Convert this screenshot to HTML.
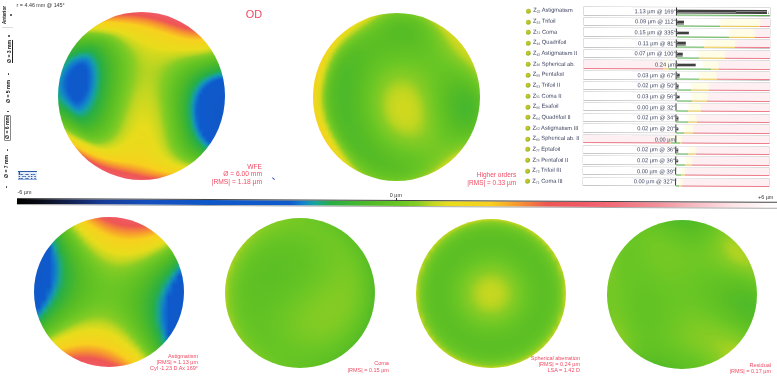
<!DOCTYPE html>
<html><head><meta charset="utf-8"><title>OD wavefront</title>
<style>
html,body{margin:0;padding:0;background:#fff}
body{width:777px;height:376px;position:relative;overflow:hidden;font-family:"Liberation Sans",sans-serif}
.map{position:absolute;border-radius:50%;overflow:hidden}
.map i{display:block;height:1px}
.t{position:absolute;white-space:nowrap;line-height:1}
.lab{position:absolute;text-align:right;color:#f04c64;white-space:nowrap}
.v{position:absolute;white-space:nowrap;font-weight:bold;font-size:5.1px;color:#222;transform-origin:0 0;transform:rotate(-90deg);line-height:1}
.dot{position:absolute;width:1.9px;height:1.9px;border-radius:50%;background:#333}
#tbl{position:absolute;left:0;top:0;width:777px;height:376px;transform-origin:583px 10px;transform:rotate(0.3deg)}
.row{position:absolute;left:0;height:9px}
.ic{position:absolute;left:526px;width:5px;height:5px;border-radius:50%;background:radial-gradient(circle at 40% 40%,#e8c030 0,#a8c028 45%,#78b030 100%)}
.nm{position:absolute;left:533.2px;font-size:5.7px;color:#39405c;white-space:nowrap;line-height:1}
.nm sub{font-size:3.4px;vertical-align:baseline;position:relative;top:.6px}
.bx{position:absolute;left:583.3px;width:187.6px;height:9.6px;border:1px solid #dcdcdc;border-bottom-color:#c6c6c6;border-radius:1.5px;box-sizing:border-box}
.val{position:absolute;font-size:5.7px;color:#3c4460;white-space:nowrap;line-height:1;text-align:right;right:0}
.bar{position:absolute;left:677.3px;height:3.7px;background:repeating-linear-gradient(180deg,#404040 0,#404040 1px,#858585 1px,#858585 1.7px)}
.zl{position:absolute;left:676.3px;width:1px;background:#333}
</style></head><body>
<div class="map" style="left:58.05px;top:11.50px;width:167.20px;height:168.30px"><i style="background:linear-gradient(90deg,#6cc724,#76c924,#81cb24,#98cf23,#b8d521,#cfd81f,#e3db1c,#ebda1c,#eed71d,#f2d51d,#f5d21e,#f8cc1f,#f7b925,#f7a62b,#f69331,#f3813c,#f17145,#ef614e,#ee5655,#ee5757,#ef575a,#ef585c,#ef585d,#ef585f,#ef5960,#f05963,#f05a65,#f05b67,#f05c68,#f05d69,#f05e6a,#f05e6a,#f05e6a,#f05d69,#f05b67,#f05a66,#f05964,#ef5961,#ef585f,#ef585c,#ef5759,#ee5655,#ef604f,#f16f46,#f37f3d,#f58f34,#f69e2d,#f7ad29)"></i><i style="background:linear-gradient(90deg,#69c624,#73c824,#7eca24,#90ce23,#b0d321,#cbd81f,#dfdb1d,#eadb1c,#edd81d,#f1d51d,#f5d31e,#f8cf1e,#f7bb24,#f7a82a,#f69630,#f4833b,#f27244,#f0634d,#ee5654,#ee5757,#ee5758,#ee5758,#ef575a,#ef585b,#ef585d,#ef585f,#f05962,#f05a65,#f05d69,#f05e6a,#f05e6a,#f05e6a,#f05e6a,#f05d69,#f05b67,#f05a65,#f05963,#ef5961,#ef585e,#ef585b,#ee5758,#ee5655,#f0634d,#f27344,#f4833b,#f69332,#f6a22c,#f7b128)"></i><i style="background:linear-gradient(90deg,#68c524,#70c824,#7bca24,#89cc24,#a9d222,#c6d71f,#dbda1d,#e9db1c,#edd81d,#f0d61d,#f4d31d,#f8d01e,#f7be24,#f7aa2a,#f6982f,#f48539,#f27443,#f0644c,#ee5853,#ee5753,#ee5654,#ee5655,#ee5656,#ee5757,#ef5759,#ef585b,#ef585e,#ef5961,#f05a64,#f05d69,#f05e6a,#f05e6a,#f05e6a,#f05d69,#f05b67,#f05a65,#f05963,#ef5960,#ef585e,#ef575b,#ee5757,#ee5753,#f0674b,#f27742,#f48738,#f69730,#f7a62b,#f7b526)"></i><i style="background:linear-gradient(90deg,#66c424,#6dc724,#78c924,#84cc24,#a1d122,#c1d620,#d6d91e,#e9dc1c,#ecd91d,#f0d61d,#f3d31d,#f7d11e,#f7c123,#f7ad29,#f69a2f,#f48738,#f27542,#f0684a,#f0684a,#f0674b,#f0644c,#ef614e,#ef5c50,#ee5654,#ee5656,#ee5758,#ef575a,#ef585d,#ef5961,#f05a64,#f05d69,#f05e6a,#f05e6a,#f05c68,#f05b67,#f05a65,#f05963,#ef5960,#ef585d,#ef575a,#ee5757,#ef5a52,#f16a49,#f37b3f,#f58b36,#f69b2e,#f7ab2a,#f7ba25)"></i><i style="background:linear-gradient(90deg,#65c424,#6ac624,#75c924,#81cb24,#99cf23,#bad520,#d1d91e,#e7dc1c,#ebd91c,#efd71d,#f3d41d,#f6d11e,#f8c422,#f7b028,#f69c2e,#f48937,#f27841,#f27841,#f27741,#f27642,#f27344,#f17046,#f16b48,#f0644c,#ef5d50,#ee5655,#ee5757,#ef575a,#ef585d,#ef5961,#f05a65,#f05e6a,#f05d69,#f05c68,#f05a66,#f05a64,#f05962,#ef595f,#ef585d,#ef5759,#ee5656,#ef5e50,#f16e46,#f37f3d,#f58f34,#f69f2d,#f7af28,#f7be24)"></i><i style="background:linear-gradient(90deg,#63c324,#68c624,#72c824,#7eca24,#91ce23,#b2d421,#cdd81f,#e2db1d,#ebda1c,#eed71d,#f2d41d,#f6d21e,#f8c721,#f7b227,#f69e2d,#f58b36,#f48838,#f48838,#f48639,#f4843a,#f3813c,#f37d3e,#f27841,#f17244,#f16a49,#ef624e,#ee5753,#ee5756,#ef575a,#ef585d,#ef5961,#f05a65,#f05d69,#f05c68,#f05a66,#f05a64,#f05962,#ef585f,#ef585c,#ef5759,#ee5655,#ef614e,#f17244,#f4833b,#f69431,#f6a42c,#f7b327,#f8c322)"></i><i style="background:linear-gradient(90deg,#62c224,#67c524,#6fc724,#7bca24,#89cc24,#aad222,#c8d71f,#deda1d,#eadb1c,#eed81d,#f1d51d,#f5d21e,#f8ca20,#f7b526,#f6a12d,#f6982f,#f6982f,#f69730,#f69531,#f69232,#f58f34,#f58b36,#f48639,#f37f3d,#f27841,#f16f46,#f0654c,#ee5952,#ee5756,#ef575a,#ef585d,#ef5961,#f05a66,#f05c68,#f05a66,#f05a64,#ef5961,#ef585e,#ef585b,#ee5758,#ee5654,#f0654c,#f27642,#f48738,#f6982f,#f7a82a,#f7b826,#f8c721)"></i><i style="background:linear-gradient(90deg,#61c124,#65c424,#6cc724,#77c924,#84cc24,#a2d122,#c3d620,#d9da1e,#e9db1c,#edd81d,#f1d51d,#f5d21e,#f8cd1f,#f7b826,#f7a72b,#f7a72b,#f7a62b,#f6a42c,#f6a22c,#f69f2d,#f69c2e,#f69830,#f69232,#f58c36,#f4843a,#f37c3f,#f17244,#f0664b,#ee5a52,#ee5756,#ef575a,#ef585e,#f05962,#f05a66,#f05a66,#f05963,#ef5961,#ef585e,#ef575b,#ee5757,#ee5853,#f06949,#f37a40,#f58b36,#f69c2e,#f7ac29,#f7bc24,#f8cc1f)"></i><i style="background:linear-gradient(90deg,#5fc124,#64c324,#69c624,#74c824,#81cb24,#99cf23,#bdd520,#d4d91e,#e8dc1c,#ecd91d,#f0d61d,#f4d31e,#f8d01e,#f7bb25,#f7b726,#f7b626,#f7b427,#f7b127,#f7af28,#f7ab29,#f7a72b,#f6a32c,#f69e2e,#f6982f,#f59033,#f48838,#f37e3d,#f27344,#f0674b,#ee5952,#ee5757,#ef575b,#ef585e,#f05963,#f05a65,#f05963,#ef5960,#ef585d,#ef575a,#ee5756,#ef5c51,#f16d47,#f37e3d,#f59033,#f6a12d,#f7b128,#f7c123,#f8d01e)"></i><i style="background:linear-gradient(90deg,#5ec024,#62c224,#67c524,#71c824,#7dca24,#91ce23,#b4d421,#cfd81e,#e6dc1c,#ecd91c,#efd61d,#f3d31d,#f7d01e,#f8c621,#f8c521,#f8c422,#f7c123,#f7be24,#f7bb25,#f7b726,#f7b327,#f7ae28,#f7a92a,#f6a32c,#f69c2e,#f69331,#f58a37,#f37f3d,#f27343,#f0664b,#ee5753,#ee5757,#ef585b,#ef585f,#f05963,#f05963,#ef5960,#ef585d,#ef5759,#ee5656,#ef5f4f,#f17145,#f4833b,#f69431,#f7a52b,#f7b626,#f8c621,#f7d11e)"></i><i style="background:linear-gradient(90deg,#5cbf24,#61c224,#66c424,#6ec724,#7aca24,#88cc24,#acd321,#cad81f,#e1db1d,#ebda1c,#efd71d,#f3d41d,#f7d11e,#f7d11e,#f7d01e,#f8d01e,#f8ce1f,#f8ca20,#f8c621,#f8c222,#f7be24,#f7b925,#f7b327,#f7ad29,#f7a62b,#f69e2d,#f69530,#f58b36,#f37f3d,#f27244,#f0644c,#ee5654,#ee5758,#ef585c,#ef595f,#f05962,#ef595f,#ef585c,#ef5759,#ee5655,#f0634c,#f27543,#f48738,#f6992f,#f7aa2a,#f7ba25,#f8cb20,#f6d11e)"></i><i style="background:linear-gradient(90deg,#5bbe24,#5fc124,#64c424,#6bc624,#77c924,#84cb24,#a3d122,#c5d71f,#dcda1d,#eadb1c,#eed81d,#f2d51d,#f5d31e,#f5d31e,#f5d21e,#f5d21e,#f6d11e,#f7d11e,#f8d01e,#f8cd1f,#f8c820,#f8c322,#f7bd24,#f7b726,#f7b028,#f7a82a,#f6a02d,#f69630,#f58b36,#f37e3d,#f17145,#ef624d,#ee5655,#ee5758,#ef585c,#ef5960,#ef585f,#ef585c,#ee5758,#ee5654,#f0674a,#f27940,#f58c36,#f69d2e,#f7ae28,#f7bf23,#f8d01e,#f5d21e)"></i><i style="background:linear-gradient(90deg,#59be24,#5ec024,#63c324,#68c624,#73c824,#80cb24,#9acf23,#c0d620,#d7d91e,#e9db1c,#edd81d,#f1d51d,#f2d51d,#f2d41d,#f3d41d,#f3d41d,#f4d31d,#f5d21e,#f6d21e,#f7d11e,#f8d01e,#f8cd1f,#f8c721,#f7c023,#f7b925,#f7b227,#f7a92a,#f6a02d,#f69630,#f48a37,#f37d3e,#f16e46,#ef5f4f,#ee5655,#ef5759,#ef585c,#ef585e,#ef585b,#ee5757,#ee5952,#f16b48,#f37e3e,#f59033,#f6a22c,#f7b327,#f8c422,#f7d11e,#f4d31e)"></i><i style="background:linear-gradient(90deg,#58bd25,#5dbf24,#61c224,#67c524,#70c724,#7dca24,#91ce23,#b7d421,#d2d91e,#e8dc1c,#ecd91d,#efd71d,#efd71d,#f0d61d,#f0d61d,#f1d51d,#f2d51d,#f3d41d,#f4d31d,#f5d21e,#f6d21e,#f7d11e,#f8d01e,#f8ca20,#f8c322,#f7bb25,#f7b327,#f7aa2a,#f6a02d,#f69531,#f48838,#f37a40,#f16c48,#ef5d50,#ee5656,#ef5759,#ef585c,#ef575a,#ee5756,#ef5d50,#f17046,#f4823b,#f69530,#f7a72b,#f7b825,#f8c920,#f6d11e,#f3d41d)"></i><i style="background:linear-gradient(90deg,#56bd26,#5bbf24,#60c124,#65c424,#6cc724,#79c924,#88cc24,#aed321,#cdd81f,#e5dc1c,#ecd91c,#edd91d,#edd81d,#edd81d,#eed81d,#efd71d,#f0d61d,#f1d51d,#f2d51d,#f3d41d,#f4d31e,#f5d21e,#f6d11e,#f8d01e,#f8cb1f,#f8c422,#f7bc24,#f7b327,#f7a92a,#f69f2d,#f69332,#f48639,#f27841,#f06a49,#ef5b51,#ee5656,#ef5759,#ef5759,#ee5656,#ef614e,#f27443,#f48738,#f69a2f,#f7ac29,#f7bd24,#f8ce1e,#f5d21e,#f2d41d)"></i><i style="background:linear-gradient(90deg,#54bc27,#5abe24,#5ec024,#63c324,#69c624,#76c924,#83cb24,#a5d122,#c7d71f,#e0db1d,#eada1c,#eada1c,#eada1c,#ebda1c,#ecd91c,#edd81d,#eed81d,#efd71d,#f0d61d,#f1d51d,#f2d41d,#f4d31d,#f5d21e,#f6d11e,#f7d01e,#f8cc1f,#f8c422,#f7bc24,#f7b227,#f7a82a,#f69d2e,#f59133,#f4843a,#f27642,#f0684a,#ef5a52,#ee5656,#ee5758,#ee5655,#f0664b,#f27940,#f58c36,#f69f2d,#f7b128,#f8c222,#f7d11e,#f4d31e,#f1d51d)"></i><i style="background:linear-gradient(90deg,#53bc27,#58bd25,#5dbf24,#62c224,#67c524,#72c824,#80cb24,#9bd023,#c2d620,#dbda1d,#e6dc1c,#e5dc1c,#e8dc1c,#e9db1c,#eadb1c,#ebda1c,#ecd91c,#edd81d,#eed71d,#f0d61d,#f1d51d,#f2d41d,#f3d31d,#f5d21e,#f6d21e,#f7d11e,#f8cc1f,#f8c422,#f7bb25,#f7b128,#f7a72b,#f69b2e,#f58f34,#f3813c,#f27443,#f0674a,#ef5b51,#ee5655,#ee5753,#f06a49,#f37d3e,#f59133,#f6a42c,#f7b626,#f8c821,#f6d11e,#f3d31d,#f0d61d)"></i><i style="background:linear-gradient(90deg,#51bb28,#56bd26,#5bbf24,#60c124,#66c424,#6fc724,#7cca24,#92ce23,#bad520,#d5d91e,#d6d91e,#d6d91e,#dada1d,#dfdb1d,#e6dc1c,#e9db1c,#eada1c,#ebd91c,#edd81d,#eed71d,#efd61d,#f1d51d,#f2d41d,#f3d31d,#f5d31e,#f6d21e,#f7d11e,#f8cc1f,#f8c322,#f7ba25,#f7b028,#f7a52b,#f6992f,#f58d35,#f3803c,#f27443,#f0684a,#ef5e4f,#ef5b51,#f16e46,#f4823b,#f69630,#f7a92a,#f7bb24,#f8cd1f,#f5d21e,#f2d41d,#efd61d)"></i><i style="background:linear-gradient(90deg,#4fba29,#54bc27,#5abe24,#5fc024,#64c324,#6bc624,#78c924,#88cc24,#b0d321,#c9d71f,#c6d71f,#c7d71f,#ccd81f,#d2d91e,#d9da1d,#e1db1d,#e8dc1c,#eadb1c,#ebda1c,#edd91d,#eed71d,#efd61d,#f1d51d,#f2d41d,#f3d41d,#f5d31e,#f6d21e,#f7d01e,#f8cb1f,#f8c222,#f7b825,#f7ae29,#f6a32c,#f69830,#f58b36,#f3803d,#f27543,#f16b48,#f0644c,#f27344,#f48738,#f69b2e,#f7ae29,#f7c123,#f8d01e,#f4d31e,#f1d51d,#eed71d)"></i><i style="background:linear-gradient(90deg,#4eba29,#52bb27,#58bd25,#5dc024,#62c224,#68c624,#75c824,#83cb24,#a6d222,#b3d421,#b0d321,#b4d421,#bdd620,#c5d720,#ccd81f,#d5d91e,#dedb1d,#e8dc1c,#eadb1c,#ebda1c,#edd81d,#eed71d,#f0d61d,#f1d51d,#f2d41d,#f3d31d,#f5d21e,#f6d11e,#f8d01e,#f8ca20,#f7c123,#f7b726,#f7ac29,#f6a12c,#f69630,#f58b36,#f3813c,#f27841,#f17145,#f27841,#f58c35,#f6a02d,#f7b327,#f8c621,#f7d11e,#f3d31d,#f0d61d,#edd81d)"></i><i style="background:linear-gradient(90deg,#4cb92a,#51bb28,#56bd26,#5bbf24,#61c224,#66c524,#71c824,#7fcb24,#9cd022,#98cf23,#97cf23,#9dd022,#a7d222,#b2d421,#c0d620,#c9d71f,#d4d91e,#dedb1d,#e8dc1c,#eadb1c,#ebd91c,#edd81d,#eed71d,#f0d61d,#f1d51d,#f2d41d,#f3d31d,#f5d21e,#f6d11e,#f8d01e,#f8c920,#f7bf23,#f7b526,#f7ab29,#f6a12d,#f69630,#f58c35,#f4843a,#f37d3e,#f37d3e,#f59232,#f7a62b,#f7b925,#f8cc1f,#f5d21e,#f2d41d,#efd71d,#ecd91d)"></i><i style="background:linear-gradient(90deg,#4ab92b,#4fba29,#54bc27,#5abe24,#5fc124,#65c424,#6dc724,#7bca24,#87cc24,#83cb24,#83cb24,#86cc24,#90ce23,#9dd022,#acd321,#bdd520,#c9d71f,#d5d91e,#e0db1d,#e9dc1c,#eada1c,#ecd91c,#edd81d,#efd71d,#f0d61d,#f1d51d,#f2d41d,#f4d31d,#f5d21e,#f6d11e,#f8d01e,#f8c821,#f7be24,#f7b427,#f7aa2a,#f6a12d,#f6982f,#f59034,#f48a37,#f48639,#f69730,#f7ab29,#f7be23,#f8d01e,#f4d31e,#f1d51d,#eed71d,#ebda1c)"></i><i style="background:linear-gradient(90deg,#49b82c,#4dba2a,#52bb27,#58bd25,#5dc024,#63c324,#69c624,#77c924,#7cca24,#79c924,#7aca24,#7dca24,#81cb24,#88cc24,#98cf23,#abd221,#bfd620,#ccd81f,#d8da1e,#e4db1c,#e9db1c,#ebda1c,#ecd91d,#edd81d,#efd71d,#f0d61d,#f1d51d,#f3d41d,#f4d31d,#f5d21e,#f7d11e,#f8cf1e,#f8c621,#f7bd24,#f7b427,#f7ab2a,#f6a22c,#f69b2e,#f69530,#f69232,#f69c2e,#f7b128,#f8c422,#f7d11e,#f3d31d,#f0d61d,#edd81d,#eada1c)"></i><i style="background:linear-gradient(90deg,#47b82d,#4cb92a,#50bb28,#56bd26,#5cbf24,#61c224,#67c524,#73c824,#72c824,#70c724,#71c824,#75c824,#79c924,#7fcb24,#86cc24,#99cf23,#afd321,#c3d620,#d0d81e,#dcda1d,#e8dc1c,#eadb1c,#ebda1c,#ecd91d,#eed81d,#efd71d,#f0d61d,#f1d51d,#f3d41d,#f4d31d,#f5d21e,#f7d11e,#f8cf1e,#f8c621,#f7bd24,#f7b527,#f7ad29,#f7a62b,#f6a02d,#f69e2e,#f6a22c,#f7b626,#f8ca20,#f6d21e,#f2d41d,#efd71d,#ecd91c,#e9db1c)"></i><i style="background:linear-gradient(90deg,#45b72e,#4ab92b,#4fba29,#54bc27,#5abe24,#5fc124,#65c424,#6ec724,#68c624,#68c524,#69c624,#6cc724,#71c824,#77c924,#7eca24,#88cc24,#a0d022,#b8d521,#c9d71f,#d6d91e,#e1db1d,#e9dc1c,#eada1c,#ecd91c,#edd81d,#eed71d,#efd71d,#f0d61d,#f2d51d,#f3d41d,#f4d31e,#f5d21e,#f7d11e,#f8ce1f,#f8c621,#f7be24,#f7b726,#f7b028,#f7ab29,#f7a92a,#f7a92a,#f7bc24,#f8d01e,#f4d31e,#f1d51d,#eed81d,#ebda1c,#e8dc1c)"></i><i style="background:linear-gradient(90deg,#43b72f,#48b82c,#4dba2a,#52bb28,#58bd25,#5ec024,#64c324,#66c524,#64c324,#64c324,#65c424,#67c524,#69c624,#6fc724,#78c924,#81cb24,#92ce23,#abd221,#c2d620,#cfd81f,#dbda1d,#e6dc1c,#e9db1c,#ebda1c,#ecd91c,#edd81d,#eed71d,#efd61d,#f1d61d,#f2d51d,#f3d41d,#f4d31e,#f5d21e,#f7d11e,#f8cf1e,#f8c721,#f7c023,#f7ba25,#f7b626,#f7b327,#f7b427,#f8c222,#f7d11e,#f3d31d,#f0d61d,#edd81d,#eadb1c,#e0db1d)"></i><i style="background:linear-gradient(90deg,#42b631,#46b72d,#4bb92b,#50bb28,#56bd26,#5cbf24,#62c224,#62c224,#60c124,#60c124,#61c224,#63c324,#65c424,#69c624,#71c824,#7bca24,#85cc24,#9fd022,#b8d521,#c9d71f,#d5d91e,#e0db1d,#e8dc1c,#eadb1c,#ebda1c,#ecd91d,#edd81d,#eed71d,#f0d61d,#f1d61d,#f2d51d,#f3d41d,#f4d31e,#f5d21e,#f7d11e,#f8d01e,#f8ca20,#f8c422,#f7c023,#f7be24,#f7be23,#f8c820,#f6d21e,#f2d41d,#efd71d,#ecd91c,#e9dc1c,#d9da1d)"></i><i style="background:linear-gradient(90deg,#40b532,#44b72f,#49b82b,#4eba29,#54bc27,#5abe24,#60c124,#5dc024,#5bbf24,#5cbf24,#5dc024,#5fc124,#62c224,#65c424,#6bc624,#75c924,#81cb24,#93ce23,#add321,#c3d620,#cfd81e,#dbda1d,#e5dc1c,#e9db1c,#eada1c,#ebd91c,#edd91d,#eed81d,#efd71d,#f0d61d,#f1d51d,#f2d51d,#f3d41d,#f4d31e,#f5d21e,#f6d11e,#f7d01e,#f8ce1f,#f8ca20,#f8c820,#f8c920,#f8cf1e,#f5d31e,#f1d51d,#eed81d,#eada1c,#e4db1c,#d2d91e)"></i><i style="background:linear-gradient(90deg,#3eb533,#43b630,#47b82c,#4cb92a,#52bb28,#58bd25,#5cbf24,#58bd25,#57bd25,#57bd25,#59be25,#5bbf24,#5ec024,#62c224,#67c524,#70c824,#7cca24,#88cc24,#a3d122,#bbd520,#cad71f,#d6d91e,#e0db1d,#e8dc1c,#eadb1c,#ebda1c,#ecd91c,#edd81d,#eed81d,#efd71d,#f0d61d,#f1d61d,#f2d51d,#f3d41d,#f4d31d,#f5d21e,#f6d21e,#f7d11e,#f7d11e,#f8d01e,#f7d01e,#f7d11e,#f3d31d,#f0d61d,#ecd91d,#e9db1c,#ddda1d,#cad81f)"></i><i style="background:linear-gradient(90deg,#3db435,#41b631,#45b72e,#4ab92b,#50bb29,#56bd26,#57bd25,#53bc27,#52bb28,#53bc27,#54bc27,#57bd25,#5bbe24,#5fc124,#64c424,#6cc724,#77c924,#83cb24,#99cf23,#b2d421,#c5d720,#d1d91e,#dbda1d,#e5dc1c,#e9db1c,#eadb1c,#ebda1c,#ecd91c,#edd81d,#eed81d,#efd71d,#f0d61d,#f1d61d,#f1d51d,#f2d41d,#f3d31d,#f4d31e,#f5d21e,#f5d21e,#f6d21e,#f6d21e,#f5d21e,#f2d41d,#efd71d,#ebda1c,#e8dc1c,#d5d91e,#c3d620)"></i><i style="background:linear-gradient(90deg,#3bb436,#3fb533,#43b72f,#49b82c,#4eba29,#54bc27,#52bb27,#4eba29,#4eba29,#4eba29,#50bb29,#53bc27,#57bd25,#5cbf24,#62c224,#68c524,#73c824,#7fcb24,#8fce23,#a9d222,#c0d620,#ccd81f,#d7d91e,#e0db1d,#e8dc1c,#e9db1c,#eada1c,#ebda1c,#ecd91d,#edd81d,#eed81d,#efd71d,#efd61d,#f0d61d,#f1d51d,#f2d51d,#f3d41d,#f3d41d,#f4d31d,#f4d31d,#f4d31d,#f3d41d,#f1d51d,#edd81d,#eadb1c,#e0db1d,#cdd81f,#b7d521)"></i><i style="background:linear-gradient(90deg,#39b337,#3db534,#42b631,#47b82d,#4cb92a,#51bb28,#4dba2a,#4ab92b,#49b82b,#4ab92b,#4cb92a,#4fba29,#53bc27,#5abe24,#60c124,#66c424,#6fc724,#7bca24,#87cc24,#a1d122,#b8d521,#c8d71f,#d3d91e,#dcda1d,#e5db1c,#e9dc1c,#eadb1c,#eada1c,#ebda1c,#ecd91d,#edd81d,#eed81d,#eed71d,#efd71d,#f0d61d,#f0d61d,#f1d51d,#f2d51d,#f2d41d,#f2d41d,#f2d51d,#f1d51d,#f0d61d,#ecd91d,#e9db1c,#d8da1e,#c5d71f,#aad222)"></i><i style="background:linear-gradient(90deg,#38b338,#3bb435,#40b532,#44b72f,#4ab92b,#4fba29,#48b82c,#45b72e,#45b72f,#45b72e,#47b82d,#4bb92b,#50bb28,#57bd25,#5ec024,#64c324,#6bc624,#78c924,#83cb24,#99cf23,#b1d321,#c4d720,#cfd81f,#d8da1e,#e1db1d,#e8dc1c,#e9db1c,#eadb1c,#ebda1c,#ebda1c,#ecd91c,#edd91d,#edd81d,#eed81d,#eed71d,#efd71d,#f0d61d,#f0d61d,#f0d61d,#f0d61d,#f0d61d,#efd61d,#eed71d,#ebda1c,#e4db1c,#d0d81e,#bbd520,#9cd022)"></i><i style="background:linear-gradient(90deg,#36b23a,#3ab437,#3eb534,#42b630,#48b82c,#49b82b,#43b630,#40b632,#40b532,#41b632,#43b630,#47b82d,#4dba2a,#54bc27,#5cbf24,#62c224,#68c624,#74c824,#80cb24,#92ce23,#aad221,#c0d620,#cbd81f,#d5d91e,#ddda1d,#e4db1c,#e8dc1c,#e9db1c,#eadb1c,#eada1c,#ebda1c,#ecd91c,#ecd91d,#edd91d,#edd81d,#eed81d,#eed71d,#eed71d,#efd71d,#efd71d,#eed71d,#eed81d,#ecd91d,#e9db1c,#dcda1d,#c8d71f,#add321,#8fcd23)"></i><i style="background:linear-gradient(90deg,#34b23b,#38b338,#3cb435,#40b632,#46b72e,#44b72f,#3eb533,#3cb435,#3bb435,#3cb435,#3fb533,#43b730,#4ab92b,#52bb28,#5abe24,#60c124,#67c524,#71c824,#7dca24,#8bcd24,#a4d122,#bad520,#c8d71f,#d1d91e,#dada1d,#e0db1d,#e6dc1c,#e8dc1c,#e9db1c,#eadb1c,#eada1c,#ebda1c,#ebda1c,#ecd91c,#ecd91c,#ecd91d,#edd81d,#edd81d,#edd81d,#edd81d,#edd91d,#ecd91c,#ebda1c,#e8dc1c,#d4d91e,#c0d620,#9fd022,#84cc24)"></i><i style="background:linear-gradient(90deg,#33b13c,#36b239,#3ab436,#3eb533,#43b72f,#3fb533,#3ab437,#38b338,#37b339,#38b338,#3ab436,#40b532,#47b82d,#4fba29,#57bd25,#5fc024,#65c424,#6ec724,#7aca24,#85cc24,#9ed022,#b4d421,#c4d720,#ced81f,#d6d91e,#ddda1d,#e3db1d,#e7dc1c,#e8dc1c,#e9db1c,#e9db1c,#eadb1c,#eada1c,#eada1c,#ebda1c,#ebda1c,#ebda1c,#ebd91c,#ebd91c,#ebda1c,#ebda1c,#eada1c,#e9db1c,#e0db1d,#cbd81f,#b1d321,#91ce23,#7eca24)"></i><i style="background:linear-gradient(90deg,#31b13d,#35b23b,#38b338,#3db435,#41b631,#3ab436,#35b23a,#33b23c,#32b13c,#33b23b,#37b339,#3cb435,#44b72f,#4dba2a,#55bc26,#5dc024,#64c324,#6bc624,#78c924,#83cb24,#98cf23,#afd321,#c1d620,#cbd81f,#d3d91e,#dada1d,#dfdb1d,#e4db1c,#e7dc1c,#e8dc1c,#e9dc1c,#e9db1c,#e9db1c,#e9db1c,#eadb1c,#eadb1c,#eadb1c,#eadb1c,#eadb1c,#eadb1c,#e9db1c,#e8dc1c,#e3db1c,#d7da1e,#c2d620,#a2d122,#85cc24,#79c924)"></i><i style="background:linear-gradient(90deg,#30b03e,#33b13c,#37b339,#3bb436,#3eb533,#36b23a,#31b13d,#2fb03f,#2eb03f,#2fb03f,#33b13c,#39b337,#42b631,#4bb92b,#53bc27,#5bbf24,#62c224,#69c624,#75c924,#81cb24,#93ce23,#aad222,#bed620,#c8d71f,#d1d81e,#d7d91e,#dcda1d,#e0db1d,#e3db1c,#e6dc1c,#e7dc1c,#e8dc1c,#e8dc1c,#e8dc1c,#e8dc1c,#e8dc1c,#e9dc1c,#e8dc1c,#e8dc1c,#e8dc1c,#e5db1c,#e0db1d,#d8da1e,#ced81f,#b5d421,#93ce23,#7fcb24,#73c824)"></i><i style="background:linear-gradient(90deg,#2eb03f,#31b13d,#35b23a,#39b337,#39b337,#31b13d,#2db040,#2baf42,#2aaf42,#2baf41,#2fb03e,#37b339,#3fb532,#49b82c,#51bb28,#5abe24,#61c224,#68c524,#73c824,#7fca24,#8ecd23,#a5d122,#b9d520,#c6d71f,#ced81f,#d4d91e,#d9da1d,#ddda1d,#e0db1d,#e2db1d,#e3db1d,#e4db1c,#e4db1c,#e4db1c,#e4db1c,#e3db1c,#e3db1d,#e2db1d,#e0db1d,#ddda1d,#dada1d,#d4d91e,#cdd81f,#c3d620,#a6d122,#85cc24,#79c924,#6dc724)"></i><i style="background:linear-gradient(90deg,#2db040,#30b03e,#33b13c,#37b339,#35b23b,#2db040,#29ae43,#27ad4a,#26ad4e,#28ae46,#2caf41,#34b23b,#3db534,#47b82d,#50bb29,#58bd25,#60c124,#67c524,#71c824,#7dca24,#89cd24,#a1d122,#b5d421,#c3d720,#cbd81f,#d2d91e,#d7d91e,#dada1d,#dcda1d,#deda1d,#dfdb1d,#dfdb1d,#dedb1d,#deda1d,#ddda1d,#dcda1d,#dada1d,#d8da1e,#d6d91e,#d3d91e,#cfd81f,#c9d71f,#c2d620,#b3d421,#96cf23,#7fcb24,#73c824,#68c624)"></i><i style="background:linear-gradient(90deg,#2baf41,#2eb03f,#31b13d,#35b23a,#30b13e,#29ae43,#25ac53,#23ab5f,#22ab63,#24ac58,#29ae43,#32b13d,#3bb436,#45b72e,#4eba29,#57bd25,#5fc124,#66c424,#6fc724,#7bca24,#86cc24,#9dd022,#b1d321,#c1d620,#c9d71f,#cfd81e,#d4d91e,#d7d91e,#d9da1d,#dada1d,#dada1d,#dada1d,#d9da1e,#d8da1e,#d6d91e,#d4d91e,#d2d91e,#d0d81e,#cdd81f,#c9d71f,#c4d720,#bdd620,#b0d321,#a0d022,#86cc24,#79c924,#6dc724,#66c424)"></i><i style="background:linear-gradient(90deg,#2aaf42,#2daf40,#30b03e,#33b23c,#2caf41,#25ac54,#21aa67,#1fa973,#1ea976,#21aa6a,#27ad4b,#2fb03f,#39b337,#43b630,#4dba2a,#56bd26,#5ec024,#65c424,#6dc724,#79c924,#84cc24,#99cf23,#add321,#bed620,#c7d71f,#cdd81f,#d1d91e,#d4d91e,#d6d91e,#d7d91e,#d6d91e,#d5d91e,#d4d91e,#d2d91e,#cfd81e,#cdd81f,#cad71f,#c7d71f,#c3d620,#bed620,#b5d421,#abd221,#9ed022,#8dcd23,#80cb24,#73c824,#68c624,#63c324)"></i><i style="background:linear-gradient(90deg,#29ae43,#2baf42,#2eb03f,#31b13d,#28ae45,#21aa67,#1da87a,#1ba787,#1ba789,#1da87a,#24ac58,#2db040,#37b339,#41b631,#4bb92b,#54bc27,#5dbf24,#64c324,#6bc724,#78c924,#83cb24,#96cf23,#aad222,#bbd520,#c5d71f,#cbd81f,#cfd81e,#d2d91e,#d3d91e,#d3d91e,#d2d91e,#d1d91e,#cfd81f,#ccd81f,#c9d71f,#c6d71f,#c2d620,#bcd520,#b5d421,#add321,#a3d122,#98cf23,#8bcd24,#81cb24,#79c924,#6dc724,#65c424,#60c124)"></i><i style="background:linear-gradient(90deg,#27ae47,#2aaf43,#2daf41,#2eb03f,#24ac59,#1ea879,#1aa68d,#17a59a,#17a59b,#1aa689,#22ab63,#2baf42,#35b23a,#3fb532,#4ab92b,#53bc27,#5cbf24,#63c324,#6ac624,#76c924,#81cb24,#93ce23,#a7d222,#b8d521,#c3d620,#c9d71f,#cdd81f,#cfd81e,#d0d81e,#d0d81e,#cfd81f,#cdd81f,#cad71f,#c6d71f,#c3d620,#bdd620,#b6d421,#aed321,#a5d122,#9cd023,#91ce23,#86cc24,#80cb24,#7aca24,#73c824,#68c524,#62c224,#5dc024)"></i><i style="background:linear-gradient(90deg,#26ad4e,#28ae44,#2baf42,#2aaf42,#20aa6c,#1aa68b,#16a49f,#159da8,#159ea8,#18a597,#20a96e,#29ae43,#33b23c,#3eb534,#48b82c,#52bb28,#5bbe24,#62c224,#69c624,#75c824,#80cb24,#90ce23,#a4d122,#b5d421,#c2d620,#c7d71f,#cbd81f,#cdd81f,#ced81f,#cdd81f,#cbd81f,#c8d71f,#c5d720,#c1d620,#bad520,#b1d321,#a9d222,#9fd022,#95cf23,#8bcd24,#83cb24,#7eca24,#79c924,#73c824,#6bc624,#65c424,#5fc124,#5abe24)"></i><i style="background:linear-gradient(90deg,#25ac55,#27ad49,#2aae43,#26ad4c,#1da87f,#17a59b,#159bac,#1494b4,#1496b3,#16a2a2,#1ea878,#28ae47,#32b13d,#3cb435,#47b82d,#51bb28,#5abe24,#61c224,#68c624,#74c824,#7fcb24,#8dcd24,#a2d122,#b3d421,#c0d620,#c6d71f,#c9d71f,#cbd81f,#cbd81f,#cad71f,#c8d71f,#c4d720,#c0d620,#b8d521,#afd321,#a6d122,#9bd023,#91ce23,#86cc24,#81cb24,#7cca24,#77c924,#72c824,#6bc624,#67c524,#62c224,#5cbf24,#56bd26)"></i><i style="background:linear-gradient(90deg,#24ac5b,#26ad50,#28ae44,#23ab60,#19a690,#159ea8,#1492b7,#138bc0,#138ebd,#159caa,#1ca782,#26ad4f,#30b13e,#3bb436,#46b72d,#50bb28,#59be24,#61c224,#68c524,#73c824,#7eca24,#8bcd24,#a0d022,#b1d321,#bed620,#c4d720,#c7d71f,#c9d71f,#c9d71f,#c7d71f,#c4d720,#c0d620,#b9d521,#afd321,#a5d122,#9acf23,#8fcd23,#85cc24,#80cb24,#7bca24,#76c924,#70c724,#6ac624,#66c524,#63c324,#5ec024,#59be25,#53bc27)"></i><i style="background:linear-gradient(90deg,#22ab61,#24ac57,#27ad4b,#1fa972,#16a4a0,#1495b3,#1389c3,#1283cb,#1387c6,#1497b1,#1aa68b,#24ac57,#2fb03f,#3ab437,#45b72e,#4fba29,#58bd25,#60c124,#67c524,#72c824,#7dca24,#89cc24,#9ed022,#afd321,#bbd520,#c3d620,#c6d71f,#c7d71f,#c6d71f,#c4d720,#c1d620,#bad520,#b1d321,#a7d222,#9bd023,#8fce23,#84cc24,#7fcb24,#7aca24,#74c824,#6fc724,#69c624,#66c424,#63c324,#5fc124,#5bbf24,#55bc26,#4fba29)"></i><i style="background:linear-gradient(90deg,#21aa67,#23ab5e,#25ac52,#1ca783,#159cab,#138dbe,#1281cc,#117bcc,#1280cc,#1492b7,#18a593,#23ab5f,#2eb040,#39b337,#44b72f,#4eba29,#58bd25,#60c124,#67c524,#71c824,#7cca24,#87cc24,#9cd022,#add321,#b9d520,#c1d620,#c4d720,#c5d71f,#c4d720,#c2d620,#bdd520,#b4d421,#aad222,#9ed022,#91ce23,#85cc24,#80cb24,#7ac924,#74c824,#6ec724,#69c624,#66c424,#62c224,#5fc124,#5cbf24,#58bd25,#51bb28,#4cb92a)"></i><i style="background:linear-gradient(90deg,#20aa6d,#22ab64,#24ac5a,#18a594,#1494b5,#1285c8,#1178cc,#1073cc,#1179cc,#138dbd,#17a59b,#21aa66,#2caf41,#38b338,#43b630,#4dba2a,#57bd25,#5fc124,#66c424,#70c724,#7cca24,#86cc24,#9ad023,#abd221,#b8d521,#c0d620,#c3d620,#c4d720,#c2d620,#bfd620,#b8d521,#aed321,#a3d122,#96cf23,#88cc24,#81cb24,#7bca24,#75c824,#6ec724,#68c624,#65c424,#62c224,#5fc124,#5cbf24,#58bd25,#54bc27,#4eba2a,#48b82c)"></i><i style="background:linear-gradient(90deg,#1fa973,#21aa6a,#22ab64,#16a2a2,#138dbe,#127dcc,#1070cc,#106bcc,#1174cc,#1389c3,#16a3a1,#20aa6c,#2baf41,#37b339,#42b630,#4dba2a,#57bd26,#5fc124,#66c424,#70c724,#7bca24,#85cc24,#99cf23,#aad222,#b6d421,#bed620,#c2d620,#c2d620,#c0d620,#bbd520,#b3d421,#a8d222,#9cd023,#8ecd23,#83cb24,#7dca24,#76c924,#6fc724,#69c624,#65c424,#62c224,#5fc124,#5bbf24,#58bd25,#54bc27,#50bb29,#4ab92b,#44b72f)"></i><i style="background:linear-gradient(90deg,#1ea878,#1fa970,#1ea975,#159bac,#1286c7,#1175cc,#0f68cc,#0f64cc,#106fcc,#1285c8,#159fa6,#1fa972,#2aaf42,#36b23a,#41b631,#4cb92a,#56bd26,#5ec024,#65c424,#6fc724,#7bca24,#85cc24,#98cf23,#a8d222,#b5d421,#bdd520,#c0d620,#c1d620,#bed620,#b7d421,#aed321,#a3d122,#95cf23,#86cc24,#7fcb24,#79c924,#72c824,#6ac624,#66c424,#62c324,#5fc124,#5bbf24,#57bd25,#53bc27,#4fba29,#4bb92b,#46b72e,#40b532)"></i><i style="background:linear-gradient(90deg,#1da87d,#1ea976,#1ba784,#1493b6,#1280cc,#106ecc,#0f61cc,#0e5ecc,#106acc,#1282cc,#159caa,#1ea877,#2aae43,#35b23a,#41b631,#4cb92a,#56bd26,#5ec024,#65c424,#6fc724,#7aca24,#84cc24,#97cf23,#a7d222,#b4d421,#bbd520,#bfd620,#bfd620,#bbd520,#b4d421,#aad222,#9dd022,#8ecd23,#83cb24,#7cca24,#75c824,#6dc724,#67c524,#63c324,#60c124,#5cbf24,#58bd25,#53bc27,#4fba29,#4bb92b,#47b82d,#41b631,#3bb435)"></i><i style="background:linear-gradient(90deg,#1ca782,#1da87c,#19a593,#138dbe,#1179cc,#0f67cc,#0e5acc,#0e5acc,#0f66cc,#127ecc,#1599ae,#1da87c,#29ae43,#34b23b,#40b632,#4bb92b,#55bc26,#5ec024,#65c424,#6ec724,#7aca24,#84cc24,#96cf23,#a7d222,#b3d421,#bad520,#bdd620,#bcd520,#b8d521,#b0d321,#a5d122,#98cf23,#88cc24,#80cb24,#79c924,#71c824,#69c624,#65c424,#61c224,#5dbf24,#58bd25,#54bc27,#4fba29,#4bb92b,#46b82d,#42b630,#3db534,#37b339)"></i><i style="background:linear-gradient(90deg,#1ba787,#1ca781,#16a3a1,#1386c6,#1073cc,#0f60cc,#0e5acc,#0e5acc,#0f63cc,#117bcc,#1497b1,#1ca780,#28ae44,#34b23b,#40b532,#4bb92b,#55bc26,#5ec024,#65c424,#6ec724,#7ac924,#84cc24,#96cf23,#a6d222,#b2d421,#b9d520,#bcd520,#bad520,#b5d421,#add321,#a1d122,#93ce23,#84cc24,#7dca24,#75c924,#6dc724,#67c524,#62c224,#5ec024,#5abe24,#55bc26,#50bb29,#4bb92b,#46b72d,#42b631,#3db534,#39b338,#33b13c)"></i><i style="background:linear-gradient(90deg,#1aa68c,#1ba786,#159daa,#1280cc,#106dcc,#0e5acc,#0e5acc,#0e5acc,#0f60cc,#1178cc,#1494b4,#1ba784,#27ae47,#33b23c,#3fb533,#4ab92b,#55bc26,#5dc024,#65c424,#6ec724,#7ac924,#84cc24,#95cf23,#a5d122,#b1d321,#b8d521,#bad520,#b9d521,#b3d421,#aad222,#9dd022,#8ecd23,#82cb24,#7aca24,#72c824,#69c624,#65c424,#60c124,#5cbf24,#56bd26,#51bb28,#4cb92a,#47b82d,#42b631,#3db534,#39b338,#34b23b,#2fb03f)"></i><i style="background:linear-gradient(90deg,#19a690,#1aa68b,#1496b2,#117bcc,#0f67cc,#0e5acc,#0e5acc,#0e5acc,#0e5dcc,#1176cc,#1492b7,#1ba787,#27ad4a,#33b13c,#3fb533,#4ab92b,#54bc27,#5dc024,#65c424,#6dc724,#79c924,#84cb24,#95cf23,#a5d122,#b1d321,#b7d421,#b9d520,#b7d421,#b1d321,#a7d222,#9acf23,#89cd24,#80cb24,#78c924,#6fc724,#67c524,#63c324,#5ec024,#59be25,#53bc27,#4dba2a,#48b82c,#42b630,#3db534,#38b338,#34b23b,#30b03e,#2aaf42)"></i><i style="background:linear-gradient(90deg,#18a594,#19a68f,#1490ba,#1176cc,#0f61cc,#0e5acc,#0e5acc,#0e5acc,#0e5acc,#1174cc,#1491b9,#1aa68a,#26ad4d,#32b13c,#3eb533,#4ab92b,#54bc27,#5dc024,#64c424,#6dc724,#79c924,#84cb24,#95cf23,#a5d122,#b0d321,#b7d421,#b8d521,#b6d421,#afd321,#a4d122,#96cf23,#86cc24,#7eca24,#75c924,#6cc724,#66c424,#61c224,#5cbf24,#56bd26,#50bb29,#4ab92b,#44b72f,#3eb534,#38b338,#33b23b,#2fb03f,#2baf42,#26ad4e)"></i><i style="background:linear-gradient(90deg,#18a598,#18a593,#138bc1,#1071cc,#0e5ccc,#0e5acc,#0e5acc,#0e5acc,#0e5acc,#1072cc,#148fbb,#1aa68d,#26ad4f,#32b13c,#3eb533,#4ab92b,#54bc27,#5dc024,#64c424,#6dc724,#79c924,#84cb24,#95cf23,#a5d122,#b0d321,#b6d421,#b7d521,#b4d421,#add321,#a1d122,#93ce23,#84cc24,#7cca24,#73c824,#69c624,#64c324,#5fc124,#59be24,#53bc27,#4dba2a,#46b72d,#40b532,#39b337,#34b23b,#2fb03f,#2aaf42,#27ad4b,#22aa65)"></i><i style="background:linear-gradient(90deg,#17a59b,#18a597,#1286c7,#106dcc,#0e5acc,#0e5acc,#0e5acc,#0e5acc,#0e5acc,#1070cc,#138ebd,#19a68f,#26ad50,#32b13d,#3eb534,#4ab92b,#54bc27,#5dc024,#64c424,#6dc724,#79c924,#84cc24,#95cf23,#a5d122,#b0d321,#b6d421,#b7d421,#b3d421,#abd221,#9fd022,#8fce23,#82cb24,#7ac924,#70c724,#67c524,#62c224,#5dbf24,#57bd25,#50bb28,#49b82b,#42b630,#3bb435,#35b23a,#2fb03f,#2aaf43,#25ad51,#22ab63,#1da87c)"></i><i style="background:linear-gradient(90deg,#16a49f,#16a49f,#1281cc,#0f69cc,#0e5acc,#0e5acc,#0e5acb,#0e5acc,#0e5acc,#106fcc,#138dbe,#19a691,#25ac52,#32b13d,#3eb534,#4ab92b,#54bc27,#5dc024,#64c424,#6dc724,#7ac924,#84cc24,#95cf23,#a5d122,#b0d321,#b6d421,#b6d421,#b2d421,#a9d222,#9dd022,#8ccd24,#81cb24,#78c924,#6ec724,#66c424,#61c224,#5bbf24,#54bc27,#4dba2a,#46b72d,#3fb533,#37b338,#31b13d,#2baf42,#25ac53,#21aa6a,#1da87c,#19a593)"></i><i style="background:linear-gradient(90deg,#16a3a1,#159fa6,#117dcc,#0f65cc,#0e5acc,#0e5acc,#0e5acb,#0e5acc,#0e5acc,#106ecc,#138cc0,#19a692,#25ac53,#31b13d,#3eb534,#4ab92b,#54bc27,#5dc024,#65c424,#6ec724,#7ac924,#84cc24,#96cf23,#a6d122,#b0d321,#b5d421,#b6d421,#b1d321,#a8d222,#9bd023,#89cd24,#7fcb24,#76c924,#6bc724,#65c424,#5fc124,#59be24,#52bb28,#4ab92b,#43b630,#3bb436,#33b23b,#2caf41,#26ad4e,#20aa6b,#1ca783,#18a594,#159fa7)"></i><i style="background:linear-gradient(90deg,#16a2a3,#159aac,#1179cc,#0f62cc,#0e5acc,#0e5acb,#0e5acb,#0e5acc,#0e5acc,#106dcc,#138bc0,#19a593,#25ac53,#31b13d,#3eb534,#4ab92b,#54bc27,#5dc024,#65c424,#6ec724,#7aca24,#84cc24,#97cf23,#a6d222,#b0d321,#b6d421,#b5d421,#b0d321,#a7d222,#99cf23,#87cc24,#7eca24,#74c824,#69c624,#64c324,#5ec024,#57bd25,#4fba29,#48b82c,#3fb532,#37b339,#2fb03e,#28ae44,#21aa65,#1ca783,#17a49c,#159da9,#1492b7)"></i><i style="background:linear-gradient(90deg,#16a0a5,#1496b2,#1175cc,#0e5ecc,#0e5acc,#0e5acb,#0e5acb,#0e5acc,#0e5acc,#106ccc,#138bc1,#18a594,#25ac54,#31b13d,#3eb534,#4ab92b,#54bc27,#5dc024,#65c424,#6ec724,#7aca24,#85cc24,#97cf23,#a7d222,#b1d321,#b6d421,#b5d421,#b0d321,#a6d122,#97cf23,#85cc24,#7cca24,#72c824,#68c624,#62c224,#5cbf24,#55bc26,#4dba2a,#45b72e,#3cb435,#34b23b,#2caf41,#24ac59,#1da87c,#17a49b,#1599ae,#1490ba,#1286c7)"></i><i style="background:linear-gradient(90deg,#159fa6,#1492b7,#1072cc,#0e5ccc,#0e5acc,#0e5acb,#0e5acb,#0e5acc,#0e5acc,#106ccc,#138ac1,#18a594,#25ac54,#31b13d,#3eb534,#4ab92b,#54bc27,#5dc024,#65c424,#6fc724,#7bca24,#85cc24,#98cf23,#a7d222,#b1d321,#b6d421,#b5d421,#afd321,#a4d122,#95cf23,#84cc24,#7bca24,#71c824,#67c524,#61c224,#5bbe24,#53bc27,#4bb92b,#42b631,#39b337,#30b13e,#28ae45,#20a96e,#18a593,#159aad,#138cbf,#1283cb,#1179cc)"></i><i style="background:linear-gradient(90deg,#159ea7,#148fbb,#1070cc,#0e5acc,#0e5acc,#0e5acb,#0e5acb,#0e5acb,#0e5acc,#106bcc,#138ac1,#18a594,#25ac54,#31b13d,#3eb534,#4ab92b,#54bc27,#5ec024,#65c424,#6fc724,#7bca24,#85cc24,#99cf23,#a8d222,#b2d421,#b6d421,#b5d421,#afd321,#a4d122,#94ce23,#83cb24,#7ac924,#6fc724,#66c424,#60c124,#59be24,#51bb28,#48b82c,#3fb533,#36b23a,#2daf40,#24ac59,#1ca783,#159fa7,#138dbd,#127fcc,#1175cc,#106ccc)"></i><i style="background:linear-gradient(90deg,#159ea8,#138cbf,#106ecc,#0e5acc,#0e5acc,#0e5acb,#0e5acb,#0e5acb,#0e5acc,#106bcc,#138ac1,#18a593,#25ac53,#32b13d,#3eb533,#4ab92b,#55bc26,#5ec024,#65c424,#6fc724,#7cca24,#86cc24,#9acf23,#a9d222,#b3d421,#b7d421,#b5d421,#afd321,#a3d122,#92ce23,#83cb24,#79c924,#6ec724,#65c424,#5fc124,#58bd25,#4fba29,#46b72d,#3cb435,#33b13c,#29ae43,#20aa6c,#18a598,#1493b6,#1281cc,#1072cc,#0f67cc,#0e5fcc)"></i><i style="background:linear-gradient(90deg,#159da9,#1389c2,#106ccc,#0e5acc,#0e5acc,#0e5acb,#0e5acb,#0e5acb,#0e5acc,#106ccc,#138bc1,#19a593,#25ac52,#32b13d,#3eb533,#4ab92b,#55bc26,#5ec024,#65c424,#70c724,#7cca24,#87cc24,#9bd023,#aad221,#b4d421,#b7d521,#b6d421,#aed321,#a2d122,#91ce23,#82cb24,#78c924,#6cc724,#64c424,#5ec024,#56bd26,#4dba2a,#44b72f,#3ab437,#30b03e,#26ad4e,#1ca87f,#159da9,#1387c5,#1174cc,#0f64cc,#0e5acc,#0e5acc)"></i><i style="background:linear-gradient(90deg,#159da9,#1387c5,#106acc,#0e5acc,#0e5acc,#0e5acb,#0e5acb,#0e5acb,#0e5acc,#106ccc,#138bc0,#19a692,#25ad51,#32b13c,#3fb533,#4ab92b,#55bc26,#5ec024,#66c424,#70c824,#7dca24,#88cc24,#9cd022,#abd221,#b5d421,#b8d521,#b6d421,#aed321,#a2d122,#90ce23,#81cb24,#77c924,#6bc624,#64c324,#5dbf24,#55bc26,#4bb92a,#42b631,#37b339,#2db040,#23ab5f,#19a692,#1493b7,#117ccc,#0f67cc,#0e5acc,#0e5acc,#0e5acc)"></i><i style="background:linear-gradient(90deg,#159daa,#1286c7,#1069cc,#0e5acc,#0e5acc,#0e5acb,#0e5acb,#0e5acb,#0e5acc,#106dcc,#138cbf,#19a690,#26ad50,#32b13c,#3fb533,#4bb92b,#55bc26,#5ec024,#66c424,#71c824,#7dca24,#89cd24,#9ed022,#add321,#b6d421,#b9d520,#b6d421,#aed321,#a1d122,#8fce23,#80cb24,#76c924,#6ac624,#63c324,#5cbf24,#53bc27,#4ab92b,#3fb532,#35b23a,#2aaf42,#1fa970,#16a2a3,#1388c4,#1070cc,#0e5bcc,#0e5acc,#0e5acc,#0e5acb)"></i><i style="background:linear-gradient(90deg,#159daa,#1284c9,#0f69cc,#0e5acc,#0e5acb,#0e5acb,#0e5acb,#0e5acc,#0e5acc,#106dcc,#138dbe,#19a68f,#26ad4e,#33b13c,#3fb533,#4bb92b,#56bd26,#5fc024,#66c524,#71c824,#7eca24,#8bcd24,#9fd022,#aed321,#b7d421,#bad520,#b7d421,#afd321,#a1d122,#8ecd23,#80cb24,#75c824,#69c624,#62c224,#5bbe24,#52bb28,#48b82c,#3db534,#32b13c,#27ae47,#1ca880,#1599af,#127ecc,#0f64cc,#0e5acc,#0e5acc,#0e5acb,#0e5acb)"></i><i style="background:linear-gradient(90deg,#159da9,#1283ca,#0f68cc,#0e5acc,#0e5acb,#0e5acb,#0e5acb,#0e5acc,#0e5acc,#106ecc,#138dbd,#1aa68d,#26ad4c,#33b13c,#40b532,#4bb92a,#56bd26,#5fc124,#67c524,#72c824,#7eca24,#8ccd24,#a1d122,#afd321,#b8d521,#bbd520,#b8d521,#afd321,#a1d122,#8dcd24,#7fcb24,#74c824,#68c624,#61c224,#5abe24,#50bb28,#46b72d,#3bb436,#30b03e,#25ac55,#19a68f,#148fbb,#1173cc,#0e5acc,#0e5acc,#0e5acb,#0e5acb,#0e5acb)"></i><i style="background:linear-gradient(90deg,#159da9,#1283cb,#0f68cc,#0e5acc,#0e5acb,#0e5acb,#0e5acb,#0e5acc,#0e5acc,#1070cc,#138fbc,#1aa68b,#27ad4a,#33b23b,#40b532,#4cb92a,#56bd26,#5fc124,#67c524,#73c824,#7fcb24,#8ecd23,#a2d122,#b1d321,#b9d520,#bcd520,#b8d521,#afd321,#a0d122,#8dcd24,#7fcb24,#73c824,#68c524,#61c124,#59be25,#4fba29,#45b72e,#39b337,#2eb040,#22ab63,#16a49e,#1387c6,#0f69cc,#0e5acc,#0e5acb,#0e5acb,#0f59cb,#0f59cb)"></i><i style="background:linear-gradient(90deg,#159ea8,#1283cb,#0f69cc,#0e5acc,#0e5acb,#0e5acb,#0e5acb,#0e5acc,#0e5acc,#1071cc,#1490ba,#1ba788,#27ae48,#34b23b,#40b632,#4cb92a,#57bd25,#60c124,#67c524,#73c824,#80cb24,#90ce23,#a4d122,#b2d421,#bbd520,#bdd520,#b9d520,#b0d321,#a1d122,#8ccd24,#7eca24,#73c824,#67c524,#60c124,#58bd25,#4eba29,#43b630,#37b339,#2baf41,#1fa970,#159da9,#127ecc,#0f5fcc,#0e5acc,#0e5acb,#0f59cb,#0f59cb,#0f59cb)"></i><i style="background:linear-gradient(90deg,#159fa7,#1283cb,#1069cc,#0e5acc,#0e5acb,#0e5acb,#0e5acb,#0e5acc,#0e5acc,#1072cc,#1491b8,#1ba786,#28ae45,#34b23b,#41b631,#4dba2a,#57bd25,#60c124,#68c524,#74c824,#80cb24,#92ce23,#a6d122,#b4d421,#bcd520,#bed620,#bad520,#b0d321,#a1d122,#8ccd24,#7eca24,#72c824,#67c524,#5fc124,#57bd25,#4dba2a,#42b631,#35b23a,#29ae43,#1da87d,#1495b3,#1175cc,#0e5acc,#0e5acb,#0e5acb,#0f59cb,#0f59cb,#0f59cb)"></i><i style="background:linear-gradient(90deg,#16a0a5,#1284ca,#106bcc,#0e5acc,#0e5acc,#0e5acb,#0e5acb,#0e5acc,#0e5acc,#1174cc,#1493b6,#1ca783,#28ae44,#35b23a,#41b631,#4dba2a,#58bd25,#60c124,#68c524,#75c824,#81cb24,#93ce23,#a7d222,#b5d421,#bdd620,#bfd620,#bbd520,#b1d321,#a1d122,#8bcd24,#7eca24,#71c824,#66c524,#5fc124,#56bd26,#4cb92a,#40b632,#34b23b,#27ae48,#1aa689,#138ebc,#106ccc,#0e5acc,#0e5acb,#0f59cb,#0f59cb,#0f59ca,#0f59ca)"></i><i style="background:linear-gradient(90deg,#16a2a3,#1285c9,#106ccc,#0e5acc,#0e5acc,#0e5acb,#0e5acb,#0e5acc,#0e5acc,#1176cc,#1495b4,#1ca880,#29ae43,#35b23a,#42b631,#4eba2a,#58bd25,#61c224,#68c624,#76c924,#82cb24,#95cf23,#a9d222,#b7d421,#bfd620,#c0d620,#bcd520,#b2d421,#a1d122,#8bcd24,#7dca24,#71c824,#66c424,#5ec024,#55bc26,#4bb92b,#3fb533,#32b13c,#25ac52,#18a595,#1387c5,#0f64cc,#0e5acc,#0e5acb,#0f59cb,#0f59ca,#0f59ca,#0f59ca)"></i><i style="background:linear-gradient(90deg,#16a3a1,#1286c7,#106ecc,#0e5acc,#0e5acc,#0e5acb,#0e5acb,#0e5acc,#0e5ccc,#1178cc,#1496b2,#1da87c,#29ae43,#36b23a,#42b630,#4eba29,#59be25,#61c224,#69c624,#77c924,#83cb24,#97cf23,#abd221,#b9d520,#c0d620,#c1d620,#bdd620,#b2d421,#a2d122,#8bcd24,#7dca24,#70c824,#65c424,#5ec024,#54bc27,#4ab92b,#3db534,#30b13e,#23ab5c,#16a4a0,#1280cc,#0e5ccc,#0e5acc,#0e5acb,#0f59cb,#0f59ca,#0f59ca,#0f59ca)"></i><i style="background:linear-gradient(90deg,#17a49d,#1388c5,#1070cc,#0e5acc,#0e5acc,#0e5acb,#0e5acb,#0e5acc,#0e5ecc,#117acc,#1598af,#1ea879,#2aaf42,#37b339,#43b630,#4fba29,#59be24,#62c224,#69c624,#77c924,#84cb24,#99cf23,#add321,#bbd520,#c1d620,#c2d620,#bed620,#b3d421,#a2d122,#8bcd24,#7dca24,#70c724,#65c424,#5dc024,#54bc27,#49b82c,#3cb435,#2fb03f,#22aa65,#159ea7,#1179cc,#0e5acc,#0e5acb,#0f59cb,#0f59ca,#0f59ca,#0f59ca,#0f59ca)"></i><i style="background:linear-gradient(90deg,#17a599,#138ac2,#1073cc,#0e5acc,#0e5acc,#0e5acb,#0e5acb,#0e5acc,#0f61cc,#117dcc,#159aac,#1ea975,#2baf42,#37b339,#44b72f,#4fba29,#5abe24,#62c224,#6ac624,#78c924,#84cc24,#9bd023,#afd321,#bdd520,#c2d620,#c3d620,#c0d620,#b4d421,#a3d122,#8bcd24,#7dca24,#6fc724,#65c424,#5dbf24,#53bc27,#48b82c,#3bb436,#2eb040,#20a96e,#1599af,#1073cc,#0e5acc,#0e5acb,#0f59cb,#0f59ca,#0f59ca,#0f59ca,#0f59ca)"></i><i style="background:linear-gradient(90deg,#18a594,#138cbf,#1175cc,#0e5dcc,#0e5acc,#0e5acb,#0e5acc,#0e5acc,#0f64cc,#127fcc,#159da9,#1fa971,#2caf41,#38b338,#44b72f,#50bb29,#5abe24,#62c324,#6bc624,#79c924,#85cc24,#9dd022,#b1d321,#bed620,#c3d620,#c4d720,#c1d620,#b5d421,#a3d122,#8ccd24,#7dca24,#6fc724,#65c424,#5cbf24,#52bb27,#47b82d,#3ab437,#2caf41,#1ea976,#1494b5,#106dcc,#0e5acc,#0e5acb,#0f59cb,#0f59ca,#0f59ca,#0f59ca,#0f59c9)"></i><i style="background:linear-gradient(90deg,#19a68f,#148fbb,#1179cc,#0f60cc,#0e5acc,#0e5acb,#0e5acc,#0e5acc,#0f66cc,#1282cc,#159fa6,#20aa6d,#2caf41,#39b338,#45b72e,#50bb28,#5bbe24,#63c324,#6cc724,#7aca24,#86cc24,#a0d022,#b3d421,#c0d620,#c4d720,#c5d720,#c1d620,#b6d421,#a4d122,#8ccd24,#7dca24,#6fc724,#64c424,#5cbf24,#52bb28,#46b72e,#39b338,#2baf42,#1da87e,#138fbc,#0f67cc,#0e5acc,#0e5acb,#0f59ca,#0f59ca,#0f59ca,#0f59c9,#0f59c9)"></i><i style="background:linear-gradient(90deg,#1ba789,#1492b7,#117ccc,#0f64cc,#0e5acc,#0e5acc,#0e5acc,#0e5acc,#1069cc,#1284c9,#16a2a3,#21aa69,#2db040,#39b337,#46b72e,#51bb28,#5bbf24,#63c324,#6dc724,#7bca24,#88cc24,#a2d122,#b5d421,#c1d620,#c5d71f,#c6d71f,#c2d620,#b7d521,#a5d122,#8ccd24,#7dca24,#6fc724,#64c324,#5cbf24,#51bb28,#45b72e,#38b338,#2aaf43,#1ba786,#138ac2,#0f61cc,#0e5acb,#0f59cb,#0f59ca,#0f59ca,#0f59ca,#0f59c9,#0f59c9)"></i><i style="background:linear-gradient(90deg,#1ca782,#1496b2,#1280cc,#0f67cc,#0e5acc,#0e5acc,#0e5acc,#0e5acc,#106ccc,#1387c5,#16a4a0,#22ab64,#2eb040,#3ab436,#46b82d,#51bb28,#5cbf24,#64c324,#6ec724,#7cca24,#8bcd24,#a4d122,#b7d421,#c2d620,#c6d71f,#c7d71f,#c3d620,#b8d521,#a6d122,#8dcd24,#7dca24,#6fc724,#64c324,#5bbf24,#51bb28,#44b72f,#37b339,#29ae44,#1aa68d,#1286c7,#0e5ccc,#0e5acb,#0f59cb,#0f59ca,#0f59ca,#0f59c9,#0f59c9,#1058c9)"></i><i style="background:linear-gradient(90deg,#1da87b,#159aad,#1284c9,#106ccc,#0e5acc,#0e5acc,#0e5acc,#0e5acc,#1070cc,#138ac2,#17a59a,#23ab5f,#2fb03f,#3bb436,#47b82d,#52bb27,#5cbf24,#64c424,#6fc724,#7dca24,#8dcd24,#a6d222,#b9d520,#c4d720,#c7d71f,#c8d71f,#c4d720,#bad520,#a7d222,#8dcd23,#7dca24,#6ec724,#64c324,#5bbf24,#50bb28,#44b72f,#36b23a,#28ae46,#18a594,#1281cc,#0e5acc,#0e5acb,#0f59cb,#0f59ca,#0f59ca,#0f59c9,#1058c9,#1058c9)"></i><i style="background:linear-gradient(90deg,#1fa973,#159ea8,#1389c3,#1070cc,#0e5acc,#0e5acc,#0e5acc,#0e5ecc,#1173cc,#138dbe,#18a595,#24ac5a,#30b03e,#3cb435,#48b82c,#53bc27,#5dbf24,#65c424,#70c724,#7eca24,#8fce23,#a8d222,#bbd520,#c5d720,#c9d71f,#c9d71f,#c5d720,#bbd520,#a8d222,#8ecd23,#7dca24,#6ec724,#64c324,#5bbf24,#50bb29,#43b730,#35b23a,#27ad4b,#17a59a,#127dcc,#0e5acc,#0e5acb,#0f59cb,#0f59ca,#0f59ca,#0f59c9,#1058c9,#1058c9)"></i><i style="background:linear-gradient(90deg,#20aa6b,#16a3a1,#138dbd,#1175cc,#0e5ccc,#0e5acc,#0e5acc,#0f61cc,#1177cc,#1490b9,#19a690,#25ac55,#31b13e,#3db435,#49b82c,#53bc27,#5dc024,#65c424,#71c824,#7fca24,#92ce23,#abd221,#bed620,#c6d71f,#cad71f,#cad71f,#c6d71f,#bcd520,#a9d222,#8fce23,#7dca24,#6ec724,#64c324,#5bbe24,#4fba29,#43b630,#34b23b,#26ad50,#16a49f,#117acc,#0e5acc,#0e5acb,#0f59cb,#0f59ca,#0f59c9,#0f59c9,#1058c9,#1058c9)"></i><i style="background:linear-gradient(90deg,#22ab62,#17a599,#1492b7,#117acc,#0f61cc,#0e5acc,#0e5acc,#0f66cc,#117bcc,#1494b5,#1aa68a,#26ad50,#31b13d,#3db534,#49b82b,#54bc27,#5ec024,#66c424,#72c824,#80cb24,#94ce23,#add321,#c0d620,#c7d71f,#cbd81f,#cbd81f,#c7d71f,#bed620,#aad222,#90ce23,#7dca24,#6ec724,#64c324,#5bbe24,#4fba29,#42b630,#34b23b,#25ac54,#16a2a3,#1176cc,#0e5acc,#0e5acb,#0f59ca,#0f59ca,#0f59c9,#1058c9,#1058c9,#1058c8)"></i><i style="background:linear-gradient(90deg,#24ac59,#19a68e,#1598b0,#1280cc,#0f66cc,#0e5acc,#0e5bcc,#106acc,#127fcc,#1497b1,#1ca784,#27ad4a,#32b13c,#3eb533,#4ab92b,#55bc26,#5ec024,#66c524,#73c824,#81cb24,#96cf23,#afd321,#c1d620,#c8d71f,#ccd81f,#ccd81f,#c7d71f,#bfd620,#abd221,#91ce23,#7dca24,#6fc724,#64c324,#5bbe24,#4fba29,#42b631,#33b23c,#24ac58,#159fa6,#1073cc,#0e5acc,#0e5acb,#0f59ca,#0f59ca,#0f59c9,#1058c9,#1058c9,#1058c8)"></i><i style="background:linear-gradient(90deg,#26ad4f,#1ca783,#159da8,#1286c7,#106ccc,#0e5ccc,#0f5fcc,#106ecc,#1283cb,#159bac,#1da87d,#28ae44,#33b23b,#3fb533,#4bb92b,#56bd26,#5fc124,#67c524,#74c824,#82cb24,#99cf23,#b1d321,#c2d620,#cad71f,#cdd81f,#cdd81f,#c8d71f,#c0d620,#acd321,#92ce23,#7eca24,#6fc724,#64c324,#5abe24,#4fba29,#41b631,#33b13c,#23ab5c,#159da9,#1070cc,#0e5acc,#0f59cb,#0f59ca,#0f59ca,#0f59c9,#1058c9,#1058c8,#1058c8)"></i><i style="background:linear-gradient(90deg,#28ae44,#1ea877,#16a4a1,#138cbf,#1072cc,#0f62cc,#0f65cc,#1173cc,#1387c6,#159fa7,#1ea877,#29ae43,#34b23b,#40b632,#4cb92a,#56bd26,#5fc124,#67c524,#75c824,#83cb24,#9bd023,#b4d421,#c4d720,#cbd81f,#ced81f,#ced81f,#c9d71f,#c1d620,#add321,#93ce23,#7eca24,#6fc724,#64c324,#5abe24,#4fba29,#41b631,#32b13c,#23ab5f,#159bac,#106dcc,#0e5acc,#0f59cb,#0f59ca,#0f59ca,#0f59c9,#1058c9,#1058c8,#1058c8)"></i><i style="background:linear-gradient(90deg,#2aaf42,#20aa6b,#18a595,#1493b6,#1179cc,#0f68cc,#106acc,#1178cc,#138bc0,#16a2a2,#1fa970,#2aaf42,#36b23a,#41b631,#4dba2a,#57bd25,#60c124,#68c524,#76c924,#84cc24,#9ed022,#b6d421,#c5d720,#ccd81f,#cfd81e,#cfd81f,#cad81f,#c2d620,#afd321,#94ce23,#7eca24,#6fc724,#64c324,#5abe24,#4eba29,#41b631,#32b13d,#22ab61,#1599ae,#106bcc,#0e5acc,#0f59cb,#0f59ca,#0f59ca,#0f59c9,#1058c9,#1058c8,#1058c8)"></i><i style="background:linear-gradient(90deg,#2caf41,#23ab5e,#1ba788,#159aae,#1280cc,#106ecc,#106fcc,#127dcc,#1490ba,#17a59b,#21aa69,#2baf41,#37b339,#42b630,#4dba2a,#58bd25,#61c224,#69c624,#77c924,#85cc24,#a0d122,#b8d521,#c6d71f,#cdd81f,#d1d81e,#d0d81e,#cbd81f,#c3d620,#b0d321,#95cf23,#7fca24,#6fc724,#64c324,#5abe24,#4eba29,#41b631,#32b13d,#22ab63,#1597b0,#1069cc,#0e5acc,#0f59cb,#0f59ca,#0f59c9,#1058c9,#1058c8,#1058c8,#1058c8)"></i><i style="background:linear-gradient(90deg,#2fb03f,#26ad50,#1da87b,#16a1a4,#1387c5,#1175cc,#1175cc,#1282cc,#1494b4,#18a593,#22ab62,#2daf40,#38b338,#43b730,#4eba29,#59be25,#61c224,#69c624,#78c924,#86cc24,#a3d122,#bbd520,#c7d71f,#ced81f,#d2d91e,#d1d91e,#ccd81f,#c4d720,#b2d421,#96cf23,#7fcb24,#70c724,#64c324,#5abe24,#4eba29,#41b632,#31b13d,#22aa65,#1496b2,#0f67cc,#0e5acb,#0f59cb,#0f59ca,#0f59c9,#1058c9,#1058c8,#1058c8,#1058c8)"></i><i style="background:linear-gradient(90deg,#31b13d,#29ae44,#20aa6d,#18a598,#138ebc,#117ccc,#117bcc,#1388c5,#1599ae,#1aa68b,#24ac5b,#2eb040,#39b337,#44b72f,#4fba29,#59be24,#62c224,#6ac624,#79c924,#88cc24,#a5d122,#bdd520,#c9d71f,#d0d81e,#d3d91e,#d2d91e,#cdd81f,#c5d720,#b3d421,#97cf23,#80cb24,#70c724,#64c324,#5abe24,#4eba29,#41b632,#31b13d,#21aa67,#1495b3,#0f66cc,#0e5acb,#0f59cb,#0f59ca,#0f59c9,#1058c9,#1058c8,#1058c8,#1057c7)"></i><i style="background:linear-gradient(90deg,#34b23b,#2caf41,#23ab5e,#1aa689,#1496b2,#1283ca,#1281cc,#138dbe,#159ea8,#1ca783,#25ac53,#2fb03f,#3ab436,#45b72e,#50bb28,#5abe24,#62c324,#6cc724,#7bca24,#8bcd24,#a8d222,#bfd620,#cad81f,#d1d91e,#d4d91e,#d3d91e,#ced81f,#c6d71f,#b4d421,#99cf23,#80cb24,#70c824,#64c324,#5bbe24,#4eba29,#40b632,#31b13d,#21aa67,#1494b4,#0f65cc,#0e5acb,#0f59cb,#0f59ca,#0f59c9,#1058c9,#1058c8,#1058c8,#1057c7)"></i><i style="background:linear-gradient(90deg,#36b339,#2fb03f,#26ad4f,#1ea879,#159ea7,#138bc1,#1387c5,#1493b7,#16a3a1,#1da87a,#27ad4b,#31b13e,#3bb435,#47b82d,#51bb28,#5bbe24,#63c324,#6dc724,#7cca24,#8dcd24,#aad222,#c1d620,#cbd81f,#d2d91e,#d5d91e,#d4d91e,#cfd81e,#c7d71f,#b6d421,#9acf23,#80cb24,#71c824,#64c324,#5bbe24,#4eba29,#41b632,#31b13d,#21aa68,#1494b5,#0f64cc,#0e5acb,#0f59cb,#0f59ca,#0f59c9,#1058c9,#1058c8,#1058c8,#1057c7)"></i><i style="background:linear-gradient(90deg,#39b337,#32b13d,#29ae43,#21aa69,#17a59b,#1492b7,#138ebd,#1598af,#18a598,#1fa971,#28ae44,#32b13c,#3db435,#48b82c,#52bb28,#5cbf24,#64c324,#6ec724,#7dca24,#90ce23,#add321,#c2d620,#cdd81f,#d3d91e,#d6d91e,#d5d91e,#d0d81e,#c8d71f,#b7d521,#9bd023,#81cb24,#71c824,#64c424,#5bbe24,#4fba29,#41b632,#31b13d,#21aa68,#1494b5,#0f63cc,#0e5acb,#0f59cb,#0f59ca,#0f59c9,#1058c9,#1058c8,#1058c7,#1057c7)"></i><i style="background:linear-gradient(90deg,#3cb435,#35b23a,#2caf41,#24ac58,#1aa68a,#159aad,#1495b4,#159ea7,#1aa68e,#21aa68,#2aaf43,#33b23b,#3eb534,#49b82c,#53bc27,#5cbf24,#64c424,#6fc724,#7eca24,#93ce23,#afd321,#c4d720,#ced81f,#d4d91e,#d7d91e,#d6d91e,#d1d91e,#c9d71f,#b9d520,#9dd022,#81cb24,#72c824,#65c424,#5bbf24,#4fba29,#41b631,#31b13d,#21aa68,#1493b5,#0f63cc,#0e5acb,#0f59cb,#0f59ca,#0f59c9,#1058c9,#1058c8,#1057c7,#1057c7)"></i><i style="background:linear-gradient(90deg,#3fb533,#39b337,#30b03e,#27ae47,#1ea879,#16a3a2,#159cab,#16a49f,#1ca783,#23ab5e,#2baf41,#35b23a,#3fb533,#4ab92b,#54bc27,#5dc024,#65c424,#71c824,#7fcb24,#95cf23,#b1d321,#c5d720,#cfd81e,#d6d91e,#d8da1e,#d7da1e,#d2d91e,#c9d71f,#bad520,#9ed022,#82cb24,#72c824,#65c424,#5bbf24,#4fba29,#41b631,#31b13d,#21aa67,#1494b5,#0f63cc,#0e5acb,#0f59cb,#0f59ca,#0f59c9,#1058c9,#1058c8,#1057c7,#1057c7)"></i><i style="background:linear-gradient(90deg,#42b630,#3db434,#33b13c,#2baf42,#21aa67,#19a692,#16a3a1,#19a593,#1ea878,#25ac54,#2db040,#37b339,#41b631,#4bb92b,#55bc26,#5ec024,#66c424,#72c824,#80cb24,#98cf23,#b4d421,#c6d71f,#d0d81e,#d7d91e,#d9da1d,#d8da1e,#d3d91e,#cad81f,#bcd520,#a0d022,#83cb24,#73c824,#65c424,#5bbf24,#4fba29,#41b631,#32b13d,#21aa67,#1494b5,#0f63cc,#0e5acb,#0f59cb,#0f59ca,#0f59c9,#1058c9,#1058c8,#1057c7,#1057c7)"></i><i style="background:linear-gradient(90deg,#45b72e,#41b632,#37b339,#2fb03f,#25ac55,#1ca780,#18a593,#1ba786,#20aa6c,#27ad4a,#2fb03f,#38b338,#42b630,#4cb92a,#56bd26,#5fc024,#66c524,#73c824,#81cb24,#9bd023,#b6d421,#c8d71f,#d2d91e,#d8da1e,#dbda1d,#d9da1d,#d4d91e,#cbd81f,#bed620,#a1d122,#83cb24,#73c824,#65c424,#5cbf24,#50bb29,#42b631,#32b13d,#22aa65,#1495b4,#0f64cc,#0e5acb,#0f59cb,#0f59ca,#0f59c9,#1058c9,#1058c8,#1057c7,#1057c7)"></i><i style="background:linear-gradient(90deg,#48b82c,#45b72e,#3ab436,#32b13c,#29ae44,#20a96e,#1ba784,#1ea879,#22ab61,#29ae43,#31b13d,#3ab437,#44b72f,#4dba2a,#57bd25,#5fc124,#67c524,#74c824,#83cb24,#9dd022,#b9d520,#c9d71f,#d3d91e,#d9da1d,#dcda1d,#dada1d,#d5d91e,#ccd81f,#bfd620,#a3d122,#84cc24,#74c824,#66c424,#5cbf24,#50bb29,#42b631,#32b13c,#22ab63,#1496b3,#0f65cc,#0e5acb,#0f59cb,#0f59ca,#0f59c9,#1058c9,#1058c8,#1057c7,#1057c7)"></i><i style="background:linear-gradient(90deg,#4bb92a,#49b82c,#3eb533,#36b239,#2caf41,#23ab5c,#1fa974,#20aa6c,#25ac54,#2baf42,#33b13c,#3bb435,#45b72e,#4fba29,#58bd25,#60c124,#68c524,#76c924,#84cc24,#a0d022,#bbd520,#cad81f,#d4d91e,#dada1d,#ddda1d,#dbda1d,#d6d91e,#cdd81f,#c0d620,#a4d122,#84cc24,#74c824,#66c424,#5cbf24,#50bb28,#42b630,#33b13c,#22ab61,#1497b1,#0f66cc,#0e5acb,#0f59cb,#0f59ca,#0f59c9,#1058c9,#1058c8,#1057c7,#1057c7)"></i><i style="background:linear-gradient(90deg,#4eba29,#4dba2a,#43b630,#3ab437,#30b13e,#27ae48,#22ab64,#23ab5e,#27ae48,#2db040,#35b23b,#3db534,#47b82d,#50bb29,#59be24,#61c224,#69c624,#77c924,#85cc24,#a3d122,#bed620,#ccd81f,#d5d91e,#dbda1d,#deda1d,#dcda1d,#d7d91e,#ced81f,#c1d620,#a6d122,#85cc24,#75c924,#66c424,#5dbf24,#51bb28,#43b630,#33b13c,#23ab5f,#1598b0,#0f67cc,#0e5acb,#0f59cb,#0f59ca,#0f59c9,#1058c9,#1058c8,#1057c7,#1057c7)"></i><i style="background:linear-gradient(90deg,#51bb28,#51bb28,#47b82d,#3eb533,#34b23b,#2baf42,#25ac52,#26ad4f,#2aaf43,#2fb03e,#37b339,#3fb533,#48b82c,#51bb28,#5abe24,#62c224,#6ac624,#79c924,#87cc24,#a6d122,#c0d620,#cdd81f,#d6d91e,#dcda1d,#dfdb1d,#ddda1d,#d8da1e,#cfd81e,#c2d620,#a7d222,#86cc24,#76c924,#66c524,#5dc024,#51bb28,#43b630,#34b23b,#23ab5c,#1599ae,#0f69cc,#0e5acb,#0f59cb,#0f59ca,#0f59c9,#1058c9,#1058c8,#1057c7,#1057c7)"></i><i style="background:linear-gradient(90deg,#55bc26,#55bc26,#4bb92b,#42b630,#39b338,#2fb03f,#29ae43,#29ae43,#2caf41,#32b13d,#39b338,#41b631,#4ab92b,#52bb27,#5bbf24,#63c324,#6bc624,#7aca24,#8acd24,#a8d222,#c2d620,#ced81f,#d8da1e,#deda1d,#e0db1d,#dedb1d,#d9da1d,#d0d81e,#c3d620,#a9d222,#87cc24,#76c924,#67c524,#5dc024,#51bb28,#44b72f,#34b23b,#24ac59,#159bab,#106bcc,#0e5acb,#0f59cb,#0f59ca,#0f59c9,#1058c9,#1058c8,#1057c7,#1057c7)"></i><i style="background:linear-gradient(90deg,#58bd25,#5abe24,#4fba29,#47b82d,#3db534,#33b13c,#2caf41,#2caf41,#2fb03f,#34b23b,#3bb436,#43b630,#4bb92b,#54bc27,#5cbf24,#64c324,#6dc724,#7bca24,#8dcd24,#abd221,#c3d620,#d0d81e,#d9da1e,#dfdb1d,#e1db1d,#dfdb1d,#dada1d,#d1d91e,#c4d720,#abd221,#88cc24,#77c924,#67c524,#5ec024,#52bb28,#44b72f,#35b23a,#25ac56,#159da9,#106dcc,#0e5acc,#0f59cb,#0f59ca,#0f59c9,#1058c9,#1058c8,#1058c7,#1057c7)"></i><i style="background:linear-gradient(90deg,#5bbe24,#5ec024,#53bc27,#4bb92b,#41b631,#37b338,#30b13e,#2fb03f,#32b13d,#36b339,#3db534,#45b72f,#4dba2a,#55bc26,#5dc024,#64c424,#6fc724,#7dca24,#90ce23,#aed321,#c5d720,#d1d91e,#dada1d,#e0db1d,#e2db1d,#e0db1d,#dbda1d,#d2d91e,#c5d71f,#acd321,#8acd24,#78c924,#68c524,#5ec024,#52bb27,#45b72e,#35b23a,#25ac52,#159fa6,#106fcc,#0e5acc,#0f59cb,#0f59ca,#0f59c9,#1058c9,#1058c8,#1058c8,#1057c7)"></i><i style="background:linear-gradient(90deg,#5ec024,#61c224,#58bd25,#4fba29,#46b72e,#3cb435,#34b23b,#32b13d,#34b23b,#39b337,#3fb533,#47b82d,#4eba29,#56bd26,#5ec024,#65c424,#70c824,#7eca24,#93ce23,#b1d321,#c6d71f,#d2d91e,#dbda1d,#e1db1d,#e3db1d,#e1db1d,#dcda1d,#d3d91e,#c6d71f,#aed321,#8ccd24,#79c924,#68c524,#5ec024,#53bc27,#46b72e,#36b239,#26ad4e,#16a2a3,#1072cc,#0e5acc,#0f59cb,#0f59ca,#0f59c9,#1058c9,#1058c8,#1058c8,#1058c8)"></i><i style="background:linear-gradient(90deg,#60c124,#64c324,#5cbf24,#53bc27,#4ab92b,#40b632,#38b338,#35b23a,#37b339,#3cb435,#41b631,#49b82c,#50bb28,#58bd25,#5fc124,#66c524,#72c824,#80cb24,#97cf23,#b4d421,#c8d71f,#d4d91e,#dcda1d,#e2db1d,#e4db1c,#e2db1d,#ddda1d,#d4d91e,#c7d71f,#b0d321,#8dcd23,#79c924,#68c624,#5fc124,#54bc27,#46b72d,#37b339,#27ad49,#16a4a0,#1175cc,#0e5acc,#0f59cb,#0f59ca,#0f59ca,#1058c9,#1058c8,#1058c8,#1058c8)"></i><i style="background:linear-gradient(90deg,#63c324,#66c524,#60c124,#57bd25,#4fba29,#45b72e,#3cb435,#39b338,#3ab436,#3eb533,#44b72f,#4ab92b,#52bb28,#59be24,#60c124,#67c524,#74c824,#81cb24,#9acf23,#b7d421,#c9d71f,#d5d91e,#deda1d,#e3db1d,#e5dc1c,#e3db1c,#deda1d,#d5d91e,#c8d71f,#b1d321,#8fce23,#7aca24,#69c624,#5fc124,#54bc27,#47b82d,#38b338,#28ae45,#17a59a,#1178cc,#0e5acc,#0f59cb,#0f59ca,#0f59ca,#0f59c9,#1058c8,#1058c8,#1058c8)"></i><i style="background:linear-gradient(90deg,#66c424,#6ac624,#64c324,#5cbf24,#53bc27,#4ab92b,#41b631,#3cb435,#3db534,#41b631,#46b72d,#4cb92a,#53bc27,#5bbe24,#62c224,#68c624,#76c924,#83cb24,#9ed022,#bad520,#cbd81f,#d6d91e,#dfdb1d,#e4db1c,#e6dc1c,#e4db1c,#dfdb1d,#d5d91e,#c9d71f,#b3d421,#91ce23,#7bca24,#69c624,#60c124,#55bc26,#48b82c,#39b338,#29ae43,#18a595,#117ccc,#0e5acc,#0e5acb,#0f59ca,#0f59ca,#0f59c9,#1058c9,#1058c8,#1058c8)"></i><i style="background:linear-gradient(90deg,#69c624,#70c724,#69c624,#5fc124,#58bd25,#4eba29,#46b72e,#40b632,#40b632,#44b72f,#49b82c,#4eba29,#55bc26,#5cbf24,#63c324,#6ac624,#77c924,#84cc24,#a1d122,#bdd520,#ccd81f,#d8da1e,#e0db1d,#e5dc1c,#e7dc1c,#e5dc1c,#dfdb1d,#d6d91e,#cad71f,#b4d421,#93ce23,#7cca24,#6ac624,#60c124,#55bc26,#48b82c,#39b337,#2aaf43,#19a68f,#127fcc,#0e5acc,#0e5acb,#0f59ca,#0f59ca,#0f59c9,#1058c9,#1058c8,#1058c8)"></i><i style="background:linear-gradient(90deg,#6ec724,#76c924,#71c824,#63c324,#5cbf24,#53bc27,#4ab92b,#44b72f,#44b72f,#47b82d,#4bb92b,#51bb28,#57bd25,#5ec024,#64c324,#6cc724,#79c924,#86cc24,#a5d122,#c0d620,#ced81f,#d9da1e,#e1db1d,#e6dc1c,#e8dc1c,#e6dc1c,#e0db1d,#d7d91e,#cad81f,#b6d421,#95cf23,#7cca24,#6bc624,#61c224,#56bd26,#49b82b,#3ab436,#2baf42,#1ba789,#1283ca,#0e5acc,#0e5acb,#0f59ca,#0f59ca,#0f59c9,#1058c9,#1058c8,#1058c8)"></i><i style="background:linear-gradient(90deg,#74c824,#7cca24,#7bca24,#68c524,#60c124,#57bd25,#4eba29,#48b82c,#47b82d,#4ab92b,#4dba2a,#53bc27,#59be24,#5fc124,#65c424,#6ec724,#7bca24,#8bcd24,#a9d222,#c2d620,#cfd81e,#dada1d,#e2db1d,#e7dc1c,#e8dc1c,#e7dc1c,#e1db1d,#d8da1e,#cbd81f,#b8d521,#96cf23,#7dca24,#6cc724,#61c224,#57bd25,#4ab92b,#3bb435,#2caf41,#1ca782,#1387c5,#0e5acc,#0e5acb,#0f59cb,#0f59ca,#0f59c9,#1058c9,#1058c9,#1058c8)"></i><i style="background:linear-gradient(90deg,#7ac924,#82cb24,#85cc24,#6fc724,#64c324,#5cbf24,#53bc27,#4cb92a,#4ab92b,#4cb92a,#50bb28,#55bc26,#5bbe24,#60c124,#66c524,#70c824,#7dca24,#8fce23,#acd321,#c4d720,#d1d91e,#dcda1d,#e4db1c,#e8dc1c,#e8dc1c,#e8dc1c,#e2db1d,#d9da1e,#ccd81f,#bad520,#98cf23,#7eca24,#6dc724,#62c224,#58bd25,#4bb92b,#3db435,#2db040,#1da87b,#138bc0,#0e5dcc,#0e5acb,#0f59cb,#0f59ca,#0f59c9,#1058c9,#1058c9,#1058c9)"></i><i style="background:linear-gradient(90deg,#80cb24,#8bcd24,#9cd022,#78c924,#68c524,#60c124,#58bd25,#51bb28,#4eba29,#4fba29,#53bc27,#57bd25,#5cbf24,#62c224,#68c524,#73c824,#7fcb24,#94ce23,#b0d321,#c6d71f,#d3d91e,#ddda1d,#e5dc1c,#e8dc1c,#e8dc1c,#e8dc1c,#e3db1d,#dada1d,#cdd81f,#bbd520,#9acf23,#7fcb24,#6ec724,#62c224,#58bd25,#4cb92a,#3eb534,#2fb03f,#1fa973,#1490ba,#0f62cc,#0e5acb,#0f59cb,#0f59ca,#0f59ca,#0f59c9,#1058c9,#1058c9)"></i><i style="background:linear-gradient(90deg,#85cc24,#9bd023,#b3d421,#82cb24,#6fc724,#64c324,#5cbf24,#55bc26,#51bb28,#52bb27,#55bc26,#5abe24,#5ec024,#63c324,#69c624,#75c924,#81cb24,#98cf23,#b4d421,#c8d71f,#d5d91e,#dfdb1d,#e6dc1c,#e8dc1c,#e9dc1c,#e8dc1c,#e4db1c,#dbda1d,#ced81f,#bdd520,#9cd022,#80cb24,#6fc724,#63c324,#59be24,#4dba2a,#3fb533,#30b03e,#20aa6c,#1494b4,#0f68cc,#0e5acc,#0f59cb,#0f59ca,#0f59ca,#0f59c9,#1058c9,#1058c9)"></i><i style="background:linear-gradient(90deg,#93ce23,#aad222,#c2d620,#95cf23,#78c924,#68c624,#60c124,#59be24,#55bc26,#55bc26,#58bd25,#5cbf24,#60c124,#65c424,#6cc724,#78c924,#84cb24,#9dd022,#b8d521,#cad71f,#d6d91e,#e0db1d,#e7dc1c,#e9dc1c,#e9db1c,#e8dc1c,#e5db1c,#dcda1d,#cfd81e,#bfd620,#9ed022,#81cb24,#70c724,#64c324,#5abe24,#4eba29,#40b532,#31b13d,#22ab64,#1599ae,#106dcc,#0e5acc,#0f59cb,#0f59ca,#0f59ca,#0f59c9,#0f59c9,#1058c9)"></i><i style="background:linear-gradient(90deg,#a2d122,#b9d520,#cbd81f,#afd321,#81cb24,#71c824,#64c424,#5dc024,#59be24,#59be25,#5bbe24,#5ec024,#62c224,#67c524,#6fc724,#7aca24,#86cc24,#a2d122,#bdd520,#ccd81f,#d8da1e,#e2db1d,#e8dc1c,#e9db1c,#e9db1c,#e9dc1c,#e6dc1c,#dcda1d,#d0d81e,#c0d620,#a0d122,#82cb24,#71c824,#64c324,#5bbe24,#4fba29,#41b631,#33b13c,#23ab5b,#159ea7,#1173cc,#0e5acc,#0e5acb,#0f59ca,#0f59ca,#0f59c9,#0f59c9,#0f59c9)"></i><i style="background:linear-gradient(90deg,#b0d321,#c5d720,#d4d91e,#c5d71f,#93ce23,#7ac924,#69c624,#61c224,#5dbf24,#5cbf24,#5dc024,#60c124,#64c324,#68c624,#72c824,#7dca24,#8ccd24,#a7d222,#c1d620,#ced81f,#dada1d,#e3db1c,#e8dc1c,#e9db1c,#e9db1c,#e9dc1c,#e6dc1c,#ddda1d,#d1d91e,#c1d620,#a2d122,#83cb24,#72c824,#65c424,#5bbf24,#50bb29,#42b630,#34b23b,#25ac52,#16a4a1,#1179cc,#0e5acc,#0e5acb,#0f59cb,#0f59ca,#0f59ca,#0f59c9,#0f59c9)"></i><i style="background:linear-gradient(90deg,#bfd620,#cdd81f,#dcda1d,#d6d91e,#acd221,#83cb24,#72c824,#66c424,#60c124,#5ec024,#60c124,#62c224,#66c424,#6bc624,#75c924,#80cb24,#92ce23,#acd321,#c3d620,#d0d81e,#dcda1d,#e5dc1c,#e9dc1c,#e9db1c,#e9db1c,#e9db1c,#e7dc1c,#dedb1d,#d2d91e,#c2d620,#a4d122,#84cb24,#73c824,#65c424,#5cbf24,#51bb28,#44b72f,#36b23a,#27ad49,#18a597,#1280cc,#0e5acc,#0e5acb,#0f59cb,#0f59ca,#0f59ca,#0f59ca,#0f59c9)"></i><i style="background:linear-gradient(90deg,#c7d71f,#d6d91e,#e5dc1c,#e6dc1c,#c3d620,#96cf23,#7bca24,#6bc624,#64c324,#61c224,#62c224,#65c424,#68c524,#6fc724,#78c924,#83cb24,#98cf23,#b2d421,#c6d71f,#d3d91e,#deda1d,#e7dc1c,#e9db1c,#e9db1c,#e9db1c,#e9db1c,#e8dc1c,#dfdb1d,#d3d91e,#c4d720,#a6d222,#84cc24,#74c824,#66c424,#5dc024,#52bb28,#45b72e,#37b339,#29ae43,#1aa68c,#1386c6,#0e5dcc,#0e5acb,#0f59cb,#0f59ca,#0f59ca,#0f59ca,#0f59c9)"></i><i style="background:linear-gradient(90deg,#d0d81e,#dedb1d,#e9db1c,#eada1c,#d3d91e,#aed321,#84cc24,#74c824,#68c624,#65c424,#65c424,#67c524,#6bc624,#73c824,#7cca24,#86cc24,#9fd022,#b8d521,#c9d71f,#d5d91e,#e0db1d,#e8dc1c,#e9db1c,#eadb1c,#eadb1c,#e9db1c,#e8dc1c,#e0db1d,#d4d91e,#c5d720,#a9d222,#86cc24,#76c924,#67c524,#5ec024,#53bc27,#47b82d,#39b337,#2baf42,#1ca781,#138dbe,#0f65cc,#0e5acc,#0f59cb,#0f59ca,#0f59ca,#0f59ca,#0f59ca)"></i><i style="background:linear-gradient(90deg,#d8da1e,#e7dc1c,#eada1c,#edd81d,#e3db1d,#c4d720,#9ad023,#7dca24,#70c724,#68c624,#68c524,#6ac624,#6fc724,#77c924,#7fcb24,#8dcd24,#a5d122,#bdd620,#ccd81f,#d8da1e,#e2db1d,#e8dc1c,#e9db1c,#eadb1c,#eadb1c,#e9db1c,#e8dc1c,#e1db1d,#d5d91e,#c6d71f,#abd221,#87cc24,#77c924,#67c524,#5ec024,#54bc27,#48b82c,#3bb436,#2daf40,#1ea975,#1494b5,#106dcc,#0e5acc,#0e5acb,#0f59cb,#0f59ca,#0f59ca,#0f59ca)"></i><i style="background:linear-gradient(90deg,#e0db1d,#e9db1c,#ecd91c,#eed71d,#eadb1c,#d3d91e,#b3d421,#88cc24,#78c924,#6fc724,#6cc724,#6fc724,#74c824,#7bca24,#83cb24,#95cf23,#acd321,#c2d620,#cfd81f,#dada1d,#e4db1c,#e9dc1c,#e9db1c,#eadb1c,#eadb1c,#e9db1c,#e9dc1c,#e2db1d,#d6d91e,#c7d71f,#add321,#8acd24,#78c924,#68c624,#5fc124,#55bc26,#4ab92b,#3cb435,#2fb03f,#21aa69,#159bac,#1175cc,#0e5acc,#0e5acb,#0f59cb,#0f59ca,#0f59ca,#0f59ca)"></i><i style="background:linear-gradient(90deg,#e8dc1c,#eada1c,#edd81d,#f0d61d,#ecd91d,#e2db1d,#c7d71f,#a0d122,#81cb24,#77c924,#73c824,#75c824,#79c924,#7fcb24,#88cc24,#9dd022,#b4d421,#c6d71f,#d2d91e,#ddda1d,#e7dc1c,#e9db1c,#eadb1c,#eada1c,#eada1c,#eadb1c,#e9db1c,#e3db1c,#d7d91e,#c8d71f,#b0d321,#8dcd24,#7ac924,#69c624,#60c124,#56bd26,#4bb92b,#3eb533,#31b13d,#23ab5c,#16a2a2,#127ecc,#0e5acc,#0e5acb,#0f59cb,#0f59cb,#0f59ca,#0f59ca)"></i><i style="background:linear-gradient(90deg,#e9db1c,#ecd91c,#eed71d,#f1d51d,#efd71d,#eadb1c,#d6d91e,#b9d520,#92ce23,#7fcb24,#7ac924,#7aca24,#7eca24,#84cc24,#92ce23,#a6d222,#bbd520,#cad71f,#d5d91e,#e0db1d,#e8dc1c,#e9db1c,#eada1c,#eada1c,#eada1c,#eadb1c,#e9db1c,#e4db1c,#d8da1e,#cad71f,#b2d421,#90ce23,#7bca24,#6ac624,#61c224,#58bd25,#4cb92a,#40b632,#33b13c,#26ad50,#18a594,#1386c6,#0f63cc,#0e5acc,#0e5acb,#0f59cb,#0f59ca,#0f59ca)"></i><i style="background:linear-gradient(90deg,#eada1c,#edd81d,#efd61d,#f2d41d,#f2d51d,#ecd91d,#e5db1c,#cbd81f,#aad222,#8bcd24,#81cb24,#80cb24,#83cb24,#8ccd24,#9cd022,#afd321,#c2d620,#ced81f,#d9da1e,#e3db1d,#e9dc1c,#eadb1c,#eada1c,#ebda1c,#ebda1c,#eada1c,#e9db1c,#e6dc1c,#dada1d,#cbd81f,#b5d421,#93ce23,#7cca24,#6cc724,#62c224,#59be24,#4eba29,#42b630,#35b23a,#28ae44,#1ba785,#148fbb,#106dcc,#0e5acc,#0e5acb,#0f59cb,#0f59cb,#0f59ca)"></i><i style="background:linear-gradient(90deg,#ecd91c,#eed71d,#f1d61d,#f3d41d,#f5d21e,#efd71d,#eadb1c,#dada1d,#c1d620,#a1d122,#8ccd24,#86cc24,#8ccd24,#98cf23,#a7d222,#b8d521,#c7d71f,#d2d91e,#dcda1d,#e6dc1c,#e9db1c,#eadb1c,#ebda1c,#ebda1c,#ebda1c,#eada1c,#e9db1c,#e7dc1c,#dbda1d,#ccd81f,#b8d521,#96cf23,#7eca24,#6ec724,#63c324,#5abe24,#50bb29,#44b72f,#38b338,#2baf42,#1ea976,#1598af,#1177cc,#0e5acc,#0e5acc,#0e5acb,#0f59cb,#0f59ca)"></i><i style="background:linear-gradient(90deg,#edd81d,#efd71d,#f2d51d,#f4d31e,#f7d11e,#f1d51d,#ecd91d,#e8dc1c,#d0d81e,#b8d521,#a1d122,#97cf23,#9ad023,#a4d122,#b2d421,#c1d620,#ccd81f,#d6d91e,#e0db1d,#e8dc1c,#e9db1c,#eada1c,#ebda1c,#ebda1c,#ebda1c,#eada1c,#e9db1c,#e8dc1c,#dcda1d,#ced81f,#bbd520,#9acf23,#7fcb24,#70c724,#64c324,#5cbf24,#51bb28,#46b72d,#3ab437,#2eb040,#21aa66,#16a2a3,#1282cc,#0f63cc,#0e5acc,#0e5acb,#0f59cb,#0f59cb)"></i><i style="background:linear-gradient(90deg,#eed81d,#f0d61d,#f3d41d,#f6d21e,#f8ce1f,#f4d31e,#efd71d,#eada1c,#dfdb1d,#cad71f,#b6d421,#a9d222,#a9d222,#b1d321,#bdd620,#c7d71f,#d1d91e,#dbda1d,#e4db1c,#e9db1c,#eadb1c,#ebda1c,#ebda1c,#ecd91c,#ebda1c,#ebda1c,#eadb1c,#e8dc1c,#deda1d,#d0d81e,#bed620,#9dd022,#81cb24,#72c824,#65c424,#5dc024,#53bc27,#48b82c,#3cb435,#30b13e,#25ac55,#19a692,#138dbe,#106fcc,#0e5acc,#0e5acb,#0e5acb,#0f59cb)"></i><i style="background:linear-gradient(90deg,#efd71d,#f2d51d,#f4d31e,#f7d11e,#f8c820,#f7d11e,#f1d51d,#edd81d,#e9db1c,#d8da1e,#c7d71f,#bcd520,#b8d521,#bfd620,#c5d71f,#cdd81f,#d6d91e,#dfdb1d,#e8dc1c,#e9db1c,#eada1c,#ebda1c,#ecd91c,#ecd91c,#ecd91c,#ebda1c,#eadb1c,#e8dc1c,#dfdb1d,#d1d91e,#c1d620,#a1d122,#83cb24,#74c824,#66c524,#5ec024,#55bc26,#4ab92b,#3fb533,#33b23b,#28ae44,#1ca87f,#1598b0,#117bcc,#0e5ecc,#0e5acc,#0e5acb,#0f59cb)"></i><i style="background:linear-gradient(90deg,#f0d61d,#f3d41d,#f5d21e,#f8d01e,#f8c222,#f8c522,#f4d31e,#efd71d,#ebda1c,#e6dc1c,#d4d91e,#c9d71f,#c5d720,#c7d71f,#cdd81f,#d4d91e,#dcda1d,#e4db1c,#e9db1c,#eadb1c,#ebda1c,#ecd91c,#ecd91d,#ecd91d,#ecd91c,#ebda1c,#eada1c,#e9db1c,#e1db1d,#d3d91e,#c3d620,#a5d122,#84cc24,#76c924,#67c524,#5fc124,#57bd25,#4dba2a,#42b631,#36b239,#2baf42,#20aa6b,#16a3a1,#1386c6,#106acc,#0e5acc,#0e5acb,#0e5acb)"></i><i style="background:linear-gradient(90deg,#f1d51d,#f4d31d,#f6d11e,#f8cb20,#f7bc24,#f7b427,#f7d11e,#f2d51d,#eed81d,#eada1c,#e2db1d,#d5d91e,#cfd81e,#d0d81e,#d4d91e,#dada1d,#e2db1d,#e8dc1c,#e9db1c,#eada1c,#ebd91c,#ecd91d,#ecd91d,#edd91d,#ecd91d,#ecd91c,#eada1c,#e9db1c,#e3db1d,#d5d91e,#c5d720,#a9d222,#87cc24,#78c924,#69c624,#61c224,#59be25,#4fba29,#44b72f,#39b337,#2fb03f,#24ac57,#1aa68b,#1492b8,#1175cc,#0e5acc,#0e5acc,#0e5acb)"></i><i style="background:linear-gradient(90deg,#f2d41d,#f5d21e,#f7d01e,#f8c521,#f7b726,#f7a82a,#f8c721,#f4d31e,#f0d61d,#ecd91d,#e9db1c,#e2db1d,#dada1d,#d8da1e,#dcda1d,#e1db1d,#e8dc1c,#e9db1c,#eada1c,#ebda1c,#ecd91c,#edd91d,#edd81d,#edd81d,#edd91d,#ecd91c,#ebda1c,#e9db1c,#e5dc1c,#d7d91e,#c7d71f,#aed321,#8ccd24,#7aca24,#6bc624,#62c224,#5abe24,#51bb28,#47b82d,#3db434,#32b13c,#28ae44,#1ea975,#159caa,#1280cc,#0f65cc,#0e5acc,#0e5acb)"></i><i style="background:linear-gradient(90deg,#f3d31d,#f6d21e,#f8ce1f,#f7c023,#f7b128,#f6a32c,#f7b726,#f7d11e,#f3d41d,#efd71d,#ecd91c,#e9db1c,#e6dc1c,#e2db1d,#e4db1c,#e8dc1c,#e9db1c,#eadb1c,#ebda1c,#ecd91c,#edd91d,#edd81d,#edd81d,#edd81d,#edd81d,#ecd91d,#ebda1c,#eadb1c,#e7dc1c,#d9da1d,#cad71f,#b2d421,#91ce23,#7cca24,#6ec724,#64c324,#5cbf24,#53bc27,#4ab92b,#40b632,#36b239,#2caf41,#22ab61,#17a59a,#138bc0,#106fcc,#0e5acc,#0e5acc)"></i><i style="background:linear-gradient(90deg,#f5d31e,#f7d11e,#f8c820,#f7ba25,#f7ac29,#f69e2e,#f7a62b,#f8c721,#f5d21e,#f1d51d,#eed81d,#ebda1c,#eadb1c,#e9dc1c,#e9dc1c,#e9db1c,#eadb1c,#ebda1c,#ecd91c,#edd91d,#edd81d,#eed81d,#eed81d,#eed81d,#edd81d,#edd91d,#ebd91c,#eada1c,#e8dc1c,#dcda1d,#ccd81f,#b7d421,#97cf23,#7fcb24,#71c824,#65c424,#5ec024,#56bd26,#4dba2a,#43b72f,#3ab437,#31b13e,#26ad4c,#1ba786,#1495b3,#117acc,#0f60cc,#0e5acc)"></i><i style="background:linear-gradient(90deg,#f6d21e,#f8d01e,#f8c322,#f7b526,#f7a72b,#f6992f,#f69530,#f7b726,#f8d01e,#f4d31d,#f0d61d,#edd81d,#ebd91c,#eada1c,#eada1c,#eada1c,#ebda1c,#ecd91c,#edd91d,#edd81d,#eed81d,#eed71d,#eed71d,#eed71d,#eed81d,#edd81d,#ecd91c,#eada1c,#e9dc1c,#dedb1d,#cfd81f,#bdd520,#9dd022,#82cb24,#74c824,#67c524,#60c124,#58bd25,#50bb29,#47b82d,#3eb534,#35b23a,#2aaf42,#1fa972,#15a0a6,#1285c8,#106acc,#0e5acc)"></i><i style="background:linear-gradient(90deg,#f6d11e,#f8cb1f,#f7be24,#f7b028,#f6a22c,#f69431,#f48539,#f7a72b,#f8c422,#f6d11e,#f3d41d,#f0d61d,#eed81d,#ecd91d,#ecd91c,#ecd91c,#ecd91d,#edd81d,#edd81d,#eed71d,#efd71d,#efd71d,#efd71d,#efd71d,#eed71d,#edd81d,#ecd91d,#ebda1c,#e9db1c,#e1db1d,#d2d91e,#c1d620,#a3d122,#84cc24,#77c924,#69c624,#62c224,#5bbe24,#53bc27,#4bb92b,#42b631,#39b337,#2eb040,#23ab5e,#18a595,#148fbb,#1175cc,#0e5ccc)"></i><i style="background:linear-gradient(90deg,#f7d01e,#f8c621,#f7b925,#f7ab29,#f69d2e,#f58f34,#f3813c,#f69730,#f7b526,#f8cd1f,#f5d21e,#f2d51d,#f0d61d,#eed71d,#edd81d,#edd81d,#edd81d,#eed81d,#eed71d,#efd71d,#efd71d,#f0d61d,#f0d61d,#efd71d,#efd71d,#eed81d,#edd81d,#ebda1c,#e9db1c,#e4db1c,#d5d91e,#c5d720,#aad222,#8acd24,#7aca24,#6cc724,#64c324,#5dc024,#56bd26,#4eba29,#46b72d,#3db534,#32b13d,#27ad4b,#1ca782,#1599ae,#127fcc,#0f66cc)"></i><i style="background:linear-gradient(90deg,#f8ce1f,#f7c123,#f7b427,#f7a62b,#f6992f,#f58b36,#f37d3e,#f48639,#f7a62b,#f7bf23,#f7d01e,#f4d31e,#f2d51d,#f0d61d,#efd71d,#efd71d,#efd71d,#efd71d,#efd61d,#f0d61d,#f0d61d,#f0d61d,#f0d61d,#f0d61d,#efd71d,#eed71d,#edd81d,#ecd91c,#eadb1c,#e7dc1c,#d9da1e,#c8d71f,#b1d321,#92ce23,#7eca24,#70c824,#66c424,#60c124,#59be24,#52bb28,#4ab92b,#41b632,#35b23a,#2aaf42,#20a96f,#16a3a2,#1389c3,#1070cc)"></i><i style="background:linear-gradient(90deg,#f8c920,#f7bc24,#f7af28,#f6a22c,#f69431,#f48639,#f27841,#f27343,#f69630,#f7b128,#f8c621,#f7d11e,#f4d31e,#f2d41d,#f1d51d,#f0d61d,#f0d61d,#f0d61d,#f0d61d,#f1d51d,#f1d51d,#f1d51d,#f1d51d,#f0d61d,#f0d61d,#efd71d,#eed81d,#ecd91d,#eada1c,#e8dc1c,#dcda1d,#ccd81f,#b8d521,#9acf23,#81cb24,#75c824,#68c624,#62c224,#5cbf24,#55bc26,#4fba29,#44b72f,#39b338,#2eb040,#23ab5c,#19a690,#1492b7,#117acc)"></i><i style="background:linear-gradient(90deg,#f8c422,#f7b726,#f7aa2a,#f69d2e,#f59034,#f3823b,#f27443,#f0674a,#f48539,#f6a22c,#f7b825,#f8ca20,#f6d11e,#f4d31e,#f3d41d,#f2d51d,#f1d51d,#f1d51d,#f2d51d,#f2d51d,#f2d51d,#f2d51d,#f2d51d,#f1d51d,#f0d61d,#efd61d,#eed71d,#edd81d,#ebda1c,#e9db1c,#e0db1d,#d1d91e,#c0d620,#a3d122,#85cc24,#79c924,#6dc724,#65c424,#5fc124,#59be24,#52bb27,#47b82c,#3cb435,#31b13d,#27ad4a,#1da87e,#159caa,#1283ca)"></i><i style="background:linear-gradient(90deg,#f7bf23,#f7b227,#f7a62b,#f6992f,#f58b36,#f37e3e,#f17145,#f0644c,#f27443,#f69332,#f7aa2a,#f7bd24,#f8cd1f,#f6d11e,#f5d31e,#f4d31d,#f3d41d,#f3d41d,#f3d41d,#f3d41d,#f3d41d,#f3d41d,#f2d41d,#f2d51d,#f1d51d,#f0d61d,#efd71d,#edd81d,#ecd91c,#eadb1c,#e4db1c,#d5d91e,#c5d71f,#acd321,#8fce23,#7eca24,#72c824,#68c524,#62c224,#5dbf24,#55bc26,#4bb92b,#3fb532,#35b23b,#2aaf42,#20aa6c,#17a49d,#138dbe)"></i><i style="background:linear-gradient(90deg,#f7ba25,#f7ae29,#f6a12d,#f69431,#f48738,#f27a40,#f16d47,#ef604e,#f0624d,#f4833b,#f69c2e,#f7b028,#f7c023,#f8cd1f,#f7d11e,#f5d21e,#f5d31e,#f4d31e,#f4d31d,#f4d31d,#f4d31d,#f4d31d,#f3d41d,#f3d41d,#f2d51d,#f1d51d,#f0d61d,#eed71d,#ecd91d,#eada1c,#e8dc1c,#dada1d,#cbd81f,#b6d421,#9acf23,#82cb24,#77c924,#6cc724,#65c424,#60c124,#58bd25,#4dba2a,#43b630,#38b338,#2eb040,#24ac5b,#1aa68c,#1496b2)"></i><i style="background:linear-gradient(90deg,#f7b626,#f7a92a,#f69d2e,#f59033,#f4833b,#f27642,#f06949,#ef5d50,#ee5655,#f17244,#f58d35,#f6a22c,#f7b327,#f7c123,#f8cc1f,#f7d11e,#f6d11e,#f6d21e,#f5d21e,#f5d21e,#f5d21e,#f4d31e,#f4d31e,#f3d31d,#f3d41d,#f2d51d,#f0d61d,#efd71d,#edd81d,#ebda1c,#e9db1c,#e0db1d,#d0d81e,#c1d620,#a6d122,#8acd24,#7dca24,#72c824,#69c624,#64c324,#5bbe24,#50bb28,#46b72d,#3bb436,#31b13d,#27ad49,#1da87b,#159fa7)"></i><i style="background:linear-gradient(90deg,#f7b128,#f7a52b,#f6992f,#f58c36,#f37f3d,#f27244,#f0664b,#ef5a52,#ee5656,#ef614e,#f37e3e,#f69431,#f7a62b,#f7b427,#f7c023,#f8c920,#f8d01e,#f7d11e,#f7d11e,#f6d11e,#f6d21e,#f6d21e,#f5d21e,#f4d31e,#f3d31d,#f2d41d,#f1d51d,#efd61d,#eed81d,#ecd91c,#eadb1c,#e5dc1c,#d6d91e,#c7d71f,#b2d421,#98cf23,#83cb24,#79c924,#6fc724,#66c424,#5dc024,#53bc27,#49b82c,#3eb533,#34b23b,#2aaf42,#21aa6a,#17a599)"></i><i style="background:linear-gradient(90deg,#f7ad29,#f6a12d,#f69531,#f48838,#f37b3f,#f16f46,#f0634d,#ee5753,#ee5756,#ee5656,#f16d47,#f48639,#f6982f,#f7a72b,#f7b427,#f7be24,#f8c521,#f8cb20,#f8cf1e,#f8d01e,#f7d11e,#f7d11e,#f6d11e,#f5d21e,#f4d31e,#f3d41d,#f2d51d,#f0d61d,#efd71d,#edd81d,#ebda1c,#e9dc1c,#ddda1d,#ced81f,#bfd620,#a6d222,#8ecd23,#80cb24,#77c924,#68c624,#5fc124,#56bd26,#4cb92a,#42b631,#37b339,#2db040,#24ac59,#1ba788)"></i><i style="background:linear-gradient(90deg,#f7a82a,#f69d2e,#f59033,#f4843a,#f27841,#f16c48,#ef604f,#ee5654,#ee5757,#ef5759,#ef5d50,#f27642,#f58a36,#f69a2f,#f7a72b,#f7b227,#f7ba25,#f7c123,#f8c621,#f8ca20,#f8cd1f,#f8d01e,#f7d11e,#f6d11e,#f5d21e,#f4d31e,#f3d41d,#f1d51d,#efd61d,#eed81d,#ecd91c,#eadb1c,#e4db1c,#d6d91e,#c8d71f,#b5d421,#9ed022,#88cc24,#7eca24,#6cc724,#61c224,#59be25,#4fba29,#45b72e,#3ab436,#31b13e,#27ae48,#1ea878)"></i><i style="background:linear-gradient(90deg,#f6a42c,#f6992f,#f58c35,#f3803c,#f27443,#f0684a,#ef5d50,#ee5655,#ee5757,#ef575a,#ee5756,#f0664b,#f37c3f,#f58d35,#f69b2e,#f7a62b,#f7af28,#f7b726,#f7bc24,#f7c123,#f8c521,#f8ca20,#f8ce1f,#f7d01e,#f6d11e,#f5d21e,#f4d31d,#f2d41d,#f0d61d,#efd71d,#edd91d,#ebda1c,#e9dc1c,#deda1d,#d0d81e,#c3d620,#b0d321,#9cd023,#82cb24,#70c724,#64c324,#5bbf24,#51bb28,#48b82c,#3eb534,#34b23b,#2aaf42,#21aa68)"></i><i style="background:linear-gradient(90deg,#f6a02d,#f69531,#f48938,#f37d3e,#f17145,#f0654c,#ee5a52,#ee5656,#ee5758,#ef575a,#ef575a,#ee5654,#f16d47,#f37f3d,#f58e35,#f69a2f,#f6a42c,#f7ac29,#f7b227,#f7b825,#f7bd24,#f8c222,#f8c721,#f8cd1f,#f7d01e,#f6d11e,#f5d21e,#f3d41d,#f2d51d,#f0d61d,#eed81d,#ecd91c,#eadb1c,#e6dc1c,#dada1d,#cdd81f,#c2d620,#b0d321,#87cc24,#74c824,#66c424,#5dc024,#54bc27,#4bb92b,#41b632,#37b339,#2db040,#24ac57)"></i><i style="background:linear-gradient(90deg,#f69c2e,#f59133,#f4853a,#f27940,#f16d47,#f0624d,#ee5753,#ee5656,#ef5759,#ef575b,#ef585d,#ee5758,#ef5d50,#f17145,#f3803c,#f58d35,#f6982f,#f6a12d,#f7a82a,#f7af28,#f7b427,#f7ba25,#f7c023,#f8c621,#f8cc1f,#f7d11e,#f6d21e,#f4d31e,#f3d41d,#f1d51d,#efd71d,#edd81d,#ebda1c,#e9db1c,#e3db1c,#d8da1e,#cdd81f,#bfd620,#91ce23,#78c924,#68c524,#5fc124,#57bd25,#4dba2a,#44b72f,#3ab437,#30b13e,#27ae48)"></i><i style="background:linear-gradient(90deg,#f6992f,#f58d35,#f3813c,#f27642,#f16a49,#ef5f4f,#ee5654,#ee5757,#ef5759,#ef585b,#ef585d,#ef585c,#ee5656,#ef624d,#f27244,#f3803c,#f58c36,#f69530,#f69e2e,#f7a52b,#f7ab29,#f7b128,#f7b826,#f7be24,#f8c521,#f8cd1f,#f7d11e,#f6d21e,#f4d31d,#f2d41d,#f0d61d,#eed71d,#edd91d,#ebda1c,#e9db1c,#e3db1d,#d9da1e,#c5d720,#9acf23,#7cca24,#6ac624,#61c224,#59be24,#50bb29,#46b82d,#3db434,#33b23c,#2aaf42)"></i><i style="background:linear-gradient(90deg,#f69531,#f48937,#f37e3e,#f27244,#f0674a,#ef5c50,#ee5655,#ee5757,#ef5759,#ef585c,#ef585e,#ef595f,#ef575a,#ee5655,#f0644c,#f27344,#f37f3d,#f48937,#f69232,#f69a2f,#f6a12c,#f7a82a,#f7af28,#f7b626,#f7be24,#f8c621,#f8ce1f,#f7d11e,#f5d21e,#f3d31d,#f2d51d,#f0d61d,#eed71d,#ecd91d,#ebda1c,#e9db1c,#e5dc1c,#cad71f,#a3d122,#80cb24,#6ec724,#63c324,#5bbf24,#52bb27,#49b82b,#40b532,#36b239,#2db040)"></i><i style="background:linear-gradient(90deg,#f59133,#f48639,#f37a40,#f16f46,#f0644c,#ee5952,#ee5656,#ee5758,#ef575a,#ef585c,#ef585e,#ef5960,#ef585e,#ee5758,#ee5654,#f0654c,#f17145,#f37c3e,#f48639,#f58f34,#f69730,#f69f2d,#f7a62b,#f7ae29,#f7b526,#f7be24,#f8c621,#f8cf1e,#f7d11e,#f5d21e,#f3d41d,#f1d51d,#f0d61d,#eed71d,#ecd91d,#ebda1c,#e8dc1c,#cfd81f,#add321,#84cc24,#72c824,#65c424,#5dc024,#55bc26,#4cb92a,#42b630,#39b337,#30b13e)"></i><i style="background:linear-gradient(90deg,#f58d35,#f4823b,#f27741,#f16c48,#ef614e,#ee5754,#ee5656,#ee5758,#ef575a,#ef585c,#ef585e,#ef5960,#f05962,#ef585c,#ee5758,#ee5654,#f0644c,#f17046,#f27a40,#f4833a,#f58c36,#f69531,#f69c2e,#f6a42c,#f7ad29,#f7b526,#f7be24,#f8c721,#f8d01e,#f6d11e,#f5d21e,#f3d41d,#f1d51d,#f0d61d,#eed71d,#edd81d,#e9db1c,#d4d91e,#b5d421,#89cd24,#76c924,#67c524,#5fc124,#57bd25,#4eba29,#45b72e,#3cb435,#33b13c)"></i><i style="background:linear-gradient(90deg,#f48a37,#f37f3d,#f27443,#f06949,#ef5f4f,#ee5654,#ee5757,#ef5759,#ef585b,#ef585d,#ef585f,#ef5960,#f05962,#ef5960,#ef585b,#ee5757,#ee5654,#f0624d,#f16d47,#f27741,#f3803c,#f48937,#f69232,#f69b2e,#f6a32c,#f7ac29,#f7b526,#f7be24,#f8c721,#f8d01e,#f6d11e,#f5d21e,#f3d41d,#f2d51d,#f0d61d,#eed81d,#eadb1c,#d9da1e,#bed620,#93ce23,#7aca24,#69c624,#61c224,#5abe24,#51bb28,#48b82c,#3fb533,#36b23a)"></i><i style="background:linear-gradient(90deg,#f48639,#f37b3f,#f17145,#f0664b,#ef5c51,#ee5655,#ee5757,#ef5759,#ef585b,#ef585d,#ef585f,#ef5961,#f05962,#f05964,#ef585f,#ef585b,#ee5757,#ee5654,#ef604e,#f16b48,#f27443,#f37e3e,#f48738,#f59033,#f69a2f,#f6a32c,#f7ab29,#f7b427,#f7bd24,#f8c621,#f8cf1e,#f7d11e,#f5d21e,#f4d31d,#f3d41d,#eed71d,#eada1c,#ddda1d,#c4d720,#9bd023,#7eca24,#6dc724,#63c324,#5cbf24,#53bc27,#4ab92b,#41b631,#38b338)"></i><i style="background:linear-gradient(90deg,#f4833b,#f27841,#f16e47,#f0634c,#ee5952,#ee5655,#ee5758,#ef575a,#ef585c,#ef585d,#ef585f,#ef5961,#f05962,#f05a64,#f05963,#ef585e,#ef585b,#ee5758,#ee5655,#ef5d50,#f0684a,#f17244,#f37b3f,#f4853a,#f58f34,#f6982f,#f6a12d,#f7aa2a,#f7b327,#f7bb24,#f8c422,#f8cc1f,#f7d11e,#f6d11e,#f3d41d,#efd71d,#ebda1c,#e2db1d,#c9d71f,#a4d122,#81cb24,#71c824,#65c424,#5ec024,#55bc26,#4dba2a,#44b72f,#3bb436)"></i><i style="background:linear-gradient(90deg,#f3803d,#f27542,#f16b48,#ef614e,#ee5754,#ee5656,#ee5758,#ef575a,#ef585c,#ef585e,#ef595f,#ef5961,#f05963,#f05a64,#f05a65,#f05962,#ef585e,#ef585b,#ee5758,#ee5655,#ef5b51,#f0654c,#f16f46,#f27940,#f4833b,#f58d35,#f69630,#f69f2d,#f7a82b,#f7b028,#f7b925,#f7c023,#f8c721,#f8d01e,#f4d31d,#f0d61d,#ecd91c,#e6dc1c,#cdd81f,#add321,#85cc24,#75c824,#67c524,#5fc124,#58bd25,#4fba29,#47b82d,#3eb534)"></i><i style="background:linear-gradient(90deg,#f37d3e,#f27244,#f0684a,#ef5e4f,#ee5654,#ee5756,#ef5759,#ef575a,#ef585c,#ef585e,#ef5960,#ef5961,#f05963,#f05a64,#f05a65,#f05a66,#f05962,#ef585f,#ef585b,#ef5759,#ee5656,#ee5753,#ef624d,#f16c48,#f27642,#f3803c,#f48a37,#f69332,#f69c2e,#f6a42c,#f7ac29,#f7b427,#f7ba25,#f8cf1e,#f4d31e,#f0d61d,#ecd91d,#e8dc1c,#d2d91e,#b5d421,#8ccd24,#78c924,#69c624,#61c224,#5abe24,#52bb28,#49b82b,#41b632)"></i><i style="background:linear-gradient(90deg,#f27940,#f16f46,#f0654b,#ef5c51,#ee5655,#ee5757,#ef5759,#ef585b,#ef585d,#ef585e,#ef5960,#f05962,#f05963,#f05a64,#f05a66,#f05b67,#f05a66,#f05962,#ef585f,#ef585c,#ef5759,#ee5757,#ee5654,#ef5f4f,#f06949,#f27344,#f37d3e,#f48639,#f58f34,#f69730,#f69f2d,#f7a62b,#f7b726,#f8cc1f,#f5d21e,#f1d51d,#edd81d,#e9db1c,#d6d91e,#bdd520,#94ce23,#7cca24,#6cc724,#63c324,#5cbf24,#54bc27,#4cb92a,#43b630)"></i><i style="background:linear-gradient(90deg,#f27642,#f16c47,#f0634d,#ee5952,#ee5655,#ee5757,#ef5759,#ef585b,#ef585d,#ef585f,#ef5960,#f05962,#f05963,#f05a65,#f05a66,#f05b67,#f05c68,#f05a66,#f05963,#ef5960,#ef585d,#ef575a,#ee5758,#ee5655,#ef5b51,#f0654c,#f16f46,#f27841,#f3813c,#f48937,#f59133,#f69f2d,#f7b427,#f8ca20,#f5d21e,#f1d51d,#eed81d,#eadb1c,#dbda1d,#c3d620,#9dd022,#7fcb24,#70c724,#65c424,#5ec024,#56bd26,#4eba29,#46b72e)"></i><i style="background:linear-gradient(90deg,#f27443,#f06a49,#ef604e,#ee5754,#ee5656,#ee5758,#ef575a,#ef585c,#ef585d,#ef585f,#ef5961,#f05962,#f05963,#f05a65,#f05a66,#f05b67,#f05c68,#f05d69,#f05b67,#f05964,#ef5961,#ef585e,#ef585b,#ef5759,#ee5756,#ee5654,#ef604f,#f06949,#f17145,#f27940,#f48838,#f69d2e,#f7b227,#f8c721,#f6d21e,#f2d51d,#eed71d,#eada1c,#dfdb1d,#c7d71f,#a5d122,#83cb24,#73c824,#67c524,#60c124,#58bd25,#50bb28,#48b82c)"></i><i style="background:linear-gradient(90deg,#f17145,#f0674a,#ef5e50,#ee5654,#ee5756,#ee5758,#ef575a,#ef585c,#ef585e,#ef595f,#ef5961,#f05962,#f05964,#f05a65,#f05a66,#f05b67,#f05c68,#f05d69,#f05d69,#f05c68,#f05a65,#f05962,#ef585f,#ef585c,#ef575a,#ee5758,#ee5655,#ee5952,#ef614e,#f17145,#f48639,#f69b2e,#f7b028,#f8c521,#f6d11e,#f2d41d,#efd71d,#ebda1c,#e3db1c,#ccd81f,#add321,#86cc24,#77c924,#68c624,#61c224,#5abe24,#52bb27,#4ab92b)"></i><i style="background:linear-gradient(90deg,#f16e47,#f0644c,#ef5b51,#ee5655,#ee5757,#ef5759,#ef575b,#ef585c,#ef585e,#ef5960,#ef5961,#f05962,#f05a64,#f05a65,#f05a66,#f05b67,#f05c68,#f05d69,#f05d69,#f05d69,#f05d69,#f05a66,#f05963,#ef5960,#ef585e,#ef585b,#ef5759,#ee5757,#ef5c50,#f17045,#f4843a,#f6992f,#f7ae29,#f8c222,#f7d11e,#f3d41d,#efd71d,#ecd91c,#e7dc1c,#d0d81e,#b5d421,#8ecd23,#7aca24,#6bc624,#63c324,#5cbf24,#55bc26,#4dba2a)"></i><i style="background:linear-gradient(90deg,#f16b48,#ef624d,#ee5952,#ee5655,#ee5757,#ef5759,#ef585b,#ef585d,#ef585e,#ef5960,#ef5961,#f05963,#f05a64,#f05a65,#f05a66,#f05b67,#f05c68,#f05d69,#f05d69,#f05d69,#f05c68,#f05b67,#f05a65,#f05963,#ef5961,#ef585e,#ef575b,#ee5757,#ef5b51,#f16f46,#f4833b,#f69830,#f7ac29,#f7c023,#f7d11e,#f3d31d,#f0d61d,#ecd91d,#e9dc1c,#d4d91e,#bcd520,#96cf23,#7dca24,#6fc724,#65c424,#5ec024,#57bd25,#4fba29)"></i></div>
<div class="map" style="left:312.50px;top:12.80px;width:167.20px;height:168.30px"><i style="background:linear-gradient(90deg,#f0d61d,#efd61d,#efd71d,#efd71d,#efd71d,#eed71d,#eed81d,#eed81d,#edd81d,#edd91d,#ecd91c,#ebda1c,#eada1c,#e9db1c,#e7dc1c,#deda1d,#d4d91e,#c9d71f,#bbd520,#a8d222,#94ce23,#85cc24,#7dca24,#77c924,#74c824,#73c824,#75c824,#76c924,#79c924,#7cca24,#80cb24,#85cc24,#91ce23,#9ed022,#aad222,#b5d421,#c0d620,#c5d720,#cad71f,#cdd81f,#d0d81e,#d3d91e,#d5d91e,#d6d91e,#d7d91e,#d8da1e,#d8da1e,#d8da1e)"></i><i style="background:linear-gradient(90deg,#f0d61d,#f0d61d,#efd71d,#efd71d,#efd71d,#eed71d,#eed71d,#eed81d,#edd81d,#edd91d,#ecd91d,#ebda1c,#eada1c,#e9db1c,#e8dc1c,#dfdb1d,#d5d91e,#cad71f,#bdd520,#a9d222,#8ccd24,#7fca24,#77c924,#72c824,#6fc724,#6ec724,#6fc724,#73c824,#79c924,#7cca24,#81cb24,#86cc24,#92ce23,#9fd022,#abd221,#b7d421,#c1d620,#c6d71f,#cad81f,#ced81f,#d1d91e,#d3d91e,#d5d91e,#d6d91e,#d7da1e,#d8da1e,#d8da1e,#d8da1e)"></i><i style="background:linear-gradient(90deg,#f0d61d,#f0d61d,#efd71d,#efd71d,#efd71d,#eed71d,#eed71d,#eed81d,#edd81d,#edd81d,#ecd91d,#ebd91c,#eada1c,#e9db1c,#e8dc1c,#e0db1d,#d6d91e,#cbd81f,#bbd520,#9acf23,#83cb24,#79c924,#72c824,#6dc724,#69c624,#69c624,#6ac624,#6dc724,#73c824,#7cca24,#81cb24,#86cc24,#94ce23,#a0d122,#add321,#b8d521,#c1d620,#c7d71f,#cbd81f,#cfd81f,#d1d91e,#d4d91e,#d5d91e,#d7d91e,#d8da1e,#d8da1e,#d8da1e,#d8da1e)"></i><i style="background:linear-gradient(90deg,#f0d61d,#f0d61d,#efd61d,#efd71d,#efd71d,#eed71d,#eed71d,#eed81d,#edd81d,#edd81d,#ecd91d,#ebd91c,#ebda1c,#eadb1c,#e8dc1c,#e1db1d,#d7d91e,#c9d71f,#acd221,#8bcd24,#7dca24,#74c824,#6dc724,#68c624,#67c524,#66c524,#67c524,#69c624,#6ec724,#76c924,#80cb24,#88cc24,#95cf23,#a2d122,#aed321,#bad520,#c2d620,#c7d71f,#ccd81f,#cfd81e,#d2d91e,#d4d91e,#d6d91e,#d7d91e,#d8da1e,#d8da1e,#d8da1e,#d8da1e)"></i><i style="background:linear-gradient(90deg,#f0d61d,#f0d61d,#efd61d,#efd71d,#efd71d,#efd71d,#eed71d,#eed81d,#edd81d,#edd81d,#ecd91d,#ecd91c,#ebda1c,#eadb1c,#e8dc1c,#e2db1d,#d7d91e,#c0d620,#9dd022,#83cb24,#78c924,#6fc724,#69c624,#66c424,#65c424,#64c324,#65c424,#66c524,#69c624,#71c824,#7bca24,#87cc24,#96cf23,#a4d122,#b0d321,#bbd520,#c3d620,#c8d71f,#ccd81f,#d0d81e,#d2d91e,#d5d91e,#d6d91e,#d7d91e,#d8da1e,#d8da1e,#d8da1e,#d8da1e)"></i><i style="background:linear-gradient(90deg,#f0d61d,#f0d61d,#f0d61d,#efd71d,#efd71d,#efd71d,#eed71d,#eed81d,#eed81d,#edd81d,#ecd91d,#ecd91c,#ebda1c,#eadb1c,#e9dc1c,#e3db1d,#cdd81f,#b0d321,#8fcd23,#7eca24,#73c824,#6bc624,#67c524,#64c324,#63c324,#62c224,#63c324,#64c324,#67c524,#6cc724,#75c924,#81cb24,#98cf23,#a5d122,#b2d421,#bdd520,#c4d720,#c9d71f,#cdd81f,#d0d81e,#d3d91e,#d5d91e,#d6d91e,#d7da1e,#d8da1e,#d8da1e,#d8da1e,#d8da1e)"></i><i style="background:linear-gradient(90deg,#f0d61d,#f0d61d,#f0d61d,#efd71d,#efd71d,#efd71d,#eed71d,#eed71d,#eed81d,#edd81d,#edd91d,#ecd91c,#ebda1c,#eada1c,#e9db1c,#dbda1d,#c3d720,#a2d122,#84cc24,#79c924,#6fc724,#68c524,#65c424,#62c224,#61c224,#60c124,#61c224,#62c224,#65c424,#68c624,#71c824,#7cca24,#8dcd24,#a7d222,#b3d421,#bed620,#c5d720,#cad71f,#ced81f,#d1d91e,#d3d91e,#d5d91e,#d7d91e,#d8da1e,#d8da1e,#d8da1e,#d8da1e,#d8da1e)"></i><i style="background:linear-gradient(90deg,#f0d61d,#f0d61d,#f0d61d,#efd61d,#efd71d,#efd71d,#eed71d,#eed71d,#eed81d,#edd81d,#edd81d,#ecd91c,#ebda1c,#eada1c,#e8dc1c,#d1d91e,#b7d421,#94ce23,#7fcb24,#74c824,#6bc624,#66c424,#63c324,#61c224,#5fc124,#5fc124,#5fc124,#61c124,#63c324,#66c524,#6cc724,#77c924,#84cc24,#a3d122,#b5d421,#c0d620,#c6d71f,#cad81f,#ced81f,#d1d91e,#d4d91e,#d6d91e,#d7d91e,#d8da1e,#d8da1e,#d8da1e,#d8da1e,#d8da1e)"></i><i style="background:linear-gradient(90deg,#f0d61d,#f0d61d,#f0d61d,#efd61d,#efd71d,#efd71d,#efd71d,#eed71d,#eed81d,#edd81d,#edd81d,#ecd91d,#ebda1c,#eada1c,#e0db1d,#c8d71f,#a8d222,#87cc24,#7bca24,#70c724,#68c524,#64c324,#61c224,#5fc124,#5ec024,#5dc024,#5ec024,#5fc124,#61c224,#64c424,#69c624,#73c824,#7fcb24,#97cf23,#b6d421,#c1d620,#c7d71f,#cbd81f,#cfd81e,#d2d91e,#d4d91e,#d6d91e,#d7d91e,#d8da1e,#d8da1e,#d8da1e,#d8da1e,#d8da1e)"></i><i style="background:linear-gradient(90deg,#f0d61d,#f0d61d,#f0d61d,#f0d61d,#efd71d,#efd71d,#efd71d,#eed71d,#eed81d,#edd81d,#edd81d,#ecd91d,#ebd91c,#e9db1c,#d6d91e,#bed620,#9bd023,#82cb24,#76c924,#6cc724,#66c524,#63c324,#60c124,#5ec024,#5dbf24,#5cbf24,#5cbf24,#5ec024,#60c124,#63c324,#67c524,#6fc724,#7bca24,#8bcd24,#afd321,#c2d620,#c7d71f,#ccd81f,#d0d81e,#d3d91e,#d5d91e,#d6d91e,#d7da1e,#d8da1e,#d8da1e,#d8da1e,#d8da1e,#d8da1e)"></i><i style="background:linear-gradient(90deg,#f1d61d,#f0d61d,#f0d61d,#f0d61d,#efd71d,#efd71d,#efd71d,#eed71d,#eed81d,#eed81d,#edd81d,#ecd91d,#ecd91c,#e5dc1c,#ccd81f,#b0d321,#8ecd23,#7dca24,#72c824,#69c624,#65c424,#61c224,#5fc024,#5dbf24,#5bbf24,#5bbe24,#5bbf24,#5cbf24,#5ec024,#61c224,#65c424,#6bc724,#77c924,#84cc24,#a4d122,#c3d620,#c8d71f,#cdd81f,#d0d81e,#d3d91e,#d5d91e,#d7d91e,#d8da1e,#d8da1e,#d8da1e,#d8da1e,#d8da1e,#d8da1e)"></i><i style="background:linear-gradient(90deg,#f1d51d,#f0d61d,#f0d61d,#f0d61d,#efd61d,#efd71d,#efd71d,#eed71d,#eed71d,#eed81d,#edd81d,#ecd91d,#eada1c,#dbda1d,#c3d720,#a2d122,#84cc24,#79c924,#6fc724,#67c524,#63c324,#60c124,#5dc024,#5cbf24,#5abe24,#5abe24,#5abe24,#5bbf24,#5dc024,#60c124,#64c324,#69c624,#73c824,#80cb24,#99cf23,#bdd520,#c9d71f,#cdd81f,#d1d91e,#d4d91e,#d6d91e,#d7d91e,#d8da1e,#d8da1e,#d8da1e,#d8da1e,#d8da1e,#d8da1e)"></i><i style="background:linear-gradient(90deg,#f1d51d,#f0d61d,#f0d61d,#f0d61d,#f0d61d,#efd71d,#efd71d,#efd71d,#eed71d,#eed81d,#edd81d,#edd91d,#e9dc1c,#d2d91e,#b7d421,#95cf23,#80cb24,#75c824,#6bc624,#66c424,#62c224,#5fc124,#5cbf24,#5bbe24,#59be24,#59be25,#59be24,#5abe24,#5cbf24,#5fc124,#63c324,#67c524,#70c824,#7dca24,#90ce23,#b3d421,#cad71f,#ced81f,#d2d91e,#d4d91e,#d6d91e,#d7d91e,#d8da1e,#d8da1e,#d8da1e,#d8da1e,#d8da1e,#d7da1e)"></i><i style="background:linear-gradient(90deg,#f1d51d,#f1d61d,#f0d61d,#f0d61d,#f0d61d,#efd71d,#efd71d,#efd71d,#eed71d,#eed81d,#edd81d,#ecd91c,#e1db1d,#c8d71f,#a9d222,#88cc24,#7bca24,#71c824,#68c624,#64c324,#61c224,#5ec024,#5cbf24,#5abe24,#58bd25,#58bd25,#58bd25,#5abe24,#5bbf24,#5ec024,#62c224,#66c424,#6dc724,#79c924,#87cc24,#a9d222,#c7d71f,#cfd81f,#d2d91e,#d4d91e,#d6d91e,#d7da1e,#d8da1e,#d8da1e,#d8da1e,#d8da1e,#d8da1e,#d7d91e)"></i><i style="background:linear-gradient(90deg,#f1d51d,#f1d51d,#f0d61d,#f0d61d,#f0d61d,#efd61d,#efd71d,#efd71d,#eed71d,#eed81d,#edd81d,#eadb1c,#d7d91e,#bfd620,#9cd022,#82cb24,#77c924,#6dc724,#67c524,#63c324,#60c124,#5dc024,#5bbe24,#59be24,#58bd25,#57bd25,#58bd25,#59be25,#5bbe24,#5dc024,#61c224,#65c424,#6bc624,#76c924,#83cb24,#a0d022,#c1d620,#d0d81e,#d3d91e,#d5d91e,#d7d91e,#d8da1e,#d8da1e,#d8da1e,#d8da1e,#d8da1e,#d8da1e,#d7d91e)"></i><i style="background:linear-gradient(90deg,#f1d51d,#f1d51d,#f0d61d,#f0d61d,#f0d61d,#efd61d,#efd71d,#efd71d,#eed71d,#eed81d,#edd81d,#e8dc1c,#ced81f,#b1d321,#8fce23,#7eca24,#73c824,#69c624,#65c424,#62c224,#5fc024,#5cbf24,#5abe24,#58bd25,#57bd25,#57bd26,#57bd25,#58bd25,#5abe24,#5dbf24,#60c124,#64c324,#69c624,#74c824,#80cb24,#98cf23,#b9d520,#cfd81f,#d3d91e,#d5d91e,#d7d91e,#d8da1e,#d8da1e,#d8da1e,#d8da1e,#d8da1e,#d7da1e,#d7d91e)"></i><i style="background:linear-gradient(90deg,#f1d51d,#f1d51d,#f1d61d,#f0d61d,#f0d61d,#f0d61d,#efd71d,#efd71d,#eed71d,#eed71d,#ebda1c,#dedb1d,#c5d720,#a3d122,#85cc24,#79c924,#6fc724,#68c524,#64c324,#61c124,#5ec024,#5bbf24,#59be24,#58bd25,#57bd26,#56bd26,#56bd26,#58bd25,#5abe24,#5cbf24,#5fc124,#63c324,#68c524,#71c824,#7dca24,#90ce23,#b1d321,#cad71f,#d4d91e,#d6d91e,#d7d91e,#d8da1e,#d8da1e,#d8da1e,#d8da1e,#d8da1e,#d7d91e,#d6d91e)"></i><i style="background:linear-gradient(90deg,#f1d51d,#f1d51d,#f1d51d,#f0d61d,#f0d61d,#f0d61d,#efd71d,#efd71d,#efd71d,#eed71d,#e9db1c,#d4d91e,#b9d520,#96cf23,#80cb24,#75c824,#6bc624,#66c424,#63c324,#60c124,#5dc024,#5bbe24,#59be25,#57bd25,#56bd26,#56bd26,#56bd26,#57bd25,#59be24,#5cbf24,#5fc024,#62c224,#67c524,#6fc724,#7bca24,#89cd24,#aad222,#c5d71f,#d4d91e,#d6d91e,#d7d91e,#d8da1e,#d8da1e,#d8da1e,#d8da1e,#d8da1e,#d7d91e,#d6d91e)"></i><i style="background:linear-gradient(90deg,#f2d51d,#f1d51d,#f1d51d,#f0d61d,#f0d61d,#f0d61d,#efd61d,#efd71d,#efd71d,#edd81d,#e7dc1c,#cbd81f,#abd221,#89cc24,#7bca24,#71c824,#68c624,#65c424,#61c224,#5fc024,#5cbf24,#5abe24,#58bd25,#57bd25,#56bd26,#56bd26,#56bd26,#57bd25,#59be25,#5bbf24,#5ec024,#62c224,#66c424,#6dc724,#79c924,#85cc24,#a3d122,#c1d620,#d2d91e,#d6d91e,#d8da1e,#d8da1e,#d8da1e,#d8da1e,#d8da1e,#d7da1e,#d7d91e,#d6d91e)"></i><i style="background:linear-gradient(90deg,#f2d51d,#f1d51d,#f1d51d,#f1d61d,#f0d61d,#f0d61d,#efd61d,#efd71d,#efd71d,#ebd91c,#ddda1d,#c2d620,#9dd022,#82cb24,#76c924,#6cc724,#67c524,#63c324,#60c124,#5ec024,#5cbf24,#5abe24,#58bd25,#57bd25,#56bd26,#55bc26,#56bd26,#57bd25,#58bd25,#5bbe24,#5ec024,#61c224,#65c424,#6cc724,#77c924,#82cb24,#9cd022,#bbd520,#ced81f,#d7d91e,#d8da1e,#d8da1e,#d8da1e,#d8da1e,#d8da1e,#d7d91e,#d6d91e,#d6d91e)"></i><i style="background:linear-gradient(90deg,#f2d51d,#f1d51d,#f1d51d,#f1d61d,#f0d61d,#f0d61d,#f0d61d,#efd71d,#efd71d,#eadb1c,#d3d91e,#b5d421,#90ce23,#7dca24,#72c824,#69c624,#65c424,#62c224,#5fc124,#5dc024,#5bbf24,#59be24,#58bd25,#57bd26,#56bd26,#55bc26,#56bd26,#57bd26,#58bd25,#5bbe24,#5dc024,#61c224,#65c424,#6ac624,#75c824,#80cb24,#96cf23,#b4d421,#cad71f,#d7d91e,#d8da1e,#d8da1e,#d8da1e,#d8da1e,#d8da1e,#d7d91e,#d6d91e,#d5d91e)"></i><i style="background:linear-gradient(90deg,#f2d51d,#f2d51d,#f1d51d,#f1d51d,#f0d61d,#f0d61d,#f0d61d,#efd71d,#eed81d,#e8dc1c,#cad71f,#a7d222,#85cc24,#78c924,#6ec724,#67c524,#64c324,#61c224,#5ec024,#5cbf24,#5bbe24,#59be24,#58bd25,#56bd26,#56bd26,#55bc26,#56bd26,#57bd25,#58bd25,#5bbe24,#5dc024,#60c124,#64c424,#69c624,#73c824,#7eca24,#90ce23,#aed321,#c6d71f,#d5d91e,#d8da1e,#d8da1e,#d8da1e,#d8da1e,#d7da1e,#d7d91e,#d6d91e,#d5d91e)"></i><i style="background:linear-gradient(90deg,#f2d41d,#f2d51d,#f1d51d,#f1d51d,#f1d61d,#f0d61d,#f0d61d,#efd61d,#ecd91c,#deda1d,#c1d620,#99cf23,#7fcb24,#73c824,#6ac624,#65c424,#62c224,#60c124,#5ec024,#5cbf24,#5abe24,#59be24,#58bd25,#57bd26,#56bd26,#56bd26,#56bd26,#57bd25,#58bd25,#5abe24,#5dc024,#60c124,#64c324,#68c624,#72c824,#7dca24,#8bcd24,#a8d222,#c3d620,#d1d91e,#d8da1e,#d8da1e,#d8da1e,#d8da1e,#d7d91e,#d6d91e,#d6d91e,#d5d91e)"></i><i style="background:linear-gradient(90deg,#f2d41d,#f2d51d,#f1d51d,#f1d51d,#f1d61d,#f0d61d,#f0d61d,#f0d61d,#eada1c,#d4d91e,#b3d421,#8bcd24,#7aca24,#6fc724,#67c524,#64c324,#61c224,#5fc124,#5dc024,#5cbf24,#5abe24,#59be25,#58bd25,#57bd25,#56bd26,#56bd26,#56bd26,#57bd25,#58bd25,#5bbe24,#5dc024,#60c124,#64c324,#68c524,#70c824,#7bca24,#86cc24,#a3d122,#bfd620,#ced81f,#d8da1e,#d8da1e,#d8da1e,#d8da1e,#d7d91e,#d6d91e,#d5d91e,#d4d91e)"></i><i style="background:linear-gradient(90deg,#f2d41d,#f2d51d,#f2d51d,#f1d51d,#f1d51d,#f0d61d,#f0d61d,#efd71d,#e9dc1c,#cbd81f,#a5d122,#83cb24,#75c924,#6bc624,#66c424,#62c224,#60c124,#5ec024,#5dbf24,#5bbf24,#5abe24,#59be25,#58bd25,#57bd25,#56bd26,#56bd26,#56bd26,#57bd25,#59be25,#5bbe24,#5dc024,#60c124,#63c324,#67c524,#6fc724,#79c924,#84cc24,#9ed022,#b9d520,#cbd81f,#d7da1e,#d8da1e,#d8da1e,#d7da1e,#d7d91e,#d6d91e,#d5d91e,#d4d91e)"></i><i style="background:linear-gradient(90deg,#f3d41d,#f2d41d,#f2d51d,#f1d51d,#f1d51d,#f1d61d,#f0d61d,#edd81d,#e2db1d,#c2d620,#97cf23,#7eca24,#71c824,#68c524,#64c324,#61c224,#5fc124,#5ec024,#5cbf24,#5bbf24,#5abe24,#59be24,#58bd25,#57bd25,#57bd25,#57bd26,#57bd25,#58bd25,#59be24,#5bbe24,#5dc024,#60c124,#63c324,#67c524,#6ec724,#78c924,#83cb24,#99cf23,#b4d421,#c8d71f,#d4d91e,#d8da1e,#d8da1e,#d7d91e,#d6d91e,#d5d91e,#d4d91e,#d3d91e)"></i><i style="background:linear-gradient(90deg,#f3d41d,#f2d41d,#f2d51d,#f1d51d,#f1d51d,#f1d61d,#f0d61d,#ecd91c,#d8da1e,#b5d421,#8acd24,#78c924,#6cc724,#66c424,#62c224,#60c124,#5ec024,#5dc024,#5cbf24,#5bbe24,#5abe24,#59be24,#58bd25,#58bd25,#57bd25,#57bd25,#57bd25,#58bd25,#59be24,#5bbf24,#5dc024,#60c124,#63c324,#67c524,#6dc724,#77c924,#81cb24,#94ce23,#afd321,#c5d720,#d1d91e,#d8da1e,#d8da1e,#d7d91e,#d6d91e,#d5d91e,#d4d91e,#d3d91e)"></i><i style="background:linear-gradient(90deg,#f3d41d,#f2d41d,#f2d41d,#f2d51d,#f1d51d,#f1d51d,#f0d61d,#eadb1c,#cfd81e,#a8d222,#82cb24,#73c824,#68c624,#64c324,#61c224,#5fc124,#5ec024,#5cbf24,#5cbf24,#5bbe24,#5abe24,#59be24,#59be25,#58bd25,#58bd25,#58bd25,#58bd25,#59be25,#5abe24,#5bbf24,#5dc024,#60c124,#63c324,#66c524,#6cc724,#76c924,#80cb24,#90ce23,#aad222,#c2d620,#cfd81f,#d8da1e,#d7da1e,#d7d91e,#d6d91e,#d5d91e,#d4d91e,#d3d91e)"></i><i style="background:linear-gradient(90deg,#f3d41d,#f3d41d,#f2d41d,#f2d51d,#f1d51d,#f1d51d,#f0d61d,#e8dc1c,#c7d71f,#9acf23,#7dca24,#6fc724,#66c524,#62c224,#60c124,#5ec024,#5dc024,#5cbf24,#5bbf24,#5bbe24,#5abe24,#5abe24,#59be24,#59be25,#58bd25,#58bd25,#59be25,#59be24,#5abe24,#5cbf24,#5ec024,#60c124,#63c324,#66c524,#6bc724,#74c824,#7eca24,#8bcd24,#a5d122,#bed620,#ccd81f,#d7d91e,#d7d91e,#d6d91e,#d5d91e,#d4d91e,#d3d91e,#d2d91e)"></i><i style="background:linear-gradient(90deg,#f3d41d,#f3d41d,#f2d41d,#f2d51d,#f1d51d,#f1d51d,#eed81d,#e1db1d,#bdd620,#8ccd24,#78c924,#6ac624,#64c324,#61c224,#5fc024,#5dc024,#5cbf24,#5cbf24,#5bbf24,#5bbe24,#5abe24,#5abe24,#5abe24,#59be24,#59be24,#59be24,#59be24,#5abe24,#5bbe24,#5cbf24,#5ec024,#60c124,#63c324,#66c424,#6bc624,#73c824,#7dca24,#87cc24,#a0d122,#b9d521,#c9d71f,#d4d91e,#d7d91e,#d6d91e,#d5d91e,#d4d91e,#d3d91e,#d1d91e)"></i><i style="background:linear-gradient(90deg,#f3d41d,#f3d41d,#f3d41d,#f2d41d,#f2d51d,#f1d51d,#ecd91d,#d8da1e,#b0d321,#83cb24,#73c824,#67c524,#62c324,#5fc124,#5ec024,#5dbf24,#5cbf24,#5bbf24,#5bbf24,#5bbe24,#5bbe24,#5abe24,#5abe24,#5abe24,#5abe24,#5abe24,#5abe24,#5abe24,#5bbf24,#5cbf24,#5ec024,#60c124,#63c324,#66c424,#6ac624,#73c824,#7cca24,#85cc24,#9cd022,#b4d421,#c6d71f,#d1d91e,#d7d91e,#d6d91e,#d5d91e,#d3d91e,#d2d91e,#d1d91e)"></i><i style="background:linear-gradient(90deg,#f3d31d,#f3d41d,#f3d41d,#f2d41d,#f2d51d,#f1d51d,#ebda1c,#d0d81e,#a3d122,#7eca24,#6ec724,#65c424,#61c224,#5ec024,#5dbf24,#5cbf24,#5cbf24,#5bbf24,#5bbf24,#5bbf24,#5bbe24,#5bbe24,#5bbe24,#5abe24,#5abe24,#5abe24,#5bbe24,#5bbf24,#5cbf24,#5dc024,#5ec024,#60c124,#63c324,#66c424,#6ac624,#72c824,#7aca24,#83cb24,#97cf23,#afd321,#c3d620,#cfd81f,#d6d91e,#d5d91e,#d4d91e,#d3d91e,#d2d91e,#d0d81e)"></i><i style="background:linear-gradient(90deg,#f4d31d,#f3d41d,#f3d41d,#f2d41d,#f2d51d,#f1d51d,#e9db1c,#c8d71f,#96cf23,#79c924,#69c624,#63c324,#5fc124,#5dc024,#5cbf24,#5bbf24,#5bbf24,#5bbf24,#5bbf24,#5bbf24,#5bbf24,#5bbf24,#5bbf24,#5bbf24,#5bbf24,#5bbf24,#5bbf24,#5cbf24,#5cbf24,#5dc024,#5fc124,#61c224,#63c324,#66c424,#69c624,#71c824,#79c924,#82cb24,#93ce23,#aad221,#c0d620,#ccd81f,#d5d91e,#d5d91e,#d4d91e,#d2d91e,#d1d91e,#d0d81e)"></i><i style="background:linear-gradient(90deg,#f4d31d,#f3d31d,#f3d41d,#f3d41d,#f2d41d,#efd61d,#e7dc1c,#c0d620,#89cc24,#74c824,#67c524,#61c224,#5ec024,#5cbf24,#5bbf24,#5bbf24,#5bbe24,#5bbf24,#5bbf24,#5bbf24,#5cbf24,#5cbf24,#5cbf24,#5cbf24,#5cbf24,#5cbf24,#5cbf24,#5cbf24,#5dc024,#5ec024,#5fc124,#61c224,#63c324,#66c424,#69c624,#70c724,#78c924,#81cb24,#8fce23,#a6d122,#bcd520,#c9d71f,#d3d91e,#d4d91e,#d3d91e,#d2d91e,#d1d81e,#cfd81e)"></i><i style="background:linear-gradient(90deg,#f4d31d,#f4d31d,#f3d41d,#f3d41d,#f2d41d,#eed81d,#dedb1d,#b3d421,#82cb24,#6fc724,#65c424,#60c124,#5dbf24,#5bbf24,#5bbe24,#5bbe24,#5bbe24,#5bbf24,#5bbf24,#5cbf24,#5cbf24,#5cbf24,#5cbf24,#5cbf24,#5cbf24,#5dbf24,#5dbf24,#5dc024,#5ec024,#5fc024,#60c124,#61c224,#63c324,#66c424,#69c624,#6fc724,#77c924,#7fcb24,#8bcd24,#a1d122,#b7d421,#c6d71f,#d0d81e,#d4d91e,#d3d91e,#d1d91e,#d0d81e,#ced81f)"></i><i style="background:linear-gradient(90deg,#f4d31e,#f4d31d,#f3d31d,#f3d41d,#f3d41d,#ecd91d,#d6d91e,#a6d222,#7dca24,#6ac624,#63c324,#5ec024,#5cbf24,#5bbe24,#5abe24,#5abe24,#5bbe24,#5bbf24,#5cbf24,#5cbf24,#5cbf24,#5dbf24,#5dc024,#5dc024,#5dc024,#5dc024,#5dc024,#5ec024,#5ec024,#5fc124,#60c124,#62c224,#64c324,#66c424,#69c624,#6fc724,#76c924,#7eca24,#87cc24,#9cd022,#b2d421,#c3d720,#ced81f,#d3d91e,#d2d91e,#d1d91e,#cfd81e,#ced81f)"></i><i style="background:linear-gradient(90deg,#f4d31e,#f4d31d,#f4d31d,#f3d41d,#f3d41d,#ebda1c,#ced81f,#9acf23,#78c924,#67c524,#61c224,#5dbf24,#5bbe24,#5abe24,#5abe24,#5abe24,#5abe24,#5bbf24,#5cbf24,#5cbf24,#5dc024,#5dc024,#5ec024,#5ec024,#5ec024,#5ec024,#5ec024,#5fc024,#5fc124,#60c124,#61c224,#62c224,#64c324,#66c424,#69c624,#6ec724,#75c824,#7dca24,#85cc24,#97cf23,#add321,#c0d620,#cbd81f,#d3d91e,#d1d91e,#d0d81e,#ced81f,#cdd81f)"></i><i style="background:linear-gradient(90deg,#f5d31e,#f4d31e,#f4d31d,#f3d31d,#f2d41d,#eadb1c,#c7d71f,#8ecd23,#73c824,#65c424,#5fc124,#5bbf24,#5abe24,#59be24,#59be24,#5abe24,#5abe24,#5bbf24,#5cbf24,#5dbf24,#5dc024,#5ec024,#5ec024,#5fc024,#5fc124,#5fc124,#5fc124,#5fc124,#60c124,#60c124,#61c224,#62c324,#64c324,#66c424,#68c624,#6ec724,#74c824,#7bca24,#83cb24,#93ce23,#a7d222,#bcd520,#c8d71f,#d2d91e,#d1d91e,#cfd81e,#ced81f,#ccd81f)"></i><i style="background:linear-gradient(90deg,#f5d21e,#f4d31e,#f4d31d,#f4d31d,#f1d51d,#e8dc1c,#c0d620,#84cc24,#6fc724,#63c324,#5ec024,#5abe24,#59be25,#58bd25,#59be25,#59be24,#5abe24,#5bbf24,#5cbf24,#5dc024,#5ec024,#5fc024,#5fc124,#5fc124,#60c124,#60c124,#60c124,#60c124,#61c124,#61c224,#62c224,#63c324,#64c424,#66c424,#68c624,#6dc724,#73c824,#7aca24,#81cb24,#8ecd23,#a2d122,#b6d421,#c5d71f,#cfd81e,#d0d81e,#cfd81f,#cdd81f,#cbd81f)"></i><i style="background:linear-gradient(90deg,#f5d21e,#f5d31e,#f4d31e,#f4d31d,#efd61d,#e3db1d,#b4d421,#80cb24,#6ac624,#61c224,#5cbf24,#59be24,#58bd25,#58bd25,#58bd25,#59be24,#5abe24,#5bbf24,#5dbf24,#5ec024,#5fc024,#5fc124,#60c124,#60c124,#60c124,#61c224,#61c224,#61c224,#61c224,#62c224,#62c224,#63c324,#65c424,#66c524,#68c624,#6cc724,#72c824,#79c924,#80cb24,#89cd24,#9dd022,#b1d321,#c2d620,#ccd81f,#cfd81e,#ced81f,#ccd81f,#cad81f)"></i><i style="background:linear-gradient(90deg,#f5d21e,#f5d21e,#f4d31e,#f4d31d,#eed71d,#dcda1d,#a9d222,#7bca24,#67c524,#60c124,#5bbe24,#58bd25,#57bd25,#57bd25,#58bd25,#59be24,#5abe24,#5cbf24,#5dc024,#5ec024,#5fc124,#60c124,#61c224,#61c224,#61c224,#62c224,#62c224,#62c224,#62c224,#62c224,#63c324,#64c324,#65c424,#66c524,#68c624,#6cc724,#71c824,#77c924,#7eca24,#85cc24,#98cf23,#abd221,#bed620,#cad71f,#cfd81f,#cdd81f,#cbd81f,#c9d71f)"></i><i style="background:linear-gradient(90deg,#f5d21e,#f5d21e,#f5d31e,#f4d31e,#edd81d,#d5d91e,#9dd022,#76c924,#65c424,#5ec024,#5abe24,#57bd25,#57bd26,#57bd25,#58bd25,#59be24,#5bbe24,#5cbf24,#5dc024,#5fc024,#60c124,#61c224,#61c224,#62c224,#62c224,#62c324,#63c324,#63c324,#63c324,#63c324,#64c324,#64c324,#65c424,#67c524,#68c624,#6bc724,#70c824,#76c924,#7dca24,#84cb24,#92ce23,#a6d122,#b9d520,#c7d71f,#ced81f,#ccd81f,#cad81f,#c8d71f)"></i><i style="background:linear-gradient(90deg,#f5d21e,#f5d21e,#f5d21e,#f4d31e,#ecd91c,#ced81f,#92ce23,#72c824,#64c324,#5cbf24,#58bd25,#56bd26,#56bd26,#56bd26,#57bd25,#59be24,#5bbe24,#5cbf24,#5ec024,#5fc124,#60c124,#61c224,#62c224,#63c324,#63c324,#63c324,#63c324,#64c324,#64c324,#64c324,#64c324,#65c424,#66c424,#67c524,#68c624,#6bc624,#70c724,#75c824,#7bca24,#82cb24,#8dcd24,#a0d022,#b3d421,#c3d720,#cdd81f,#cbd81f,#c9d71f,#c7d71f)"></i><i style="background:linear-gradient(90deg,#f6d21e,#f5d21e,#f5d21e,#f4d31d,#eada1c,#c8d71f,#87cc24,#6ec724,#62c224,#5bbf24,#57bd25,#56bd26,#55bc26,#56bd26,#57bd25,#59be24,#5bbe24,#5dbf24,#5ec024,#60c124,#61c224,#62c224,#63c324,#64c324,#64c324,#64c324,#64c424,#64c424,#64c424,#65c424,#65c424,#65c424,#66c424,#67c524,#68c624,#6bc624,#6fc724,#74c824,#79c924,#80cb24,#87cc24,#9acf23,#add321,#c0d620,#cbd81f,#cad81f,#c8d71f,#c6d71f)"></i><i style="background:linear-gradient(90deg,#f6d21e,#f5d21e,#f5d21e,#f2d41d,#e9db1c,#c2d620,#82cb24,#6ac624,#60c124,#5abe24,#56bd26,#55bc26,#55bc26,#56bd26,#57bd25,#59be24,#5bbf24,#5dc024,#5fc124,#60c124,#62c224,#63c324,#64c324,#65c424,#65c424,#65c424,#65c424,#65c424,#65c424,#65c424,#65c424,#66c424,#66c524,#67c524,#68c624,#6ac624,#6ec724,#72c824,#78c924,#7eca24,#84cc24,#94ce23,#a7d222,#bad520,#c8d71f,#c9d71f,#c7d71f,#c5d71f)"></i><i style="background:linear-gradient(90deg,#f6d21e,#f6d21e,#f5d21e,#f1d51d,#e8dc1c,#b9d521,#7eca24,#67c524,#5ec024,#58bd25,#55bc26,#54bc27,#54bc27,#55bc26,#57bd25,#59be24,#5bbf24,#5dc024,#5fc124,#61c224,#63c324,#64c324,#65c424,#66c424,#66c424,#66c524,#66c524,#66c524,#66c424,#66c424,#66c424,#66c524,#67c524,#67c524,#68c624,#6ac624,#6dc724,#71c824,#76c924,#7cca24,#82cb24,#8ecd23,#a1d122,#b4d421,#c5d720,#c8d71f,#c6d71f,#c4d720)"></i><i style="background:linear-gradient(90deg,#f6d11e,#f6d21e,#f5d21e,#f0d61d,#e3db1c,#afd321,#7aca24,#66c424,#5dc024,#57bd25,#55bc26,#54bc27,#54bc27,#55bc26,#57bd25,#59be24,#5cbf24,#5ec024,#60c124,#62c224,#63c324,#65c424,#66c424,#66c524,#67c524,#67c524,#67c524,#67c524,#67c524,#67c524,#67c524,#67c524,#67c524,#67c524,#68c624,#69c624,#6cc724,#70c724,#75c824,#7ac924,#80cb24,#88cc24,#9ad023,#aed321,#c2d620,#c7d71f,#c5d720,#c3d620)"></i><i style="background:linear-gradient(90deg,#f6d11e,#f6d21e,#f6d21e,#efd71d,#ddda1d,#a5d122,#76c924,#64c324,#5bbf24,#56bd26,#54bc27,#53bc27,#54bc27,#55bc26,#57bd25,#5abe24,#5cbf24,#5ec024,#60c124,#62c224,#64c324,#65c424,#67c524,#67c524,#68c524,#68c624,#68c624,#68c524,#68c524,#68c524,#67c524,#67c524,#67c524,#68c524,#68c624,#69c624,#6bc724,#6fc724,#73c824,#78c924,#7eca24,#84cc24,#94ce23,#a8d222,#bdd520,#c6d71f,#c4d720,#c1d620)"></i><i style="background:linear-gradient(90deg,#f6d11e,#f6d11e,#f6d21e,#eed81d,#d7da1e,#9bd023,#72c824,#62c224,#5abe24,#55bc26,#53bc27,#53bc27,#53bc27,#55bc26,#57bd25,#5abe24,#5cbf24,#5fc024,#61c224,#63c324,#65c424,#66c524,#67c524,#68c624,#69c624,#69c624,#69c624,#69c624,#69c624,#68c624,#68c524,#68c524,#68c524,#68c524,#68c624,#69c624,#6bc624,#6ec724,#71c824,#76c924,#7bca24,#82cb24,#8dcd24,#a1d122,#b6d421,#c4d720,#c2d620,#c0d620)"></i><i style="background:linear-gradient(90deg,#f6d11e,#f6d11e,#f6d21e,#edd81d,#d2d91e,#92ce23,#6fc724,#61c224,#59be24,#55bc26,#53bc27,#52bb27,#53bc27,#55bc26,#57bd25,#5abe24,#5dbf24,#5fc124,#61c224,#64c324,#66c424,#67c524,#68c624,#6ac624,#6bc624,#6bc624,#6bc624,#6bc624,#6ac624,#69c624,#69c624,#68c624,#68c524,#68c524,#68c624,#69c624,#6ac624,#6cc724,#70c724,#74c824,#79c924,#7fcb24,#86cc24,#9acf23,#b0d321,#c3d620,#c1d620,#bdd620)"></i><i style="background:linear-gradient(90deg,#f7d11e,#f6d11e,#f6d21e,#ecd91c,#cdd81f,#88cc24,#6bc624,#5fc124,#58bd25,#54bc27,#52bb28,#52bb28,#53bc27,#55bc26,#57bd25,#5abe24,#5dc024,#60c124,#62c224,#64c324,#66c524,#68c524,#6ac624,#6bc724,#6dc724,#6dc724,#6dc724,#6dc724,#6cc724,#6bc624,#6ac624,#69c624,#68c624,#68c624,#68c624,#68c624,#69c624,#6bc624,#6ec724,#72c824,#77c924,#7dca24,#83cb24,#93ce23,#a9d222,#c1d620,#bfd620,#bbd520)"></i><i style="background:linear-gradient(90deg,#f7d11e,#f7d11e,#f5d31e,#ebda1c,#c8d71f,#83cb24,#68c624,#5ec024,#57bd25,#53bc27,#52bb28,#51bb28,#53bc27,#55bc26,#58bd25,#5bbe24,#5dc024,#60c124,#63c324,#65c424,#67c524,#69c624,#6bc624,#6dc724,#6fc724,#6fc724,#6fc724,#6fc724,#6ec724,#6cc724,#6bc624,#6ac624,#69c624,#68c624,#68c624,#68c624,#69c624,#6ac624,#6dc724,#70c724,#75c824,#7aca24,#81cb24,#8ccd24,#a2d122,#bbd520,#bcd520,#b8d521)"></i><i style="background:linear-gradient(90deg,#f7d11e,#f7d11e,#f4d31d,#eadb1c,#c3d620,#80cb24,#67c524,#5dbf24,#56bd26,#52bb27,#51bb28,#51bb28,#53bc27,#55bc26,#58bd25,#5bbe24,#5ec024,#61c124,#63c324,#66c424,#68c524,#6ac624,#6dc724,#6fc724,#71c824,#71c824,#71c824,#70c824,#6fc724,#6ec724,#6cc724,#6bc624,#69c624,#69c624,#68c624,#68c624,#68c624,#69c624,#6bc624,#6ec724,#72c824,#77c924,#7eca24,#85cc24,#9bd023,#b4d421,#b9d520,#b5d421)"></i><i style="background:linear-gradient(90deg,#f7d11e,#f7d11e,#f3d41d,#e9db1c,#bdd520,#7dca24,#65c424,#5bbf24,#55bc26,#52bb28,#51bb28,#51bb28,#52bb27,#55bc26,#58bd25,#5bbf24,#5ec024,#61c224,#64c324,#66c524,#69c624,#6cc724,#6fc724,#71c824,#73c824,#73c824,#73c824,#72c824,#71c824,#70c724,#6ec724,#6cc724,#6ac624,#69c624,#68c624,#68c524,#68c524,#68c624,#69c624,#6cc724,#70c724,#75c824,#7bca24,#82cb24,#93ce23,#add321,#b6d421,#b2d421)"></i><i style="background:linear-gradient(90deg,#f7d11e,#f7d11e,#f2d51d,#e8dc1c,#b5d421,#79c924,#64c324,#5abe24,#54bc27,#51bb28,#50bb28,#51bb28,#52bb27,#55bc26,#58bd25,#5bbf24,#5ec024,#62c224,#64c424,#67c524,#6ac624,#6ec724,#71c824,#73c824,#75c824,#75c924,#75c924,#74c824,#73c824,#71c824,#6fc724,#6dc724,#6bc624,#69c624,#68c624,#68c524,#68c524,#68c524,#68c624,#6ac624,#6ec724,#72c824,#78c924,#7fcb24,#8ccd24,#a6d222,#b3d421,#aed321)"></i><i style="background:linear-gradient(90deg,#f7d11e,#f7d11e,#f1d61d,#e5dc1c,#add321,#76c924,#63c324,#59be24,#54bc27,#51bb28,#50bb28,#51bb28,#52bb27,#55bc26,#58bd25,#5cbf24,#5fc124,#62c224,#65c424,#68c524,#6bc724,#70c724,#73c824,#75c924,#77c924,#77c924,#77c924,#76c924,#75c824,#73c824,#70c824,#6ec724,#6cc724,#69c624,#68c624,#68c524,#67c524,#67c524,#68c524,#69c624,#6bc624,#70c724,#75c924,#7cca24,#85cc24,#9fd022,#afd321,#abd221)"></i><i style="background:linear-gradient(90deg,#f7d11e,#f7d11e,#f0d61d,#e1db1d,#a5d122,#73c824,#61c224,#58bd25,#53bc27,#50bb28,#50bb29,#50bb28,#52bb27,#55bc26,#59be25,#5cbf24,#5fc124,#63c324,#66c424,#69c624,#6dc724,#71c824,#75c824,#77c924,#79c924,#79c924,#79c924,#78c924,#76c924,#74c824,#72c824,#6fc724,#6cc724,#6ac624,#68c624,#67c524,#67c524,#67c524,#67c524,#68c524,#69c624,#6dc724,#72c824,#79c924,#82cb24,#97cf23,#acd321,#a7d222)"></i><i style="background:linear-gradient(90deg,#f7d11e,#f7d11e,#efd71d,#ddda1d,#9ed022,#70c824,#60c124,#57bd25,#52bb27,#50bb28,#4fba29,#50bb28,#52bb27,#55bc26,#59be24,#5cbf24,#60c124,#63c324,#66c524,#69c624,#6fc724,#73c824,#77c924,#79c924,#7bca24,#7bca24,#7bca24,#7ac924,#78c924,#76c924,#73c824,#70c724,#6dc724,#6ac624,#68c624,#67c524,#67c524,#66c524,#66c524,#67c524,#68c524,#6ac624,#70c724,#76c924,#7fcb24,#90ce23,#a8d222,#a4d122)"></i><i style="background:linear-gradient(90deg,#f7d11e,#f7d11e,#eed71d,#d9da1e,#97cf23,#6ec724,#5fc124,#56bd26,#52bb28,#50bb29,#4fba29,#50bb28,#53bc27,#56bd26,#59be24,#5dbf24,#60c124,#64c324,#67c524,#6bc624,#70c824,#75c824,#78c924,#7bca24,#7dca24,#7dca24,#7dca24,#7cca24,#7ac924,#77c924,#74c824,#71c824,#6ec724,#6bc624,#68c624,#67c524,#66c524,#66c424,#65c424,#66c424,#67c524,#68c624,#6dc724,#73c824,#7cca24,#88cc24,#a4d122,#a0d022)"></i><i style="background:linear-gradient(90deg,#f7d01e,#f7d11e,#edd81d,#d5d91e,#90ce23,#6bc624,#5ec024,#56bd26,#51bb28,#4fba29,#4fba29,#50bb28,#53bc27,#56bd26,#5abe24,#5dc024,#61c224,#64c324,#68c524,#6cc724,#72c824,#77c924,#7aca24,#7dca24,#7eca24,#7fcb24,#7fca24,#7dca24,#7bca24,#79c924,#76c924,#72c824,#6fc724,#6bc624,#69c624,#67c524,#66c424,#65c424,#65c424,#65c424,#66c424,#67c524,#6ac624,#70c724,#79c924,#83cb24,#a0d122,#9cd022)"></i><i style="background:linear-gradient(90deg,#f7d01e,#f7d11e,#edd81d,#d1d91e,#89cd24,#69c624,#5dc024,#55bc26,#51bb28,#4fba29,#4fba29,#50bb28,#53bc27,#56bd26,#5abe24,#5ec024,#61c224,#65c424,#68c624,#6ec724,#73c824,#78c924,#7cca24,#7fca24,#80cb24,#81cb24,#81cb24,#7fcb24,#7dca24,#7aca24,#77c924,#73c824,#70c724,#6cc724,#69c624,#67c524,#66c424,#65c424,#64c324,#64c324,#65c424,#66c424,#68c524,#6dc724,#76c924,#80cb24,#9acf23,#98cf23)"></i><i style="background:linear-gradient(90deg,#f7d01e,#f6d21e,#ecd91d,#ced81f,#85cc24,#68c524,#5cbf24,#55bc26,#51bb28,#4fba29,#4fba29,#50bb28,#53bc27,#56bd26,#5abe24,#5ec024,#62c224,#65c424,#69c624,#6fc724,#75c824,#7ac924,#7eca24,#81cb24,#82cb24,#83cb24,#82cb24,#81cb24,#7fcb24,#7cca24,#78c924,#75c824,#70c824,#6cc724,#69c624,#67c524,#65c424,#64c324,#63c324,#63c324,#64c324,#65c424,#67c524,#6ac624,#72c824,#7dca24,#92ce23,#93ce23)"></i><i style="background:linear-gradient(90deg,#f7d01e,#f5d21e,#ebd91c,#cad81f,#82cb24,#67c524,#5bbf24,#54bc27,#50bb28,#4fba29,#4fba29,#50bb28,#53bc27,#56bd26,#5bbe24,#5ec024,#62c224,#66c424,#6ac624,#71c824,#77c924,#7cca24,#80cb24,#82cb24,#84cc24,#85cc24,#84cc24,#83cb24,#80cb24,#7dca24,#7ac924,#76c924,#71c824,#6dc724,#69c624,#67c524,#65c424,#64c324,#63c324,#62c224,#62c324,#63c324,#65c424,#68c524,#6fc724,#7ac924,#8acd24,#8fcd23)"></i><i style="background:linear-gradient(90deg,#f7d01e,#f4d31e,#ebda1c,#c7d71f,#80cb24,#66c424,#5bbe24,#54bc27,#50bb28,#4eba29,#4fba29,#50bb28,#53bc27,#57bd25,#5bbe24,#5fc024,#63c324,#66c524,#6bc624,#72c824,#78c924,#7dca24,#81cb24,#84cc24,#86cc24,#87cc24,#86cc24,#84cc24,#82cb24,#7fcb24,#7bca24,#77c924,#72c824,#6dc724,#69c624,#67c524,#65c424,#63c324,#62c224,#61c224,#61c224,#62c224,#64c324,#67c524,#6cc724,#77c924,#84cc24,#8acd24)"></i><i style="background:linear-gradient(90deg,#f7d01e,#f4d31d,#eada1c,#c4d720,#7eca24,#65c424,#5abe24,#53bc27,#50bb29,#4eba29,#4fba29,#50bb28,#53bc27,#57bd25,#5bbf24,#5fc124,#63c324,#67c524,#6cc724,#73c824,#7ac924,#7fcb24,#83cb24,#86cc24,#8acd24,#8ccd24,#8acd24,#86cc24,#84cc24,#80cb24,#7cca24,#78c924,#73c824,#6ec724,#69c624,#67c524,#64c424,#63c324,#61c224,#61c124,#60c124,#61c224,#63c324,#65c424,#69c624,#73c824,#81cb24,#86cc24)"></i><i style="background:linear-gradient(90deg,#f7d01e,#f3d41d,#eadb1c,#c1d620,#7cca24,#64c324,#59be24,#53bc27,#4fba29,#4eba29,#4eba29,#50bb28,#53bc27,#57bd25,#5bbf24,#5fc124,#63c324,#67c524,#6ec724,#75c824,#7bca24,#80cb24,#85cc24,#8acd24,#8fcd23,#90ce23,#8fce23,#8bcd24,#85cc24,#82cb24,#7eca24,#79c924,#74c824,#6ec724,#69c624,#66c524,#64c324,#62c224,#61c224,#60c124,#5fc124,#60c124,#61c224,#64c324,#67c524,#70c724,#7eca24,#84cc24)"></i><i style="background:linear-gradient(90deg,#f7d01e,#f2d41d,#e9db1c,#bcd520,#7ac924,#63c324,#59be25,#52bb27,#4fba29,#4eba29,#4eba29,#50bb28,#54bc27,#57bd25,#5cbf24,#60c124,#64c324,#68c524,#6fc724,#76c924,#7cca24,#82cb24,#86cc24,#8ecd23,#93ce23,#94ce23,#93ce23,#8fce23,#88cc24,#83cb24,#7fca24,#7ac924,#74c824,#6fc724,#69c624,#66c524,#64c324,#62c224,#60c124,#5fc124,#5ec024,#5fc024,#60c124,#62c224,#66c424,#6dc724,#7bca24,#82cb24)"></i><i style="background:linear-gradient(90deg,#f7d11e,#f2d51d,#e9db1c,#b7d421,#78c924,#62c224,#58bd25,#52bb27,#4fba29,#4eba29,#4eba29,#51bb28,#54bc27,#58bd25,#5cbf24,#60c124,#64c324,#68c624,#70c724,#77c924,#7eca24,#83cb24,#8acd24,#92ce23,#97cf23,#99cf23,#97cf23,#93ce23,#8ccd24,#84cc24,#80cb24,#7bca24,#75c924,#6fc724,#69c624,#66c524,#64c324,#61c224,#5fc124,#5ec024,#5dc024,#5ec024,#5fc024,#61c224,#64c324,#69c624,#77c924,#80cb24)"></i><i style="background:linear-gradient(90deg,#f7d11e,#f1d51d,#e8dc1c,#b3d421,#76c924,#61c224,#57bd25,#52bb28,#4fba29,#4eba29,#4eba29,#51bb28,#54bc27,#58bd25,#5cbf24,#60c124,#65c424,#69c624,#71c824,#79c924,#7fcb24,#85cc24,#8ecd23,#96cf23,#9bd023,#9dd022,#9bd023,#97cf23,#8fce23,#86cc24,#81cb24,#7cca24,#76c924,#70c724,#6ac624,#66c524,#63c324,#61c224,#5fc124,#5dc024,#5cbf24,#5cbf24,#5dc024,#5fc124,#63c324,#68c524,#74c824,#7eca24)"></i><i style="background:linear-gradient(90deg,#f7d11e,#f1d51d,#e7dc1c,#aed321,#75c824,#61c224,#57bd25,#52bb28,#4fba29,#4eba29,#4eba29,#51bb28,#54bc27,#58bd25,#5cbf24,#61c224,#65c424,#6ac624,#72c824,#7ac924,#81cb24,#87cc24,#92ce23,#9ad023,#9fd022,#a1d122,#9fd022,#9bd023,#93ce23,#89cd24,#82cb24,#7dca24,#77c924,#70c824,#6ac624,#66c524,#63c324,#61c224,#5ec024,#5dbf24,#5cbf24,#5bbf24,#5cbf24,#5ec024,#61c224,#66c424,#71c824,#7bca24)"></i><i style="background:linear-gradient(90deg,#f7d11e,#f0d61d,#e5dc1c,#aad221,#73c824,#60c124,#57bd25,#51bb28,#4eba29,#4eba29,#4eba29,#51bb28,#54bc27,#58bd25,#5dbf24,#61c224,#65c424,#6bc624,#73c824,#7bca24,#82cb24,#8acd24,#96cf23,#9ed022,#a3d122,#a5d122,#a3d122,#9fd022,#97cf23,#8ccd24,#84cb24,#7eca24,#77c924,#71c824,#6ac624,#66c524,#63c324,#60c124,#5ec024,#5cbf24,#5bbe24,#5abe24,#5bbe24,#5dbf24,#60c124,#65c424,#6ec724,#79c924)"></i><i style="background:linear-gradient(90deg,#f7d11e,#f0d61d,#e3db1d,#a7d222,#72c824,#60c124,#56bd26,#51bb28,#4eba29,#4eba2a,#4fba29,#51bb28,#54bc27,#59be25,#5dc024,#61c224,#66c424,#6cc724,#74c824,#7cca24,#83cb24,#8ecd23,#99cf23,#a2d122,#a7d222,#a9d222,#a7d222,#a2d122,#9ad023,#90ce23,#85cc24,#7fca24,#78c924,#71c824,#6ac624,#66c424,#63c324,#60c124,#5dc024,#5bbf24,#5abe24,#59be24,#5abe24,#5bbf24,#5ec024,#63c324,#6ac624,#77c924)"></i><i style="background:linear-gradient(90deg,#f7d11e,#efd61d,#e1db1d,#a3d122,#70c724,#5fc124,#56bd26,#51bb28,#4eba29,#4eba2a,#4fba29,#51bb28,#55bc26,#59be24,#5dc024,#62c224,#66c524,#6cc724,#75c924,#7dca24,#84cc24,#91ce23,#9dd022,#a6d122,#abd221,#add321,#abd221,#a6d222,#9ed022,#93ce23,#86cc24,#80cb24,#79c924,#72c824,#6ac624,#66c424,#63c324,#60c124,#5dbf24,#5bbe24,#59be25,#58bd25,#58bd25,#5abe24,#5dc024,#62c224,#68c624,#75c824)"></i><i style="background:linear-gradient(90deg,#f7d11e,#efd71d,#dfdb1d,#a0d022,#6fc724,#5fc024,#56bd26,#51bb28,#4eba29,#4eba2a,#4fba29,#51bb28,#55bc26,#59be24,#5dc024,#62c224,#67c524,#6dc724,#76c924,#7eca24,#85cc24,#94ce23,#a0d122,#a9d222,#afd321,#b0d321,#afd321,#aad222,#a1d122,#96cf23,#88cc24,#81cb24,#7ac924,#72c824,#6bc624,#66c424,#63c324,#5fc124,#5cbf24,#5abe24,#58bd25,#57bd25,#57bd25,#59be25,#5cbf24,#60c124,#67c524,#72c824)"></i><i style="background:linear-gradient(90deg,#f7d11e,#efd71d,#ddda1d,#9dd022,#6ec724,#5ec024,#56bd26,#51bb28,#4eba29,#4eba2a,#4fba29,#51bb28,#55bc26,#59be24,#5ec024,#62c224,#67c524,#6ec724,#77c924,#7fcb24,#87cc24,#97cf23,#a3d122,#add321,#b2d421,#b4d421,#b2d421,#add321,#a5d122,#99cf23,#8bcd24,#82cb24,#7aca24,#73c824,#6bc624,#66c424,#62c224,#5fc124,#5cbf24,#59be24,#57bd25,#56bd26,#56bd26,#57bd25,#5abe24,#5fc124,#65c424,#70c724)"></i><i style="background:linear-gradient(90deg,#f7d11e,#eed71d,#dcda1d,#9acf23,#6dc724,#5ec024,#55bc26,#51bb28,#4eba29,#4eba2a,#4fba29,#51bb28,#55bc26,#5abe24,#5ec024,#63c324,#67c524,#6fc724,#78c924,#80cb24,#8acd24,#9acf23,#a7d222,#b0d321,#b5d421,#b7d521,#b6d421,#b0d321,#a8d222,#9cd022,#8ecd23,#82cb24,#7bca24,#73c824,#6bc624,#66c424,#62c224,#5fc024,#5bbf24,#58bd25,#56bd26,#55bc26,#54bc27,#56bd26,#59be25,#5dc024,#64c324,#6ec724)"></i><i style="background:linear-gradient(90deg,#f7d11e,#eed81d,#dada1d,#98cf23,#6cc724,#5ec024,#55bc26,#51bb28,#4eba29,#4eba2a,#4fba29,#51bb28,#55bc26,#5abe24,#5ec024,#63c324,#67c524,#6fc724,#79c924,#81cb24,#8ccd24,#9dd022,#aad222,#b3d421,#b9d521,#bbd520,#b9d520,#b4d421,#abd221,#9fd022,#90ce23,#83cb24,#7cca24,#74c824,#6cc724,#66c524,#62c224,#5ec024,#5bbf24,#58bd25,#55bc26,#53bc27,#53bc27,#54bc27,#57bd25,#5cbf24,#62c224,#6bc624)"></i><i style="background:linear-gradient(90deg,#f6d11e,#eed81d,#d9da1e,#96cf23,#6bc624,#5dc024,#55bc26,#50bb28,#4eba29,#4eba2a,#4fba29,#51bb28,#55bc26,#5abe24,#5ec024,#63c324,#68c524,#70c724,#79c924,#82cb24,#8fce23,#9fd022,#acd321,#b6d421,#bcd520,#bed620,#bcd520,#b7d421,#aed321,#a2d122,#93ce23,#84cc24,#7dca24,#74c824,#6cc724,#66c524,#62c224,#5ec024,#5bbe24,#57bd25,#54bc27,#53bc27,#52bb28,#53bc27,#56bd26,#5bbe24,#61c224,#69c624)"></i><i style="background:linear-gradient(90deg,#f6d11e,#edd81d,#d8da1e,#94ce23,#6bc624,#5dc024,#55bc26,#50bb28,#4eba29,#4eba2a,#4fba29,#52bb28,#55bc26,#5abe24,#5ec024,#63c324,#68c524,#71c824,#7aca24,#83cb24,#91ce23,#a2d122,#afd321,#b9d521,#bfd620,#c0d620,#bfd620,#bad520,#b1d321,#a5d122,#95cf23,#85cc24,#7dca24,#75c824,#6cc724,#66c524,#62c224,#5ec024,#5abe24,#57bd26,#54bc27,#52bb28,#51bb28,#52bb28,#55bc26,#59be24,#60c124,#68c524)"></i><i style="background:linear-gradient(90deg,#f6d11e,#edd81d,#d7d91e,#92ce23,#6ac624,#5dc024,#55bc26,#50bb28,#4eba29,#4eba2a,#4fba29,#52bb28,#56bd26,#5abe24,#5fc024,#63c324,#68c624,#71c824,#7bca24,#83cb24,#93ce23,#a4d122,#b2d421,#bbd520,#c1d620,#c2d620,#c1d620,#bdd520,#b4d421,#a7d222,#98cf23,#86cc24,#7eca24,#76c924,#6dc724,#66c524,#62c224,#5ec024,#5abe24,#56bd26,#53bc27,#51bb28,#50bb28,#51bb28,#53bc27,#58bd25,#5ec024,#67c524)"></i><i style="background:linear-gradient(90deg,#f6d11e,#edd81d,#d6d91e,#91ce23,#6ac624,#5dbf24,#55bc26,#50bb28,#4eba29,#4eba2a,#4fba29,#52bb28,#56bd26,#5abe24,#5fc124,#64c324,#68c624,#72c824,#7bca24,#84cc24,#95cf23,#a6d222,#b4d421,#bed620,#c2d620,#c4d720,#c3d620,#bfd620,#b6d421,#aad222,#9acf23,#88cc24,#7fcb24,#76c924,#6dc724,#66c524,#62c224,#5ec024,#5abe24,#56bd26,#52bb27,#50bb28,#4fba29,#4fba29,#52bb28,#57bd25,#5dc024,#66c424)"></i><i style="background:linear-gradient(90deg,#f6d21e,#edd81d,#d5d91e,#90ce23,#69c624,#5dbf24,#55bc26,#50bb28,#4eba29,#4eba2a,#4fba29,#52bb28,#56bd26,#5abe24,#5fc124,#64c324,#69c624,#72c824,#7cca24,#85cc24,#97cf23,#a8d222,#b6d421,#c0d620,#c4d720,#c5d71f,#c4d720,#c1d620,#b9d520,#acd321,#9cd022,#8acd24,#7fcb24,#77c924,#6dc724,#66c524,#62c224,#5ec024,#59be24,#55bc26,#52bb28,#4fba29,#4eba29,#4eba29,#51bb28,#55bc26,#5cbf24,#65c424)"></i><i style="background:linear-gradient(90deg,#f6d21e,#edd81d,#d5d91e,#8fce23,#69c624,#5dbf24,#55bc26,#50bb28,#4eba29,#4eba2a,#4fba29,#52bb28,#56bd26,#5abe24,#5fc124,#64c324,#69c624,#73c824,#7cca24,#85cc24,#99cf23,#aad222,#b8d521,#c1d620,#c5d71f,#c7d71f,#c6d71f,#c3d620,#bbd520,#afd321,#9fd022,#8ccd24,#80cb24,#77c924,#6ec724,#67c524,#62c224,#5dc024,#59be24,#55bc26,#51bb28,#4eba29,#4dba2a,#4dba2a,#50bb29,#54bc27,#5bbf24,#63c324)"></i><i style="background:linear-gradient(90deg,#f6d21e,#edd81d,#d5d91e,#8fce23,#69c624,#5dbf24,#55bc26,#50bb28,#4eba29,#4eba29,#4fba29,#52bb28,#56bd26,#5bbe24,#5fc124,#64c324,#69c624,#73c824,#7dca24,#86cc24,#9ad023,#acd321,#bad520,#c3d620,#c7d71f,#c8d71f,#c7d71f,#c4d720,#bed620,#b1d321,#a1d122,#8ecd23,#81cb24,#78c924,#6ec724,#67c524,#62c224,#5dc024,#59be25,#54bc27,#51bb28,#4eba29,#4cb92a,#4dba2a,#4fba29,#53bc27,#5abe24,#62c224)"></i><i style="background:linear-gradient(90deg,#f6d21e,#edd91d,#d4d91e,#8fce23,#69c624,#5dbf24,#55bc26,#50bb28,#4eba29,#4eba29,#4fba29,#52bb28,#56bd26,#5bbe24,#5fc124,#64c324,#69c624,#73c824,#7dca24,#87cc24,#9cd023,#add321,#bcd520,#c4d720,#c8d71f,#c9d71f,#c8d71f,#c5d71f,#c0d620,#b3d421,#a3d122,#90ce23,#81cb24,#78c924,#6ec724,#67c524,#62c224,#5dc024,#59be25,#54bc27,#50bb28,#4dba2a,#4cb92a,#4cb92a,#4eba29,#52bb28,#59be25,#61c224)"></i><i style="background:linear-gradient(90deg,#f6d21e,#edd91d,#d4d91e,#8fce23,#69c624,#5dbf24,#55bc26,#50bb28,#4eba29,#4eba29,#4fba29,#52bb28,#56bd26,#5bbe24,#5fc124,#64c324,#69c624,#74c824,#7eca24,#88cc24,#9dd022,#afd321,#bdd620,#c5d720,#c9d71f,#cad81f,#cad71f,#c7d71f,#c1d620,#b5d421,#a5d122,#92ce23,#82cb24,#79c924,#6fc724,#67c524,#62c224,#5dc024,#58bd25,#54bc27,#50bb29,#4dba2a,#4bb92b,#4bb92b,#4dba2a,#51bb28,#58bd25,#60c124)"></i><i style="background:linear-gradient(90deg,#f5d21e,#edd91d,#d4d91e,#90ce23,#69c624,#5dbf24,#55bc26,#50bb28,#4eba29,#4eba29,#4fba29,#52bb28,#56bd26,#5bbe24,#5fc124,#64c324,#6ac624,#74c824,#7eca24,#89cc24,#9ed022,#b0d321,#bfd620,#c6d71f,#cad71f,#cbd81f,#cbd81f,#c8d71f,#c2d620,#b7d421,#a7d222,#93ce23,#83cb24,#79c924,#6fc724,#67c524,#62c224,#5dc024,#58bd25,#53bc27,#4fba29,#4cb92a,#4ab92b,#4ab92b,#4cb92a,#50bb28,#57bd25,#5fc124)"></i><i style="background:linear-gradient(90deg,#f5d21e,#edd91d,#d5d91e,#90ce23,#6ac624,#5dc024,#55bc26,#50bb28,#4eba29,#4eba29,#4fba29,#52bb28,#56bd26,#5bbe24,#5fc124,#64c324,#6ac624,#74c824,#7eca24,#8acd24,#9fd022,#b1d321,#c0d620,#c6d71f,#cbd81f,#ccd81f,#ccd81f,#c9d71f,#c3d620,#b9d520,#a8d222,#95cf23,#83cb24,#7ac924,#70c724,#67c524,#62c224,#5dc024,#58bd25,#53bc27,#4fba29,#4cb92a,#4ab92b,#4ab92b,#4bb92b,#4fba29,#56bd26,#5fc024)"></i><i style="background:linear-gradient(90deg,#f5d21e,#edd81d,#d5d91e,#91ce23,#6ac624,#5dc024,#55bc26,#51bb28,#4eba29,#4eba29,#4fba29,#52bb28,#56bd26,#5bbe24,#5fc124,#64c324,#6ac624,#74c824,#7eca24,#8acd24,#9fd022,#b2d421,#c1d620,#c7d71f,#cbd81f,#cdd81f,#cdd81f,#cad71f,#c4d720,#bad520,#aad222,#97cf23,#84cc24,#7aca24,#70c724,#67c524,#62c224,#5dc024,#58bd25,#53bc27,#4fba29,#4bb92a,#49b82b,#49b82c,#4bb92b,#4eba29,#55bc26,#5ec024)"></i><i style="background:linear-gradient(90deg,#f5d21e,#edd81d,#d6d91e,#93ce23,#6bc624,#5dc024,#55bc26,#51bb28,#4eba29,#4eba29,#4fba29,#52bb28,#56bd26,#5bbe24,#5fc124,#64c324,#6ac624,#74c824,#7eca24,#8acd24,#a0d022,#b3d421,#c1d620,#c8d71f,#ccd81f,#ced81f,#cdd81f,#cbd81f,#c5d71f,#bcd520,#acd221,#98cf23,#84cc24,#7bca24,#70c824,#67c524,#62c224,#5dc024,#58bd25,#53bc27,#4fba29,#4bb92b,#49b82c,#49b82c,#4ab92b,#4eba29,#54bc27,#5dc024)"></i><i style="background:linear-gradient(90deg,#f5d21e,#edd81d,#d7d91e,#95cf23,#6cc724,#5ec024,#55bc26,#51bb28,#4eba29,#4eba29,#4fba29,#52bb28,#56bd26,#5bbe24,#5fc124,#64c324,#6ac624,#74c824,#7eca24,#8bcd24,#a0d122,#b3d421,#c1d620,#c8d71f,#cdd81f,#cfd81f,#ced81f,#cbd81f,#c6d71f,#bdd620,#add321,#99cf23,#85cc24,#7bca24,#71c824,#68c524,#62c324,#5dc024,#58bd25,#53bc27,#4eba29,#4bb92b,#49b82c,#48b82c,#49b82b,#4dba2a,#54bc27,#5cbf24)"></i><i style="background:linear-gradient(90deg,#f5d21e,#edd81d,#d8da1e,#97cf23,#6cc724,#5ec024,#56bd26,#51bb28,#4eba29,#4eba29,#4fba29,#52bb28,#56bd26,#5bbe24,#5fc124,#64c324,#69c624,#74c824,#7eca24,#8bcd24,#a0d122,#b3d421,#c2d620,#c9d71f,#cdd81f,#cfd81e,#cfd81f,#ccd81f,#c7d71f,#bfd620,#aed321,#9bd023,#85cc24,#7cca24,#71c824,#68c524,#63c324,#5dc024,#58bd25,#53bc27,#4eba29,#4bb92b,#48b82c,#48b82c,#49b82c,#4dba2a,#53bc27,#5bbf24)"></i><i style="background:linear-gradient(90deg,#f5d21e,#edd81d,#d9da1e,#99cf23,#6dc724,#5ec024,#56bd26,#51bb28,#4eba29,#4eba29,#4fba29,#52bb28,#56bd26,#5abe24,#5fc124,#64c324,#69c624,#74c824,#7eca24,#8acd24,#a0d122,#b4d421,#c2d620,#c9d71f,#cdd81f,#d0d81e,#cfd81e,#cdd81f,#c7d71f,#c0d620,#b0d321,#9cd022,#86cc24,#7cca24,#72c824,#68c524,#63c324,#5ec024,#58bd25,#53bc27,#4eba29,#4bb92b,#48b82c,#47b82c,#49b82c,#4cb92a,#53bc27,#5bbe24)"></i><i style="background:linear-gradient(90deg,#f5d21e,#eed81d,#dada1d,#9cd022,#6ec724,#5fc024,#56bd26,#51bb28,#4fba29,#4eba29,#4fba29,#52bb28,#56bd26,#5abe24,#5fc124,#64c324,#69c624,#74c824,#7eca24,#8acd24,#a0d122,#b3d421,#c2d620,#c9d71f,#ced81f,#d0d81e,#d0d81e,#cdd81f,#c8d71f,#c1d620,#b1d321,#9dd022,#87cc24,#7dca24,#72c824,#68c624,#63c324,#5ec024,#58bd25,#53bc27,#4eba29,#4bb92b,#48b82c,#47b82d,#48b82c,#4cb92a,#52bb27,#5abe24)"></i><i style="background:linear-gradient(90deg,#f5d21e,#eed81d,#dcda1d,#9fd022,#6fc724,#5fc124,#56bd26,#51bb28,#4fba29,#4eba29,#4fba29,#52bb28,#56bd26,#5abe24,#5fc124,#64c324,#69c624,#73c824,#7eca24,#8acd24,#a0d022,#b3d421,#c2d620,#c9d71f,#ced81f,#d0d81e,#d0d81e,#cdd81f,#c8d71f,#c1d620,#b2d421,#9ed022,#88cc24,#7dca24,#73c824,#68c624,#63c324,#5ec024,#59be25,#53bc27,#4eba29,#4bb92b,#48b82c,#47b82d,#48b82c,#4cb92a,#52bb28,#59be24)"></i><i style="background:linear-gradient(90deg,#f5d21e,#eed71d,#deda1d,#a2d122,#71c824,#5fc124,#57bd25,#52bb28,#4fba29,#4eba29,#4fba29,#52bb28,#55bc26,#5abe24,#5fc024,#64c324,#69c624,#73c824,#7dca24,#89cd24,#9fd022,#b3d421,#c2d620,#c9d71f,#ced81f,#d0d81e,#d0d81e,#ced81f,#c9d71f,#c2d620,#b3d421,#9fd022,#89cc24,#7dca24,#73c824,#69c624,#63c324,#5ec024,#59be25,#53bc27,#4fba29,#4bb92b,#48b82c,#47b82d,#48b82c,#4cb92a,#52bb28,#59be25)"></i><i style="background:linear-gradient(90deg,#f5d21e,#eed71d,#dfdb1d,#a6d222,#72c824,#60c124,#57bd25,#52bb28,#4fba29,#4eba29,#4fba29,#52bb28,#55bc26,#5abe24,#5fc024,#63c324,#69c624,#73c824,#7dca24,#88cc24,#9fd022,#b2d421,#c1d620,#c9d71f,#ced81f,#d0d81e,#d0d81e,#ced81f,#c9d71f,#c2d620,#b3d421,#a0d022,#8acd24,#7eca24,#73c824,#69c624,#63c324,#5ec024,#59be24,#54bc27,#4fba29,#4bb92b,#48b82c,#47b82d,#48b82c,#4cb92a,#52bb28,#58bd25)"></i><i style="background:linear-gradient(90deg,#f5d21e,#efd71d,#e2db1d,#aad222,#74c824,#61c224,#57bd25,#52bb28,#4fba29,#4eba29,#4fba29,#51bb28,#55bc26,#5abe24,#5ec024,#63c324,#68c624,#72c824,#7dca24,#87cc24,#9ed022,#b1d321,#c1d620,#c8d71f,#cdd81f,#d0d81e,#d0d81e,#ced81f,#c9d71f,#c2d620,#b4d421,#a1d122,#8bcd24,#7eca24,#74c824,#69c624,#64c324,#5ec024,#59be24,#54bc27,#4fba29,#4bb92b,#49b82c,#47b82c,#48b82c,#4cb92a,#52bb28,#58bd25)"></i><i style="background:linear-gradient(90deg,#f5d21e,#efd71d,#e4db1c,#aed321,#75c924,#61c224,#58bd25,#52bb27,#4fba29,#4eba29,#4fba29,#51bb28,#55bc26,#5abe24,#5ec024,#63c324,#68c624,#72c824,#7cca24,#86cc24,#9cd022,#b0d321,#c0d620,#c8d71f,#cdd81f,#d0d81e,#d0d81e,#ced81f,#c9d71f,#c2d620,#b4d421,#a1d122,#8bcd24,#7fca24,#74c824,#69c624,#64c324,#5fc024,#5abe24,#54bc27,#4fba29,#4bb92b,#49b82c,#48b82c,#49b82c,#4cb92a,#52bb28,#57bd25)"></i><i style="background:linear-gradient(90deg,#f5d21e,#f0d61d,#e7dc1c,#b3d421,#77c924,#62c224,#58bd25,#53bc27,#4fba29,#4eba29,#4fba29,#51bb28,#55bc26,#59be24,#5ec024,#63c324,#68c524,#71c824,#7cca24,#85cc24,#9bd023,#afd321,#c0d620,#c7d71f,#cdd81f,#d0d81e,#d0d81e,#ced81f,#c9d71f,#c2d620,#b5d421,#a2d122,#8ccd24,#7fcb24,#75c824,#6ac624,#64c324,#5fc124,#5abe24,#54bc27,#50bb29,#4cb92a,#49b82c,#48b82c,#49b82c,#4cb92a,#52bb28,#57bd25)"></i><i style="background:linear-gradient(90deg,#f5d21e,#f0d61d,#e8dc1c,#b8d521,#79c924,#63c324,#59be25,#53bc27,#50bb29,#4eba29,#4fba29,#51bb28,#55bc26,#59be24,#5ec024,#63c324,#68c524,#71c824,#7bca24,#85cc24,#9acf23,#aed321,#bed620,#c7d71f,#ccd81f,#cfd81e,#d0d81e,#ced81f,#c9d71f,#c2d620,#b5d421,#a2d122,#8dcd24,#7fcb24,#75c824,#6ac624,#64c424,#5fc124,#5abe24,#55bc26,#50bb28,#4cb92a,#4ab92b,#48b82c,#49b82b,#4cb92a,#52bb27,#57bd25)"></i><i style="background:linear-gradient(90deg,#f5d21e,#f1d51d,#e9db1c,#bdd520,#7bca24,#64c324,#59be24,#53bc27,#50bb29,#4eba29,#4fba29,#51bb28,#54bc26,#59be24,#5dc024,#62c224,#67c524,#70c724,#7aca24,#84cc24,#98cf23,#acd321,#bdd520,#c6d71f,#cbd81f,#ced81f,#cfd81e,#cdd81f,#c9d71f,#c2d620,#b5d421,#a2d122,#8dcd24,#7fcb24,#75c924,#6bc624,#65c424,#5fc124,#5bbe24,#55bc26,#50bb28,#4dba2a,#4ab92b,#49b82c,#4ab92b,#4dba2a,#53bc27,#57bd25)"></i><i style="background:linear-gradient(90deg,#f5d21e,#f1d51d,#e9db1c,#c1d620,#7dca24,#65c424,#5abe24,#54bc27,#50bb28,#4fba29,#4fba29,#51bb28,#54bc27,#59be25,#5dc024,#62c224,#67c524,#6fc724,#7ac924,#83cb24,#96cf23,#aad222,#bbd520,#c5d720,#cbd81f,#ced81f,#ced81f,#cdd81f,#c9d71f,#c2d620,#b5d421,#a3d122,#8ecd23,#80cb24,#76c924,#6bc624,#65c424,#60c124,#5bbe24,#56bd26,#51bb28,#4dba2a,#4bb92b,#4ab92b,#4ab92b,#4eba2a,#53bc27,#57bd25)"></i><i style="background:linear-gradient(90deg,#f5d21e,#f2d41d,#eadb1c,#c5d720,#80cb24,#66c424,#5bbe24,#54bc27,#50bb28,#4fba29,#4fba29,#51bb28,#54bc27,#58bd25,#5dc024,#62c224,#67c524,#6ec724,#79c924,#82cb24,#94ce23,#a8d222,#b9d520,#c4d720,#cad71f,#cdd81f,#ced81f,#ccd81f,#c8d71f,#c2d620,#b4d421,#a3d122,#8ecd23,#80cb24,#76c924,#6cc724,#65c424,#60c124,#5bbf24,#56bd26,#51bb28,#4eba29,#4bb92b,#4ab92b,#4bb92b,#4eba29,#54bc27,#57bd25)"></i><i style="background:linear-gradient(90deg,#f5d21e,#f3d41d,#eada1c,#c8d71f,#82cb24,#67c524,#5cbf24,#55bc26,#51bb28,#4fba29,#4fba29,#51bb28,#54bc27,#58bd25,#5dbf24,#61c224,#66c424,#6ec724,#78c924,#82cb24,#92ce23,#a6d222,#b7d421,#c3d620,#c9d71f,#ccd81f,#cdd81f,#cbd81f,#c7d71f,#c1d620,#b4d421,#a3d122,#8ecd23,#80cb24,#76c924,#6cc724,#65c424,#60c124,#5cbf24,#57bd26,#52bb28,#4eba29,#4cb92a,#4bb92b,#4cb92a,#4fba29,#55bc26,#57bd25)"></i><i style="background:linear-gradient(90deg,#f6d21e,#f4d31d,#ebda1c,#ccd81f,#85cc24,#68c524,#5cbf24,#55bc26,#51bb28,#4fba29,#4fba29,#51bb28,#54bc27,#58bd25,#5cbf24,#61c224,#66c424,#6dc724,#77c924,#81cb24,#8fce23,#a4d122,#b5d421,#c1d620,#c7d71f,#cbd81f,#ccd81f,#cbd81f,#c7d71f,#c1d620,#b3d421,#a2d122,#8ecd23,#80cb24,#77c924,#6dc724,#66c424,#61c224,#5cbf24,#57bd25,#53bc27,#4fba29,#4dba2a,#4cb92a,#4dba2a,#50bb29,#56bd26,#57bd25)"></i><i style="background:linear-gradient(90deg,#f6d21e,#f4d31e,#ecd91c,#d0d81e,#8acd24,#69c624,#5dc024,#56bd26,#51bb28,#4fba29,#4fba29,#51bb28,#53bc27,#57bd25,#5cbf24,#60c124,#65c424,#6cc724,#76c924,#80cb24,#8dcd24,#a1d122,#b2d421,#c0d620,#c6d71f,#cad71f,#cbd81f,#cad71f,#c6d71f,#c0d620,#b3d421,#a2d122,#8ecd23,#80cb24,#77c924,#6dc724,#66c424,#61c224,#5cbf24,#58bd25,#53bc27,#50bb29,#4dba2a,#4dba2a,#4eba2a,#51bb28,#57bd26,#57bd25)"></i><i style="background:linear-gradient(90deg,#f6d21e,#f5d21e,#ecd91d,#d4d91e,#92ce23,#6cc724,#5ec024,#56bd26,#52bb28,#4fba29,#4fba29,#50bb28,#53bc27,#57bd25,#5cbf24,#60c124,#65c424,#6bc624,#75c824,#7fca24,#8acd24,#9ed022,#b0d321,#bdd620,#c5d720,#c8d71f,#cad71f,#c9d71f,#c5d71f,#bfd620,#b2d421,#a1d122,#8ecd23,#81cb24,#77c924,#6dc724,#66c524,#61c224,#5dc024,#58bd25,#54bc27,#51bb28,#4eba29,#4eba2a,#4fba29,#52bb28,#58bd25,#58bd25)"></i><i style="background:linear-gradient(90deg,#f6d21e,#f6d11e,#edd81d,#d8da1e,#99cf23,#6fc724,#5fc124,#57bd25,#52bb27,#50bb29,#4fba29,#50bb28,#53bc27,#57bd25,#5bbf24,#60c124,#64c424,#6ac624,#74c824,#7dca24,#87cc24,#9bd023,#add321,#bbd520,#c3d620,#c7d71f,#c8d71f,#c7d71f,#c4d720,#bed620,#b1d321,#a1d122,#8ecd23,#81cb24,#77c924,#6ec724,#67c524,#62c224,#5dc024,#59be24,#55bc26,#51bb28,#4fba29,#4fba29,#50bb29,#53bc27,#59be25,#58bd25)"></i><i style="background:linear-gradient(90deg,#f6d11e,#f6d11e,#eed71d,#ddda1d,#a1d122,#71c824,#60c124,#58bd25,#53bc27,#50bb28,#4fba29,#50bb28,#53bc27,#57bd26,#5bbe24,#5fc124,#64c324,#69c624,#73c824,#7cca24,#85cc24,#98cf23,#a9d222,#b8d521,#c1d620,#c5d71f,#c7d71f,#c6d71f,#c3d620,#bcd520,#b0d321,#a0d022,#8dcd24,#81cb24,#78c924,#6ec724,#67c524,#62c224,#5ec024,#5abe24,#56bd26,#52bb27,#50bb28,#50bb29,#51bb28,#54bc27,#59be24,#59be25)"></i><i style="background:linear-gradient(90deg,#f6d11e,#f6d11e,#efd71d,#e1db1d,#aad222,#75c824,#62c224,#58bd25,#53bc27,#50bb28,#4fba29,#50bb28,#53bc27,#56bd26,#5bbe24,#5fc124,#63c324,#68c624,#71c824,#7bca24,#84cc24,#95cf23,#a6d222,#b4d421,#bfd620,#c3d720,#c5d71f,#c5d720,#c2d620,#bad520,#aed321,#9fd022,#8dcd24,#81cb24,#78c924,#6fc724,#67c524,#63c324,#5ec024,#5abe24,#56bd26,#53bc27,#51bb28,#51bb28,#52bb27,#56bd26,#5abe24,#59be24)"></i><i style="background:linear-gradient(90deg,#f6d11e,#f6d11e,#f0d61d,#e6dc1c,#b2d421,#78c924,#63c324,#59be24,#54bc27,#51bb28,#50bb29,#50bb28,#52bb27,#56bd26,#5abe24,#5ec024,#63c324,#68c524,#70c724,#7ac924,#82cb24,#91ce23,#a3d122,#b1d321,#bcd520,#c2d620,#c3d720,#c3d620,#c0d620,#b8d521,#add321,#9ed022,#8ccd24,#81cb24,#78c924,#6fc724,#67c524,#63c324,#5fc124,#5bbf24,#57bd25,#54bc26,#53bc27,#52bb27,#54bc27,#57bd25,#5bbe24,#5abe24)"></i><i style="background:linear-gradient(90deg,#f6d11e,#f7d11e,#f1d51d,#e9dc1c,#bbd520,#7bca24,#64c324,#5abe24,#54bc27,#51bb28,#50bb29,#50bb28,#52bb27,#56bd26,#5abe24,#5ec024,#62c224,#67c524,#6fc724,#78c924,#81cb24,#8dcd23,#9fd022,#add321,#b8d521,#bfd620,#c2d620,#c1d620,#bed620,#b6d421,#abd221,#9cd022,#8bcd24,#80cb24,#78c924,#6fc724,#68c524,#63c324,#5fc124,#5cbf24,#58bd25,#55bc26,#54bc27,#54bc27,#55bc26,#59be25,#5bbf24,#5bbe24)"></i><i style="background:linear-gradient(90deg,#f6d11e,#f7d11e,#f2d51d,#e9db1c,#c2d620,#7fcb24,#66c424,#5bbf24,#55bc26,#51bb28,#50bb29,#50bb28,#52bb28,#55bc26,#59be24,#5dc024,#62c224,#66c524,#6dc724,#77c924,#7fcb24,#8acd24,#9bd023,#a9d222,#b5d421,#bcd520,#c0d620,#bfd620,#bbd520,#b4d421,#a9d222,#9bd023,#8acd24,#80cb24,#78c924,#70c724,#68c524,#64c324,#60c124,#5cbf24,#59be24,#57bd26,#55bc26,#55bc26,#57bd26,#5abe24,#5cbf24,#5bbf24)"></i><i style="background:linear-gradient(90deg,#f7d11e,#f7d11e,#f3d41d,#eada1c,#c8d71f,#82cb24,#67c524,#5cbf24,#56bd26,#52bb28,#50bb28,#50bb28,#52bb28,#55bc26,#59be25,#5dc024,#61c224,#66c424,#6cc724,#75c924,#7eca24,#86cc24,#97cf23,#a5d122,#b1d321,#b8d521,#bcd520,#bcd520,#b8d521,#b1d321,#a7d222,#99cf23,#89cd24,#80cb24,#78c924,#70c724,#68c624,#64c424,#61c124,#5dc024,#5abe24,#58bd25,#56bd26,#56bd26,#58bd25,#5cbf24,#5dc024,#5cbf24)"></i><i style="background:linear-gradient(90deg,#f7d11e,#f7d11e,#f4d31e,#ebda1c,#cdd81f,#87cc24,#69c624,#5ec024,#56bd26,#52bb27,#50bb28,#50bb28,#52bb28,#55bc26,#58bd25,#5cbf24,#61c224,#65c424,#6bc624,#74c824,#7cca24,#84cc24,#93ce23,#a1d122,#add321,#b4d421,#b8d521,#b9d521,#b5d421,#afd321,#a5d122,#98cf23,#88cc24,#80cb24,#78c924,#70c824,#69c624,#65c424,#61c224,#5ec024,#5bbf24,#59be24,#58bd25,#58bd25,#5abe24,#5dc024,#5ec024,#5dbf24)"></i><i style="background:linear-gradient(90deg,#f7d11e,#f7d11e,#f5d21e,#ecd91d,#d3d91e,#91ce23,#6cc724,#5fc124,#57bd25,#53bc27,#51bb28,#50bb28,#52bb28,#54bc27,#58bd25,#5cbf24,#60c124,#65c424,#69c624,#72c824,#7bca24,#82cb24,#8ecd23,#9dd022,#a8d222,#b0d321,#b4d421,#b5d421,#b2d421,#acd321,#a2d122,#96cf23,#87cc24,#80cb24,#78c924,#71c824,#69c624,#65c424,#62c224,#5fc024,#5cbf24,#5abe24,#59be24,#5abe24,#5bbf24,#5fc124,#5fc024,#5dc024)"></i><i style="background:linear-gradient(90deg,#f7d11e,#f7d11e,#f6d11e,#edd81d,#d9da1e,#9bd023,#70c724,#60c124,#58bd25,#53bc27,#51bb28,#50bb28,#51bb28,#54bc27,#57bd25,#5bbf24,#60c124,#64c324,#68c624,#70c824,#79c924,#81cb24,#8acd24,#98cf23,#a4d122,#acd321,#b0d321,#b1d321,#afd321,#a9d222,#a0d022,#94ce23,#86cc24,#7fcb24,#78c924,#71c824,#69c624,#66c424,#62c224,#5fc124,#5dc024,#5bbf24,#5bbe24,#5bbf24,#5dc024,#60c124,#5fc124,#5ec024)"></i><i style="background:linear-gradient(90deg,#f7d11e,#f7d11e,#f7d01e,#eed71d,#dedb1d,#a5d122,#74c824,#62c224,#59be24,#54bc27,#51bb28,#50bb28,#51bb28,#54bc27,#57bd25,#5bbf24,#5fc124,#63c324,#68c524,#6fc724,#77c924,#7fcb24,#86cc24,#94ce23,#9fd022,#a7d222,#acd321,#add321,#abd221,#a5d122,#9dd022,#92ce23,#85cc24,#7fcb24,#78c924,#71c824,#6ac624,#66c424,#63c324,#60c124,#5ec024,#5dbf24,#5cbf24,#5dbf24,#5fc024,#62c224,#60c124,#5fc124)"></i><i style="background:linear-gradient(90deg,#f7d11e,#f7d11e,#f7d01e,#f0d61d,#e5dc1c,#b0d321,#78c924,#64c324,#5abe24,#55bc26,#52bb28,#51bb28,#51bb28,#53bc27,#57bd26,#5bbe24,#5ec024,#62c324,#67c524,#6dc724,#75c924,#7dca24,#84cc24,#8fce23,#9acf23,#a3d122,#a8d222,#a9d222,#a7d222,#a2d122,#9acf23,#8fce23,#85cc24,#7fca24,#78c924,#71c824,#6bc624,#67c524,#64c324,#61c224,#5fc124,#5ec024,#5dc024,#5ec024,#60c124,#63c324,#61c224,#60c124)"></i><i style="background:linear-gradient(90deg,#f7d11e,#f7d01e,#f7d01e,#f1d51d,#e9dc1c,#bbd520,#7cca24,#65c424,#5cbf24,#55bc26,#52bb28,#51bb28,#51bb28,#53bc27,#56bd26,#5abe24,#5ec024,#62c224,#66c424,#6bc624,#73c824,#7bca24,#82cb24,#8acd24,#95cf23,#9ed022,#a3d122,#a5d122,#a3d122,#9fd022,#97cf23,#8dcd24,#84cc24,#7eca24,#78c924,#72c824,#6bc624,#67c524,#64c324,#62c224,#60c124,#5fc124,#5fc124,#60c124,#62c224,#64c324,#62c224,#61c224)"></i><i style="background:linear-gradient(90deg,#f7d11e,#f7d01e,#f8d01e,#f2d41d,#eadb1c,#c3d720,#81cb24,#67c524,#5dc024,#56bd26,#53bc27,#51bb28,#51bb28,#53bc27,#56bd26,#59be24,#5dc024,#61c224,#65c424,#69c624,#72c824,#79c924,#80cb24,#85cc24,#90ce23,#99cf23,#9ed022,#a0d122,#9fd022,#9bd023,#94ce23,#8acd24,#83cb24,#7eca24,#78c924,#72c824,#6cc724,#68c524,#65c424,#63c324,#61c224,#60c124,#60c124,#61c224,#64c324,#65c424,#63c324,#62c224)"></i><i style="background:linear-gradient(90deg,#f7d01e,#f8d01e,#f8d01e,#f4d31d,#ebda1c,#cad71f,#85cc24,#69c624,#5ec024,#57bd25,#53bc27,#51bb28,#51bb28,#53bc27,#55bc26,#59be25,#5dbf24,#60c124,#64c424,#68c624,#70c724,#77c924,#7eca24,#83cb24,#8bcd24,#94ce23,#99cf23,#9bd023,#9bd023,#97cf23,#90ce23,#88cc24,#82cb24,#7dca24,#78c924,#72c824,#6cc724,#68c524,#66c424,#64c324,#62c224,#62c224,#62c224,#63c324,#66c424,#66c424,#64c424,#63c324)"></i><i style="background:linear-gradient(90deg,#f7d01e,#f8d01e,#f8d01e,#f5d21e,#ecd91c,#d0d81e,#8fce23,#6dc724,#60c124,#58bd25,#54bc27,#52bb28,#51bb28,#53bc27,#55bc26,#58bd25,#5cbf24,#60c124,#64c324,#67c524,#6ec724,#75c824,#7cca24,#81cb24,#86cc24,#8ecd23,#94ce23,#97cf23,#96cf23,#93ce23,#8dcd24,#86cc24,#81cb24,#7dca24,#78c924,#72c824,#6dc724,#69c624,#66c524,#65c424,#63c324,#63c324,#63c324,#65c424,#68c524,#67c524,#65c424,#64c324)"></i><i style="background:linear-gradient(90deg,#f8d01e,#f8d01e,#f8d01e,#f6d11e,#edd81d,#d7d91e,#9ad023,#72c824,#62c224,#59be24,#54bc27,#52bb28,#51bb28,#52bb27,#55bc26,#58bd25,#5bbf24,#5fc124,#63c324,#67c524,#6cc724,#73c824,#79c924,#7fcb24,#84cc24,#89cc24,#8fcd23,#92ce23,#92ce23,#8fce23,#89cd24,#84cc24,#81cb24,#7cca24,#77c924,#73c824,#6ec724,#69c624,#67c524,#66c424,#65c424,#64c424,#65c424,#67c524,#6bc624,#68c624,#66c524,#65c424)"></i><i style="background:linear-gradient(90deg,#f8d01e,#f8d01e,#f8d01e,#f8d01e,#eed71d,#deda1d,#a6d222,#76c924,#63c324,#5bbe24,#55bc26,#52bb27,#52bb28,#52bb27,#54bc27,#57bd25,#5bbe24,#5ec024,#62c224,#66c424,#6ac624,#71c824,#77c924,#7dca24,#81cb24,#85cc24,#89cd24,#8ccd24,#8dcd24,#8bcd24,#86cc24,#83cb24,#80cb24,#7cca24,#77c924,#73c824,#6ec724,#6ac624,#68c524,#67c524,#66c424,#66c424,#67c524,#69c624,#6fc724,#6ac624,#67c524,#66c424)"></i><i style="background:linear-gradient(90deg,#f8d01e,#f8d01e,#f8d01e,#f8d01e,#f0d61d,#e5dc1c,#b2d421,#7aca24,#65c424,#5cbf24,#56bd26,#53bc27,#52bb28,#52bb27,#54bc27,#57bd25,#5abe24,#5ec024,#61c224,#65c424,#68c624,#6fc724,#75c824,#7bca24,#7fcb24,#83cb24,#85cc24,#87cc24,#88cc24,#86cc24,#84cc24,#82cb24,#7fca24,#7bca24,#77c924,#73c824,#6fc724,#6bc624,#69c624,#68c524,#67c524,#67c524,#68c624,#6cc724,#71c824,#6cc724,#69c624,#67c524)"></i><i style="background:linear-gradient(90deg,#f8d01e,#f8d01e,#f8d01e,#f8d01e,#f1d51d,#e9db1c,#bed620,#7fcb24,#67c524,#5ec024,#57bd25,#53bc27,#52bb28,#52bb27,#54bc27,#56bd26,#5abe24,#5dc024,#60c124,#64c324,#67c524,#6cc724,#73c824,#78c924,#7dca24,#80cb24,#83cb24,#84cc24,#85cc24,#84cc24,#83cb24,#81cb24,#7eca24,#7aca24,#77c924,#73c824,#70c724,#6cc724,#6ac624,#69c624,#68c624,#69c624,#6bc724,#71c824,#73c824,#6fc724,#6ac624,#68c524)"></i><i style="background:linear-gradient(90deg,#f8d01e,#f8d01e,#f8d01e,#f7d01e,#f3d41d,#eadb1c,#c6d71f,#84cc24,#6ac624,#5fc124,#58bd25,#54bc27,#52bb27,#52bb28,#53bc27,#56bd26,#59be24,#5cbf24,#60c124,#63c324,#66c524,#6ac624,#70c824,#76c924,#7aca24,#7eca24,#81cb24,#82cb24,#83cb24,#82cb24,#81cb24,#7fcb24,#7dca24,#7ac924,#77c924,#73c824,#70c724,#6dc724,#6bc624,#6ac624,#6ac624,#6cc724,#6fc724,#75c824,#76c924,#71c824,#6cc724,#69c624)"></i><i style="background:linear-gradient(90deg,#f8d01e,#f8d01e,#f8d01e,#f7d01e,#f4d31e,#ebda1c,#cdd81f,#8ccd24,#6ec724,#61c224,#59be24,#54bc26,#52bb27,#52bb27,#53bc27,#55bc26,#58bd25,#5bbf24,#5fc124,#62c224,#65c424,#69c624,#6ec724,#74c824,#78c924,#7cca24,#7eca24,#80cb24,#81cb24,#81cb24,#80cb24,#7eca24,#7cca24,#79c924,#76c924,#73c824,#71c824,#6fc724,#6dc724,#6cc724,#6dc724,#6fc724,#73c824,#79c924,#78c924,#73c824,#6fc724,#6ac624)"></i><i style="background:linear-gradient(90deg,#f8d01e,#f8d01e,#f7d01e,#f7d11e,#f6d21e,#edd91d,#d4d91e,#99cf23,#73c824,#63c324,#5bbe24,#55bc26,#53bc27,#52bb27,#53bc27,#55bc26,#58bd25,#5bbe24,#5ec024,#61c224,#64c424,#68c524,#6cc724,#71c824,#76c924,#79c924,#7cca24,#7eca24,#7fca24,#7fca24,#7eca24,#7dca24,#7bca24,#78c924,#76c924,#74c824,#71c824,#70c724,#6fc724,#6fc724,#70c724,#73c824,#77c924,#7eca24,#7aca24,#75c924,#71c824,#6cc724)"></i><i style="background:linear-gradient(90deg,#f8d01e,#f8d01e,#f7d01e,#f7d11e,#f7d11e,#eed71d,#dbda1d,#a5d122,#77c924,#65c424,#5cbf24,#56bd26,#53bc27,#52bb27,#53bc27,#55bc26,#57bd25,#5abe24,#5dc024,#60c124,#63c324,#66c524,#6ac624,#6fc724,#73c824,#77c924,#7ac924,#7cca24,#7dca24,#7dca24,#7cca24,#7bca24,#7ac924,#78c924,#76c924,#74c824,#72c824,#71c824,#71c824,#71c824,#73c824,#76c924,#7bca24,#82cb24,#7cca24,#78c924,#73c824,#6fc724)"></i><i style="background:linear-gradient(90deg,#f8d01e,#f8d01e,#f7d11e,#f7d11e,#f7d11e,#f0d61d,#e3db1c,#b1d321,#7cca24,#67c524,#5ec024,#57bd25,#54bc27,#53bc27,#53bc27,#54bc27,#57bd26,#5abe24,#5cbf24,#5fc124,#62c324,#65c424,#68c624,#6cc724,#71c824,#75c824,#77c924,#79c924,#7bca24,#7bca24,#7bca24,#7ac924,#79c924,#77c924,#76c924,#74c824,#73c824,#72c824,#72c824,#74c824,#76c924,#7ac924,#80cb24,#84cc24,#7fca24,#7ac924,#75c824,#71c824)"></i><i style="background:linear-gradient(90deg,#f8d01e,#f7d01e,#f7d11e,#f7d11e,#f6d11e,#f1d51d,#e9dc1c,#bed620,#81cb24,#69c624,#60c124,#59be25,#54bc26,#53bc27,#53bc27,#54bc27,#56bd26,#59be25,#5cbf24,#5fc024,#61c224,#64c424,#67c524,#6ac624,#6ec724,#72c824,#75c824,#77c924,#78c924,#79c924,#79c924,#78c924,#78c924,#77c924,#75c924,#74c824,#74c824,#74c824,#74c824,#76c924,#79c924,#7eca24,#84cc24,#86cc24,#81cb24,#7cca24,#77c924,#73c824)"></i><i style="background:linear-gradient(90deg,#f8d01e,#f7d01e,#f7d11e,#f7d11e,#f6d11e,#f3d41d,#eadb1c,#c6d71f,#86cc24,#6dc724,#61c224,#5abe24,#55bc26,#53bc27,#53bc27,#54bc27,#56bd26,#58bd25,#5bbf24,#5ec024,#61c124,#63c324,#66c424,#68c624,#6cc724,#70c724,#73c824,#75c824,#76c924,#77c924,#77c924,#77c924,#77c924,#76c924,#75c924,#75c824,#75c824,#75c824,#76c924,#79c924,#7cca24,#82cb24,#8dcd24,#8bcd24,#83cb24,#7eca24,#79c924,#75c824)"></i><i style="background:linear-gradient(90deg,#f7d01e,#f7d11e,#f7d11e,#f7d11e,#f6d11e,#f4d31e,#ebda1c,#cdd81f,#91ce23,#72c824,#63c324,#5cbf24,#56bd26,#54bc27,#53bc27,#54bc27,#55bc26,#58bd25,#5abe24,#5dc024,#60c124,#62c224,#65c424,#67c524,#6ac624,#6dc724,#70c824,#73c824,#74c824,#75c924,#76c924,#76c924,#76c924,#75c924,#75c824,#75c824,#75c924,#76c924,#78c924,#7bca24,#80cb24,#86cc24,#98cf23,#90ce23,#85cc24,#80cb24,#7bca24,#77c924)"></i><i style="background:linear-gradient(90deg,#f7d01e,#f7d11e,#f7d11e,#f6d11e,#f6d21e,#f5d21e,#edd81d,#d5d91e,#9ed022,#77c924,#65c424,#5dc024,#58bd25,#54bc27,#53bc27,#53bc27,#55bc26,#57bd25,#5abe24,#5cbf24,#5fc124,#61c224,#64c324,#66c424,#68c624,#6bc624,#6ec724,#70c824,#72c824,#73c824,#74c824,#74c824,#75c824,#75c824,#75c824,#75c924,#76c924,#78c924,#7bca24,#7eca24,#83cb24,#8fce23,#a1d122,#95cf23,#88cc24,#82cb24,#7dca24,#79c924)"></i><i style="background:linear-gradient(90deg,#f7d11e,#f7d11e,#f7d11e,#f6d11e,#f6d21e,#f5d21e,#eed71d,#ddda1d,#aad222,#7bca24,#67c524,#5fc124,#59be24,#55bc26,#53bc27,#53bc27,#55bc26,#56bd26,#59be25,#5bbf24,#5ec024,#60c124,#63c324,#65c424,#67c524,#69c624,#6cc724,#6ec724,#70c724,#71c824,#72c824,#73c824,#74c824,#74c824,#75c824,#76c924,#77c924,#7ac924,#7dca24,#81cb24,#88cc24,#9ad023,#a5d122,#99cf23,#8dcd24,#84cc24,#7fcb24,#7bca24)"></i><i style="background:linear-gradient(90deg,#f7d11e,#f7d11e,#f7d11e,#f6d11e,#f5d21e,#f5d31e,#f0d61d,#e5dc1c,#b6d421,#80cb24,#6ac624,#61c224,#5bbe24,#56bd26,#54bc27,#53bc27,#54bc27,#56bd26,#58bd25,#5bbe24,#5dc024,#5fc124,#62c224,#64c324,#66c424,#68c524,#69c624,#6cc724,#6ec724,#70c724,#71c824,#72c824,#73c824,#74c824,#75c824,#76c924,#78c924,#7bca24,#7fcb24,#84cc24,#91ce23,#a6d122,#a9d222,#9ed022,#91ce23,#86cc24,#81cb24,#7dca24)"></i><i style="background:linear-gradient(90deg,#f7d11e,#f7d11e,#f6d11e,#f6d21e,#f5d21e,#f4d31e,#f2d51d,#e9db1c,#c1d620,#85cc24,#6fc724,#63c324,#5cbf24,#57bd25,#54bc27,#54bc27,#54bc27,#56bd26,#58bd25,#5abe24,#5cbf24,#5fc024,#61c224,#63c324,#65c424,#67c524,#68c624,#6ac624,#6cc724,#6ec724,#6fc724,#71c824,#72c824,#73c824,#75c824,#77c924,#7ac924,#7dca24,#82cb24,#89cd24,#9bd023,#b1d321,#add321,#a2d122,#96cf23,#8acd24,#83cb24,#7eca24)"></i><i style="background:linear-gradient(90deg,#f7d11e,#f7d11e,#f6d11e,#f6d21e,#f5d21e,#f4d31d,#f3d41d,#eada1c,#c9d71f,#8ecd23,#73c824,#65c424,#5ec024,#58bd25,#55bc26,#54bc27,#54bc27,#55bc26,#57bd25,#59be24,#5bbf24,#5ec024,#60c124,#62c224,#64c324,#66c424,#67c524,#68c624,#6ac624,#6cc724,#6ec724,#6fc724,#71c824,#73c824,#75c824,#78c924,#7bca24,#7fcb24,#84cc24,#91ce23,#a5d122,#bcd520,#b1d321,#a6d122,#9acf23,#8fcd23,#85cc24,#80cb24)"></i><i style="background:linear-gradient(90deg,#f7d11e,#f6d11e,#f6d21e,#f5d21e,#f5d31e,#f4d31d,#f2d41d,#ecd91c,#d1d91e,#9acf23,#78c924,#67c524,#5fc124,#5abe24,#56bd26,#54bc27,#54bc27,#55bc26,#57bd26,#59be25,#5bbe24,#5dc024,#5fc124,#61c224,#63c324,#65c424,#66c424,#67c524,#69c624,#6ac624,#6cc724,#6ec724,#70c824,#73c824,#75c924,#78c924,#7cca24,#81cb24,#88cc24,#9acf23,#b0d321,#bfd620,#b5d421,#aad222,#9ed022,#93ce23,#87cc24,#82cb24)"></i><i style="background:linear-gradient(90deg,#f7d11e,#f6d11e,#f6d21e,#f5d21e,#f4d31e,#f3d41d,#f2d41d,#eed81d,#d9da1d,#a6d222,#7cca24,#69c624,#61c224,#5bbf24,#57bd25,#55bc26,#54bc27,#55bc26,#56bd26,#58bd25,#5abe24,#5cbf24,#5ec024,#60c124,#62c224,#64c324,#65c424,#66c524,#68c524,#69c624,#6bc624,#6dc724,#70c724,#72c824,#75c924,#79c924,#7eca24,#83cb24,#8fce23,#a3d122,#bbd520,#c1d620,#b8d521,#add321,#a2d122,#97cf23,#8ccd24,#84cc24)"></i><i style="background:linear-gradient(90deg,#f7d11e,#f6d11e,#f5d21e,#f5d21e,#f4d31d,#f3d41d,#f2d51d,#efd71d,#e2db1d,#b2d421,#81cb24,#6dc724,#63c324,#5dc024,#58bd25,#55bc26,#54bc27,#55bc26,#56bd26,#57bd25,#59be24,#5bbf24,#5dc024,#5fc124,#61c224,#63c324,#64c324,#66c424,#67c524,#68c624,#6ac624,#6cc724,#6fc724,#72c824,#76c924,#7aca24,#7fcb24,#85cc24,#97cf23,#add321,#c4d720,#c2d620,#bbd520,#b1d321,#a6d222,#9bd023,#90ce23,#86cc24)"></i><i style="background:linear-gradient(90deg,#f6d11e,#f6d21e,#f5d21e,#f5d31e,#f4d31d,#f3d41d,#f1d51d,#f0d61d,#e9dc1c,#c0d620,#85cc24,#71c824,#65c424,#5ec024,#5abe24,#56bd26,#55bc26,#55bc26,#55bc26,#57bd25,#59be25,#5bbe24,#5dbf24,#5ec024,#60c124,#62c224,#63c324,#65c424,#66c424,#67c524,#69c624,#6cc724,#6fc724,#72c824,#76c924,#7bca24,#81cb24,#8bcd24,#9fd022,#b7d421,#c8d71f,#c4d720,#bed620,#b4d421,#aad222,#9fd022,#94ce23,#89cd24)"></i><i style="background:linear-gradient(90deg,#f6d11e,#f6d21e,#f5d21e,#f4d31e,#f3d41d,#f2d41d,#f1d51d,#f0d61d,#eada1c,#c8d71f,#8fce23,#75c924,#67c524,#60c124,#5bbf24,#58bd25,#55bc26,#55bc26,#55bc26,#57bd26,#58bd25,#5abe24,#5cbf24,#5ec024,#5fc124,#61c224,#62c324,#64c324,#65c424,#67c524,#68c624,#6bc624,#6ec724,#73c824,#77c924,#7dca24,#83cb24,#91ce23,#a7d222,#c1d620,#c9d71f,#c5d71f,#c0d620,#b7d521,#add321,#a3d122,#98cf23,#8ecd23)"></i><i style="background:linear-gradient(90deg,#f6d21e,#f5d21e,#f5d21e,#f4d31d,#f3d41d,#f2d51d,#f1d61d,#efd71d,#ecd91c,#d0d81e,#9bd023,#7ac924,#69c624,#62c224,#5dbf24,#59be24,#56bd26,#55bc26,#55bc26,#56bd26,#58bd25,#5abe24,#5bbf24,#5dc024,#5fc024,#60c124,#62c224,#63c324,#65c424,#66c524,#68c524,#6ac624,#6ec724,#73c824,#78c924,#7eca24,#85cc24,#98cf23,#b0d321,#c7d71f,#cad81f,#c6d71f,#c2d620,#bad520,#b1d321,#a7d222,#9cd022,#92ce23)"></i><i style="background:linear-gradient(90deg,#f6d21e,#f5d21e,#f5d31e,#f4d31d,#f3d41d,#f2d51d,#f0d61d,#efd71d,#edd81d,#d9da1d,#a7d222,#7eca24,#6cc724,#64c324,#5ec024,#5abe24,#57bd25,#56bd26,#56bd26,#56bd26,#57bd25,#59be24,#5bbe24,#5cbf24,#5ec024,#5fc124,#61c224,#63c324,#64c324,#66c424,#68c524,#6ac624,#6ec724,#73c824,#79c924,#80cb24,#89cd24,#a0d022,#bad520,#cdd81f,#cbd81f,#c7d71f,#c3d620,#bdd620,#b4d421,#aad222,#a0d022,#96cf23)"></i><i style="background:linear-gradient(90deg,#f6d21e,#f5d21e,#f4d31e,#f3d31d,#f2d41d,#f1d51d,#f0d61d,#eed71d,#edd91d,#e2db1d,#b5d421,#82cb24,#70c824,#65c424,#60c124,#5cbf24,#59be25,#57bd25,#56bd26,#56bd26,#57bd25,#59be25,#5abe24,#5cbf24,#5dc024,#5fc124,#60c124,#62c224,#64c324,#65c424,#67c524,#6ac624,#6fc724,#74c824,#7aca24,#82cb24,#90ce23,#a8d222,#c2d620,#ced81f,#ccd81f,#c8d71f,#c4d720,#c0d620,#b7d421,#add321,#a3d122,#99cf23)"></i><i style="background:linear-gradient(90deg,#f5d21e,#f5d21e,#f4d31d,#f3d41d,#f2d41d,#f1d51d,#efd61d,#eed81d,#ecd91d,#e9dc1c,#c2d620,#88cc24,#74c824,#67c524,#62c224,#5dc024,#5abe24,#58bd25,#57bd25,#57bd25,#57bd25,#58bd25,#5abe24,#5bbf24,#5dbf24,#5ec024,#60c124,#62c224,#63c324,#65c424,#67c524,#6ac624,#6fc724,#75c824,#7cca24,#84cc24,#97cf23,#b1d321,#c9d71f,#ced81f,#ccd81f,#c9d71f,#c6d71f,#c1d620,#bad520,#b1d321,#a7d222,#9dd022)"></i><i style="background:linear-gradient(90deg,#f5d21e,#f4d31e,#f4d31d,#f3d41d,#f2d51d,#f0d61d,#efd71d,#edd81d,#ecd91c,#eadb1c,#cad81f,#94ce23,#79c924,#69c624,#63c324,#5fc024,#5bbf24,#59be25,#57bd25,#57bd25,#57bd25,#58bd25,#5abe24,#5bbf24,#5cbf24,#5ec024,#60c124,#61c224,#63c324,#65c424,#67c524,#6ac624,#70c724,#76c924,#7dca24,#86cc24,#9ed022,#bbd520,#cfd81f,#ced81f,#cdd81f,#cad81f,#c7d71f,#c3d620,#bcd520,#b4d421,#aad221,#a1d122)"></i><i style="background:linear-gradient(90deg,#f5d21e,#f4d31e,#f3d31d,#f2d41d,#f1d51d,#f0d61d,#efd71d,#edd81d,#ebd91c,#eadb1c,#d3d91e,#a1d122,#7dca24,#6dc724,#65c424,#60c124,#5dbf24,#5abe24,#58bd25,#58bd25,#58bd25,#59be25,#5abe24,#5bbe24,#5cbf24,#5ec024,#5fc124,#61c224,#63c324,#65c424,#67c524,#6bc624,#71c824,#77c924,#7fcb24,#8ccd24,#a7d222,#c3d620,#ced81f,#ced81f,#cdd81f,#cbd81f,#c8d71f,#c4d720,#bfd620,#b7d421,#add321,#a4d122)"></i><i style="background:linear-gradient(90deg,#f5d21e,#f4d31d,#f3d41d,#f2d41d,#f1d51d,#f0d61d,#eed71d,#edd81d,#ebda1c,#e9db1c,#ddda1d,#afd321,#81cb24,#71c824,#67c524,#62c224,#5ec024,#5bbf24,#5abe24,#59be25,#58bd25,#59be25,#5abe24,#5bbe24,#5cbf24,#5dc024,#5fc124,#61c224,#63c324,#65c424,#67c524,#6bc624,#72c824,#79c924,#82cb24,#94ce23,#b0d321,#c9d71f,#ced81f,#cfd81f,#ced81f,#ccd81f,#c9d71f,#c5d71f,#c1d620,#b9d520,#b0d321,#a7d222)"></i><i style="background:linear-gradient(90deg,#f4d31e,#f4d31d,#f3d41d,#f2d51d,#f1d61d,#efd71d,#eed81d,#ecd91d,#ebda1c,#e9db1c,#e1db1d,#bed620,#87cc24,#75c924,#68c624,#63c324,#5fc124,#5dbf24,#5bbe24,#5abe24,#59be24,#59be24,#5abe24,#5bbe24,#5cbf24,#5dc024,#5fc124,#61c224,#63c324,#65c424,#68c524,#6cc724,#73c824,#7bca24,#84cc24,#9cd023,#bad520,#cdd81f,#ced81f,#cfd81f,#ced81f,#ccd81f,#cad71f,#c6d71f,#c2d620,#bcd520,#b3d421,#aad221)"></i><i style="background:linear-gradient(90deg,#f4d31e,#f3d31d,#f3d41d,#f1d51d,#f0d61d,#efd71d,#edd81d,#ecd91c,#eada1c,#e8dc1c,#dedb1d,#c8d71f,#94ce23,#7ac924,#6cc724,#65c424,#61c224,#5ec024,#5cbf24,#5bbe24,#5abe24,#5abe24,#5abe24,#5bbf24,#5cbf24,#5ec024,#5fc124,#61c224,#63c324,#65c424,#68c624,#6ec724,#75c824,#7dca24,#89cc24,#a5d122,#c3d620,#ccd81f,#ced81f,#cfd81f,#ced81f,#cdd81f,#cad81f,#c7d71f,#c3d720,#bed620,#b6d421,#add321)"></i><i style="background:linear-gradient(90deg,#f4d31d,#f3d41d,#f2d41d,#f1d51d,#f0d61d,#efd71d,#edd81d,#ecd91c,#eadb1c,#e8dc1c,#dcda1d,#d0d81e,#a2d122,#7eca24,#70c724,#67c524,#62c324,#5fc124,#5dc024,#5cbf24,#5bbe24,#5bbe24,#5bbe24,#5cbf24,#5cbf24,#5ec024,#5fc124,#61c224,#63c324,#66c424,#69c624,#6fc724,#77c924,#80cb24,#91ce23,#afd321,#c9d71f,#ccd81f,#ced81f,#cfd81f,#ced81f,#cdd81f,#cbd81f,#c8d71f,#c5d720,#c0d620,#b9d520,#b0d321)"></i><i style="background:linear-gradient(90deg,#f4d31d,#f3d41d,#f2d51d,#f1d51d,#f0d61d,#eed71d,#edd81d,#ebda1c,#e9db1c,#e6dc1c,#dada1d,#ced81f,#b1d321,#83cb24,#74c824,#68c624,#64c324,#61c224,#5ec024,#5dbf24,#5cbf24,#5bbf24,#5cbf24,#5cbf24,#5dc024,#5ec024,#60c124,#62c224,#64c324,#67c524,#6ac624,#71c824,#79c924,#83cb24,#9acf23,#b9d520,#c8d71f,#cbd81f,#cdd81f,#ced81f,#ced81f,#ced81f,#ccd81f,#c9d71f,#c6d71f,#c2d620,#bbd520,#b3d421)"></i><i style="background:linear-gradient(90deg,#f3d31d,#f3d41d,#f2d51d,#f0d61d,#efd71d,#eed81d,#ecd91d,#ebda1c,#e9db1c,#e3db1c,#d8da1e,#ccd81f,#c0d620,#8dcd24,#79c924,#6cc724,#66c424,#62c224,#60c124,#5ec024,#5dc024,#5cbf24,#5cbf24,#5dbf24,#5ec024,#5fc124,#60c124,#62c224,#65c424,#67c524,#6cc724,#74c824,#7cca24,#87cc24,#a4d122,#c3d620,#c8d71f,#cbd81f,#cdd81f,#ced81f,#cfd81f,#ced81f,#ccd81f,#cad71f,#c7d71f,#c3d620,#bed620,#b6d421)"></i><i style="background:linear-gradient(90deg,#f3d41d,#f2d41d,#f1d51d,#f0d61d,#efd71d,#eed81d,#ecd91c,#eada1c,#e9db1c,#e1db1d,#d6d91e,#cad81f,#bed620,#9bd023,#7eca24,#70c824,#68c524,#64c324,#61c224,#5fc124,#5ec024,#5dc024,#5dc024,#5ec024,#5ec024,#5fc124,#61c224,#63c324,#66c424,#68c624,#6ec724,#76c924,#80cb24,#91ce23,#afd321,#c3d620,#c7d71f,#cad81f,#cdd81f,#ced81f,#cfd81f,#ced81f,#cdd81f,#cad81f,#c8d71f,#c4d720,#c0d620,#b8d521)"></i><i style="background:linear-gradient(90deg,#f3d41d,#f2d41d,#f1d51d,#f0d61d,#efd71d,#edd81d,#ecd91c,#eada1c,#e8dc1c,#dfdb1d,#d3d91e,#c8d71f,#bbd520,#aad222,#83cb24,#75c924,#6ac624,#66c424,#63c324,#61c224,#5fc124,#5fc124,#5ec024,#5fc024,#5fc124,#60c124,#62c224,#64c324,#67c524,#6ac624,#71c824,#7ac924,#83cb24,#9cd023,#bbd520,#c2d620,#c6d71f,#cad71f,#ccd81f,#ced81f,#cfd81f,#ced81f,#cdd81f,#cbd81f,#c8d71f,#c5d71f,#c1d620,#bbd520)"></i><i style="background:linear-gradient(90deg,#f3d41d,#f2d51d,#f1d51d,#efd61d,#eed71d,#edd81d,#ebda1c,#eadb1c,#e8dc1c,#ddda1d,#d1d91e,#c6d71f,#b9d521,#a7d222,#8dcd24,#7aca24,#6fc724,#68c524,#65c424,#62c324,#61c224,#60c124,#60c124,#60c124,#61c124,#62c224,#63c324,#65c424,#68c524,#6dc724,#75c824,#7dca24,#8acd24,#a8d222,#bad520,#c1d620,#c6d71f,#c9d71f,#ccd81f,#ced81f,#cfd81f,#ced81f,#cdd81f,#ccd81f,#c9d71f,#c6d71f,#c2d620,#bdd620)"></i><i style="background:linear-gradient(90deg,#f2d41d,#f1d51d,#f0d61d,#efd71d,#eed81d,#ecd91d,#ebda1c,#e9db1c,#e6dc1c,#dbda1d,#d0d81e,#c5d720,#b6d421,#a5d122,#96cf23,#80cb24,#74c824,#6bc624,#67c524,#64c324,#63c324,#62c224,#61c224,#61c224,#62c224,#63c324,#65c424,#67c524,#6ac624,#71c824,#78c924,#82cb24,#96cf23,#afd321,#b8d521,#c1d620,#c5d720,#c9d71f,#cbd81f,#cdd81f,#ced81f,#cfd81f,#ced81f,#ccd81f,#cad71f,#c7d71f,#c4d720,#bfd620)"></i><i style="background:linear-gradient(90deg,#f2d41d,#f1d51d,#f0d61d,#efd71d,#eed81d,#ecd91d,#ebda1c,#e9db1c,#e3db1c,#d9da1e,#ced81f,#c3d620,#b3d421,#a3d122,#94ce23,#86cc24,#79c924,#70c724,#69c624,#66c524,#65c424,#63c324,#63c324,#63c324,#64c324,#65c424,#66c524,#69c624,#6ec724,#75c824,#7dca24,#87cc24,#a3d122,#aed321,#b7d421,#c0d620,#c4d720,#c8d71f,#cbd81f,#cdd81f,#ced81f,#cfd81f,#ced81f,#cdd81f,#cbd81f,#c8d71f,#c5d720,#c1d620)"></i><i style="background:linear-gradient(90deg,#f2d51d,#f1d51d,#f0d61d,#eed71d,#edd81d,#ecd91c,#eada1c,#e9dc1c,#e1db1d,#d7d91e,#ccd81f,#c1d620,#b1d321,#a1d122,#93ce23,#86cc24,#7fcb24,#75c924,#6ec724,#69c624,#67c524,#65c424,#65c424,#65c424,#65c424,#66c524,#68c624,#6cc724,#72c824,#79c924,#82cb24,#95cf23,#a4d122,#add321,#b6d421,#bfd620,#c4d720,#c7d71f,#cad81f,#cdd81f,#ced81f,#cfd81f,#ced81f,#cdd81f,#cbd81f,#c9d71f,#c6d71f,#c2d620)"></i><i style="background:linear-gradient(90deg,#f2d51d,#f1d61d,#efd61d,#eed71d,#edd81d,#ebd91c,#eadb1c,#e8dc1c,#dfdb1d,#d5d91e,#cad81f,#bfd620,#afd321,#9fd022,#91ce23,#86cc24,#82cb24,#7bca24,#73c824,#6dc724,#69c624,#68c524,#67c524,#67c524,#67c524,#69c624,#6cc724,#71c824,#77c924,#7eca24,#89cd24,#9acf23,#a3d122,#acd321,#b5d421,#bdd620,#c3d620,#c7d71f,#cad81f,#ccd81f,#ced81f,#cfd81f,#ced81f,#cdd81f,#ccd81f,#c9d71f,#c6d71f,#c3d620)"></i><i style="background:linear-gradient(90deg,#f1d51d,#f0d61d,#efd71d,#eed81d,#ecd91d,#ebda1c,#eadb1c,#e8dc1c,#ddda1d,#d3d91e,#c8d71f,#bdd520,#acd321,#9dd022,#90ce23,#85cc24,#81cb24,#7eca24,#79c924,#73c824,#6ec724,#6cc724,#6ac624,#6ac624,#6bc624,#6dc724,#71c824,#76c924,#7cca24,#84cc24,#91ce23,#99cf23,#a2d122,#abd221,#b4d421,#bcd520,#c2d620,#c6d71f,#c9d71f,#ccd81f,#ced81f,#ced81f,#cfd81f,#ced81f,#ccd81f,#cad81f,#c7d71f,#c4d720)"></i><i style="background:linear-gradient(90deg,#f1d51d,#f0d61d,#efd71d,#eed81d,#ecd91d,#ebda1c,#e9db1c,#e5dc1c,#dbda1d,#d1d91e,#c7d71f,#bad520,#aad222,#9bd023,#8ecd23,#85cc24,#81cb24,#7eca24,#7cca24,#79c924,#74c824,#71c824,#70c724,#6fc724,#70c824,#73c824,#77c924,#7cca24,#82cb24,#88cc24,#90ce23,#98cf23,#a1d122,#aad222,#b3d421,#bbd520,#c2d620,#c6d71f,#c9d71f,#ccd81f,#cdd81f,#ced81f,#cfd81f,#ced81f,#cdd81f,#cbd81f,#c8d71f,#c5d71f)"></i><i style="background:linear-gradient(90deg,#f1d51d,#f0d61d,#eed71d,#edd81d,#ecd91c,#eada1c,#e9db1c,#e3db1c,#d9da1d,#cfd81e,#c5d720,#b8d521,#a8d222,#9acf23,#8dcd24,#84cc24,#81cb24,#7eca24,#7cca24,#7bca24,#7aca24,#78c924,#76c924,#76c924,#77c924,#79c924,#7dca24,#81cb24,#84cc24,#88cc24,#8fce23,#98cf23,#a0d122,#a9d222,#b2d421,#bad520,#c1d620,#c5d71f,#c8d71f,#cbd81f,#cdd81f,#ced81f,#cfd81f,#ced81f,#cdd81f,#cbd81f,#c9d71f,#c6d71f)"></i><i style="background:linear-gradient(90deg,#f0d61d,#efd71d,#eed71d,#edd81d,#ebd91c,#eada1c,#e9dc1c,#e1db1d,#d7da1e,#cdd81f,#c3d720,#b5d421,#a6d222,#98cf23,#8bcd24,#84cc24,#80cb24,#7eca24,#7cca24,#7bca24,#7aca24,#7ac924,#7aca24,#7bca24,#7cca24,#7dca24,#7fcb24,#81cb24,#84cc24,#87cc24,#8fce23,#97cf23,#9fd022,#a8d222,#b1d321,#b9d520,#c0d620,#c4d720,#c8d71f,#cbd81f,#cdd81f,#ced81f,#cfd81f,#ced81f,#cdd81f,#ccd81f,#cad71f,#c7d71f)"></i></div>
<div class="map" style="left:34.25px;top:216.80px;width:149.80px;height:150.00px"><i style="background:linear-gradient(90deg,#2aaf43,#36b239,#44b72f,#51bb28,#5fc124,#6fc724,#94ce23,#d3d91e,#ecd91c,#f3d41d,#f8c322,#f69c2e,#f27741,#ee5753,#ef5759,#ef585e,#ef5961,#f05963,#f05963,#ef5961,#ef585e,#ef575a,#ee5655,#f16c48,#f48639,#f6a02d,#f7bb25,#f7d11e,#f3d41d,#eed71d)"></i><i style="background:linear-gradient(90deg,#27ae47,#34b23b,#41b631,#4fba29,#5dc024,#6bc624,#8bcd24,#ced81f,#ebda1c,#f3d41d,#f8c521,#f69e2e,#f37b3f,#ef604e,#ee5757,#ef585b,#ef585f,#f05962,#f05963,#ef5961,#ef585e,#ef5759,#ee5654,#f16f46,#f48937,#f6a42c,#f7bf23,#f6d11e,#f2d51d,#edd81d)"></i><i style="background:linear-gradient(90deg,#25ac53,#31b13d,#3fb533,#4dba2a,#5bbf24,#68c624,#85cc24,#c9d71f,#ebda1c,#f2d41d,#f8c721,#f6a22c,#f4843a,#f06949,#ee5655,#ef5759,#ef585d,#ef5960,#f05962,#ef5961,#ef585d,#ef5759,#ee5853,#f17244,#f58d35,#f7a82a,#f8c322,#f6d21e,#f1d51d,#edd91d)"></i><i style="background:linear-gradient(90deg,#23ab60,#2fb03f,#3cb435,#4bb92b,#59be24,#67c524,#81cb24,#c5d720,#eadb1c,#f2d51d,#f8ca20,#f7a92a,#f58d35,#f27244,#ef5c51,#ee5757,#ef575b,#ef585e,#ef5960,#ef5960,#ef585d,#ee5758,#ef5b51,#f27543,#f59133,#f7ac29,#f8c721,#f5d21e,#f0d61d,#ecd91c)"></i><i style="background:linear-gradient(90deg,#20aa6c,#2daf41,#3ab437,#49b82c,#57bd25,#65c424,#7eca24,#bfd620,#e9db1c,#f1d51d,#f8d01e,#f7b128,#f69530,#f37b3f,#f0654c,#ee5655,#ef5759,#ef585b,#ef585d,#ef585e,#ef585d,#ee5758,#ef5d50,#f27841,#f69431,#f7b028,#f8cb1f,#f4d31d,#efd71d,#ebda1c)"></i><i style="background:linear-gradient(90deg,#1ea879,#2aaf42,#37b338,#46b72d,#55bc26,#63c324,#7ac924,#b7d421,#e8dc1c,#f0d61d,#f7d11e,#f7b925,#f69d2e,#f4843a,#f16e47,#ef5b51,#ee5756,#ef5759,#ef585b,#ef585c,#ef585c,#ee5757,#ef604e,#f37c3f,#f6982f,#f7b427,#f8d01e,#f3d41d,#eed71d,#eadb1c)"></i><i style="background:linear-gradient(90deg,#1ba785,#28ae46,#35b23a,#44b72f,#53bc27,#61c224,#76c924,#aed321,#e6dc1c,#efd71d,#f5d21e,#f7c123,#f7a52b,#f58c35,#f27642,#f0644c,#ee5654,#ee5757,#ef5759,#ef575a,#ef575a,#ee5757,#f0634d,#f37f3d,#f69c2e,#f7b825,#f7d11e,#f2d41d,#eed81d,#e9db1c)"></i><i style="background:linear-gradient(90deg,#19a692,#25ac53,#32b13c,#41b631,#50bb28,#5fc124,#72c824,#a5d122,#e2db1d,#eed81d,#f4d31d,#f8c820,#f7ad29,#f69531,#f37f3d,#f16d47,#ef5e50,#ee5655,#ee5757,#ee5758,#ee5758,#ee5756,#f0664b,#f4833b,#f6a02d,#f7bd24,#f6d11e,#f1d51d,#edd91d,#e8dc1c)"></i><i style="background:linear-gradient(90deg,#16a49f,#22ab61,#30b03e,#3eb533,#4eba29,#5dc024,#6ec724,#9bd023,#dbda1d,#edd91d,#f3d41d,#f8cf1e,#f7b427,#f69d2e,#f48838,#f27642,#f0674a,#ef5c51,#ee5654,#ee5655,#ee5655,#ee5655,#f06949,#f48639,#f6a42c,#f7c123,#f5d21e,#f0d61d,#ecd91c,#e2db1d)"></i><i style="background:linear-gradient(90deg,#159ea8,#20a96e,#2db040,#3cb435,#4bb92a,#5bbf24,#6ac624,#92ce23,#d4d91e,#ebd91c,#f1d51d,#f7d11e,#f7bc24,#f6a42c,#f59033,#f37e3d,#f17045,#f0654b,#ef5e50,#ee5a52,#ee5a52,#ef5d50,#f16c47,#f58a37,#f7a82a,#f8c621,#f5d31e,#f0d61d,#ebda1c,#dcda1d)"></i><i style="background:linear-gradient(90deg,#1497b1,#1da87c,#2aaf42,#39b337,#49b82c,#59be24,#68c524,#88cc24,#cdd81f,#eada1c,#f0d61d,#f6d21e,#f8c322,#f7ac29,#f6982f,#f48739,#f27940,#f16e46,#f0674a,#f0644c,#f0634c,#f0674b,#f17046,#f58e34,#f7ad29,#f8cb20,#f4d31d,#efd71d,#eadb1c,#d6d91e)"></i><i style="background:linear-gradient(90deg,#1490ba,#1aa689,#28ae45,#36b239,#46b72d,#56bd26,#66c424,#82cb24,#c6d71f,#e9db1c,#efd71d,#f4d31e,#f8cb20,#f7b427,#f6a02d,#f58f34,#f3823c,#f27741,#f17045,#f16d47,#f16d47,#f17145,#f27841,#f69332,#f7b128,#f8d01e,#f3d41d,#eed81d,#e9db1c,#cfd81e)"></i><i style="background:linear-gradient(90deg,#1389c3,#18a597,#25ac53,#33b23b,#43b72f,#54bc27,#64c324,#7eca24,#bed620,#e8dc1c,#eed81d,#f3d41d,#f8d01e,#f7bb25,#f7a82b,#f69830,#f58a37,#f3803c,#f27a40,#f27742,#f27741,#f37b3f,#f4823b,#f69730,#f7b626,#f7d11e,#f2d51d,#edd91d,#e6dc1c,#c9d71f)"></i><i style="background:linear-gradient(90deg,#1282cc,#16a2a3,#22ab62,#31b13e,#41b632,#51bb28,#61c224,#7ac924,#b2d421,#e1db1d,#edd91d,#f2d51d,#f6d11e,#f8c222,#f7af28,#f69f2d,#f69332,#f48937,#f4833b,#f3803c,#f3803c,#f4853a,#f58c35,#f69b2e,#f7bb25,#f6d11e,#f1d51d,#ecd91c,#dfdb1d,#c2d620)"></i><i style="background:linear-gradient(90deg,#117bcc,#159aad,#1fa970,#2eb040,#3eb534,#4fba29,#5fc124,#75c924,#a7d222,#dada1d,#ebd91c,#f1d61d,#f5d21e,#f8c920,#f7b626,#f7a72b,#f69b2f,#f59133,#f58b36,#f48937,#f48a37,#f58e34,#f69630,#f6a12d,#f7c023,#f5d21e,#f0d61d,#ebda1c,#d9da1e,#b8d521)"></i><i style="background:linear-gradient(90deg,#1173cc,#1493b6,#1da87f,#2baf42,#3bb436,#4cb92a,#5dc024,#71c824,#9cd023,#d3d91e,#eada1c,#efd61d,#f4d31e,#f8d01e,#f7be24,#f7ae28,#f6a22c,#f69a2f,#f69431,#f59232,#f69332,#f6982f,#f69f2d,#f7ab2a,#f8c521,#f4d31e,#efd71d,#e9db1c,#d2d91e,#acd321)"></i><i style="background:linear-gradient(90deg,#106ccc,#138bc0,#1aa68d,#28ae44,#38b338,#49b82b,#5cbf24,#6dc724,#91ce23,#ccd81f,#e9db1c,#eed71d,#f3d41d,#f7d11e,#f8c521,#f7b626,#f7aa2a,#f6a22c,#f69c2e,#f69b2f,#f69c2e,#f6a12d,#f7a92a,#f7b427,#f8ca20,#f3d41d,#eed81d,#e8dc1c,#cbd81f,#a1d122)"></i><i style="background:linear-gradient(90deg,#0f64cc,#1284ca,#17a49c,#25ac53,#35b23a,#46b72d,#5abe24,#69c624,#86cc24,#c6d71f,#e8dc1c,#edd81d,#f2d51d,#f5d21e,#f8cc1f,#f7bd24,#f7b227,#f7a92a,#f6a42c,#f6a32c,#f7a52b,#f7a92a,#f7b227,#f7bd24,#f8cf1e,#f2d41d,#edd91d,#e3db1c,#c4d720,#95cf23)"></i><i style="background:linear-gradient(90deg,#0e5dcc,#117ccc,#159ea8,#22ab63,#32b13d,#43b72f,#58bd25,#67c524,#82cb24,#bfd620,#e3db1d,#ecd91d,#f1d61d,#f4d31e,#f8d01e,#f8c422,#f7b925,#f7b128,#f7ac29,#f7ab29,#f7ad29,#f7b227,#f7bb25,#f8c721,#f7d11e,#f1d51d,#ebd91c,#dcda1d,#bad520,#88cc24)"></i><i style="background:linear-gradient(90deg,#0e5acc,#1174cc,#1496b2,#1fa973,#2fb03f,#41b631,#55bc26,#65c424,#7eca24,#b4d421,#dcda1d,#ebda1c,#efd61d,#f3d41d,#f6d11e,#f8cb1f,#f7c023,#f7b925,#f7b427,#f7b327,#f7b526,#f7bb25,#f8c422,#f8d01e,#f5d21e,#f0d61d,#eada1c,#d5d91e,#aed321,#82cb24)"></i><i style="background:linear-gradient(90deg,#0e5acc,#106ccc,#138ebc,#1ca783,#2baf41,#3fb533,#53bc27,#63c324,#7aca24,#a9d222,#d6d91e,#eadb1c,#eed71d,#f2d51d,#f5d21e,#f8d01e,#f8c721,#f7c023,#f7bc24,#f7bb25,#f7bd24,#f8c322,#f8cc1f,#f6d11e,#f4d31d,#efd71d,#e9db1c,#cdd81f,#a1d122,#7dca24)"></i><i style="background:linear-gradient(90deg,#0e5acc,#0f64cc,#1286c7,#19a593,#28ae44,#3db534,#51bb28,#62c224,#76c924,#9fd022,#cfd81e,#e9db1c,#edd81d,#f1d51d,#f4d31d,#f6d11e,#f8ce1e,#f8c721,#f8c322,#f8c322,#f8c621,#f8cc1f,#f7d11e,#f5d21e,#f2d41d,#eed81d,#e8dc1c,#c6d71f,#94ce23,#78c924)"></i><i style="background:linear-gradient(90deg,#0e5acc,#0e5ccc,#127ecc,#16a3a2,#25ac53,#3bb436,#4fba29,#60c124,#72c824,#95cf23,#c9d71f,#e8dc1c,#ecd91d,#f0d61d,#f3d41d,#f5d21e,#f7d11e,#f8ce1e,#f8cb20,#f8ca20,#f8cd1f,#f7d01e,#f6d21e,#f3d41d,#f0d61d,#edd91d,#e0db1d,#bdd520,#87cc24,#73c824)"></i><i style="background:linear-gradient(90deg,#0e5acb,#0e5acc,#1175cc,#159aad,#22ab63,#39b337,#4eba2a,#5ec024,#6fc724,#8bcd24,#c3d620,#e1db1d,#ebda1c,#efd71d,#f2d51d,#f4d31e,#f6d21e,#f7d11e,#f8d01e,#f8d01e,#f7d11e,#f6d21e,#f4d31e,#f2d51d,#efd71d,#ebda1c,#d8da1e,#afd321,#81cb24,#6ec724)"></i><i style="background:linear-gradient(90deg,#0e5acb,#0e5acc,#106ccc,#1491b8,#20aa6c,#37b339,#4cb92a,#5dbf24,#6bc624,#84cc24,#bcd520,#dbda1d,#eada1c,#eed81d,#f1d61d,#f3d41d,#f5d31e,#f6d21e,#f6d11e,#f6d11e,#f6d21e,#f4d31e,#f3d41d,#f0d61d,#edd81d,#eadb1c,#d0d81e,#a2d122,#7cca24,#69c624)"></i><i style="background:linear-gradient(90deg,#0e5acb,#0e5acc,#0f64cc,#1388c4,#1ea975,#35b23a,#4ab92b,#5bbf24,#68c624,#81cb24,#b2d421,#d5d91e,#e9db1c,#edd91d,#efd61d,#f2d51d,#f3d31d,#f5d31e,#f5d21e,#f5d21e,#f4d31e,#f3d41d,#f1d51d,#efd71d,#ecd91c,#e8dc1c,#c8d71f,#94ce23,#76c924,#66c524)"></i><i style="background:linear-gradient(90deg,#0e5acb,#0e5acc,#0e5bcc,#1280cc,#1da87e,#34b23b,#48b82c,#5abe24,#67c524,#7dca24,#a8d222,#cfd81e,#e8dc1c,#ecd91c,#eed71d,#f1d61d,#f2d41d,#f3d31d,#f4d31d,#f4d31d,#f3d41d,#f2d51d,#f0d61d,#edd81d,#eada1c,#dfdb1d,#c0d620,#86cc24,#71c824,#64c324)"></i><i style="background:linear-gradient(90deg,#0e5acb,#0e5acb,#0e5acc,#1176cc,#1ba786,#32b13d,#47b82d,#58bd25,#65c424,#7ac924,#9fd022,#cad71f,#e3db1d,#ebda1c,#edd81d,#f0d61d,#f1d51d,#f2d41d,#f3d41d,#f2d41d,#f2d51d,#f0d61d,#eed71d,#ecd91c,#e9db1c,#d5d91e,#b1d321,#80cb24,#6bc624,#61c224)"></i><i style="background:linear-gradient(90deg,#0f59cb,#0e5acb,#0e5acc,#106dcc,#19a68e,#30b13e,#45b72e,#56bd26,#64c324,#76c924,#96cf23,#c4d720,#ddda1d,#eadb1c,#ecd91d,#eed71d,#f0d61d,#f1d51d,#f1d51d,#f1d51d,#f0d61d,#efd71d,#edd81d,#eada1c,#e3db1d,#cbd81f,#a2d122,#7aca24,#67c524,#5ec024)"></i><i style="background:linear-gradient(90deg,#0f59cb,#0e5acb,#0e5acc,#0f64cc,#18a596,#2fb03f,#43b630,#54bc26,#62c224,#73c824,#8dcd24,#bed620,#d7d91e,#e9dc1c,#ebd91c,#edd81d,#efd71d,#f0d61d,#f0d61d,#f0d61d,#efd71d,#eed81d,#ecd91c,#e9db1c,#dada1d,#c2d620,#93ce23,#74c824,#65c424,#5cbf24)"></i><i style="background:linear-gradient(90deg,#0f59cb,#0e5acb,#0e5acb,#0f61cc,#16a49e,#2db040,#41b631,#53bc27,#61c224,#70c724,#85cc24,#b5d421,#d2d91e,#e6dc1c,#eada1c,#ecd91d,#eed81d,#efd71d,#efd71d,#efd71d,#eed81d,#ecd91d,#eada1c,#e5dc1c,#d1d81e,#b2d421,#84cc24,#6ec724,#62c224,#59be25)"></i><i style="background:linear-gradient(90deg,#0f59cb,#0f59cb,#0e5acb,#0e5dcc,#16a1a3,#2caf41,#40b532,#51bb28,#5fc124,#6dc724,#82cb24,#acd321,#ccd81f,#e1db1d,#e9db1c,#ebd91c,#edd81d,#eed81d,#eed81d,#eed81d,#edd91d,#ebda1c,#e9db1c,#ddda1d,#c8d71f,#a3d122,#7eca24,#69c624,#5fc124,#56bd26)"></i><i style="background:linear-gradient(90deg,#0f59ca,#0f59cb,#0e5acb,#0e5acc,#159ea8,#2aaf42,#3eb533,#50bb29,#5ec024,#6ac624,#7fcb24,#a3d122,#c7d71f,#dbda1d,#e8dc1c,#eada1c,#ecd91c,#edd91d,#edd81d,#ecd91d,#ebd91c,#eadb1c,#e6dc1c,#d4d91e,#bed620,#93ce23,#78c924,#66c424,#5cbf24,#52bb27)"></i><i style="background:linear-gradient(90deg,#0f59ca,#0f59cb,#0e5acb,#0e5acc,#159aac,#29ae43,#3db434,#4eba29,#5dbf24,#68c624,#7cca24,#9bd023,#c2d620,#d5d91e,#e5dc1c,#eadb1c,#ebda1c,#ecd91c,#ecd91c,#ebda1c,#eada1c,#e9dc1c,#deda1d,#ccd81f,#afd321,#85cc24,#71c824,#63c324,#59be24,#4fba29)"></i><i style="background:linear-gradient(90deg,#0f59ca,#0f59cb,#0f59cb,#0e5acc,#1497b1,#28ae46,#3bb436,#4dba2a,#5cbf24,#67c524,#79c924,#93ce23,#bad520,#d0d81e,#e0db1d,#e9dc1c,#eadb1c,#ebda1c,#ebda1c,#eada1c,#e9db1c,#e4db1c,#d6d91e,#c4d720,#a0d122,#7fcb24,#6bc624,#60c124,#56bd26,#4cb92a)"></i><i style="background:linear-gradient(90deg,#0f59ca,#0f59ca,#0f59cb,#0e5acc,#1494b5,#26ad4d,#3ab437,#4cb92a,#5abe24,#65c424,#76c924,#8bcd24,#b2d421,#cbd81f,#dada1d,#e6dc1c,#e9db1c,#eadb1c,#eadb1c,#e9db1c,#e8dc1c,#ddda1d,#ced81f,#b8d521,#92ce23,#79c924,#67c524,#5dbf24,#52bb28,#48b82c)"></i><i style="background:linear-gradient(90deg,#0f59ca,#0f59ca,#0f59cb,#0e5acc,#1491b9,#25ac53,#39b337,#4ab92b,#59be24,#64c324,#73c824,#85cc24,#aad222,#c6d71f,#d5d91e,#e0db1d,#e8dc1c,#e9dc1c,#e9dc1c,#e8dc1c,#e0db1d,#d5d91e,#c6d71f,#aad221,#85cc24,#74c824,#64c424,#59be24,#4eba29,#44b72f)"></i><i style="background:linear-gradient(90deg,#0f59ca,#0f59ca,#0f59cb,#0e5acc,#138ebc,#24ac59,#37b338,#49b82c,#58bd25,#63c324,#71c824,#82cb24,#a2d122,#c1d620,#d0d81e,#dbda1d,#e2db1d,#e6dc1c,#e5dc1c,#e1db1d,#d9da1d,#ced81f,#bed620,#9dd022,#80cb24,#6ec724,#61c224,#56bd26,#4bb92b,#41b632)"></i><i style="background:linear-gradient(90deg,#0f59ca,#0f59ca,#0f59cb,#0e5acc,#138cbf,#23ab5f,#36b239,#48b82c,#56bd26,#62c224,#6ec724,#7fcb24,#9ad023,#bad520,#cbd81f,#d5d91e,#dcda1d,#e0db1d,#dfdb1d,#dbda1d,#d3d91e,#c7d71f,#b1d321,#90ce23,#7aca24,#69c624,#5fc124,#52bb27,#47b82d,#3db534)"></i><i style="background:linear-gradient(90deg,#0f59ca,#0f59ca,#0f59cb,#0e5acc,#1389c3,#22ab64,#35b23a,#47b82d,#55bc26,#61c224,#6bc624,#7dca24,#93ce23,#b2d421,#c6d71f,#d0d81e,#d7d91e,#dada1d,#d9da1e,#d4d91e,#ccd81f,#c0d620,#a5d122,#85cc24,#75c824,#66c424,#5cbf24,#4fba29,#43b630,#39b337)"></i><i style="background:linear-gradient(90deg,#0f59ca,#0f59ca,#0f59cb,#0e5acc,#1387c6,#21aa69,#34b23b,#46b72e,#54bc27,#60c124,#69c624,#7ac924,#8ccd24,#aad222,#c1d620,#cbd81f,#d2d91e,#d4d91e,#d3d91e,#ced81f,#c5d71f,#b4d421,#98cf23,#80cb24,#70c724,#63c324,#59be24,#4bb92a,#3fb533,#35b23a)"></i><i style="background:linear-gradient(90deg,#0f59ca,#0f59ca,#0f59cb,#0e5acc,#1285c8,#20aa6d,#33b13c,#44b72f,#53bc27,#5fc024,#68c524,#77c924,#86cc24,#a3d122,#bad520,#c6d71f,#ccd81f,#cfd81f,#cdd81f,#c8d71f,#bed620,#a9d222,#8ccd24,#7bca24,#6bc624,#61c224,#56bd26,#48b82c,#3bb436,#31b13d)"></i><i style="background:linear-gradient(90deg,#0f59ca,#0f59ca,#0f59ca,#0e5acc,#1283cb,#1fa971,#32b13c,#43b72f,#52bb28,#5ec024,#67c524,#75c824,#83cb24,#9bd023,#b2d421,#c2d620,#c7d71f,#c9d71f,#c8d71f,#c2d620,#b4d421,#9dd022,#84cc24,#76c924,#67c524,#5ec024,#53bc27,#45b72f,#37b339,#2db040)"></i><i style="background:linear-gradient(90deg,#0f59c9,#0f59ca,#0f59ca,#0e5acc,#1281cc,#1ea975,#31b13d,#42b630,#51bb28,#5dbf24,#66c424,#73c824,#80cb24,#95cf23,#abd221,#bbd520,#c2d620,#c4d720,#c2d620,#bad520,#a9d222,#93ce23,#7fcb24,#71c824,#65c424,#5cbf24,#50bb29,#41b631,#33b13c,#2aae43)"></i><i style="background:linear-gradient(90deg,#0f59c9,#0f59ca,#0f59ca,#0e5acc,#1280cc,#1ea879,#31b13e,#41b631,#50bb29,#5cbf24,#65c424,#70c824,#7eca24,#8ecd23,#a4d122,#b3d421,#bcd520,#bed620,#bad520,#b0d321,#9fd022,#88cc24,#7bca24,#6dc724,#63c324,#59be24,#4dba2a,#3eb534,#2eb03f,#26ad50)"></i><i style="background:linear-gradient(90deg,#0f59c9,#0f59c9,#0f59ca,#0e5acc,#127ecc,#1da87c,#30b03e,#41b632,#4fba29,#5bbe24,#64c324,#6ec724,#7cca24,#87cc24,#9dd022,#abd221,#b4d421,#b6d421,#b1d321,#a6d222,#95cf23,#83cb24,#77c924,#69c624,#60c124,#57bd26,#4ab92b,#3ab436,#2aaf42,#22aa65)"></i><i style="background:linear-gradient(90deg,#0f59c9,#0f59c9,#0f59ca,#0e5acc,#117dcc,#1ca87f,#2fb03f,#40b532,#4eba29,#5abe24,#63c324,#6cc724,#79c924,#84cc24,#96cf23,#a4d122,#acd321,#aed321,#a9d222,#9dd022,#8bcd24,#7fca24,#72c824,#67c524,#5ec024,#54bc27,#47b82d,#37b339,#26ad4e,#1ea879)"></i><i style="background:linear-gradient(90deg,#0f59c9,#0f59c9,#0f59ca,#0e5acc,#117ccc,#1ca782,#2eb03f,#3fb533,#4dba2a,#59be24,#62c224,#6ac624,#77c924,#82cb24,#8fce23,#9dd022,#a5d122,#a6d122,#a0d122,#94ce23,#84cc24,#7bca24,#6ec724,#64c424,#5cbf24,#51bb28,#44b72f,#34b23b,#22ab64,#1aa68e)"></i><i style="background:linear-gradient(90deg,#0f59c9,#0f59c9,#0f59ca,#0e5acc,#117bcc,#1ba784,#2eb040,#3eb533,#4dba2a,#58bd25,#61c224,#69c624,#75c924,#7fcb24,#89cd24,#97cf23,#9dd022,#9ed022,#98cf23,#8bcd24,#81cb24,#77c924,#6ac624,#62c224,#5abe24,#4eba29,#40b632,#30b13e,#1ea976,#16a3a1)"></i><i style="background:linear-gradient(90deg,#0f59c9,#0f59c9,#0f59ca,#0e5acc,#117acc,#1ba786,#2db040,#3eb534,#4cb92a,#58bd25,#61c124,#68c524,#73c824,#7dca24,#85cc24,#90ce23,#96cf23,#96cf23,#90ce23,#85cc24,#7dca24,#73c824,#68c524,#60c124,#57bd25,#4cb92a,#3db534,#2db040,#1ba788,#1598af)"></i><i style="background:linear-gradient(90deg,#1058c9,#0f59c9,#0f59ca,#0e5acc,#117acc,#1ba788,#2db040,#3db534,#4bb92b,#57bd25,#60c124,#67c524,#71c824,#7bca24,#83cb24,#8acd24,#90ce23,#8fce23,#88cc24,#82cb24,#7ac924,#6fc724,#66c424,#5ec024,#55bc26,#49b82c,#3ab436,#2aaf42,#17a599,#138dbd)"></i><i style="background:linear-gradient(90deg,#1058c9,#0f59c9,#0f59ca,#0e5acc,#1179cc,#1aa689,#2daf41,#3db435,#4bb92b,#56bd26,#5fc124,#66c524,#70c724,#79c924,#80cb24,#85cc24,#89cd24,#88cc24,#84cc24,#7eca24,#76c924,#6cc724,#64c324,#5dbf24,#53bc27,#46b82d,#38b338,#27ad49,#159fa7,#1283cb)"></i><i style="background:linear-gradient(90deg,#1058c9,#0f59c9,#0f59ca,#0e5acc,#1179cc,#1aa68a,#2caf41,#3cb435,#4ab92b,#56bd26,#5fc024,#66c424,#6ec724,#77c924,#7eca24,#83cb24,#85cc24,#84cc24,#81cb24,#7bca24,#73c824,#69c624,#62c224,#5bbe24,#50bb28,#44b72f,#35b23a,#24ac59,#1496b2,#1178cc)"></i><i style="background:linear-gradient(90deg,#1058c9,#0f59c9,#0f59ca,#0e5acc,#1179cc,#1aa68b,#2caf41,#3cb435,#4ab92b,#55bc26,#5ec024,#65c424,#6cc724,#76c924,#7cca24,#81cb24,#82cb24,#82cb24,#7eca24,#78c924,#70c724,#67c524,#61c224,#59be25,#4eba29,#41b631,#32b13d,#21aa69,#138dbd,#106dcc)"></i><i style="background:linear-gradient(90deg,#1058c9,#0f59c9,#0f59ca,#0e5acc,#1179cc,#1aa68b,#2caf41,#3bb435,#49b82b,#54bc26,#5dc024,#64c324,#6bc624,#74c824,#7bca24,#7fca24,#80cb24,#7fcb24,#7cca24,#75c924,#6dc724,#66c424,#5fc124,#57bd26,#4cb92a,#3eb533,#2fb03f,#1ea878,#1285c8,#0f62cc)"></i><i style="background:linear-gradient(90deg,#1058c9,#0f59c9,#0f59cb,#0e5acc,#1179cc,#1aa68b,#2caf41,#3bb436,#49b82c,#54bc27,#5dc024,#64c324,#69c624,#72c824,#79c924,#7dca24,#7eca24,#7dca24,#79c924,#73c824,#6ac624,#64c324,#5dc024,#54bc26,#4ab92b,#3cb435,#2caf41,#1ba787,#117ccc,#0e5acc)"></i><i style="background:linear-gradient(90deg,#1058c9,#0f59c9,#0f59cb,#0e5acc,#117acc,#1aa68b,#2caf41,#3bb436,#49b82c,#54bc27,#5dbf24,#63c324,#69c624,#71c824,#77c924,#7bca24,#7cca24,#7aca24,#76c924,#70c724,#68c524,#62c324,#5cbf24,#52bb27,#47b82d,#39b337,#2aaf43,#18a595,#1174cc,#0e5acc)"></i><i style="background:linear-gradient(90deg,#1058c9,#0f59c9,#0f59cb,#0e5acc,#117bcc,#1aa68a,#2caf41,#3bb436,#48b82c,#53bc27,#5cbf24,#63c324,#68c524,#6fc724,#75c924,#79c924,#7ac924,#78c924,#74c824,#6dc724,#67c524,#61c224,#5abe24,#50bb28,#45b72e,#37b339,#27ae48,#16a2a3,#106bcc,#0e5acc)"></i><i style="background:linear-gradient(90deg,#1058c9,#0f59c9,#0f59cb,#0e5acc,#117ccc,#1aa689,#2caf41,#3bb436,#48b82c,#53bc27,#5cbf24,#62c224,#67c524,#6ec724,#74c824,#77c924,#78c924,#76c924,#72c824,#6bc624,#65c424,#60c124,#58bd25,#4fba29,#43b630,#35b23b,#25ac55,#159bac,#0f63cc,#0e5acb)"></i><i style="background:linear-gradient(90deg,#1058c9,#0f59ca,#0f59cb,#0e5acc,#117dcc,#1ba788,#2caf41,#3bb436,#48b82c,#53bc27,#5bbf24,#62c224,#67c524,#6dc724,#73c824,#76c924,#76c924,#74c824,#70c724,#69c624,#64c324,#5ec024,#57bd25,#4dba2a,#41b632,#32b13c,#22ab62,#1493b6,#0e5bcc,#0e5acb)"></i><i style="background:linear-gradient(90deg,#1058c9,#0f59ca,#0f59cb,#0e5acc,#127ecc,#1ba787,#2caf41,#3bb436,#48b82c,#52bb27,#5bbf24,#61c224,#67c524,#6cc724,#71c824,#74c824,#74c824,#72c824,#6dc724,#68c524,#63c324,#5dc024,#55bc26,#4bb92b,#3eb533,#30b13e,#20a96f,#138cbf,#0e5acc,#0e5acb)"></i><i style="background:linear-gradient(90deg,#1058c9,#0f59ca,#0f59cb,#0e5acc,#127fcc,#1ba785,#2caf41,#3bb436,#48b82c,#52bb27,#5bbf24,#61c224,#66c424,#6bc624,#70c724,#73c824,#73c824,#70c824,#6bc724,#67c524,#62c224,#5cbf24,#53bc27,#49b82b,#3cb435,#2eb040,#1da87b,#1285c8,#0e5acc,#0f59cb)"></i><i style="background:linear-gradient(90deg,#1058c9,#0f59ca,#0f59cb,#0e5acc,#1281cc,#1ca783,#2caf41,#3bb436,#48b82c,#52bb27,#5bbe24,#61c224,#66c424,#6ac624,#6fc724,#71c824,#71c824,#6fc724,#6ac624,#66c424,#61c224,#5bbe24,#52bb28,#47b82c,#3ab436,#2caf41,#1ba787,#127ecc,#0e5acc,#0f59cb)"></i><i style="background:linear-gradient(90deg,#1058c9,#0f59ca,#0f59cb,#0e5acc,#1283cb,#1ca780,#2db040,#3bb436,#48b82c,#52bb27,#5bbe24,#61c224,#65c424,#69c624,#6ec724,#70c724,#70c724,#6dc724,#68c624,#65c424,#60c124,#59be24,#50bb28,#46b72e,#38b338,#2aaf43,#19a592,#1177cc,#0e5acc,#0f59cb)"></i><i style="background:linear-gradient(90deg,#1058c9,#0f59ca,#0f59cb,#0e5acc,#1285c8,#1da87d,#2db040,#3cb435,#48b82c,#52bb27,#5bbe24,#61c124,#65c424,#69c624,#6dc724,#6fc724,#6ec724,#6bc724,#68c524,#64c324,#5fc024,#58bd25,#4fba29,#44b72f,#37b339,#28ae46,#16a49e,#1071cc,#0e5acb,#0f59cb)"></i><i style="background:linear-gradient(90deg,#1058c9,#0f59ca,#0f59cb,#0e5acc,#1387c6,#1da87a,#2eb040,#3cb435,#48b82c,#52bb27,#5bbe24,#60c124,#65c424,#68c624,#6cc724,#6ec724,#6dc724,#6ac624,#67c524,#63c324,#5ec024,#57bd26,#4dba2a,#42b630,#35b23a,#26ad50,#159fa6,#106acc,#0e5acb,#0f59ca)"></i><i style="background:linear-gradient(90deg,#1058c9,#0f59ca,#0f59cb,#0e5acc,#1389c3,#1ea976,#2eb03f,#3cb435,#49b82c,#52bb27,#5bbe24,#60c124,#65c424,#68c524,#6bc624,#6dc724,#6cc724,#69c624,#66c424,#62c224,#5dbf24,#55bc26,#4cb92a,#41b632,#33b13c,#24ac5a,#159aad,#0f64cc,#0e5acb,#0f59ca)"></i><i style="background:linear-gradient(90deg,#1058c9,#0f59ca,#0f59cb,#0e5acc,#138bc0,#1fa973,#2fb03f,#3db434,#49b82c,#53bc27,#5bbe24,#60c124,#65c424,#68c524,#6bc624,#6cc724,#6bc624,#68c624,#65c424,#61c224,#5cbf24,#54bc27,#4bb92b,#3fb533,#31b13d,#22ab64,#1494b5,#0e5dcc,#0e5acb,#0f59ca)"></i><i style="background:linear-gradient(90deg,#1058c9,#0f59ca,#0f59cb,#0e5acc,#138ebd,#20a96e,#2fb03e,#3db534,#49b82b,#53bc27,#5bbe24,#60c124,#65c424,#68c524,#6ac624,#6bc624,#6ac624,#68c524,#65c424,#60c124,#5bbe24,#53bc27,#4ab92b,#3eb534,#30b03e,#20aa6d,#148fbb,#0e5acc,#0e5acb,#0f59ca)"></i><i style="background:linear-gradient(90deg,#1058c9,#0f59ca,#0e5acb,#0e5acc,#1491b9,#21aa6a,#30b13e,#3eb534,#4ab92b,#53bc27,#5bbf24,#60c124,#65c424,#68c524,#6ac624,#6bc624,#69c624,#67c524,#64c324,#60c124,#5abe24,#52bb28,#48b82c,#3cb435,#2eb03f,#1ea976,#138ac2,#0e5acc,#0f59cb,#0f59ca)"></i><i style="background:linear-gradient(90deg,#0f59c9,#0f59ca,#0e5acb,#0e5dcc,#1494b5,#21aa65,#31b13d,#3fb533,#4ab92b,#54bc27,#5bbf24,#60c124,#65c424,#67c524,#69c624,#6ac624,#69c624,#67c524,#63c324,#5fc124,#59be24,#51bb28,#47b82d,#3bb436,#2daf41,#1ca87f,#1285c9,#0e5acc,#0f59cb,#0f59ca)"></i><i style="background:linear-gradient(90deg,#0f59c9,#0f59ca,#0e5acb,#0f61cc,#1497b1,#23ab60,#32b13d,#3fb533,#4bb92b,#54bc27,#5bbf24,#61c224,#65c424,#67c524,#69c624,#6ac624,#68c624,#66c524,#63c324,#5ec024,#58bd25,#50bb28,#46b72e,#39b337,#2baf42,#1ba787,#1280cc,#0e5acc,#0f59cb,#0f59ca)"></i><i style="background:linear-gradient(90deg,#0f59c9,#0f59ca,#0e5acb,#0f65cc,#159aad,#24ac5b,#33b13c,#40b632,#4bb92b,#54bc26,#5cbf24,#61c224,#65c424,#67c524,#69c624,#69c624,#68c624,#66c424,#63c324,#5ec024,#58bd25,#4fba29,#45b72e,#38b338,#2aaf43,#19a68f,#117bcc,#0e5acc,#0f59cb,#0f59ca)"></i><i style="background:linear-gradient(90deg,#0f59c9,#0f59ca,#0e5acb,#0f69cc,#159da8,#25ac55,#34b23b,#41b631,#4cb92a,#55bc26,#5cbf24,#61c224,#65c424,#67c524,#69c624,#69c624,#68c524,#66c424,#62c224,#5dc024,#57bd25,#4eba29,#44b72f,#37b339,#28ae44,#18a597,#1176cc,#0e5acc,#0f59cb,#0f59c9)"></i><i style="background:linear-gradient(90deg,#0f59c9,#0f59ca,#0e5acb,#106dcc,#16a1a4,#26ad4f,#35b23a,#42b631,#4dba2a,#56bd26,#5cbf24,#61c224,#65c424,#68c524,#69c624,#69c624,#68c524,#65c424,#62c224,#5dc024,#56bd26,#4dba2a,#43b630,#36b23a,#27ae48,#16a49e,#1071cc,#0e5acb,#0f59ca,#0f59c9)"></i><i style="background:linear-gradient(90deg,#0f59c9,#0f59ca,#0e5acb,#1071cc,#16a49e,#27ae48,#36b23a,#43b630,#4dba2a,#56bd26,#5dc024,#62c224,#65c424,#68c524,#69c624,#69c624,#68c524,#65c424,#61c224,#5cbf24,#56bd26,#4dba2a,#42b631,#35b23a,#26ad4f,#16a1a4,#106dcc,#0e5acb,#0f59ca,#0f59c9)"></i><i style="background:linear-gradient(90deg,#0f59c9,#0f59cb,#0e5acc,#1176cc,#18a597,#28ae44,#37b339,#44b72f,#4eba29,#57bd25,#5dc024,#62c224,#66c424,#68c524,#69c624,#69c624,#67c524,#65c424,#61c224,#5cbf24,#55bc26,#4cb92a,#41b631,#34b23b,#25ac55,#159da8,#0f69cc,#0e5acb,#0f59ca,#0f59c9)"></i><i style="background:linear-gradient(90deg,#0f59ca,#0f59cb,#0e5acc,#117bcc,#19a68f,#2aaf43,#38b338,#45b72e,#4fba29,#58bd25,#5ec024,#63c324,#66c424,#68c624,#69c624,#69c624,#67c524,#65c424,#61c224,#5cbf24,#54bc26,#4bb92b,#40b632,#33b13c,#24ac5b,#159aad,#0f65cc,#0e5acb,#0f59ca,#0f59c9)"></i><i style="background:linear-gradient(90deg,#0f59ca,#0f59cb,#0e5acc,#1280cc,#1ba787,#2baf42,#39b337,#46b72e,#50bb28,#58bd25,#5ec024,#63c324,#66c524,#68c624,#6ac624,#69c624,#67c524,#65c424,#61c224,#5bbf24,#54bc27,#4bb92b,#3fb533,#32b13d,#23ab60,#1497b1,#0f61cc,#0e5acb,#0f59ca,#0f59c9)"></i><i style="background:linear-gradient(90deg,#0f59ca,#0f59cb,#0e5acc,#1285c9,#1ca87f,#2daf41,#3bb436,#47b82d,#51bb28,#59be24,#5fc124,#63c324,#67c524,#69c624,#6ac624,#69c624,#67c524,#65c424,#60c124,#5bbf24,#54bc27,#4ab92b,#3fb533,#31b13d,#21aa65,#1494b5,#0e5dcc,#0e5acb,#0f59ca,#0f59c9)"></i><i style="background:linear-gradient(90deg,#0f59ca,#0f59cb,#0e5acc,#138ac2,#1ea976,#2eb03f,#3cb435,#48b82c,#52bb28,#5abe24,#60c124,#64c324,#67c524,#69c624,#6bc624,#6ac624,#68c524,#65c424,#60c124,#5bbf24,#53bc27,#4ab92b,#3eb534,#30b13e,#21aa6a,#1491b9,#0e5acc,#0e5acb,#0f59ca,#1058c9)"></i><i style="background:linear-gradient(90deg,#0f59ca,#0e5acb,#0e5acc,#148fbb,#20aa6d,#30b03e,#3eb534,#4ab92b,#53bc27,#5bbe24,#60c124,#65c424,#68c524,#6ac624,#6bc624,#6ac624,#68c524,#65c424,#60c124,#5bbe24,#53bc27,#49b82b,#3db534,#2fb03e,#20a96e,#138ebd,#0e5acc,#0f59cb,#0f59ca,#1058c9)"></i><i style="background:linear-gradient(90deg,#0f59ca,#0e5acb,#0e5dcc,#1494b5,#22ab64,#31b13d,#3fb533,#4bb92b,#54bc27,#5cbf24,#61c224,#65c424,#68c624,#6bc624,#6cc724,#6bc624,#68c524,#65c424,#60c124,#5bbe24,#53bc27,#49b82c,#3db434,#2fb03f,#1fa973,#138bc0,#0e5acc,#0f59cb,#0f59ca,#1058c9)"></i><i style="background:linear-gradient(90deg,#0f59ca,#0e5acb,#0f64cc,#159aad,#24ac5a,#33b13c,#41b632,#4cb92a,#55bc26,#5dbf24,#62c224,#66c424,#69c624,#6cc724,#6dc724,#6bc624,#68c524,#65c424,#60c124,#5bbe24,#52bb27,#49b82c,#3cb435,#2eb03f,#1ea976,#1389c3,#0e5acc,#0f59cb,#0f59ca,#1058c9)"></i><i style="background:linear-gradient(90deg,#0f59ca,#0e5acb,#106acc,#159fa6,#26ad50,#35b23a,#42b630,#4dba2a,#57bd26,#5ec024,#63c324,#67c524,#6ac624,#6dc724,#6ec724,#6cc724,#68c624,#65c424,#60c124,#5bbe24,#52bb27,#48b82c,#3cb435,#2eb040,#1da87a,#1387c6,#0e5acc,#0f59cb,#0f59ca,#1058c9)"></i><i style="background:linear-gradient(90deg,#0f59cb,#0e5acb,#1071cc,#16a49e,#28ae46,#37b339,#44b72f,#4fba29,#58bd25,#5fc024,#64c324,#68c524,#6bc724,#6ec724,#6fc724,#6dc724,#69c624,#65c424,#61c124,#5bbe24,#52bb27,#48b82c,#3cb435,#2db040,#1da87d,#1285c8,#0e5acc,#0f59cb,#0f59ca,#1058c9)"></i><i style="background:linear-gradient(90deg,#0f59cb,#0e5acc,#1177cc,#19a592,#2aaf43,#38b338,#46b72e,#50bb28,#59be24,#60c124,#65c424,#68c624,#6dc724,#70c724,#70c724,#6ec724,#69c624,#65c424,#61c224,#5bbe24,#52bb27,#48b82c,#3bb436,#2db040,#1ca780,#1283cb,#0e5acc,#0f59cb,#0f59ca,#1058c9)"></i><i style="background:linear-gradient(90deg,#0f59cb,#0e5acc,#127ecc,#1ba787,#2caf41,#3ab436,#47b82c,#52bb28,#5bbe24,#61c224,#66c424,#6ac624,#6fc724,#71c824,#71c824,#6fc724,#6ac624,#66c424,#61c224,#5bbe24,#52bb27,#48b82c,#3bb436,#2caf41,#1ca783,#1281cc,#0e5acc,#0f59cb,#0f59ca,#1058c9)"></i><i style="background:linear-gradient(90deg,#0f59cb,#0e5acc,#1285c8,#1da87b,#2eb040,#3cb435,#49b82b,#53bc27,#5cbf24,#62c224,#67c524,#6bc724,#70c824,#73c824,#73c824,#70c724,#6bc624,#66c424,#61c224,#5bbf24,#52bb27,#48b82c,#3bb436,#2caf41,#1ba785,#127fcc,#0e5acc,#0f59cb,#0f59ca,#1058c9)"></i><i style="background:linear-gradient(90deg,#0e5acb,#0e5acc,#138cbf,#20a96f,#30b13e,#3eb533,#4bb92b,#55bc26,#5dc024,#63c324,#68c524,#6dc724,#72c824,#74c824,#74c824,#71c824,#6cc724,#67c524,#61c224,#5bbf24,#52bb27,#48b82c,#3bb436,#2caf41,#1ba787,#127ecc,#0e5acc,#0f59cb,#0f59ca,#1058c9)"></i><i style="background:linear-gradient(90deg,#0e5acb,#0e5bcc,#1493b6,#22ab62,#32b13c,#41b632,#4dba2a,#57bd25,#5ec024,#64c324,#69c624,#70c724,#74c824,#76c924,#76c924,#73c824,#6dc724,#67c524,#62c224,#5bbf24,#53bc27,#48b82c,#3bb436,#2caf41,#1ba788,#117dcc,#0e5acc,#0f59cb,#0f59ca,#1058c9)"></i><i style="background:linear-gradient(90deg,#0e5acb,#0f63cc,#159bac,#25ac55,#35b23b,#43b630,#4fba29,#58bd25,#60c124,#65c424,#6bc624,#72c824,#76c924,#78c924,#77c924,#74c824,#6ec724,#67c524,#62c224,#5cbf24,#53bc27,#48b82c,#3bb436,#2caf41,#1aa689,#117ccc,#0e5acc,#0f59cb,#0f59c9,#1058c9)"></i><i style="background:linear-gradient(90deg,#0e5acc,#106bcc,#16a2a3,#27ae48,#37b339,#45b72e,#50bb28,#5abe24,#61c224,#67c524,#6dc724,#74c824,#78c924,#7ac924,#79c924,#75c924,#6fc724,#68c524,#63c324,#5cbf24,#53bc27,#48b82c,#3bb436,#2caf41,#1aa68a,#117bcc,#0e5acc,#0f59cb,#0f59c9,#1058c9)"></i><i style="background:linear-gradient(90deg,#0e5acc,#1174cc,#18a595,#2aaf43,#39b337,#47b82d,#52bb27,#5cbf24,#62c324,#68c524,#70c724,#76c924,#7aca24,#7cca24,#7bca24,#77c924,#71c824,#69c624,#63c324,#5dbf24,#54bc27,#49b82c,#3bb436,#2caf41,#1aa68b,#117acc,#0e5acc,#0f59cb,#0f59c9,#1058c9)"></i><i style="background:linear-gradient(90deg,#0e5acc,#117ccc,#1ba787,#2caf41,#3cb435,#4ab92b,#54bc26,#5dc024,#64c324,#6ac624,#73c824,#79c924,#7dca24,#7eca24,#7dca24,#79c924,#72c824,#69c624,#64c324,#5dc024,#54bc27,#49b82c,#3bb436,#2caf41,#1aa68b,#1179cc,#0e5acc,#0f59cb,#0f59c9,#1058c9)"></i><i style="background:linear-gradient(90deg,#0f62cc,#1285c8,#1ea878,#2fb03f,#3eb533,#4cb92a,#57bd26,#5fc124,#66c424,#6dc724,#75c924,#7cca24,#7fcb24,#80cb24,#7fca24,#7bca24,#74c824,#6bc624,#64c324,#5dc024,#54bc26,#49b82b,#3bb435,#2caf41,#1aa68b,#1179cc,#0e5acc,#0f59ca,#0f59c9,#1058c9)"></i><i style="background:linear-gradient(90deg,#106dcc,#138dbd,#21aa69,#32b13d,#41b631,#4eba29,#59be25,#61c224,#67c524,#70c724,#78c924,#7eca24,#82cb24,#82cb24,#81cb24,#7cca24,#76c924,#6cc724,#65c424,#5ec024,#55bc26,#4ab92b,#3cb435,#2caf41,#1aa68b,#1179cc,#0e5acc,#0f59ca,#0f59c9,#1058c9)"></i><i style="background:linear-gradient(90deg,#1178cc,#1496b2,#24ac59,#35b23a,#44b72f,#50bb28,#5bbe24,#62c224,#69c624,#73c824,#7bca24,#81cb24,#84cc24,#85cc24,#83cb24,#7eca24,#77c924,#6ec724,#66c424,#5fc024,#56bd26,#4ab92b,#3cb435,#2caf41,#1aa68a,#1179cc,#0e5acc,#0f59ca,#0f59c9,#1058c9)"></i><i style="background:linear-gradient(90deg,#1283cb,#159fa7,#27ad49,#38b338,#46b82d,#53bc27,#5dbf24,#64c324,#6cc724,#76c924,#7eca24,#84cc24,#88cc24,#89cd24,#85cc24,#80cb24,#79c924,#70c724,#66c524,#5fc124,#56bd26,#4bb92b,#3db435,#2daf41,#1aa689,#1179cc,#0e5acc,#0f59ca,#0f59c9,#1058c9)"></i><i style="background:linear-gradient(90deg,#138dbd,#17a599,#2aaf42,#3ab436,#49b82c,#55bc26,#5ec024,#66c424,#6fc724,#7ac924,#82cb24,#88cc24,#8fce23,#90ce23,#8acd24,#83cb24,#7bca24,#71c824,#67c524,#60c124,#57bd25,#4bb92b,#3db534,#2db040,#1ba788,#117acc,#0e5acc,#0f59ca,#0f59c9,#1058c9)"></i><i style="background:linear-gradient(90deg,#1598af,#1ba788,#2db040,#3db534,#4cb92a,#57bd25,#60c124,#68c524,#73c824,#7dca24,#85cc24,#90ce23,#96cf23,#96cf23,#90ce23,#85cc24,#7dca24,#73c824,#68c524,#61c124,#58bd25,#4cb92a,#3eb534,#2db040,#1ba786,#117acc,#0e5acc,#0f59ca,#0f59c9,#0f59c9)"></i><i style="background:linear-gradient(90deg,#16a3a1,#1ea976,#30b13e,#40b632,#4eba29,#5abe24,#62c224,#6ac624,#77c924,#81cb24,#8bcd24,#98cf23,#9ed022,#9dd022,#97cf23,#89cd24,#7fcb24,#75c924,#69c624,#61c224,#58bd25,#4dba2a,#3eb533,#2eb040,#1ba784,#117bcc,#0e5acc,#0f59ca,#0f59c9,#0f59c9)"></i><i style="background:linear-gradient(90deg,#1aa68e,#22ab64,#34b23b,#44b72f,#51bb28,#5cbf24,#64c424,#6ec724,#7bca24,#84cc24,#94ce23,#a0d122,#a6d122,#a5d122,#9dd022,#8fce23,#82cb24,#77c924,#6ac624,#62c224,#59be24,#4dba2a,#3fb533,#2eb03f,#1ca782,#117ccc,#0e5acc,#0f59ca,#0f59c9,#0f59c9)"></i><i style="background:linear-gradient(90deg,#1ea879,#26ad4e,#37b339,#47b82d,#54bc27,#5ec024,#67c524,#72c824,#7fca24,#8bcd24,#9dd022,#a9d222,#aed321,#acd321,#a4d122,#96cf23,#84cc24,#79c924,#6cc724,#63c324,#5abe24,#4eba29,#40b532,#2fb03f,#1ca87f,#117dcc,#0e5acc,#0f59ca,#0f59c9,#0f59c9)"></i><i style="background:linear-gradient(90deg,#22aa65,#2aaf42,#3ab436,#4ab92b,#57bd26,#60c124,#69c624,#77c924,#83cb24,#95cf23,#a6d222,#b1d321,#b6d421,#b4d421,#abd221,#9dd022,#87cc24,#7cca24,#6ec724,#64c324,#5bbe24,#4fba29,#41b632,#30b03e,#1da87c,#127ecc,#0e5acc,#0f59ca,#0f59c9,#0f59c9)"></i><i style="background:linear-gradient(90deg,#26ad50,#2eb03f,#3eb534,#4dba2a,#59be24,#63c324,#6dc724,#7bca24,#88cc24,#9fd022,#b0d321,#bad520,#bed620,#bcd520,#b3d421,#a4d122,#8ecd23,#7eca24,#70c824,#65c424,#5cbf24,#50bb29,#41b631,#31b13e,#1ea879,#1280cc,#0e5acc,#0f59ca,#0f59ca,#0f59c9)"></i><i style="background:linear-gradient(90deg,#2aae43,#33b13c,#41b631,#50bb29,#5cbf24,#65c424,#71c824,#7fcb24,#93ce23,#a9d222,#bad520,#c2d620,#c4d720,#c2d620,#bbd520,#abd221,#95cf23,#80cb24,#73c824,#66c424,#5dbf24,#51bb28,#42b630,#31b13d,#1ea975,#1281cc,#0e5acc,#0f59ca,#0f59ca,#0f59c9)"></i><i style="background:linear-gradient(90deg,#2db040,#37b339,#45b72f,#53bc27,#5ec024,#67c524,#76c924,#84cc24,#9dd022,#b4d421,#c2d620,#c8d71f,#c9d71f,#c7d71f,#c2d620,#b2d421,#9bd023,#83cb24,#75c824,#67c524,#5ec024,#52bb28,#43b72f,#32b13c,#1fa971,#1283cb,#0e5acc,#0f59ca,#0f59ca,#0f59ca)"></i><i style="background:linear-gradient(90deg,#31b13d,#3bb436,#48b82c,#56bd26,#61c224,#6bc624,#7bca24,#8ccd24,#a9d222,#bed620,#c8d71f,#cdd81f,#cfd81f,#ccd81f,#c6d71f,#bad520,#a3d122,#86cc24,#77c924,#68c524,#5fc024,#53bc27,#44b72f,#33b13c,#20aa6d,#1285c8,#0e5acc,#0f59cb,#0f59ca,#0f59ca)"></i><i style="background:linear-gradient(90deg,#35b23a,#3fb533,#4bb92a,#59be24,#63c324,#70c724,#80cb24,#98cf23,#b4d421,#c5d71f,#ced81f,#d3d91e,#d4d91e,#d2d91e,#cbd81f,#c1d620,#aad222,#8ccd24,#7ac924,#69c624,#60c124,#54bc27,#46b72e,#34b23b,#21aa69,#1387c6,#0e5acc,#0f59cb,#0f59ca,#0f59ca)"></i><i style="background:linear-gradient(90deg,#39b337,#43b630,#4fba29,#5cbf24,#66c424,#75c824,#85cc24,#a5d122,#c0d620,#ccd81f,#d4d91e,#d9da1e,#dada1d,#d7d91e,#d0d81e,#c6d71f,#b2d421,#93ce23,#7dca24,#6bc624,#61c224,#55bc26,#47b82d,#35b23a,#22ab64,#1389c3,#0e5acc,#0f59cb,#0f59ca,#0f59ca)"></i><i style="background:linear-gradient(90deg,#3db534,#47b82d,#52bb27,#5fc124,#69c624,#7aca24,#90ce23,#b1d321,#c7d71f,#d3d91e,#dbda1d,#dfdb1d,#e0db1d,#dcda1d,#d5d91e,#cbd81f,#bad520,#9ad023,#7fcb24,#6ec724,#62c224,#56bd26,#48b82c,#36b239,#23ab5f,#138cbf,#0e5acc,#0f59cb,#0f59ca,#0f59ca)"></i><i style="background:linear-gradient(90deg,#41b632,#4bb92b,#56bd26,#61c224,#6ec724,#80cb24,#9dd022,#bed620,#ced81f,#d9da1d,#e1db1d,#e5dc1c,#e6dc1c,#e2db1d,#dbda1d,#d0d81e,#c1d620,#a2d122,#82cb24,#71c824,#63c324,#58bd25,#49b82c,#37b338,#24ac59,#138ebc,#0e5acc,#0f59cb,#0f59ca,#0f59ca)"></i><i style="background:linear-gradient(90deg,#44b72f,#4eba29,#59be24,#64c424,#74c824,#85cc24,#aad221,#c6d71f,#d5d91e,#e0db1d,#e8dc1c,#e9dc1c,#e9dc1c,#e8dc1c,#e0db1d,#d5d91e,#c6d71f,#aad222,#85cc24,#73c824,#64c324,#59be24,#4ab92b,#39b337,#25ac53,#1491b9,#0e5acc,#0f59cb,#0f59ca,#0f59ca)"></i><i style="background:linear-gradient(90deg,#48b82c,#52bb28,#5dbf24,#67c524,#79c924,#92ce23,#b8d521,#ced81f,#ddda1d,#e8dc1c,#e9db1c,#eadb1c,#eadb1c,#e9db1c,#e6dc1c,#dada1d,#cbd81f,#b2d421,#8bcd24,#76c924,#65c424,#5abe24,#4cb92a,#3ab437,#26ad4d,#1494b5,#0e5acc,#0f59cb,#0f59ca,#0f59ca)"></i><i style="background:linear-gradient(90deg,#4cb92a,#56bd26,#60c124,#6bc624,#7fcb24,#a0d122,#c4d720,#d6d91e,#e4db1c,#e9db1c,#eada1c,#ebda1c,#ebda1c,#eadb1c,#e9dc1c,#e0db1d,#d0d81e,#bad520,#93ce23,#79c924,#67c524,#5cbf24,#4dba2a,#3bb436,#28ae46,#1497b1,#0e5acc,#0f59cb,#0f59cb,#0f59ca)"></i><i style="background:linear-gradient(90deg,#4fba29,#59be24,#63c324,#71c824,#85cc24,#afd321,#ccd81f,#deda1d,#e9dc1c,#eada1c,#ebda1c,#ecd91c,#ecd91c,#ebda1c,#eadb1c,#e5dc1c,#d5d91e,#c2d620,#9bd023,#7cca24,#68c624,#5dbf24,#4eba29,#3db434,#29ae43,#159aac,#0e5acc,#0e5acb,#0f59cb,#0f59ca)"></i><i style="background:linear-gradient(90deg,#52bb27,#5cbf24,#66c424,#78c924,#93ce23,#bed620,#d4d91e,#e6dc1c,#eadb1c,#ebd91c,#ecd91d,#edd81d,#edd91d,#ecd91c,#eada1c,#e8dc1c,#dbda1d,#c7d71f,#a3d122,#7fcb24,#6ac624,#5ec024,#50bb29,#3eb533,#2aaf42,#159ea8,#0e5acc,#0e5acb,#0f59cb,#0f59ca)"></i><i style="background:linear-gradient(90deg,#56bd26,#5fc124,#69c624,#7eca24,#a3d122,#c8d71f,#ddda1d,#e9db1c,#ebda1c,#edd91d,#eed81d,#eed81d,#eed81d,#edd81d,#ebd91c,#e9db1c,#e1db1d,#ccd81f,#acd321,#82cb24,#6dc724,#5fc124,#51bb28,#40b532,#2caf41,#16a1a3,#0e5dcc,#0e5acb,#0f59cb,#0f59cb)"></i><i style="background:linear-gradient(90deg,#59be25,#62c224,#6ec724,#84cc24,#b2d421,#d1d81e,#e5dc1c,#eada1c,#ecd91d,#eed81d,#efd71d,#efd71d,#efd71d,#eed81d,#ecd91d,#eada1c,#e6dc1c,#d2d91e,#b5d421,#85cc24,#70c724,#61c224,#53bc27,#41b631,#2db040,#16a49e,#0f61cc,#0e5acb,#0e5acb,#0f59cb)"></i><i style="background:linear-gradient(90deg,#5cbf24,#65c424,#74c824,#93ce23,#c2d620,#dada1d,#e9db1c,#ecd91c,#eed81d,#efd71d,#f0d61d,#f0d61d,#f0d61d,#efd71d,#edd81d,#ebd91c,#e9dc1c,#d7d91e,#bed620,#8dcd24,#73c824,#62c224,#54bc26,#43b630,#2fb03f,#18a596,#0f64cc,#0e5acc,#0e5acb,#0f59cb)"></i><i style="background:linear-gradient(90deg,#5ec024,#67c524,#7aca24,#a2d122,#cbd81f,#e3db1d,#eada1c,#edd81d,#efd71d,#f0d61d,#f1d51d,#f1d51d,#f1d51d,#f0d61d,#eed71d,#ecd91d,#eadb1c,#ddda1d,#c4d720,#96cf23,#76c924,#64c324,#56bd26,#45b72e,#30b13e,#19a68e,#106dcc,#0e5acc,#0e5acb,#0f59cb)"></i><i style="background:linear-gradient(90deg,#61c224,#6bc624,#80cb24,#b1d321,#d5d91e,#e9db1c,#ecd91c,#eed71d,#f0d61d,#f2d51d,#f2d41d,#f3d41d,#f2d41d,#f1d51d,#f0d61d,#edd81d,#ebda1c,#e3db1d,#cad71f,#9fd022,#7ac924,#65c424,#58bd25,#47b82d,#32b13d,#1ba786,#1176cc,#0e5acc,#0e5acb,#0e5acb)"></i><i style="background:linear-gradient(90deg,#64c324,#71c824,#86cc24,#c0d620,#dfdb1d,#eada1c,#edd81d,#f0d61d,#f2d51d,#f3d41d,#f4d31d,#f4d31d,#f3d31d,#f2d41d,#f1d61d,#eed71d,#ecd91c,#e8dc1c,#cfd81e,#a8d222,#7dca24,#67c524,#5abe24,#48b82c,#34b23b,#1da87e,#1280cc,#0e5bcc,#0e5acc,#0e5acb)"></i><i style="background:linear-gradient(90deg,#66c524,#76c924,#94ce23,#c8d71f,#e8dc1c,#ecd91c,#efd71d,#f1d51d,#f3d41d,#f4d31e,#f5d21e,#f5d21e,#f5d31e,#f3d31d,#f2d51d,#efd61d,#edd91d,#e9db1c,#d5d91e,#b2d421,#81cb24,#68c624,#5bbf24,#4ab92b,#35b23a,#1ea975,#1388c4,#0f64cc,#0e5acc,#0e5acb)"></i><i style="background:linear-gradient(90deg,#69c624,#7cca24,#a2d122,#d0d81e,#eadb1c,#edd81d,#f0d61d,#f3d41d,#f4d31e,#f6d21e,#f6d11e,#f6d11e,#f6d21e,#f5d31e,#f3d41d,#f1d61d,#eed81d,#eada1c,#dbda1d,#bcd520,#84cc24,#6bc624,#5dbf24,#4cb92a,#37b339,#20aa6c,#1491b8,#106ccc,#0e5acc,#0e5acb)"></i><i style="background:linear-gradient(90deg,#6ec724,#81cb24,#afd321,#d8da1e,#ebda1c,#efd71d,#f2d51d,#f4d31e,#f6d21e,#f7d11e,#f8d01e,#f8d01e,#f7d11e,#f6d21e,#f4d31e,#f2d51d,#efd71d,#ebda1c,#e1db1d,#c3d620,#8bcd24,#6fc724,#5ec024,#4eba2a,#39b337,#22ab63,#159aad,#1175cc,#0e5acc,#0e5acb)"></i><i style="background:linear-gradient(90deg,#73c824,#87cc24,#bdd520,#e0db1d,#edd91d,#f0d61d,#f3d41d,#f6d21e,#f7d01e,#f8cd1f,#f8ca20,#f8cb20,#f8ce1e,#f7d11e,#f5d21e,#f3d41d,#f0d61d,#ecd91d,#e8dc1c,#c9d71f,#95cf23,#72c824,#60c124,#4fba29,#3bb436,#25ac53,#16a3a2,#127ecc,#0e5ccc,#0e5acc)"></i><i style="background:linear-gradient(90deg,#78c924,#94ce23,#c6d71f,#e8dc1c,#eed81d,#f2d41d,#f5d21e,#f7d11e,#f8cc1f,#f8c621,#f8c322,#f8c322,#f8c721,#f8ce1e,#f6d11e,#f4d31d,#f1d51d,#edd81d,#e9db1c,#cfd81e,#9fd022,#76c924,#62c224,#51bb28,#3db534,#28ae44,#19a593,#1286c7,#0f64cc,#0e5acc)"></i><i style="background:linear-gradient(90deg,#7dca24,#a1d122,#cdd81f,#e9db1c,#efd71d,#f4d31d,#f6d11e,#f8cc1f,#f8c322,#f7bd24,#f7bb25,#f7bc24,#f7c023,#f8c721,#f8d01e,#f5d21e,#f2d51d,#eed71d,#eadb1c,#d6d91e,#a9d222,#7aca24,#63c324,#53bc27,#3fb533,#2baf41,#1ca783,#138ebc,#106ccc,#0e5acc)"></i><i style="background:linear-gradient(90deg,#82cb24,#aed321,#d5d91e,#eada1c,#f0d61d,#f5d21e,#f8d01e,#f8c422,#f7bb25,#f7b526,#f7b327,#f7b427,#f7b925,#f7c023,#f8cb1f,#f6d11e,#f3d41d,#efd61d,#ebda1c,#dcda1d,#b4d421,#7eca24,#65c424,#55bc26,#41b631,#2fb03f,#1fa973,#1496b2,#1174cc,#0e5acc)"></i><i style="background:linear-gradient(90deg,#88cc24,#bad520,#dcda1d,#ebd91c,#f1d51d,#f7d11e,#f8c721,#f7bb25,#f7b227,#f7ad29,#f7ab29,#f7ac29,#f7b128,#f7b925,#f8c422,#f8d01e,#f4d31e,#f1d61d,#ecd91d,#e3db1d,#bfd620,#82cb24,#67c524,#58bd25,#43b72f,#32b13d,#22ab63,#159ea8,#117ccc,#0e5dcc)"></i><i style="background:linear-gradient(90deg,#95cf23,#c4d720,#e3db1c,#edd91d,#f2d41d,#f8cf1e,#f7bd24,#f7b227,#f7a92a,#f7a52b,#f6a32c,#f6a42c,#f7a92a,#f7b227,#f7bd24,#f8cc1f,#f5d21e,#f2d51d,#edd81d,#e8dc1c,#c6d71f,#86cc24,#69c624,#5abe24,#46b72d,#35b23a,#25ac53,#17a49c,#1284ca,#0f64cc)"></i><i style="background:linear-gradient(90deg,#a1d122,#cbd81f,#e8dc1c,#eed81d,#f3d41d,#f8ca20,#f7b427,#f7a92a,#f6a12d,#f69c2e,#f69b2f,#f69c2e,#f6a22c,#f7aa2a,#f7b626,#f8c521,#f7d11e,#f3d41d,#eed71d,#e9db1c,#ccd81f,#91ce23,#6dc724,#5cbf24,#49b82b,#38b338,#28ae44,#1aa68d,#138bc0,#106ccc)"></i><i style="background:linear-gradient(90deg,#acd321,#d2d91e,#e9db1c,#efd71d,#f4d31e,#f8c521,#f7ab2a,#f69f2d,#f6982f,#f69332,#f59232,#f69431,#f69a2f,#f6a22c,#f7ae28,#f7be24,#f8d01e,#f4d31e,#efd61d,#eada1c,#d3d91e,#9cd023,#71c824,#5dc024,#4cb92a,#3bb436,#2baf42,#1da87f,#1493b6,#1173cc)"></i><i style="background:linear-gradient(90deg,#b8d521,#d9da1e,#ebda1c,#f0d61d,#f5d21e,#f7c023,#f6a12d,#f69630,#f58e34,#f48a37,#f48937,#f58b36,#f59133,#f69b2f,#f7a72b,#f7b626,#f8c920,#f5d21e,#f1d61d,#ebd91c,#dada1d,#a7d222,#75c924,#5fc124,#4fba29,#3eb534,#2eb040,#1fa970,#159aad,#117bcc)"></i><i style="background:linear-gradient(90deg,#c2d620,#dfdb1d,#ecd91c,#f1d51d,#f6d11e,#f7bb25,#f69b2e,#f58c35,#f4853a,#f3803c,#f3803c,#f4833b,#f48937,#f69332,#f69f2d,#f7af28,#f8c222,#f6d11e,#f2d51d,#edd91d,#e1db1d,#b2d421,#7ac924,#61c224,#51bb28,#41b632,#31b13e,#22ab62,#16a2a3,#1282cc)"></i><i style="background:linear-gradient(90deg,#c9d71f,#e6dc1c,#edd91d,#f2d51d,#f7d11e,#f7b626,#f69730,#f4823b,#f37b3f,#f27741,#f27742,#f27a40,#f3803c,#f58a37,#f69830,#f7a82b,#f7bb25,#f8d01e,#f3d41d,#eed81d,#e8dc1c,#bed620,#7eca24,#64c324,#54bc27,#43b72f,#33b23b,#25ac53,#18a597,#1389c3)"></i><i style="background:linear-gradient(90deg,#cfd81e,#e9db1c,#eed81d,#f3d41d,#f8d01e,#f7b128,#f69332,#f27841,#f17145,#f16d47,#f16d47,#f17045,#f27741,#f3823c,#f58f34,#f6a02d,#f7b427,#f8cb20,#f4d31e,#efd71d,#e9db1c,#c6d71f,#82cb24,#66c424,#56bd26,#46b72d,#36b239,#28ae45,#1aa689,#1490ba)"></i><i style="background:linear-gradient(90deg,#d6d91e,#eadb1c,#efd71d,#f4d31d,#f8cb20,#f7ad29,#f58e34,#f17046,#f0674b,#f0634c,#f0644c,#f0674a,#f16e46,#f27940,#f48739,#f6982f,#f7ac29,#f8c322,#f6d21e,#f0d61d,#eada1c,#cdd81f,#88cc24,#68c524,#59be24,#49b82c,#39b337,#2aaf42,#1da87c,#1497b1)"></i><i style="background:linear-gradient(90deg,#dcda1d,#ebda1c,#f0d61d,#f5d31e,#f8c621,#f7a82a,#f58a37,#f16c47,#ef5d50,#ee5a52,#ee5a52,#ef5e50,#f0654b,#f17045,#f37e3d,#f59033,#f6a42c,#f7bc24,#f7d11e,#f1d51d,#ebd91c,#d4d91e,#92ce23,#6ac624,#5bbf24,#4bb92a,#3cb435,#2db040,#20a96e,#159ea8)"></i><i style="background:linear-gradient(90deg,#e2db1d,#ecd91c,#f0d61d,#f5d21e,#f7c123,#f6a42c,#f48639,#f06949,#ee5655,#ee5655,#ee5655,#ee5654,#ef5c51,#f0674a,#f27642,#f48838,#f69d2e,#f7b427,#f8cf1e,#f3d41d,#edd91d,#dbda1d,#9bd023,#6ec724,#5dc024,#4eba29,#3eb533,#30b03e,#22ab61,#16a49f)"></i><i style="background:linear-gradient(90deg,#e8dc1c,#edd91d,#f1d51d,#f6d11e,#f7bd24,#f6a02d,#f4833b,#f0664b,#ee5756,#ee5758,#ee5758,#ee5757,#ee5655,#ef5e50,#f16d47,#f37f3d,#f69531,#f7ad29,#f8c820,#f4d31d,#eed81d,#e2db1d,#a5d122,#72c824,#5fc124,#50bb28,#41b631,#32b13c,#25ac53,#19a692)"></i><i style="background:linear-gradient(90deg,#e9db1c,#eed81d,#f2d41d,#f7d11e,#f7b825,#f69c2e,#f37f3d,#f0634d,#ee5757,#ef575a,#ef575a,#ef5759,#ee5757,#ee5654,#f0644c,#f27642,#f58c35,#f7a52b,#f7c123,#f5d21e,#efd71d,#e6dc1c,#aed321,#76c924,#61c224,#53bc27,#44b72f,#35b23a,#28ae46,#1ba785)"></i><i style="background:linear-gradient(90deg,#eadb1c,#eed71d,#f3d41d,#f8d01e,#f7b427,#f6982f,#f37c3f,#ef604e,#ee5757,#ef585c,#ef585c,#ef585b,#ef5759,#ee5756,#ef5b51,#f16e47,#f4843a,#f69d2e,#f7b925,#f7d11e,#f0d61d,#e8dc1c,#b7d421,#7ac924,#63c324,#55bc26,#46b72d,#37b338,#2aaf42,#1ea879)"></i><i style="background:linear-gradient(90deg,#ebda1c,#efd71d,#f4d31d,#f8cb1f,#f7b028,#f69431,#f27841,#ef5d50,#ee5758,#ef585d,#ef585e,#ef585d,#ef585b,#ef5759,#ee5655,#f0654c,#f37b3f,#f69530,#f7b128,#f8d01e,#f1d51d,#e9db1c,#bfd620,#7eca24,#65c424,#57bd25,#49b82c,#3ab437,#2daf41,#20aa6c)"></i><i style="background:linear-gradient(90deg,#ecd91c,#f0d61d,#f5d21e,#f8c721,#f7ac29,#f59133,#f27543,#ef5b51,#ee5758,#ef585d,#ef5960,#ef5960,#ef585e,#ef575b,#ee5757,#ef5c51,#f27244,#f58d35,#f7a92a,#f8ca20,#f2d51d,#eadb1c,#c5d720,#81cb24,#67c524,#59be24,#4bb92b,#3cb435,#2fb03f,#23ab60)"></i><i style="background:linear-gradient(90deg,#edd91d,#f1d51d,#f6d21e,#f8c322,#f7a82a,#f58d35,#f17244,#ee5853,#ef5759,#ef585d,#ef5961,#f05962,#ef5960,#ef585d,#ef5759,#ee5655,#f06949,#f4843a,#f6a22c,#f8c721,#f2d41d,#ebda1c,#c9d71f,#85cc24,#68c624,#5bbf24,#4dba2a,#3fb533,#31b13d,#25ac53)"></i><i style="background:linear-gradient(90deg,#edd81d,#f2d51d,#f6d11e,#f7bf23,#f6a42c,#f48937,#f16f46,#ee5654,#ef5759,#ef585e,#ef5961,#f05963,#f05962,#ef585f,#ef585b,#ee5757,#ef604e,#f37b3f,#f69e2e,#f8c521,#f3d41d,#ebda1c,#ced81f,#8bcd24,#6bc624,#5dc024,#4fba29,#41b631,#34b23b,#27ae47)"></i><i style="background:linear-gradient(90deg,#eed71d,#f3d41d,#f7d11e,#f7bb25,#f6a02d,#f48639,#f16c48,#ee5655,#ef575a,#ef585e,#ef5961,#f05963,#f05963,#ef5961,#ef585e,#ef5759,#ee5753,#f27741,#f69c2e,#f8c322,#f3d41d,#ecd91c,#d3d91e,#94ce23,#6fc724,#5fc124,#51bb28,#44b72f,#36b239,#2aaf43)"></i></div>
<div class="map" style="left:224.95px;top:217.85px;width:150.00px;height:149.80px"><i style="background:linear-gradient(90deg,#a0d122,#9ed022,#9bd023,#98cf23,#95cf23,#91ce23,#8dcd24,#88cc24,#85cc24,#82cb24,#80cb24,#7dca24,#7aca24,#77c924,#74c824,#71c824,#6ec724,#6bc624,#68c624,#67c524,#65c424,#64c324,#63c324,#62c224,#61c224,#60c124,#5fc124,#5ec024,#5dc024,#5dbf24)"></i><i style="background:linear-gradient(90deg,#a1d122,#9ed022,#9cd023,#99cf23,#95cf23,#91ce23,#8dcd24,#88cc24,#85cc24,#83cb24,#80cb24,#7dca24,#7aca24,#77c924,#74c824,#72c824,#6fc724,#6bc624,#68c624,#67c524,#65c424,#64c324,#63c324,#62c224,#61c224,#60c124,#5fc124,#5ec024,#5dc024,#5cbf24)"></i><i style="background:linear-gradient(90deg,#a1d122,#9fd022,#9cd022,#99cf23,#96cf23,#92ce23,#8ecd23,#89cc24,#85cc24,#83cb24,#80cb24,#7dca24,#7ac924,#77c924,#74c824,#72c824,#6fc724,#6cc724,#68c624,#67c524,#65c424,#64c324,#63c324,#62c224,#60c124,#5fc124,#5fc024,#5ec024,#5dc024,#5cbf24)"></i><i style="background:linear-gradient(90deg,#a2d122,#9fd022,#9dd022,#9acf23,#96cf23,#93ce23,#8ecd23,#89cd24,#85cc24,#83cb24,#80cb24,#7cca24,#79c924,#76c924,#74c824,#72c824,#6fc724,#6dc724,#69c624,#67c524,#65c424,#64c324,#63c324,#61c224,#60c124,#5fc124,#5ec024,#5ec024,#5dc024,#5cbf24)"></i><i style="background:linear-gradient(90deg,#a2d122,#a0d022,#9dd022,#9acf23,#97cf23,#93ce23,#8fce23,#8acd24,#85cc24,#83cb24,#80cb24,#7bca24,#78c924,#76c924,#74c824,#72c824,#70c724,#6dc724,#6ac624,#67c524,#65c424,#64c324,#62c224,#61c224,#60c124,#5fc124,#5ec024,#5dc024,#5dbf24,#5cbf24)"></i><i style="background:linear-gradient(90deg,#a2d122,#a0d122,#9ed022,#9bd023,#97cf23,#94ce23,#8fce23,#8bcd24,#86cc24,#83cb24,#7eca24,#7aca24,#77c924,#75c824,#73c824,#72c824,#70c724,#6ec724,#6bc624,#68c524,#65c424,#64c324,#62c224,#61c224,#60c124,#5fc124,#5ec024,#5dc024,#5dbf24,#5cbf24)"></i><i style="background:linear-gradient(90deg,#a3d122,#a1d122,#9ed022,#9bd023,#98cf23,#94ce23,#90ce23,#8bcd24,#86cc24,#82cb24,#7dca24,#79c924,#76c924,#74c824,#73c824,#71c824,#70c724,#6ec724,#6cc724,#68c624,#66c424,#63c324,#62c224,#61c224,#60c124,#5fc124,#5ec024,#5dc024,#5cbf24,#5cbf24)"></i><i style="background:linear-gradient(90deg,#a3d122,#a1d122,#9fd022,#9cd022,#98cf23,#95cf23,#90ce23,#8ccd24,#86cc24,#81cb24,#7cca24,#78c924,#75c924,#73c824,#72c824,#71c824,#70c724,#6ec724,#6cc724,#69c624,#66c524,#63c324,#62c224,#61c224,#60c124,#5fc124,#5ec024,#5dc024,#5cbf24,#5cbf24)"></i><i style="background:linear-gradient(90deg,#a4d122,#a2d122,#9fd022,#9cd022,#99cf23,#95cf23,#91ce23,#8ccd24,#85cc24,#7fcb24,#7aca24,#77c924,#74c824,#73c824,#71c824,#70c824,#70c724,#6ec724,#6dc724,#6ac624,#67c524,#64c324,#62c224,#61c224,#60c124,#5fc024,#5ec024,#5dc024,#5cbf24,#5cbf24)"></i><i style="background:linear-gradient(90deg,#a4d122,#a2d122,#a0d022,#9dd022,#9acf23,#96cf23,#92ce23,#8dcd24,#84cc24,#7eca24,#79c924,#76c924,#73c824,#72c824,#71c824,#70c724,#6fc724,#6fc724,#6dc724,#6bc624,#68c524,#65c424,#62c224,#61c124,#5fc124,#5ec024,#5ec024,#5dbf24,#5cbf24,#5bbf24)"></i><i style="background:linear-gradient(90deg,#a5d122,#a3d122,#a0d122,#9dd022,#9acf23,#96cf23,#92ce23,#8dcd23,#82cb24,#7cca24,#78c924,#74c824,#72c824,#71c824,#70c724,#6fc724,#6fc724,#6fc724,#6dc724,#6bc624,#68c624,#65c424,#62c224,#60c124,#5fc124,#5ec024,#5dc024,#5dbf24,#5cbf24,#5bbf24)"></i><i style="background:linear-gradient(90deg,#a5d122,#a3d122,#a1d122,#9ed022,#9bd023,#97cf23,#93ce23,#8acd24,#80cb24,#7bca24,#76c924,#73c824,#71c824,#70c724,#6fc724,#6fc724,#6fc724,#6ec724,#6ec724,#6cc724,#69c624,#66c524,#62c224,#60c124,#5fc124,#5ec024,#5dc024,#5cbf24,#5cbf24,#5bbf24)"></i><i style="background:linear-gradient(90deg,#a6d122,#a4d122,#a1d122,#9ed022,#9bd023,#98cf23,#93ce23,#86cc24,#7fca24,#79c924,#75c824,#72c824,#70c724,#6fc724,#6ec724,#6ec724,#6ec724,#6ec724,#6ec724,#6cc724,#6ac624,#67c524,#63c324,#60c124,#5fc124,#5ec024,#5dc024,#5cbf24,#5cbf24,#5bbf24)"></i><i style="background:linear-gradient(90deg,#a6d222,#a4d122,#a2d122,#9fd022,#9cd022,#98cf23,#94ce23,#84cc24,#7dca24,#77c924,#73c824,#70c824,#6ec724,#6dc724,#6dc724,#6dc724,#6ec724,#6ec724,#6ec724,#6dc724,#6ac624,#68c524,#64c324,#60c124,#5fc124,#5ec024,#5dc024,#5cbf24,#5bbf24,#5bbe24)"></i><i style="background:linear-gradient(90deg,#a6d222,#a4d122,#a2d122,#a0d022,#9cd022,#99cf23,#93ce23,#82cb24,#7bca24,#76c924,#72c824,#6fc724,#6dc724,#6cc724,#6cc724,#6dc724,#6dc724,#6ec724,#6ec724,#6dc724,#6bc624,#68c624,#65c424,#60c124,#5fc024,#5ec024,#5dbf24,#5cbf24,#5bbf24,#5bbe24)"></i><i style="background:linear-gradient(90deg,#a7d222,#a5d122,#a3d122,#a0d022,#9dd022,#99cf23,#8ecd23,#80cb24,#79c924,#74c824,#70c724,#6dc724,#6cc724,#6bc624,#6bc624,#6cc724,#6dc724,#6dc724,#6ec724,#6dc724,#6cc724,#69c624,#66c424,#61c224,#5ec024,#5ec024,#5dbf24,#5cbf24,#5bbf24,#5bbe24)"></i><i style="background:linear-gradient(90deg,#a7d222,#a5d122,#a3d122,#a1d122,#9ed022,#9acf23,#89cd24,#7eca24,#77c924,#72c824,#6fc724,#6cc724,#6bc624,#6ac624,#6ac624,#6bc624,#6cc724,#6dc724,#6ec724,#6ec724,#6cc724,#69c624,#66c524,#62c224,#5ec024,#5dc024,#5cbf24,#5cbf24,#5bbf24,#5abe24)"></i><i style="background:linear-gradient(90deg,#a8d222,#a6d122,#a4d122,#a1d122,#9ed022,#9bd023,#85cc24,#7cca24,#76c924,#71c824,#6dc724,#6bc624,#69c624,#69c624,#69c624,#6ac624,#6bc624,#6dc724,#6ec724,#6ec724,#6dc724,#6ac624,#67c524,#63c324,#5ec024,#5dc024,#5cbf24,#5cbf24,#5bbe24,#5abe24)"></i><i style="background:linear-gradient(90deg,#a8d222,#a6d222,#a4d122,#a2d122,#9fd022,#9acf23,#83cb24,#7bca24,#74c824,#6fc724,#6bc724,#69c624,#69c624,#68c624,#69c624,#69c624,#6bc624,#6cc724,#6dc724,#6ec724,#6dc724,#6bc624,#68c524,#64c324,#5ec024,#5dc024,#5cbf24,#5bbf24,#5bbe24,#5abe24)"></i><i style="background:linear-gradient(90deg,#a9d222,#a7d222,#a5d122,#a2d122,#9fd022,#95cf23,#81cb24,#79c924,#72c824,#6dc724,#6ac624,#68c624,#68c524,#68c524,#68c624,#69c624,#6ac624,#6cc724,#6dc724,#6ec724,#6dc724,#6cc724,#68c624,#65c424,#5fc124,#5dc024,#5cbf24,#5bbf24,#5bbe24,#5abe24)"></i><i style="background:linear-gradient(90deg,#a9d222,#a7d222,#a5d122,#a3d122,#a0d022,#90ce23,#7fcb24,#77c924,#70c824,#6cc724,#69c624,#68c524,#67c524,#67c524,#68c524,#68c624,#69c624,#6bc624,#6dc724,#6ec724,#6ec724,#6cc724,#69c624,#65c424,#60c124,#5dbf24,#5cbf24,#5bbf24,#5abe24,#5abe24)"></i><i style="background:linear-gradient(90deg,#a9d222,#a8d222,#a6d122,#a3d122,#a1d122,#8acd24,#7dca24,#75c824,#6fc724,#6ac624,#68c524,#67c524,#67c524,#67c524,#67c524,#68c524,#69c624,#6bc624,#6dc724,#6ec724,#6ec724,#6dc724,#69c624,#66c424,#61c224,#5cbf24,#5cbf24,#5bbe24,#5abe24,#5abe24)"></i><i style="background:linear-gradient(90deg,#aad222,#a8d222,#a6d222,#a4d122,#a1d122,#86cc24,#7bca24,#73c824,#6dc724,#69c624,#67c524,#66c524,#66c424,#66c524,#67c524,#68c524,#69c624,#6ac624,#6cc724,#6ec724,#6ec724,#6dc724,#6ac624,#67c524,#62c224,#5cbf24,#5bbf24,#5bbe24,#5abe24,#59be24)"></i><i style="background:linear-gradient(90deg,#aad221,#a9d222,#a7d222,#a4d122,#a0d122,#84cb24,#79c924,#71c824,#6bc624,#68c524,#67c524,#66c424,#66c424,#66c424,#66c524,#67c524,#68c624,#6ac624,#6cc724,#6ec724,#6ec724,#6ec724,#6bc624,#67c524,#63c324,#5cbf24,#5bbf24,#5bbe24,#5abe24,#59be24)"></i><i style="background:linear-gradient(90deg,#abd221,#a9d222,#a7d222,#a5d122,#9bd023,#82cb24,#77c924,#70c724,#6ac624,#67c524,#66c424,#65c424,#65c424,#65c424,#66c424,#67c524,#68c524,#69c624,#6cc724,#6dc724,#6fc724,#6ec724,#6cc724,#68c524,#64c324,#5ec024,#5bbf24,#5abe24,#5abe24,#59be24)"></i><i style="background:linear-gradient(90deg,#abd221,#aad222,#a8d222,#a6d122,#95cf23,#80cb24,#76c924,#6ec724,#69c624,#67c524,#65c424,#65c424,#64c424,#65c424,#65c424,#66c524,#68c524,#69c624,#6bc624,#6dc724,#6fc724,#6fc724,#6dc724,#68c624,#65c424,#5fc024,#5bbf24,#5abe24,#5abe24,#59be24)"></i><i style="background:linear-gradient(90deg,#acd221,#aad222,#a8d222,#a6d222,#90ce23,#7eca24,#74c824,#6cc724,#68c524,#66c424,#65c424,#64c324,#64c324,#64c324,#65c424,#66c424,#67c524,#69c624,#6bc624,#6dc724,#6fc724,#6fc724,#6dc724,#69c624,#65c424,#60c124,#5bbe24,#5abe24,#59be24,#59be25)"></i><i style="background:linear-gradient(90deg,#acd321,#aad221,#a9d222,#a7d222,#8bcd24,#7cca24,#72c824,#6bc624,#67c524,#65c424,#64c324,#63c324,#63c324,#64c324,#65c424,#66c424,#67c524,#68c624,#6bc624,#6dc724,#6fc724,#6fc724,#6ec724,#6ac624,#66c424,#60c124,#5bbe24,#5abe24,#59be24,#59be25)"></i><i style="background:linear-gradient(90deg,#acd321,#abd221,#a9d222,#a7d222,#86cc24,#7ac924,#70c724,#69c624,#66c524,#65c424,#63c324,#63c324,#63c324,#63c324,#64c324,#65c424,#67c524,#68c624,#6ac624,#6dc724,#6fc724,#6fc724,#6ec724,#6bc624,#67c524,#61c224,#5abe24,#5abe24,#59be24,#58bd25)"></i><i style="background:linear-gradient(90deg,#add321,#abd221,#aad222,#a6d222,#84cc24,#78c924,#6fc724,#68c624,#66c424,#64c324,#63c324,#62c224,#62c224,#63c324,#64c324,#65c424,#66c524,#68c524,#6ac624,#6dc724,#6fc724,#70c724,#6fc724,#6cc724,#67c524,#62c224,#5bbe24,#59be24,#59be25,#58bd25)"></i><i style="background:linear-gradient(90deg,#add321,#acd321,#aad222,#a1d122,#82cb24,#76c924,#6dc724,#67c524,#65c424,#63c324,#62c224,#62c224,#62c224,#62c224,#63c324,#65c424,#66c424,#68c524,#6ac624,#6dc724,#6fc724,#70c724,#6fc724,#6cc724,#68c524,#63c324,#5cbf24,#59be24,#59be25,#58bd25)"></i><i style="background:linear-gradient(90deg,#add321,#acd321,#abd221,#9cd022,#80cb24,#74c824,#6bc624,#67c524,#64c324,#63c324,#62c224,#61c224,#61c224,#62c224,#63c324,#64c324,#66c424,#67c524,#69c624,#6cc724,#6fc724,#70c724,#70c724,#6dc724,#68c624,#64c324,#5dbf24,#59be24,#58bd25,#58bd25)"></i><i style="background:linear-gradient(90deg,#aed321,#add321,#abd221,#97cf23,#7eca24,#73c824,#6ac624,#66c424,#64c324,#62c224,#61c224,#61c224,#61c224,#62c224,#63c324,#64c324,#66c424,#67c524,#69c624,#6cc724,#6fc724,#70c824,#70c824,#6ec724,#69c624,#64c324,#5dc024,#59be25,#58bd25,#58bd25)"></i><i style="background:linear-gradient(90deg,#aed321,#add321,#acd221,#92ce23,#7cca24,#71c824,#69c624,#65c424,#63c324,#61c224,#61c224,#60c124,#61c224,#61c224,#62c224,#64c324,#65c424,#67c524,#69c624,#6cc724,#6fc724,#71c824,#71c824,#6fc724,#69c624,#65c424,#5ec024,#59be25,#58bd25,#57bd25)"></i><i style="background:linear-gradient(90deg,#afd321,#add321,#acd321,#8dcd24,#7aca24,#6fc724,#68c524,#65c424,#62c324,#61c224,#60c124,#60c124,#60c124,#61c224,#62c224,#63c324,#65c424,#67c524,#69c624,#6cc724,#6fc724,#71c824,#71c824,#6fc724,#6ac624,#66c424,#5fc124,#58bd25,#58bd25,#57bd25)"></i><i style="background:linear-gradient(90deg,#afd321,#aed321,#add321,#88cc24,#79c924,#6ec724,#67c524,#64c324,#62c224,#60c124,#60c124,#60c124,#60c124,#61c224,#62c224,#63c324,#65c424,#67c524,#69c624,#6cc724,#6fc724,#71c824,#71c824,#70c724,#6bc624,#66c424,#60c124,#58bd25,#58bd25,#57bd25)"></i><i style="background:linear-gradient(90deg,#afd321,#aed321,#add321,#85cc24,#77c924,#6cc724,#66c524,#63c324,#61c224,#60c124,#5fc124,#5fc124,#60c124,#60c124,#62c224,#63c324,#65c424,#67c524,#69c624,#6cc724,#6fc724,#71c824,#72c824,#70c824,#6cc724,#67c524,#61c224,#58bd25,#57bd25,#57bd25)"></i><i style="background:linear-gradient(90deg,#b0d321,#afd321,#aad221,#83cb24,#75c924,#6bc624,#66c424,#63c324,#61c224,#60c124,#5fc124,#5fc124,#5fc124,#60c124,#61c224,#63c324,#65c424,#67c524,#68c624,#6cc724,#6fc724,#71c824,#72c824,#71c824,#6dc724,#67c524,#61c224,#59be25,#57bd25,#57bd25)"></i><i style="background:linear-gradient(90deg,#b0d321,#afd321,#a6d122,#81cb24,#74c824,#69c624,#65c424,#62c224,#60c124,#5fc124,#5fc024,#5ec024,#5fc124,#60c124,#61c224,#63c324,#64c424,#66c524,#68c624,#6cc724,#6fc724,#71c824,#72c824,#71c824,#6ec724,#68c524,#62c224,#5abe24,#57bd25,#57bd26)"></i><i style="background:linear-gradient(90deg,#b0d321,#afd321,#a1d122,#80cb24,#72c824,#68c624,#65c424,#62c224,#60c124,#5fc124,#5ec024,#5ec024,#5fc124,#60c124,#61c224,#63c324,#64c424,#66c524,#68c624,#6cc724,#6fc724,#72c824,#73c824,#72c824,#6ec724,#68c624,#63c324,#5bbe24,#57bd25,#56bd26)"></i><i style="background:linear-gradient(90deg,#b0d321,#b0d321,#9cd022,#7eca24,#71c824,#68c524,#64c324,#61c224,#5fc124,#5ec024,#5ec024,#5ec024,#5ec024,#5fc124,#61c224,#62c224,#64c324,#66c524,#68c624,#6cc724,#6fc724,#72c824,#73c824,#72c824,#6fc724,#69c624,#63c324,#5bbf24,#57bd25,#56bd26)"></i><i style="background:linear-gradient(90deg,#b1d321,#b0d321,#98cf23,#7cca24,#6fc724,#67c524,#63c324,#61c224,#5fc124,#5ec024,#5ec024,#5ec024,#5ec024,#5fc124,#61c224,#62c224,#64c324,#66c524,#68c624,#6cc724,#6fc724,#72c824,#73c824,#73c824,#70c724,#69c624,#64c324,#5cbf24,#56bd26,#56bd26)"></i><i style="background:linear-gradient(90deg,#b1d321,#b0d321,#93ce23,#7bca24,#6ec724,#66c524,#63c324,#60c124,#5fc024,#5ec024,#5dc024,#5dc024,#5ec024,#5fc124,#61c124,#62c224,#64c324,#66c424,#68c624,#6cc724,#6fc724,#72c824,#74c824,#73c824,#70c824,#6ac624,#64c424,#5dc024,#56bd26,#56bd26)"></i><i style="background:linear-gradient(90deg,#b1d321,#b1d321,#8fce23,#79c924,#6cc724,#66c424,#62c224,#60c124,#5ec024,#5dc024,#5dc024,#5dc024,#5ec024,#5fc124,#60c124,#62c224,#64c324,#66c424,#68c624,#6cc724,#70c724,#72c824,#74c824,#74c824,#71c824,#6bc624,#65c424,#5ec024,#56bd26,#56bd26)"></i><i style="background:linear-gradient(90deg,#b2d421,#b1d321,#8bcd24,#78c924,#6bc624,#65c424,#62c224,#60c124,#5ec024,#5dc024,#5dc024,#5dc024,#5ec024,#5fc124,#60c124,#62c224,#64c324,#66c524,#68c624,#6cc724,#70c724,#73c824,#74c824,#74c824,#72c824,#6cc724,#65c424,#5ec024,#56bd26,#55bc26)"></i><i style="background:linear-gradient(90deg,#b2d421,#b1d321,#87cc24,#76c924,#6ac624,#65c424,#61c224,#5fc124,#5ec024,#5dc024,#5dbf24,#5dc024,#5ec024,#5fc124,#60c124,#62c224,#64c324,#66c524,#68c624,#6cc724,#70c724,#73c824,#75c824,#75c824,#72c824,#6cc724,#66c424,#5fc124,#56bd26,#55bc26)"></i><i style="background:linear-gradient(90deg,#b2d421,#b2d421,#85cc24,#75c824,#69c624,#64c424,#61c224,#5fc124,#5dc024,#5dbf24,#5dbf24,#5dc024,#5ec024,#5fc124,#60c124,#62c224,#64c324,#66c524,#68c624,#6cc724,#70c724,#73c824,#75c824,#75c824,#73c824,#6dc724,#66c524,#5fc124,#56bd26,#55bc26)"></i><i style="background:linear-gradient(90deg,#b2d421,#b2d421,#83cb24,#74c824,#68c624,#64c324,#61c224,#5ec024,#5dc024,#5cbf24,#5cbf24,#5dbf24,#5ec024,#5fc124,#60c124,#62c224,#64c324,#66c524,#69c624,#6cc724,#70c824,#73c824,#75c924,#75c924,#73c824,#6ec724,#67c524,#60c124,#55bc26,#55bc26)"></i><i style="background:linear-gradient(90deg,#b2d421,#aed321,#82cb24,#72c824,#68c524,#63c324,#60c124,#5ec024,#5dc024,#5cbf24,#5cbf24,#5dbf24,#5ec024,#5fc124,#60c124,#62c224,#64c324,#66c524,#69c624,#6dc724,#71c824,#74c824,#76c924,#76c924,#74c824,#6fc724,#67c524,#60c124,#56bd26,#55bc26)"></i><i style="background:linear-gradient(90deg,#b3d421,#aad222,#80cb24,#71c824,#67c524,#63c324,#60c124,#5ec024,#5dbf24,#5cbf24,#5cbf24,#5dbf24,#5ec024,#5fc124,#61c124,#62c224,#64c424,#67c524,#69c624,#6dc724,#71c824,#74c824,#76c924,#76c924,#74c824,#6fc724,#68c524,#61c224,#57bd25,#55bc26)"></i><i style="background:linear-gradient(90deg,#b3d421,#a6d222,#7fcb24,#70c724,#67c524,#63c324,#60c124,#5ec024,#5dbf24,#5cbf24,#5cbf24,#5dbf24,#5ec024,#5fc124,#61c224,#62c324,#65c424,#67c524,#69c624,#6dc724,#71c824,#74c824,#76c924,#77c924,#75c824,#70c724,#68c524,#61c224,#58bd25,#54bc26)"></i><i style="background:linear-gradient(90deg,#b3d421,#a3d122,#7eca24,#6fc724,#66c524,#62c224,#5fc124,#5dc024,#5cbf24,#5cbf24,#5cbf24,#5dbf24,#5ec024,#5fc124,#61c224,#63c324,#65c424,#67c524,#69c624,#6dc724,#71c824,#75c824,#77c924,#77c924,#75c924,#70c824,#68c624,#62c224,#58bd25,#54bc27)"></i><i style="background:linear-gradient(90deg,#b3d421,#9fd022,#7dca24,#6ec724,#66c424,#62c224,#5fc124,#5dc024,#5cbf24,#5cbf24,#5cbf24,#5dbf24,#5ec024,#5fc124,#61c224,#63c324,#65c424,#67c524,#69c624,#6ec724,#72c824,#75c824,#77c924,#77c924,#76c924,#71c824,#69c624,#62c224,#59be24,#54bc27)"></i><i style="background:linear-gradient(90deg,#b3d421,#9cd022,#7cca24,#6dc724,#65c424,#62c224,#5fc124,#5dc024,#5cbf24,#5cbf24,#5cbf24,#5dc024,#5ec024,#5fc124,#61c224,#63c324,#65c424,#67c524,#6ac624,#6ec724,#72c824,#75c924,#77c924,#78c924,#76c924,#71c824,#69c624,#63c324,#5abe24,#54bc27)"></i><i style="background:linear-gradient(90deg,#b3d421,#99cf23,#7aca24,#6cc724,#65c424,#61c224,#5fc024,#5dc024,#5cbf24,#5cbf24,#5cbf24,#5dc024,#5ec024,#5fc124,#61c224,#63c324,#65c424,#67c524,#6ac624,#6fc724,#72c824,#76c924,#78c924,#78c924,#77c924,#72c824,#6ac624,#63c324,#5abe24,#54bc27)"></i><i style="background:linear-gradient(90deg,#b3d421,#96cf23,#79c924,#6bc624,#65c424,#61c224,#5ec024,#5dc024,#5cbf24,#5cbf24,#5cbf24,#5dc024,#5ec024,#60c124,#61c224,#63c324,#65c424,#68c524,#6bc624,#6fc724,#73c824,#76c924,#78c924,#79c924,#77c924,#72c824,#6ac624,#63c324,#5bbe24,#54bc27)"></i><i style="background:linear-gradient(90deg,#b3d421,#93ce23,#78c924,#6ac624,#64c424,#61c224,#5ec024,#5dbf24,#5cbf24,#5cbf24,#5cbf24,#5dc024,#5ec024,#60c124,#62c224,#64c324,#66c424,#68c524,#6bc624,#6fc724,#73c824,#76c924,#79c924,#79c924,#77c924,#73c824,#6bc624,#64c324,#5bbf24,#54bc27)"></i><i style="background:linear-gradient(90deg,#b3d421,#90ce23,#77c924,#69c624,#64c324,#61c124,#5ec024,#5dbf24,#5cbf24,#5cbf24,#5cbf24,#5dc024,#5fc024,#60c124,#62c224,#64c324,#66c424,#68c524,#6cc724,#70c724,#74c824,#77c924,#79c924,#79c924,#78c924,#73c824,#6bc624,#64c324,#5bbf24,#53bc27)"></i><i style="background:linear-gradient(90deg,#b3d421,#8ecd23,#77c924,#69c624,#64c324,#60c124,#5ec024,#5dbf24,#5cbf24,#5cbf24,#5dbf24,#5dc024,#5fc124,#60c124,#62c224,#64c324,#66c424,#68c624,#6cc724,#70c824,#74c824,#77c924,#79c924,#7ac924,#78c924,#74c824,#6cc724,#64c424,#5cbf24,#53bc27)"></i><i style="background:linear-gradient(90deg,#b3d421,#8bcd24,#76c924,#68c624,#64c324,#60c124,#5ec024,#5dbf24,#5cbf24,#5cbf24,#5dbf24,#5ec024,#5fc124,#61c124,#62c224,#64c424,#66c524,#69c624,#6dc724,#71c824,#75c824,#78c924,#7ac924,#7aca24,#79c924,#74c824,#6cc724,#65c424,#5cbf24,#53bc27)"></i><i style="background:linear-gradient(90deg,#b3d421,#89cd24,#75c824,#68c624,#63c324,#60c124,#5ec024,#5dbf24,#5cbf24,#5cbf24,#5dbf24,#5ec024,#5fc124,#61c224,#63c324,#65c424,#67c524,#69c624,#6dc724,#71c824,#75c924,#78c924,#7aca24,#7bca24,#79c924,#75c824,#6dc724,#65c424,#5cbf24,#53bc27)"></i><i style="background:linear-gradient(90deg,#b3d421,#87cc24,#74c824,#68c524,#63c324,#60c124,#5ec024,#5dbf24,#5cbf24,#5cbf24,#5dc024,#5ec024,#5fc124,#61c224,#63c324,#65c424,#67c524,#69c624,#6ec724,#72c824,#76c924,#79c924,#7bca24,#7bca24,#79c924,#75c824,#6dc724,#65c424,#5dbf24,#53bc27)"></i><i style="background:linear-gradient(90deg,#b3d421,#86cc24,#74c824,#68c524,#63c324,#60c124,#5ec024,#5dbf24,#5cbf24,#5cbf24,#5dc024,#5ec024,#60c124,#61c224,#63c324,#65c424,#67c524,#6ac624,#6ec724,#73c824,#76c924,#79c924,#7bca24,#7bca24,#7ac924,#75c924,#6dc724,#65c424,#5dc024,#53bc27)"></i><i style="background:linear-gradient(90deg,#b3d421,#85cc24,#73c824,#67c524,#63c324,#60c124,#5ec024,#5dbf24,#5cbf24,#5dbf24,#5dc024,#5fc024,#60c124,#62c224,#64c324,#66c424,#68c524,#6bc624,#6fc724,#73c824,#77c924,#7ac924,#7bca24,#7cca24,#7aca24,#76c924,#6ec724,#65c424,#5dc024,#53bc27)"></i><i style="background:linear-gradient(90deg,#b3d421,#84cc24,#72c824,#67c524,#63c324,#5fc124,#5ec024,#5dbf24,#5cbf24,#5dbf24,#5ec024,#5fc124,#60c124,#62c224,#64c324,#66c424,#68c524,#6bc624,#70c724,#74c824,#77c924,#7aca24,#7cca24,#7cca24,#7aca24,#76c924,#6ec724,#66c424,#5dc024,#52bb27)"></i><i style="background:linear-gradient(90deg,#b3d421,#83cb24,#72c824,#67c524,#62c224,#5fc124,#5ec024,#5dbf24,#5dbf24,#5dc024,#5ec024,#5fc124,#61c224,#62c224,#64c324,#66c524,#68c624,#6cc724,#70c824,#74c824,#78c924,#7bca24,#7cca24,#7cca24,#7bca24,#76c924,#6ec724,#66c424,#5dc024,#52bb27)"></i><i style="background:linear-gradient(90deg,#b3d421,#83cb24,#71c824,#67c524,#62c224,#5fc124,#5ec024,#5dbf24,#5dbf24,#5dc024,#5ec024,#5fc124,#61c224,#63c324,#65c424,#67c524,#69c624,#6dc724,#71c824,#75c824,#78c924,#7bca24,#7dca24,#7dca24,#7bca24,#76c924,#6fc724,#66c424,#5ec024,#52bb27)"></i><i style="background:linear-gradient(90deg,#b3d421,#82cb24,#71c824,#67c524,#62c224,#5fc124,#5ec024,#5dc024,#5dbf24,#5dc024,#5ec024,#60c124,#61c224,#63c324,#65c424,#67c524,#69c624,#6ec724,#72c824,#76c924,#79c924,#7cca24,#7dca24,#7dca24,#7bca24,#77c924,#6fc724,#66c424,#5ec024,#52bb28)"></i><i style="background:linear-gradient(90deg,#b3d421,#82cb24,#70c824,#66c524,#62c224,#5fc124,#5ec024,#5dc024,#5dc024,#5ec024,#5fc024,#60c124,#62c224,#63c324,#65c424,#67c524,#6ac624,#6ec724,#72c824,#76c924,#7ac924,#7cca24,#7eca24,#7eca24,#7bca24,#77c924,#6fc724,#66c424,#5ec024,#52bb28)"></i><i style="background:linear-gradient(90deg,#b2d421,#81cb24,#70c724,#66c524,#62c224,#5fc124,#5ec024,#5dc024,#5dc024,#5ec024,#5fc124,#60c124,#62c224,#64c324,#66c424,#68c524,#6bc624,#6fc724,#73c824,#77c924,#7aca24,#7dca24,#7eca24,#7eca24,#7cca24,#77c924,#6fc724,#66c424,#5ec024,#52bb28)"></i><i style="background:linear-gradient(90deg,#b2d421,#81cb24,#70c724,#66c424,#62c224,#5fc124,#5ec024,#5dc024,#5dc024,#5ec024,#5fc124,#61c224,#62c224,#64c324,#66c424,#68c624,#6cc724,#70c724,#74c824,#78c924,#7bca24,#7dca24,#7eca24,#7eca24,#7cca24,#77c924,#6fc724,#66c524,#5ec024,#52bb28)"></i><i style="background:linear-gradient(90deg,#b2d421,#81cb24,#6fc724,#66c424,#62c224,#5fc124,#5ec024,#5dc024,#5ec024,#5ec024,#5fc124,#61c224,#63c324,#65c424,#67c524,#69c624,#6dc724,#71c824,#75c824,#78c924,#7bca24,#7eca24,#7fcb24,#7eca24,#7cca24,#77c924,#6fc724,#66c524,#5ec024,#52bb28)"></i><i style="background:linear-gradient(90deg,#b2d421,#80cb24,#6fc724,#66c424,#62c224,#5fc124,#5ec024,#5dc024,#5ec024,#5fc024,#60c124,#61c224,#63c324,#65c424,#67c524,#69c624,#6dc724,#71c824,#75c924,#79c924,#7cca24,#7eca24,#7fcb24,#7fcb24,#7cca24,#77c924,#6fc724,#66c524,#5ec024,#52bb28)"></i><i style="background:linear-gradient(90deg,#b1d321,#80cb24,#6fc724,#66c424,#62c224,#5fc124,#5ec024,#5ec024,#5ec024,#5fc124,#60c124,#62c224,#63c324,#65c424,#67c524,#6ac624,#6ec724,#72c824,#76c924,#7ac924,#7dca24,#7fca24,#80cb24,#7fcb24,#7dca24,#78c924,#6fc724,#66c524,#5ec024,#52bb28)"></i><i style="background:linear-gradient(90deg,#b1d321,#80cb24,#6fc724,#66c424,#62c224,#5fc124,#5ec024,#5ec024,#5ec024,#5fc124,#60c124,#62c224,#64c324,#66c424,#68c524,#6bc624,#6fc724,#73c824,#77c924,#7aca24,#7dca24,#7fcb24,#80cb24,#7fcb24,#7dca24,#78c924,#6fc724,#66c524,#5ec024,#51bb28)"></i><i style="background:linear-gradient(90deg,#b1d321,#80cb24,#6fc724,#66c424,#62c224,#5fc124,#5ec024,#5ec024,#5ec024,#5fc124,#61c224,#62c224,#64c324,#66c524,#68c624,#6cc724,#70c724,#74c824,#78c924,#7bca24,#7eca24,#80cb24,#80cb24,#80cb24,#7dca24,#78c924,#6fc724,#66c424,#5ec024,#51bb28)"></i><i style="background:linear-gradient(90deg,#b0d321,#80cb24,#6fc724,#66c424,#62c224,#60c124,#5ec024,#5ec024,#5fc024,#60c124,#61c224,#63c324,#65c424,#67c524,#69c624,#6cc724,#71c824,#75c824,#78c924,#7cca24,#7eca24,#80cb24,#81cb24,#80cb24,#7dca24,#78c924,#6fc724,#66c424,#5ec024,#51bb28)"></i><i style="background:linear-gradient(90deg,#b0d321,#80cb24,#6fc724,#66c424,#62c224,#60c124,#5fc024,#5ec024,#5fc124,#60c124,#61c224,#63c324,#65c424,#67c524,#69c624,#6dc724,#71c824,#75c924,#79c924,#7cca24,#7fca24,#80cb24,#81cb24,#80cb24,#7dca24,#78c924,#6fc724,#66c424,#5ec024,#51bb28)"></i><i style="background:linear-gradient(90deg,#b0d321,#80cb24,#6fc724,#66c424,#62c224,#60c124,#5fc024,#5fc024,#5fc124,#60c124,#62c224,#63c324,#65c424,#67c524,#6ac624,#6ec724,#72c824,#76c924,#7ac924,#7dca24,#7fcb24,#81cb24,#81cb24,#80cb24,#7dca24,#78c924,#6fc724,#66c424,#5ec024,#51bb28)"></i><i style="background:linear-gradient(90deg,#afd321,#80cb24,#6fc724,#66c424,#62c224,#60c124,#5fc124,#5fc124,#5fc124,#60c124,#62c224,#64c324,#66c424,#68c524,#6bc624,#6fc724,#73c824,#77c924,#7aca24,#7dca24,#80cb24,#81cb24,#82cb24,#80cb24,#7dca24,#78c924,#6fc724,#66c424,#5dc024,#51bb28)"></i><i style="background:linear-gradient(90deg,#afd321,#80cb24,#6fc724,#66c424,#62c224,#60c124,#5fc124,#5fc124,#60c124,#61c224,#62c224,#64c324,#66c424,#68c624,#6cc724,#70c724,#74c824,#78c924,#7bca24,#7eca24,#80cb24,#82cb24,#82cb24,#80cb24,#7dca24,#77c924,#6fc724,#66c424,#5dc024,#51bb28)"></i><i style="background:linear-gradient(90deg,#aed321,#80cb24,#6fc724,#66c424,#62c224,#60c124,#5fc124,#5fc124,#60c124,#61c224,#63c324,#64c424,#66c524,#69c624,#6cc724,#71c824,#75c824,#78c924,#7cca24,#7fca24,#81cb24,#82cb24,#82cb24,#81cb24,#7dca24,#77c924,#6ec724,#65c424,#5dc024,#51bb28)"></i><i style="background:linear-gradient(90deg,#aed321,#80cb24,#6fc724,#66c524,#62c224,#60c124,#5fc124,#5fc124,#60c124,#61c224,#63c324,#65c424,#67c524,#69c624,#6dc724,#71c824,#75c924,#79c924,#7cca24,#7fcb24,#81cb24,#82cb24,#82cb24,#81cb24,#7dca24,#77c924,#6ec724,#65c424,#5dbf24,#51bb28)"></i><i style="background:linear-gradient(90deg,#add321,#81cb24,#6fc724,#66c524,#63c324,#60c124,#5fc124,#60c124,#60c124,#62c224,#63c324,#65c424,#67c524,#6ac624,#6ec724,#72c824,#76c924,#7ac924,#7dca24,#80cb24,#82cb24,#83cb24,#82cb24,#81cb24,#7dca24,#77c924,#6ec724,#65c424,#5cbf24,#51bb28)"></i><i style="background:linear-gradient(90deg,#add321,#81cb24,#70c724,#66c524,#63c324,#61c124,#60c124,#60c124,#61c124,#62c224,#64c324,#66c424,#68c524,#6ac624,#6fc724,#73c824,#77c924,#7aca24,#7eca24,#80cb24,#82cb24,#83cb24,#83cb24,#81cb24,#7dca24,#77c924,#6dc724,#65c424,#5cbf24,#51bb28)"></i><i style="background:linear-gradient(90deg,#acd321,#81cb24,#70c724,#67c524,#63c324,#61c224,#60c124,#60c124,#61c224,#62c224,#64c324,#66c424,#68c524,#6bc624,#6fc724,#74c824,#78c924,#7bca24,#7eca24,#81cb24,#82cb24,#83cb24,#83cb24,#81cb24,#7dca24,#76c924,#6dc724,#64c424,#5cbf24,#51bb28)"></i><i style="background:linear-gradient(90deg,#acd321,#82cb24,#70c824,#67c524,#63c324,#61c224,#60c124,#60c124,#61c224,#62c224,#64c324,#66c424,#68c624,#6cc724,#70c724,#74c824,#78c924,#7cca24,#7fca24,#81cb24,#83cb24,#83cb24,#83cb24,#81cb24,#7dca24,#76c924,#6cc724,#64c324,#5cbf24,#51bb28)"></i><i style="background:linear-gradient(90deg,#abd221,#82cb24,#71c824,#67c524,#63c324,#61c224,#60c124,#60c124,#61c224,#63c324,#64c424,#66c524,#69c624,#6dc724,#71c824,#75c824,#79c924,#7cca24,#7fcb24,#82cb24,#83cb24,#84cc24,#83cb24,#81cb24,#7cca24,#76c924,#6cc724,#64c324,#5bbf24,#51bb28)"></i><i style="background:linear-gradient(90deg,#abd221,#83cb24,#71c824,#67c524,#63c324,#61c224,#60c124,#61c124,#61c224,#63c324,#65c424,#67c524,#69c624,#6dc724,#72c824,#76c924,#79c924,#7dca24,#80cb24,#82cb24,#83cb24,#84cc24,#83cb24,#80cb24,#7cca24,#75c924,#6bc624,#64c324,#5bbe24,#51bb28)"></i><i style="background:linear-gradient(90deg,#aad222,#83cb24,#72c824,#67c524,#63c324,#61c224,#61c124,#61c224,#62c224,#63c324,#65c424,#67c524,#69c624,#6ec724,#72c824,#76c924,#7aca24,#7dca24,#80cb24,#82cb24,#84cc24,#84cc24,#83cb24,#80cb24,#7cca24,#75c824,#6bc624,#63c324,#5abe24,#51bb28)"></i><i style="background:linear-gradient(90deg,#a9d222,#84cc24,#72c824,#67c524,#64c324,#62c224,#61c224,#61c224,#62c224,#63c324,#65c424,#67c524,#6ac624,#6ec724,#73c824,#77c924,#7bca24,#7eca24,#81cb24,#83cb24,#84cc24,#84cc24,#83cb24,#80cb24,#7bca24,#74c824,#6ac624,#63c324,#5abe24,#51bb28)"></i><i style="background:linear-gradient(90deg,#a9d222,#85cc24,#73c824,#68c524,#64c324,#62c224,#61c224,#61c224,#62c224,#64c324,#65c424,#68c524,#6bc624,#6fc724,#73c824,#77c924,#7bca24,#7eca24,#81cb24,#83cb24,#84cc24,#84cc24,#83cb24,#80cb24,#7bca24,#74c824,#69c624,#62c224,#59be24,#51bb28)"></i><i style="background:linear-gradient(90deg,#a8d222,#85cc24,#73c824,#68c524,#64c324,#62c224,#61c224,#61c224,#62c224,#64c324,#66c424,#68c524,#6bc624,#70c724,#74c824,#78c924,#7cca24,#7fcb24,#81cb24,#83cb24,#84cc24,#84cc24,#83cb24,#80cb24,#7bca24,#73c824,#69c624,#62c224,#59be25,#51bb28)"></i><i style="background:linear-gradient(90deg,#a8d222,#87cc24,#74c824,#68c624,#64c324,#62c224,#61c224,#62c224,#63c324,#64c324,#66c424,#68c524,#6cc724,#70c724,#74c824,#78c924,#7cca24,#7fcb24,#82cb24,#83cb24,#84cc24,#84cc24,#82cb24,#7fcb24,#7aca24,#72c824,#68c624,#61c224,#58bd25,#51bb28)"></i><i style="background:linear-gradient(90deg,#a7d222,#89cc24,#75c824,#68c624,#64c424,#62c224,#61c224,#62c224,#63c324,#64c324,#66c424,#68c624,#6cc724,#71c824,#75c824,#79c924,#7cca24,#7fcb24,#82cb24,#84cb24,#84cc24,#84cc24,#82cb24,#7fcb24,#79c924,#72c824,#68c524,#61c224,#57bd25,#51bb28)"></i><i style="background:linear-gradient(90deg,#a6d222,#8bcd24,#75c924,#69c624,#65c424,#63c324,#62c224,#62c224,#63c324,#64c424,#66c524,#68c624,#6cc724,#71c824,#75c924,#79c924,#7dca24,#80cb24,#82cb24,#84cc24,#84cc24,#84cc24,#82cb24,#7eca24,#79c924,#71c824,#68c524,#60c124,#57bd25,#51bb28)"></i><i style="background:linear-gradient(90deg,#a6d122,#8ecd23,#76c924,#69c624,#65c424,#63c324,#62c224,#62c224,#63c324,#65c424,#67c524,#69c624,#6dc724,#71c824,#76c924,#7ac924,#7dca24,#80cb24,#82cb24,#84cc24,#84cc24,#84cc24,#82cb24,#7eca24,#78c924,#70c724,#67c524,#60c124,#56bd26,#51bb28)"></i><i style="background:linear-gradient(90deg,#a5d122,#91ce23,#77c924,#6ac624,#65c424,#63c324,#62c224,#62c224,#63c324,#65c424,#67c524,#69c624,#6dc724,#72c824,#76c924,#7aca24,#7dca24,#80cb24,#82cb24,#84cc24,#84cc24,#83cb24,#81cb24,#7dca24,#78c924,#6fc724,#67c524,#5fc124,#55bc26,#51bb28)"></i><i style="background:linear-gradient(90deg,#a4d122,#93ce23,#78c924,#6ac624,#66c424,#63c324,#62c224,#62c224,#63c324,#65c424,#67c524,#69c624,#6ec724,#72c824,#76c924,#7aca24,#7eca24,#80cb24,#82cb24,#84cc24,#84cc24,#83cb24,#81cb24,#7dca24,#77c924,#6ec724,#66c424,#5fc124,#54bc26,#51bb28)"></i><i style="background:linear-gradient(90deg,#a3d122,#97cf23,#79c924,#6bc624,#66c424,#63c324,#62c324,#63c324,#64c324,#65c424,#67c524,#69c624,#6ec724,#72c824,#77c924,#7aca24,#7eca24,#80cb24,#82cb24,#84cc24,#84cc24,#83cb24,#80cb24,#7cca24,#76c924,#6dc724,#66c424,#5ec024,#54bc27,#51bb28)"></i><i style="background:linear-gradient(90deg,#a3d122,#9acf23,#7ac924,#6cc724,#66c424,#64c324,#63c324,#63c324,#64c324,#65c424,#67c524,#6ac624,#6ec724,#73c824,#77c924,#7bca24,#7eca24,#81cb24,#82cb24,#84cb24,#84cb24,#82cb24,#80cb24,#7cca24,#75c924,#6cc724,#65c424,#5ec024,#53bc27,#51bb28)"></i><i style="background:linear-gradient(90deg,#a2d122,#9dd022,#7bca24,#6dc724,#66c524,#64c324,#63c324,#63c324,#64c324,#65c424,#67c524,#6ac624,#6ec724,#73c824,#77c924,#7bca24,#7eca24,#81cb24,#82cb24,#83cb24,#83cb24,#82cb24,#7fcb24,#7bca24,#74c824,#6bc624,#64c424,#5dc024,#52bb28,#51bb28)"></i><i style="background:linear-gradient(90deg,#a1d122,#a0d022,#7cca24,#6ec724,#67c524,#64c324,#63c324,#63c324,#64c324,#66c424,#67c524,#6ac624,#6fc724,#73c824,#77c924,#7bca24,#7eca24,#81cb24,#82cb24,#83cb24,#83cb24,#81cb24,#7fca24,#7aca24,#73c824,#6ac624,#64c324,#5cbf24,#51bb28,#51bb28)"></i><i style="background:linear-gradient(90deg,#a0d122,#9fd022,#7dca24,#6fc724,#67c524,#64c424,#63c324,#63c324,#64c324,#66c424,#67c524,#6ac624,#6fc724,#73c824,#77c924,#7bca24,#7eca24,#80cb24,#82cb24,#83cb24,#83cb24,#81cb24,#7eca24,#79c924,#72c824,#69c624,#63c324,#5bbf24,#51bb28,#51bb28)"></i><i style="background:linear-gradient(90deg,#a0d022,#9ed022,#7eca24,#6fc724,#67c524,#65c424,#63c324,#63c324,#64c324,#66c424,#68c524,#6ac624,#6fc724,#73c824,#77c924,#7bca24,#7eca24,#80cb24,#82cb24,#82cb24,#82cb24,#80cb24,#7dca24,#78c924,#71c824,#68c624,#62c324,#5bbe24,#51bb28,#51bb28)"></i><i style="background:linear-gradient(90deg,#9fd022,#9dd022,#80cb24,#70c824,#68c524,#65c424,#64c324,#64c324,#64c424,#66c424,#68c524,#6ac624,#6fc724,#73c824,#77c924,#7bca24,#7eca24,#80cb24,#82cb24,#82cb24,#82cb24,#80cb24,#7cca24,#77c924,#70c824,#68c524,#62c224,#5abe24,#51bb28,#51bb28)"></i><i style="background:linear-gradient(90deg,#9ed022,#9cd022,#81cb24,#72c824,#68c624,#65c424,#64c324,#64c324,#64c424,#66c424,#68c524,#6ac624,#6fc724,#73c824,#77c924,#7bca24,#7eca24,#80cb24,#81cb24,#82cb24,#81cb24,#7fcb24,#7cca24,#76c924,#6fc724,#67c524,#61c224,#59be24,#52bb28,#51bb28)"></i><i style="background:linear-gradient(90deg,#9dd022,#9bd023,#83cb24,#73c824,#69c624,#65c424,#64c324,#64c324,#65c424,#66c424,#68c524,#6ac624,#6fc724,#73c824,#77c924,#7aca24,#7dca24,#7fcb24,#81cb24,#81cb24,#80cb24,#7eca24,#7bca24,#75c924,#6ec724,#67c524,#60c124,#58bd25,#52bb28,#51bb28)"></i><i style="background:linear-gradient(90deg,#9dd022,#9bd023,#84cc24,#74c824,#69c624,#66c424,#64c324,#64c324,#65c424,#66c424,#68c524,#6ac624,#6fc724,#73c824,#77c924,#7aca24,#7dca24,#7fcb24,#80cb24,#81cb24,#80cb24,#7eca24,#7ac924,#74c824,#6dc724,#66c424,#60c124,#57bd25,#52bb28,#51bb28)"></i><i style="background:linear-gradient(90deg,#9cd022,#9acf23,#86cc24,#75c824,#6ac624,#66c424,#65c424,#64c324,#65c424,#66c424,#68c524,#6ac624,#6fc724,#73c824,#77c924,#7aca24,#7dca24,#7fca24,#80cb24,#80cb24,#7fcb24,#7dca24,#79c924,#73c824,#6bc624,#65c424,#5fc124,#56bd26,#52bb28,#52bb28)"></i><i style="background:linear-gradient(90deg,#9bd023,#99cf23,#89cd24,#76c924,#6bc624,#66c524,#65c424,#64c424,#65c424,#66c424,#68c524,#6ac624,#6fc724,#73c824,#76c924,#7ac924,#7cca24,#7eca24,#7fcb24,#7fcb24,#7eca24,#7cca24,#78c924,#72c824,#6ac624,#64c424,#5ec024,#55bc26,#52bb28,#52bb28)"></i><i style="background:linear-gradient(90deg,#9acf23,#98cf23,#8ecd23,#78c924,#6cc724,#67c524,#65c424,#64c424,#65c424,#66c424,#68c524,#6ac624,#6ec724,#72c824,#76c924,#79c924,#7cca24,#7eca24,#7fca24,#7fca24,#7dca24,#7bca24,#77c924,#71c824,#69c624,#64c324,#5dc024,#54bc27,#52bb28,#52bb28)"></i><i style="background:linear-gradient(90deg,#99cf23,#97cf23,#93ce23,#79c924,#6dc724,#67c524,#65c424,#65c424,#65c424,#66c424,#68c524,#6ac624,#6ec724,#72c824,#76c924,#79c924,#7bca24,#7dca24,#7eca24,#7eca24,#7cca24,#7ac924,#75c924,#6fc724,#68c624,#63c324,#5cbf24,#53bc27,#52bb28,#52bb28)"></i><i style="background:linear-gradient(90deg,#99cf23,#96cf23,#94ce23,#7bca24,#6ec724,#68c524,#66c424,#65c424,#65c424,#66c424,#68c524,#6ac624,#6ec724,#72c824,#75c924,#78c924,#7bca24,#7cca24,#7dca24,#7dca24,#7bca24,#79c924,#74c824,#6ec724,#67c524,#62c224,#5bbf24,#52bb27,#52bb28,#52bb28)"></i><i style="background:linear-gradient(90deg,#98cf23,#96cf23,#93ce23,#7cca24,#6fc724,#68c524,#66c424,#65c424,#65c424,#66c424,#68c524,#6ac624,#6ec724,#71c824,#75c824,#78c924,#7aca24,#7cca24,#7cca24,#7cca24,#7aca24,#78c924,#73c824,#6dc724,#67c524,#61c224,#5abe24,#52bb27,#52bb27,#52bb28)"></i><i style="background:linear-gradient(90deg,#97cf23,#95cf23,#92ce23,#7eca24,#70c824,#68c624,#66c424,#65c424,#65c424,#66c424,#68c524,#6ac624,#6dc724,#71c824,#74c824,#77c924,#7ac924,#7bca24,#7cca24,#7bca24,#79c924,#76c924,#72c824,#6bc624,#66c424,#60c124,#59be24,#53bc27,#52bb27,#52bb28)"></i><i style="background:linear-gradient(90deg,#96cf23,#94ce23,#91ce23,#80cb24,#72c824,#69c624,#66c524,#65c424,#65c424,#66c424,#68c524,#69c624,#6dc724,#71c824,#74c824,#77c924,#79c924,#7aca24,#7bca24,#7aca24,#78c924,#75c924,#70c824,#6ac624,#65c424,#60c124,#58bd25,#53bc27,#52bb27,#52bb28)"></i><i style="background:linear-gradient(90deg,#95cf23,#93ce23,#90ce23,#81cb24,#73c824,#6ac624,#67c524,#66c424,#65c424,#66c424,#67c524,#69c624,#6dc724,#70c724,#73c824,#76c924,#78c924,#79c924,#7ac924,#79c924,#77c924,#74c824,#6fc724,#69c624,#64c324,#5fc024,#57bd25,#53bc27,#52bb27,#52bb27)"></i><i style="background:linear-gradient(90deg,#95cf23,#92ce23,#8fce23,#83cb24,#75c824,#6bc624,#67c524,#66c424,#66c424,#66c424,#67c524,#69c624,#6cc724,#70c724,#73c824,#75c924,#77c924,#79c924,#79c924,#78c924,#76c924,#73c824,#6dc724,#68c524,#63c324,#5ec024,#56bd26,#53bc27,#53bc27,#52bb27)"></i><i style="background:linear-gradient(90deg,#94ce23,#91ce23,#8ecd23,#85cc24,#76c924,#6cc724,#67c524,#66c424,#66c424,#66c524,#67c524,#69c624,#6cc724,#6fc724,#72c824,#75c824,#76c924,#78c924,#78c924,#77c924,#75c824,#71c824,#6cc724,#67c524,#63c324,#5dc024,#55bc26,#53bc27,#53bc27,#52bb27)"></i><i style="background:linear-gradient(90deg,#93ce23,#90ce23,#8dcd23,#8acd24,#78c924,#6dc724,#68c524,#66c524,#66c424,#66c524,#67c524,#69c624,#6bc624,#6ec724,#71c824,#74c824,#76c924,#77c924,#77c924,#76c924,#73c824,#70c724,#6ac624,#66c424,#62c224,#5cbf24,#54bc27,#53bc27,#53bc27,#52bb27)"></i><i style="background:linear-gradient(90deg,#92ce23,#90ce23,#8ccd24,#89cc24,#79c924,#6ec724,#68c624,#66c524,#66c424,#66c524,#67c524,#68c624,#6bc624,#6ec724,#71c824,#73c824,#75c824,#76c924,#76c924,#74c824,#72c824,#6ec724,#69c624,#65c424,#61c224,#5bbe24,#54bc27,#53bc27,#53bc27,#52bb27)"></i><i style="background:linear-gradient(90deg,#91ce23,#8fce23,#8ccd24,#88cc24,#7bca24,#70c724,#69c624,#67c524,#66c424,#66c524,#67c524,#68c624,#6ac624,#6dc724,#70c724,#72c824,#74c824,#75c824,#74c824,#73c824,#71c824,#6dc724,#68c624,#64c424,#60c124,#5abe24,#54bc27,#53bc27,#53bc27,#53bc27)"></i><i style="background:linear-gradient(90deg,#91ce23,#8ecd23,#8bcd24,#87cc24,#7dca24,#71c824,#69c624,#67c524,#66c424,#66c524,#67c524,#68c624,#6ac624,#6dc724,#6fc724,#71c824,#73c824,#73c824,#73c824,#72c824,#6fc724,#6bc624,#67c524,#64c324,#5fc124,#59be25,#54bc27,#53bc27,#53bc27,#53bc27)"></i><i style="background:linear-gradient(90deg,#90ce23,#8dcd24,#8acd24,#86cc24,#7fcb24,#72c824,#6ac624,#67c524,#66c524,#66c524,#67c524,#68c524,#69c624,#6cc724,#6ec724,#70c824,#72c824,#72c824,#72c824,#70c824,#6ec724,#6ac624,#66c524,#63c324,#5ec024,#57bd25,#54bc27,#54bc27,#53bc27,#53bc27)"></i><i style="background:linear-gradient(90deg,#8fce23,#8ccd24,#89cc24,#86cc24,#81cb24,#74c824,#6bc624,#68c524,#67c524,#66c524,#67c524,#68c524,#69c624,#6bc624,#6ec724,#6fc724,#71c824,#71c824,#71c824,#6fc724,#6cc724,#68c624,#66c424,#62c224,#5dc024,#56bd26,#54bc27,#54bc27,#53bc27,#53bc27)"></i><i style="background:linear-gradient(90deg,#8ecd23,#8bcd24,#88cc24,#85cc24,#83cb24,#76c924,#6dc724,#68c624,#67c524,#66c524,#67c524,#68c524,#69c624,#6bc624,#6dc724,#6ec724,#70c724,#70c724,#6fc724,#6ec724,#6bc624,#68c524,#65c424,#61c224,#5cbf24,#55bc26,#54bc27,#54bc27,#53bc27,#53bc27)"></i><i style="background:linear-gradient(90deg,#8ecd23,#8bcd24,#87cc24,#85cc24,#83cb24,#78c924,#6ec724,#68c624,#67c524,#66c524,#67c524,#67c524,#68c624,#6ac624,#6cc724,#6dc724,#6fc724,#6fc724,#6ec724,#6cc724,#69c624,#67c524,#64c324,#60c124,#5bbf24,#55bc26,#54bc26,#54bc27,#53bc27,#53bc27)"></i><i style="background:linear-gradient(90deg,#8dcd24,#8acd24,#86cc24,#85cc24,#83cb24,#79c924,#6fc724,#69c624,#67c524,#67c524,#67c524,#67c524,#68c624,#69c624,#6bc624,#6dc724,#6dc724,#6ec724,#6dc724,#6bc624,#68c624,#66c424,#63c324,#5fc124,#5abe24,#55bc26,#55bc26,#54bc27,#54bc27,#53bc27)"></i><i style="background:linear-gradient(90deg,#8ccd24,#89cd24,#86cc24,#84cc24,#82cb24,#7bca24,#71c824,#6ac624,#68c524,#67c524,#67c524,#67c524,#68c524,#69c624,#6ac624,#6cc724,#6cc724,#6cc724,#6bc624,#69c624,#68c524,#65c424,#62c224,#5ec024,#59be25,#55bc26,#55bc26,#54bc27,#54bc27,#53bc27)"></i><i style="background:linear-gradient(90deg,#8bcd24,#88cc24,#85cc24,#84cc24,#82cb24,#7eca24,#72c824,#6bc624,#68c524,#67c524,#67c524,#67c524,#68c524,#68c624,#69c624,#6bc624,#6bc624,#6bc624,#6ac624,#68c624,#67c524,#64c424,#61c224,#5dc024,#58bd25,#55bc26,#55bc26,#54bc27,#54bc27,#53bc27)"></i><i style="background:linear-gradient(90deg,#8acd24,#87cc24,#85cc24,#84cb24,#82cb24,#80cb24,#74c824,#6cc724,#68c624,#67c524,#67c524,#67c524,#67c524,#68c624,#69c624,#69c624,#6ac624,#6ac624,#69c624,#68c524,#66c424,#64c324,#60c124,#5cbf24,#56bd26,#56bd26,#55bc26,#54bc27,#54bc27,#53bc27)"></i><i style="background:linear-gradient(90deg,#8acd24,#87cc24,#85cc24,#83cb24,#81cb24,#7fcb24,#76c924,#6dc724,#69c624,#67c524,#67c524,#67c524,#67c524,#68c524,#68c624,#69c624,#69c624,#69c624,#68c624,#67c524,#65c424,#63c324,#5fc124,#5bbf24,#57bd26,#56bd26,#55bc26,#54bc26,#54bc27,#54bc27)"></i><i style="background:linear-gradient(90deg,#89cd24,#86cc24,#84cc24,#83cb24,#81cb24,#7fcb24,#78c924,#6fc724,#69c624,#67c524,#67c524,#67c524,#67c524,#67c524,#68c524,#68c624,#68c624,#68c624,#67c524,#66c424,#64c424,#62c224,#5fc024,#5abe24,#57bd25,#56bd26,#55bc26,#55bc26,#54bc27,#54bc27)"></i><i style="background:linear-gradient(90deg,#88cc24,#86cc24,#84cc24,#83cb24,#81cb24,#7fca24,#7ac924,#70c724,#6ac624,#68c524,#67c524,#67c524,#67c524,#67c524,#68c524,#68c524,#68c524,#67c524,#67c524,#65c424,#64c324,#61c224,#5ec024,#59be24,#57bd25,#56bd26,#55bc26,#55bc26,#54bc27,#54bc27)"></i><i style="background:linear-gradient(90deg,#87cc24,#85cc24,#84cc24,#82cb24,#80cb24,#7eca24,#7cca24,#72c824,#6bc624,#68c624,#67c524,#67c524,#67c524,#67c524,#67c524,#67c524,#67c524,#67c524,#66c424,#65c424,#63c324,#60c124,#5dbf24,#58bd25,#57bd25,#56bd26,#55bc26,#55bc26,#54bc27,#54bc27)"></i><i style="background:linear-gradient(90deg,#87cc24,#85cc24,#84cb24,#82cb24,#80cb24,#7eca24,#7cca24,#74c824,#6cc724,#68c624,#67c524,#67c524,#67c524,#67c524,#67c524,#67c524,#67c524,#66c524,#65c424,#64c324,#62c224,#5fc124,#5cbf24,#58bd25,#57bd25,#56bd26,#56bd26,#55bc26,#54bc26,#54bc27)"></i><i style="background:linear-gradient(90deg,#86cc24,#85cc24,#83cb24,#82cb24,#80cb24,#7eca24,#7bca24,#75c924,#6ec724,#69c624,#67c524,#67c524,#66c524,#66c524,#66c524,#66c524,#66c524,#66c424,#65c424,#63c324,#61c224,#5ec024,#5bbe24,#58bd25,#57bd25,#56bd26,#56bd26,#55bc26,#55bc26,#54bc27)"></i><i style="background:linear-gradient(90deg,#86cc24,#84cc24,#83cb24,#81cb24,#7fcb24,#7dca24,#7bca24,#77c924,#6fc724,#6ac624,#68c524,#67c524,#66c524,#66c524,#66c424,#66c424,#66c424,#65c424,#64c324,#63c324,#60c124,#5ec024,#5abe24,#58bd25,#57bd25,#57bd26,#56bd26,#55bc26,#55bc26,#54bc27)"></i><i style="background:linear-gradient(90deg,#85cc24,#84cc24,#83cb24,#81cb24,#7fcb24,#7dca24,#7bca24,#78c924,#71c824,#6bc624,#68c524,#67c524,#66c524,#66c424,#66c424,#66c424,#65c424,#64c424,#63c324,#62c224,#60c124,#5dbf24,#5abe24,#58bd25,#57bd25,#57bd25,#56bd26,#55bc26,#55bc26,#54bc27)"></i><i style="background:linear-gradient(90deg,#85cc24,#84cc24,#82cb24,#81cb24,#7fcb24,#7dca24,#7aca24,#78c924,#72c824,#6cc724,#68c624,#67c524,#66c524,#66c424,#66c424,#65c424,#65c424,#64c324,#63c324,#61c224,#5fc124,#5cbf24,#5abe24,#59be25,#58bd25,#57bd25,#56bd26,#55bc26,#55bc26,#54bc27)"></i><i style="background:linear-gradient(90deg,#85cc24,#83cb24,#82cb24,#80cb24,#7eca24,#7cca24,#7aca24,#78c924,#74c824,#6dc724,#69c624,#67c524,#66c524,#66c424,#65c424,#65c424,#64c324,#63c324,#62c224,#60c124,#5ec024,#5bbf24,#5abe24,#59be25,#58bd25,#57bd25,#56bd26,#56bd26,#55bc26,#54bc26)"></i><i style="background:linear-gradient(90deg,#85cc24,#83cb24,#82cb24,#80cb24,#7eca24,#7cca24,#7ac924,#77c924,#75c824,#6fc724,#69c624,#68c524,#66c524,#66c424,#65c424,#65c424,#64c324,#63c324,#62c224,#60c124,#5dc024,#5bbf24,#5abe24,#59be25,#58bd25,#57bd25,#56bd26,#56bd26,#55bc26,#55bc26)"></i><i style="background:linear-gradient(90deg,#84cc24,#83cb24,#81cb24,#80cb24,#7eca24,#7cca24,#7ac924,#77c924,#74c824,#70c724,#6bc624,#68c524,#67c524,#66c424,#65c424,#64c324,#63c324,#62c224,#61c224,#5fc124,#5dbf24,#5bbf24,#5abe24,#59be24,#58bd25,#57bd25,#56bd26,#56bd26,#55bc26,#55bc26)"></i><i style="background:linear-gradient(90deg,#84cc24,#83cb24,#81cb24,#7fcb24,#7eca24,#7cca24,#79c924,#77c924,#74c824,#71c824,#6cc724,#68c624,#67c524,#66c424,#65c424,#64c324,#63c324,#62c224,#61c124,#5fc024,#5cbf24,#5bbf24,#5abe24,#59be24,#58bd25,#57bd25,#57bd26,#56bd26,#55bc26,#55bc26)"></i><i style="background:linear-gradient(90deg,#84cc24,#82cb24,#81cb24,#7fcb24,#7dca24,#7bca24,#79c924,#77c924,#74c824,#71c824,#6dc724,#69c624,#67c524,#66c424,#65c424,#64c324,#63c324,#62c224,#60c124,#5ec024,#5cbf24,#5bbf24,#5abe24,#59be24,#58bd25,#57bd25,#57bd25,#56bd26,#55bc26,#55bc26)"></i><i style="background:linear-gradient(90deg,#83cb24,#82cb24,#81cb24,#7fcb24,#7dca24,#7bca24,#79c924,#76c924,#74c824,#71c824,#6ec724,#69c624,#67c524,#66c424,#65c424,#64c324,#63c324,#61c224,#60c124,#5ec024,#5dbf24,#5bbf24,#5abe24,#59be24,#58bd25,#58bd25,#57bd25,#56bd26,#55bc26,#55bc26)"></i><i style="background:linear-gradient(90deg,#83cb24,#82cb24,#80cb24,#7fca24,#7dca24,#7bca24,#78c924,#76c924,#73c824,#71c824,#6ec724,#6bc624,#68c524,#66c424,#65c424,#64c324,#62c224,#61c224,#5fc124,#5ec024,#5dbf24,#5bbf24,#5abe24,#59be24,#58bd25,#58bd25,#57bd25,#56bd26,#56bd26,#55bc26)"></i><i style="background:linear-gradient(90deg,#83cb24,#82cb24,#80cb24,#7eca24,#7cca24,#7aca24,#78c924,#76c924,#73c824,#71c824,#6ec724,#6bc624,#68c624,#66c524,#65c424,#64c324,#62c224,#61c224,#5fc124,#5ec024,#5dbf24,#5cbf24,#5bbe24,#5abe24,#59be25,#58bd25,#57bd25,#56bd26,#56bd26,#55bc26)"></i><i style="background:linear-gradient(90deg,#83cb24,#81cb24,#80cb24,#7eca24,#7cca24,#7aca24,#78c924,#76c924,#73c824,#70c824,#6dc724,#6ac624,#68c624,#67c524,#65c424,#64c324,#62c224,#61c224,#5fc124,#5ec024,#5dbf24,#5cbf24,#5bbe24,#5abe24,#59be25,#58bd25,#57bd25,#56bd26,#56bd26,#55bc26)"></i></div>
<div class="map" style="left:416.10px;top:218.70px;width:149.80px;height:149.40px"><i style="background:linear-gradient(90deg,#c6d71f,#c6d71f,#c6d71f,#c6d71f,#c6d71f,#c6d71f,#c6d71f,#c6d71f,#c6d71f,#c6d71f,#c6d71f,#c6d71f,#c6d71f,#c4d720,#bfd620,#bfd620,#c4d720,#c6d71f,#c6d71f,#c6d71f,#c6d71f,#c6d71f,#c6d71f,#c6d71f,#c6d71f,#c6d71f,#c6d71f,#c6d71f,#c6d71f,#c6d71f)"></i><i style="background:linear-gradient(90deg,#c6d71f,#c6d71f,#c6d71f,#c6d71f,#c6d71f,#c6d71f,#c6d71f,#c6d71f,#c6d71f,#c6d71f,#c6d71f,#c6d71f,#c1d620,#b2d421,#aad222,#aad222,#b2d421,#c1d620,#c6d71f,#c6d71f,#c6d71f,#c6d71f,#c6d71f,#c6d71f,#c6d71f,#c6d71f,#c6d71f,#c6d71f,#c6d71f,#c6d71f)"></i><i style="background:linear-gradient(90deg,#c6d71f,#c6d71f,#c6d71f,#c6d71f,#c6d71f,#c6d71f,#c6d71f,#c6d71f,#c6d71f,#c6d71f,#c6d71f,#c2d620,#acd321,#9dd022,#96cf23,#96cf23,#9dd022,#acd321,#c2d620,#c6d71f,#c6d71f,#c6d71f,#c6d71f,#c6d71f,#c6d71f,#c6d71f,#c6d71f,#c6d71f,#c6d71f,#c6d71f)"></i><i style="background:linear-gradient(90deg,#c6d71f,#c6d71f,#c6d71f,#c6d71f,#c6d71f,#c6d71f,#c6d71f,#c6d71f,#c6d71f,#c6d71f,#c6d71f,#aed321,#98cf23,#8bcd24,#85cc24,#85cc24,#8bcd24,#98cf23,#aed321,#c6d71f,#c6d71f,#c6d71f,#c6d71f,#c6d71f,#c6d71f,#c6d71f,#c6d71f,#c6d71f,#c6d71f,#c6d71f)"></i><i style="background:linear-gradient(90deg,#c6d71f,#c6d71f,#c6d71f,#c6d71f,#c6d71f,#c6d71f,#c6d71f,#c6d71f,#c6d71f,#c6d71f,#b9d521,#9bd023,#86cc24,#81cb24,#7eca24,#7eca24,#81cb24,#86cc24,#9bd023,#b9d521,#c6d71f,#c6d71f,#c6d71f,#c6d71f,#c6d71f,#c6d71f,#c6d71f,#c6d71f,#c6d71f,#c6d71f)"></i><i style="background:linear-gradient(90deg,#c6d71f,#c6d71f,#c6d71f,#c6d71f,#c6d71f,#c6d71f,#c6d71f,#c6d71f,#c6d71f,#c6d71f,#a5d122,#89cc24,#7fcb24,#7bca24,#78c924,#78c924,#7bca24,#7fcb24,#89cc24,#a5d122,#c6d71f,#c6d71f,#c6d71f,#c6d71f,#c6d71f,#c6d71f,#c6d71f,#c6d71f,#c6d71f,#c6d71f)"></i><i style="background:linear-gradient(90deg,#c6d71f,#c6d71f,#c6d71f,#c6d71f,#c6d71f,#c6d71f,#c6d71f,#c6d71f,#c6d71f,#b7d421,#92ce23,#80cb24,#79c924,#75c824,#73c824,#73c824,#75c824,#79c924,#80cb24,#92ce23,#b7d421,#c6d71f,#c6d71f,#c6d71f,#c6d71f,#c6d71f,#c6d71f,#c6d71f,#c6d71f,#c6d71f)"></i><i style="background:linear-gradient(90deg,#c6d71f,#c6d71f,#c6d71f,#c6d71f,#c6d71f,#c6d71f,#c6d71f,#c6d71f,#c6d71f,#a4d122,#84cc24,#7aca24,#74c824,#6fc724,#6dc724,#6dc724,#6fc724,#74c824,#7aca24,#84cc24,#a4d122,#c6d71f,#c6d71f,#c6d71f,#c6d71f,#c6d71f,#c6d71f,#c6d71f,#c6d71f,#c6d71f)"></i><i style="background:linear-gradient(90deg,#c6d71f,#c6d71f,#c6d71f,#c6d71f,#c6d71f,#c6d71f,#c6d71f,#c6d71f,#bed620,#92ce23,#7eca24,#75c824,#6ec724,#6ac624,#69c624,#69c624,#6ac624,#6ec724,#75c824,#7eca24,#92ce23,#bed620,#c6d71f,#c6d71f,#c6d71f,#c6d71f,#c6d71f,#c6d71f,#c6d71f,#c6d71f)"></i><i style="background:linear-gradient(90deg,#c6d71f,#c6d71f,#c6d71f,#c6d71f,#c6d71f,#c6d71f,#c6d71f,#c6d71f,#abd221,#84cc24,#78c924,#6fc724,#6ac624,#68c524,#67c524,#67c524,#68c524,#6ac624,#6fc724,#78c924,#84cc24,#abd221,#c6d71f,#c6d71f,#c6d71f,#c6d71f,#c6d71f,#c6d71f,#c6d71f,#c6d71f)"></i><i style="background:linear-gradient(90deg,#c6d71f,#c6d71f,#c6d71f,#c6d71f,#c6d71f,#c6d71f,#c6d71f,#c6d71f,#99cf23,#7eca24,#73c824,#6bc624,#67c524,#66c424,#65c424,#65c424,#66c424,#67c524,#6bc624,#73c824,#7eca24,#99cf23,#c6d71f,#c6d71f,#c6d71f,#c6d71f,#c6d71f,#c6d71f,#c6d71f,#c6d71f)"></i><i style="background:linear-gradient(90deg,#c6d71f,#c6d71f,#c6d71f,#c6d71f,#c6d71f,#c6d71f,#c6d71f,#bcd520,#89cc24,#78c924,#6ec724,#68c524,#65c424,#64c324,#63c324,#63c324,#64c324,#65c424,#68c524,#6ec724,#78c924,#89cc24,#bcd520,#c6d71f,#c6d71f,#c6d71f,#c6d71f,#c6d71f,#c6d71f,#c6d71f)"></i><i style="background:linear-gradient(90deg,#c6d71f,#c6d71f,#c6d71f,#c6d71f,#c6d71f,#c6d71f,#c6d71f,#aad222,#81cb24,#73c824,#69c624,#66c424,#64c324,#62c224,#62c224,#62c224,#62c224,#64c324,#66c424,#69c624,#73c824,#81cb24,#aad222,#c6d71f,#c6d71f,#c6d71f,#c6d71f,#c6d71f,#c6d71f,#c6d71f)"></i><i style="background:linear-gradient(90deg,#c6d71f,#c6d71f,#c6d71f,#c6d71f,#c6d71f,#c6d71f,#c6d71f,#99cf23,#7bca24,#6ec724,#67c524,#64c324,#62c224,#61c224,#60c124,#60c124,#61c224,#62c224,#64c324,#67c524,#6ec724,#7bca24,#99cf23,#c6d71f,#c6d71f,#c6d71f,#c6d71f,#c6d71f,#c6d71f,#c6d71f)"></i><i style="background:linear-gradient(90deg,#c6d71f,#c6d71f,#c6d71f,#c6d71f,#c6d71f,#c6d71f,#c2d620,#89cd24,#76c924,#6ac624,#65c424,#63c324,#61c224,#60c124,#5fc124,#5fc124,#60c124,#61c224,#63c324,#65c424,#6ac624,#76c924,#89cd24,#c2d620,#c6d71f,#c6d71f,#c6d71f,#c6d71f,#c6d71f,#c6d71f)"></i><i style="background:linear-gradient(90deg,#c6d71f,#c6d71f,#c6d71f,#c6d71f,#c6d71f,#c6d71f,#b2d421,#81cb24,#71c824,#67c524,#64c324,#61c224,#60c124,#5fc024,#5ec024,#5ec024,#5fc024,#60c124,#61c224,#64c324,#67c524,#71c824,#81cb24,#b2d421,#c6d71f,#c6d71f,#c6d71f,#c6d71f,#c6d71f,#c6d71f)"></i><i style="background:linear-gradient(90deg,#c6d71f,#c6d71f,#c6d71f,#c6d71f,#c6d71f,#c6d71f,#a2d122,#7cca24,#6dc724,#66c424,#62c224,#60c124,#5fc024,#5ec024,#5dc024,#5dc024,#5ec024,#5fc024,#60c124,#62c224,#66c424,#6dc724,#7cca24,#a2d122,#c6d71f,#c6d71f,#c6d71f,#c6d71f,#c6d71f,#c6d71f)"></i><i style="background:linear-gradient(90deg,#c6d71f,#c6d71f,#c6d71f,#c6d71f,#c6d71f,#c6d71f,#92ce23,#77c924,#69c624,#64c324,#61c224,#5fc124,#5ec024,#5dc024,#5dc024,#5dc024,#5dc024,#5ec024,#5fc124,#61c224,#64c324,#69c624,#77c924,#92ce23,#c6d71f,#c6d71f,#c6d71f,#c6d71f,#c6d71f,#c6d71f)"></i><i style="background:linear-gradient(90deg,#c6d71f,#c6d71f,#c6d71f,#c6d71f,#c6d71f,#c3d620,#85cc24,#72c824,#67c524,#63c324,#60c124,#5ec024,#5dc024,#5dbf24,#5cbf24,#5cbf24,#5dbf24,#5dc024,#5ec024,#60c124,#63c324,#67c524,#72c824,#85cc24,#c3d620,#c6d71f,#c6d71f,#c6d71f,#c6d71f,#c6d71f)"></i><i style="background:linear-gradient(90deg,#c6d71f,#c6d71f,#c6d71f,#c6d71f,#c6d71f,#b5d421,#80cb24,#6ec724,#65c424,#61c224,#5fc124,#5dc024,#5dbf24,#5cbf24,#5cbf24,#5cbf24,#5cbf24,#5dbf24,#5dc024,#5fc124,#61c224,#65c424,#6ec724,#80cb24,#b5d421,#c6d71f,#c6d71f,#c6d71f,#c6d71f,#c6d71f)"></i><i style="background:linear-gradient(90deg,#c6d71f,#c6d71f,#c6d71f,#c6d71f,#c6d71f,#a6d122,#7bca24,#6ac624,#64c324,#60c124,#5ec024,#5dbf24,#5cbf24,#5cbf24,#5cbf24,#5cbf24,#5cbf24,#5cbf24,#5dbf24,#5ec024,#60c124,#64c324,#6ac624,#7bca24,#a6d122,#c6d71f,#c6d71f,#c6d71f,#c6d71f,#c6d71f)"></i><i style="background:linear-gradient(90deg,#c6d71f,#c6d71f,#c6d71f,#c6d71f,#c6d71f,#97cf23,#76c924,#68c524,#63c324,#5fc124,#5dc024,#5cbf24,#5cbf24,#5cbf24,#5cbf24,#5cbf24,#5cbf24,#5cbf24,#5cbf24,#5dc024,#5fc124,#63c324,#68c524,#76c924,#97cf23,#c6d71f,#c6d71f,#c6d71f,#c6d71f,#c6d71f)"></i><i style="background:linear-gradient(90deg,#c6d71f,#c6d71f,#c6d71f,#c6d71f,#c6d71f,#89cd24,#72c824,#66c424,#61c224,#5ec024,#5dbf24,#5cbf24,#5cbf24,#5cbf24,#5cbf24,#5cbf24,#5cbf24,#5cbf24,#5cbf24,#5dbf24,#5ec024,#61c224,#66c424,#72c824,#89cd24,#c6d71f,#c6d71f,#c6d71f,#c6d71f,#c6d71f)"></i><i style="background:linear-gradient(90deg,#c6d71f,#c6d71f,#c6d71f,#c6d71f,#c3d620,#82cb24,#6ec724,#65c424,#60c124,#5ec024,#5cbf24,#5cbf24,#5cbf24,#5cbf24,#5cbf24,#5cbf24,#5cbf24,#5cbf24,#5cbf24,#5cbf24,#5ec024,#60c124,#65c424,#6ec724,#82cb24,#c3d620,#c6d71f,#c6d71f,#c6d71f,#c6d71f)"></i><i style="background:linear-gradient(90deg,#c6d71f,#c6d71f,#c6d71f,#c6d71f,#b6d421,#7eca24,#6ac624,#63c324,#5fc124,#5dc024,#5cbf24,#5cbf24,#5cbf24,#5cbf24,#5cbf24,#5cbf24,#5cbf24,#5cbf24,#5cbf24,#5cbf24,#5dc024,#5fc124,#63c324,#6ac624,#7eca24,#b6d421,#c6d71f,#c6d71f,#c6d71f,#c6d71f)"></i><i style="background:linear-gradient(90deg,#c6d71f,#c6d71f,#c6d71f,#c6d71f,#a8d222,#79c924,#68c524,#62c224,#5fc024,#5dbf24,#5cbf24,#5cbf24,#5cbf24,#5cbf24,#5cbf24,#5cbf24,#5cbf24,#5cbf24,#5cbf24,#5cbf24,#5dbf24,#5fc024,#62c224,#68c524,#79c924,#a8d222,#c6d71f,#c6d71f,#c6d71f,#c6d71f)"></i><i style="background:linear-gradient(90deg,#c6d71f,#c6d71f,#c6d71f,#c6d71f,#9ad023,#75c824,#66c524,#61c224,#5ec024,#5cbf24,#5cbf24,#5cbf24,#5cbf24,#5cbf24,#5dbf24,#5dbf24,#5cbf24,#5cbf24,#5cbf24,#5cbf24,#5cbf24,#5ec024,#61c224,#66c524,#75c824,#9ad023,#c6d71f,#c6d71f,#c6d71f,#c6d71f)"></i><i style="background:linear-gradient(90deg,#c6d71f,#c6d71f,#c6d71f,#c6d71f,#8ecd23,#71c824,#65c424,#60c124,#5dc024,#5cbf24,#5cbf24,#5cbf24,#5cbf24,#5dc024,#5dc024,#5dc024,#5dc024,#5cbf24,#5cbf24,#5cbf24,#5cbf24,#5dc024,#60c124,#65c424,#71c824,#8ecd23,#c6d71f,#c6d71f,#c6d71f,#c6d71f)"></i><i style="background:linear-gradient(90deg,#c6d71f,#c6d71f,#c6d71f,#c6d71f,#84cc24,#6ec724,#64c324,#5fc124,#5dbf24,#5cbf24,#5cbf24,#5cbf24,#5dc024,#5dc024,#5ec024,#5ec024,#5dc024,#5dc024,#5cbf24,#5cbf24,#5cbf24,#5dbf24,#5fc124,#64c324,#6ec724,#84cc24,#c6d71f,#c6d71f,#c6d71f,#c6d71f)"></i><i style="background:linear-gradient(90deg,#c6d71f,#c6d71f,#c6d71f,#c3d620,#80cb24,#6ac624,#63c324,#5ec024,#5cbf24,#5cbf24,#5cbf24,#5dbf24,#5dc024,#5ec024,#5ec024,#5ec024,#5ec024,#5dc024,#5dbf24,#5cbf24,#5cbf24,#5cbf24,#5ec024,#63c324,#6ac624,#80cb24,#c3d620,#c6d71f,#c6d71f,#c6d71f)"></i><i style="background:linear-gradient(90deg,#c6d71f,#c6d71f,#c6d71f,#b8d521,#7cca24,#68c624,#62c224,#5ec024,#5cbf24,#5cbf24,#5cbf24,#5dc024,#5ec024,#5fc124,#5fc124,#5fc124,#5fc124,#5ec024,#5dc024,#5cbf24,#5cbf24,#5cbf24,#5ec024,#62c224,#68c624,#7cca24,#b8d521,#c6d71f,#c6d71f,#c6d71f)"></i><i style="background:linear-gradient(90deg,#c6d71f,#c6d71f,#c6d71f,#acd321,#78c924,#67c524,#61c224,#5dc024,#5cbf24,#5cbf24,#5cbf24,#5dc024,#5fc024,#5fc124,#60c124,#60c124,#5fc124,#5fc024,#5dc024,#5cbf24,#5cbf24,#5cbf24,#5dc024,#61c224,#67c524,#78c924,#acd321,#c6d71f,#c6d71f,#c6d71f)"></i><i style="background:linear-gradient(90deg,#c6d71f,#c6d71f,#c6d71f,#a0d022,#75c824,#66c424,#60c124,#5dbf24,#5cbf24,#5cbf24,#5dbf24,#5ec024,#5fc124,#60c124,#61c224,#61c224,#60c124,#5fc124,#5ec024,#5dbf24,#5cbf24,#5cbf24,#5dbf24,#60c124,#66c424,#75c824,#a0d022,#c6d71f,#c6d71f,#c6d71f)"></i><i style="background:linear-gradient(90deg,#c6d71f,#c6d71f,#c6d71f,#95cf23,#71c824,#64c424,#5fc124,#5cbf24,#5cbf24,#5cbf24,#5dc024,#5fc024,#60c124,#61c224,#62c224,#62c224,#61c224,#60c124,#5fc024,#5dc024,#5cbf24,#5cbf24,#5cbf24,#5fc124,#64c424,#71c824,#95cf23,#c6d71f,#c6d71f,#c6d71f)"></i><i style="background:linear-gradient(90deg,#c6d71f,#c6d71f,#c6d71f,#8acd24,#6ec724,#63c324,#5ec024,#5cbf24,#5cbf24,#5cbf24,#5ec024,#5fc124,#61c224,#62c224,#63c324,#63c324,#62c224,#61c224,#5fc124,#5ec024,#5cbf24,#5cbf24,#5cbf24,#5ec024,#63c324,#6ec724,#8acd24,#c6d71f,#c6d71f,#c6d71f)"></i><i style="background:linear-gradient(90deg,#c6d71f,#c6d71f,#c6d71f,#84cc24,#6bc624,#62c224,#5ec024,#5cbf24,#5cbf24,#5dbf24,#5ec024,#60c124,#62c224,#63c324,#64c324,#64c324,#63c324,#62c224,#60c124,#5ec024,#5dbf24,#5cbf24,#5cbf24,#5ec024,#62c224,#6bc624,#84cc24,#c6d71f,#c6d71f,#c6d71f)"></i><i style="background:linear-gradient(90deg,#c6d71f,#c6d71f,#c6d71f,#80cb24,#69c624,#61c224,#5dc024,#5cbf24,#5cbf24,#5dc024,#5fc124,#61c224,#63c324,#64c324,#65c424,#65c424,#64c324,#63c324,#61c224,#5fc124,#5dc024,#5cbf24,#5cbf24,#5dc024,#61c224,#69c624,#80cb24,#c6d71f,#c6d71f,#c6d71f)"></i><i style="background:linear-gradient(90deg,#c6d71f,#c6d71f,#c1d620,#7dca24,#68c524,#61c224,#5dc024,#5cbf24,#5cbf24,#5dc024,#5fc124,#62c224,#64c324,#65c424,#66c424,#66c424,#65c424,#64c324,#62c224,#5fc124,#5dc024,#5cbf24,#5cbf24,#5dc024,#61c224,#68c524,#7dca24,#c1d620,#c6d71f,#c6d71f)"></i><i style="background:linear-gradient(90deg,#c6d71f,#c6d71f,#b7d521,#79c924,#66c524,#60c124,#5dbf24,#5cbf24,#5cbf24,#5ec024,#60c124,#62c324,#65c424,#66c424,#67c524,#67c524,#66c424,#65c424,#62c324,#60c124,#5ec024,#5cbf24,#5cbf24,#5dbf24,#60c124,#66c524,#79c924,#b7d521,#c6d71f,#c6d71f)"></i><i style="background:linear-gradient(90deg,#c6d71f,#c6d71f,#add321,#76c924,#65c424,#5fc124,#5cbf24,#5cbf24,#5dbf24,#5ec024,#61c224,#63c324,#66c424,#67c524,#68c524,#68c524,#67c524,#66c424,#63c324,#61c224,#5ec024,#5dbf24,#5cbf24,#5cbf24,#5fc124,#65c424,#76c924,#add321,#c6d71f,#c6d71f)"></i><i style="background:linear-gradient(90deg,#c6d71f,#c6d71f,#a3d122,#73c824,#64c424,#5fc124,#5cbf24,#5cbf24,#5dc024,#5fc124,#62c224,#64c324,#67c524,#68c624,#69c624,#69c624,#68c624,#67c524,#64c324,#62c224,#5fc124,#5dc024,#5cbf24,#5cbf24,#5fc124,#64c424,#73c824,#a3d122,#c6d71f,#c6d71f)"></i><i style="background:linear-gradient(90deg,#c6d71f,#c6d71f,#9ad023,#71c824,#64c324,#5ec024,#5cbf24,#5cbf24,#5dc024,#60c124,#62c224,#65c424,#68c524,#6ac624,#6bc724,#6bc724,#6ac624,#68c524,#65c424,#62c224,#60c124,#5dc024,#5cbf24,#5cbf24,#5ec024,#64c324,#71c824,#9ad023,#c6d71f,#c6d71f)"></i><i style="background:linear-gradient(90deg,#c6d71f,#c6d71f,#92ce23,#6ec724,#63c324,#5ec024,#5cbf24,#5cbf24,#5ec024,#60c124,#63c324,#66c424,#69c624,#6cc724,#6ec724,#6ec724,#6cc724,#69c624,#66c424,#63c324,#60c124,#5ec024,#5cbf24,#5cbf24,#5ec024,#63c324,#6ec724,#92ce23,#c6d71f,#c6d71f)"></i><i style="background:linear-gradient(90deg,#c6d71f,#c6d71f,#89cd24,#6cc724,#62c224,#5dc024,#5cbf24,#5cbf24,#5ec024,#61c224,#64c324,#67c524,#6ac624,#6ec724,#70c824,#70c824,#6ec724,#6ac624,#67c524,#64c324,#61c224,#5ec024,#5cbf24,#5cbf24,#5dc024,#62c224,#6cc724,#89cd24,#c6d71f,#c6d71f)"></i><i style="background:linear-gradient(90deg,#c6d71f,#c6d71f,#84cc24,#6ac624,#61c224,#5dc024,#5cbf24,#5cbf24,#5fc024,#62c224,#65c424,#68c524,#6dc724,#71c824,#73c824,#73c824,#71c824,#6dc724,#68c524,#65c424,#62c224,#5fc024,#5cbf24,#5cbf24,#5dc024,#61c224,#6ac624,#84cc24,#c6d71f,#c6d71f)"></i><i style="background:linear-gradient(90deg,#c6d71f,#c6d71f,#81cb24,#68c624,#61c224,#5dbf24,#5cbf24,#5dbf24,#5fc124,#62c224,#66c424,#69c624,#6fc724,#73c824,#75c924,#75c924,#73c824,#6fc724,#69c624,#66c424,#62c224,#5fc124,#5dbf24,#5cbf24,#5dbf24,#61c224,#68c624,#81cb24,#c6d71f,#c6d71f)"></i><i style="background:linear-gradient(90deg,#c6d71f,#c6d71f,#7fcb24,#67c524,#60c124,#5cbf24,#5cbf24,#5dc024,#60c124,#63c324,#67c524,#6bc624,#71c824,#75c924,#78c924,#78c924,#75c924,#71c824,#6bc624,#67c524,#63c324,#60c124,#5dc024,#5cbf24,#5cbf24,#60c124,#67c524,#7fcb24,#c6d71f,#c6d71f)"></i><i style="background:linear-gradient(90deg,#c6d71f,#c5d71f,#7cca24,#67c524,#60c124,#5cbf24,#5cbf24,#5dc024,#60c124,#64c324,#67c524,#6dc724,#73c824,#78c924,#7aca24,#7aca24,#78c924,#73c824,#6dc724,#67c524,#64c324,#60c124,#5dc024,#5cbf24,#5cbf24,#60c124,#67c524,#7cca24,#c5d71f,#c6d71f)"></i><i style="background:linear-gradient(90deg,#c6d71f,#c1d620,#7aca24,#66c424,#5fc124,#5cbf24,#5cbf24,#5ec024,#61c224,#64c424,#68c624,#6fc724,#75c924,#7aca24,#7cca24,#7cca24,#7aca24,#75c924,#6fc724,#68c624,#64c424,#61c224,#5ec024,#5cbf24,#5cbf24,#5fc124,#66c424,#7aca24,#c1d620,#c6d71f)"></i><i style="background:linear-gradient(90deg,#c6d71f,#bad520,#78c924,#65c424,#5fc024,#5cbf24,#5cbf24,#5ec024,#61c224,#65c424,#69c624,#71c824,#78c924,#7cca24,#7fca24,#7fca24,#7cca24,#78c924,#71c824,#69c624,#65c424,#61c224,#5ec024,#5cbf24,#5cbf24,#5fc024,#65c424,#78c924,#bad520,#c6d71f)"></i><i style="background:linear-gradient(90deg,#c6d71f,#b2d421,#76c924,#64c424,#5ec024,#5cbf24,#5cbf24,#5ec024,#62c224,#66c424,#6bc624,#73c824,#7ac924,#7eca24,#81cb24,#81cb24,#7eca24,#7ac924,#73c824,#6bc624,#66c424,#62c224,#5ec024,#5cbf24,#5cbf24,#5ec024,#64c424,#76c924,#b2d421,#c6d71f)"></i><i style="background:linear-gradient(90deg,#c6d71f,#acd221,#74c824,#64c324,#5ec024,#5cbf24,#5cbf24,#5fc024,#62c224,#66c524,#6dc724,#75c824,#7cca24,#81cb24,#83cb24,#83cb24,#81cb24,#7cca24,#75c824,#6dc724,#66c524,#62c224,#5fc024,#5cbf24,#5cbf24,#5ec024,#64c324,#74c824,#acd221,#c6d71f)"></i><i style="background:linear-gradient(90deg,#c6d71f,#a5d122,#72c824,#63c324,#5ec024,#5cbf24,#5cbf24,#5fc124,#63c324,#67c524,#6ec724,#77c924,#7eca24,#83cb24,#85cc24,#85cc24,#83cb24,#7eca24,#77c924,#6ec724,#67c524,#63c324,#5fc124,#5cbf24,#5cbf24,#5ec024,#63c324,#72c824,#a5d122,#c6d71f)"></i><i style="background:linear-gradient(90deg,#c6d71f,#9fd022,#70c724,#63c324,#5dc024,#5cbf24,#5dbf24,#5fc124,#63c324,#68c524,#70c724,#79c924,#80cb24,#85cc24,#8acd24,#8acd24,#85cc24,#80cb24,#79c924,#70c724,#68c524,#63c324,#5fc124,#5dbf24,#5cbf24,#5dc024,#63c324,#70c724,#9fd022,#c6d71f)"></i><i style="background:linear-gradient(90deg,#c6d71f,#9acf23,#6fc724,#62c224,#5dc024,#5cbf24,#5dbf24,#60c124,#64c324,#68c624,#72c824,#7bca24,#82cb24,#88cc24,#8fce23,#8fce23,#88cc24,#82cb24,#7bca24,#72c824,#68c624,#64c324,#60c124,#5dbf24,#5cbf24,#5dc024,#62c224,#6fc724,#9acf23,#c6d71f)"></i><i style="background:linear-gradient(90deg,#c6d71f,#95cf23,#6dc724,#62c224,#5dc024,#5cbf24,#5dc024,#60c124,#64c424,#69c624,#73c824,#7cca24,#84cc24,#8ecd23,#94ce23,#94ce23,#8ecd23,#84cc24,#7cca24,#73c824,#69c624,#64c424,#60c124,#5dc024,#5cbf24,#5dc024,#62c224,#6dc724,#95cf23,#c6d71f)"></i><i style="background:linear-gradient(90deg,#c6d71f,#90ce23,#6cc724,#61c224,#5dbf24,#5cbf24,#5dc024,#60c124,#65c424,#6bc624,#75c824,#7eca24,#86cc24,#92ce23,#99cf23,#99cf23,#92ce23,#86cc24,#7eca24,#75c824,#6bc624,#65c424,#60c124,#5dc024,#5cbf24,#5dbf24,#61c224,#6cc724,#90ce23,#c6d71f)"></i><i style="background:linear-gradient(90deg,#c6d71f,#8bcd24,#6ac624,#61c224,#5dbf24,#5cbf24,#5dc024,#61c224,#65c424,#6cc724,#76c924,#80cb24,#89cd24,#97cf23,#9ed022,#9ed022,#97cf23,#89cd24,#80cb24,#76c924,#6cc724,#65c424,#61c224,#5dc024,#5cbf24,#5dbf24,#61c224,#6ac624,#8bcd24,#c6d71f)"></i><i style="background:linear-gradient(90deg,#c6d71f,#87cc24,#69c624,#61c224,#5cbf24,#5cbf24,#5ec024,#61c224,#66c424,#6dc724,#78c924,#81cb24,#8ecd23,#9bd023,#a3d122,#a3d122,#9bd023,#8ecd23,#81cb24,#78c924,#6dc724,#66c424,#61c224,#5ec024,#5cbf24,#5cbf24,#61c224,#69c624,#87cc24,#c6d71f)"></i><i style="background:linear-gradient(90deg,#c6d71f,#85cc24,#69c624,#60c124,#5cbf24,#5cbf24,#5ec024,#61c224,#66c524,#6ec724,#79c924,#83cb24,#92ce23,#a0d022,#a7d222,#a7d222,#a0d022,#92ce23,#83cb24,#79c924,#6ec724,#66c524,#61c224,#5ec024,#5cbf24,#5cbf24,#60c124,#69c624,#85cc24,#c6d71f)"></i><i style="background:linear-gradient(90deg,#c6d71f,#83cb24,#68c624,#60c124,#5cbf24,#5cbf24,#5ec024,#62c224,#67c524,#6fc724,#7aca24,#84cc24,#95cf23,#a4d122,#abd221,#abd221,#a4d122,#95cf23,#84cc24,#7aca24,#6fc724,#67c524,#62c224,#5ec024,#5cbf24,#5cbf24,#60c124,#68c624,#83cb24,#c6d71f)"></i><i style="background:linear-gradient(90deg,#c6d71f,#82cb24,#68c524,#60c124,#5cbf24,#5cbf24,#5ec024,#62c224,#67c524,#70c824,#7bca24,#85cc24,#99cf23,#a8d222,#afd321,#afd321,#a8d222,#99cf23,#85cc24,#7bca24,#70c824,#67c524,#62c224,#5ec024,#5cbf24,#5cbf24,#60c124,#68c524,#82cb24,#c6d71f)"></i><i style="background:linear-gradient(90deg,#c6d71f,#81cb24,#67c524,#5fc124,#5cbf24,#5cbf24,#5ec024,#62c224,#68c524,#71c824,#7dca24,#88cc24,#9cd022,#abd221,#b3d421,#b3d421,#abd221,#9cd022,#88cc24,#7dca24,#71c824,#68c524,#62c224,#5ec024,#5cbf24,#5cbf24,#5fc124,#67c524,#81cb24,#c6d71f)"></i><i style="background:linear-gradient(90deg,#c6d71f,#80cb24,#67c524,#5fc124,#5cbf24,#5cbf24,#5ec024,#63c324,#68c524,#72c824,#7eca24,#8bcd24,#a0d022,#aed321,#b6d421,#b6d421,#aed321,#a0d022,#8bcd24,#7eca24,#72c824,#68c524,#63c324,#5ec024,#5cbf24,#5cbf24,#5fc124,#67c524,#80cb24,#c6d71f)"></i><i style="background:linear-gradient(90deg,#c6d71f,#7fcb24,#67c524,#5fc124,#5cbf24,#5cbf24,#5fc024,#63c324,#68c624,#73c824,#7fca24,#8dcd23,#a3d122,#b1d321,#b9d520,#b9d520,#b1d321,#a3d122,#8dcd23,#7fca24,#73c824,#68c624,#63c324,#5fc024,#5cbf24,#5cbf24,#5fc124,#67c524,#7fcb24,#c6d71f)"></i><i style="background:linear-gradient(90deg,#c6d71f,#7eca24,#66c524,#5fc124,#5cbf24,#5cbf24,#5fc124,#63c324,#69c624,#74c824,#80cb24,#90ce23,#a5d122,#b4d421,#bcd520,#bcd520,#b4d421,#a5d122,#90ce23,#80cb24,#74c824,#69c624,#63c324,#5fc124,#5cbf24,#5cbf24,#5fc124,#66c524,#7eca24,#c6d71f)"></i><i style="background:linear-gradient(90deg,#c6d71f,#7dca24,#66c424,#5fc124,#5cbf24,#5cbf24,#5fc124,#63c324,#69c624,#75c824,#80cb24,#92ce23,#a8d222,#b7d421,#bfd620,#bfd620,#b7d421,#a8d222,#92ce23,#80cb24,#75c824,#69c624,#63c324,#5fc124,#5cbf24,#5cbf24,#5fc124,#66c424,#7dca24,#c6d71f)"></i><i style="background:linear-gradient(90deg,#c6d71f,#7cca24,#66c424,#5fc024,#5cbf24,#5cbf24,#5fc124,#64c324,#69c624,#75c924,#81cb24,#94ce23,#aad222,#b9d520,#c1d620,#c1d620,#b9d520,#aad222,#94ce23,#81cb24,#75c924,#69c624,#64c324,#5fc124,#5cbf24,#5cbf24,#5fc024,#66c424,#7cca24,#c6d71f)"></i><i style="background:linear-gradient(90deg,#c6d71f,#7cca24,#66c424,#5fc024,#5cbf24,#5cbf24,#5fc124,#64c324,#6ac624,#76c924,#82cb24,#96cf23,#acd321,#bbd520,#c2d620,#c2d620,#bbd520,#acd321,#96cf23,#82cb24,#76c924,#6ac624,#64c324,#5fc124,#5cbf24,#5cbf24,#5fc024,#66c424,#7cca24,#c6d71f)"></i><i style="background:linear-gradient(90deg,#c6d71f,#7bca24,#65c424,#5ec024,#5cbf24,#5cbf24,#5fc124,#64c324,#6ac624,#76c924,#82cb24,#97cf23,#add321,#bdd520,#c3d620,#c3d620,#bdd520,#add321,#97cf23,#82cb24,#76c924,#6ac624,#64c324,#5fc124,#5cbf24,#5cbf24,#5ec024,#65c424,#7bca24,#c6d71f)"></i><i style="background:linear-gradient(90deg,#c6d71f,#7bca24,#65c424,#5ec024,#5cbf24,#5cbf24,#5fc124,#64c324,#6ac624,#77c924,#83cb24,#99cf23,#afd321,#bed620,#c3d720,#c3d720,#bed620,#afd321,#99cf23,#83cb24,#77c924,#6ac624,#64c324,#5fc124,#5cbf24,#5cbf24,#5ec024,#65c424,#7bca24,#c6d71f)"></i><i style="background:linear-gradient(90deg,#c6d71f,#7bca24,#65c424,#5ec024,#5cbf24,#5cbf24,#5fc124,#64c324,#6bc624,#77c924,#83cb24,#9acf23,#b0d321,#bfd620,#c4d720,#c4d720,#bfd620,#b0d321,#9acf23,#83cb24,#77c924,#6bc624,#64c324,#5fc124,#5cbf24,#5cbf24,#5ec024,#65c424,#7bca24,#c6d71f)"></i><i style="background:linear-gradient(90deg,#c6d71f,#7aca24,#65c424,#5ec024,#5cbf24,#5cbf24,#5fc124,#64c324,#6bc624,#77c924,#83cb24,#9ad023,#b0d321,#c0d620,#c5d720,#c5d720,#c0d620,#b0d321,#9ad023,#83cb24,#77c924,#6bc624,#64c324,#5fc124,#5cbf24,#5cbf24,#5ec024,#65c424,#7aca24,#c6d71f)"></i><i style="background:linear-gradient(90deg,#c6d71f,#7aca24,#65c424,#5ec024,#5cbf24,#5cbf24,#60c124,#64c324,#6bc624,#77c924,#83cb24,#9bd023,#b1d321,#c0d620,#c5d720,#c5d720,#c0d620,#b1d321,#9bd023,#83cb24,#77c924,#6bc624,#64c324,#60c124,#5cbf24,#5cbf24,#5ec024,#65c424,#7aca24,#c6d71f)"></i><i style="background:linear-gradient(90deg,#c6d71f,#7aca24,#65c424,#5ec024,#5cbf24,#5cbf24,#60c124,#64c324,#6bc624,#78c924,#84cb24,#9bd023,#b1d321,#c0d620,#c5d71f,#c5d71f,#c0d620,#b1d321,#9bd023,#84cb24,#78c924,#6bc624,#64c324,#60c124,#5cbf24,#5cbf24,#5ec024,#65c424,#7aca24,#c6d71f)"></i><i style="background:linear-gradient(90deg,#c6d71f,#7aca24,#65c424,#5ec024,#5cbf24,#5cbf24,#60c124,#64c324,#6bc624,#77c924,#84cb24,#9bd023,#b1d321,#c0d620,#c5d720,#c5d720,#c0d620,#b1d321,#9bd023,#84cb24,#77c924,#6bc624,#64c324,#60c124,#5cbf24,#5cbf24,#5ec024,#65c424,#7aca24,#c6d71f)"></i><i style="background:linear-gradient(90deg,#c6d71f,#7aca24,#65c424,#5ec024,#5cbf24,#5cbf24,#5fc124,#64c324,#6bc624,#77c924,#83cb24,#9bd023,#b1d321,#c0d620,#c5d720,#c5d720,#c0d620,#b1d321,#9bd023,#83cb24,#77c924,#6bc624,#64c324,#5fc124,#5cbf24,#5cbf24,#5ec024,#65c424,#7aca24,#c6d71f)"></i><i style="background:linear-gradient(90deg,#c6d71f,#7aca24,#65c424,#5ec024,#5cbf24,#5cbf24,#5fc124,#64c324,#6bc624,#77c924,#83cb24,#9acf23,#b0d321,#c0d620,#c4d720,#c4d720,#c0d620,#b0d321,#9acf23,#83cb24,#77c924,#6bc624,#64c324,#5fc124,#5cbf24,#5cbf24,#5ec024,#65c424,#7aca24,#c6d71f)"></i><i style="background:linear-gradient(90deg,#c6d71f,#7bca24,#65c424,#5ec024,#5cbf24,#5cbf24,#5fc124,#64c324,#6bc624,#77c924,#83cb24,#99cf23,#afd321,#bfd620,#c4d720,#c4d720,#bfd620,#afd321,#99cf23,#83cb24,#77c924,#6bc624,#64c324,#5fc124,#5cbf24,#5cbf24,#5ec024,#65c424,#7bca24,#c6d71f)"></i><i style="background:linear-gradient(90deg,#c6d71f,#7bca24,#65c424,#5ec024,#5cbf24,#5cbf24,#5fc124,#64c324,#6ac624,#77c924,#82cb24,#98cf23,#aed321,#bdd620,#c3d620,#c3d620,#bdd620,#aed321,#98cf23,#82cb24,#77c924,#6ac624,#64c324,#5fc124,#5cbf24,#5cbf24,#5ec024,#65c424,#7bca24,#c6d71f)"></i><i style="background:linear-gradient(90deg,#c6d71f,#7cca24,#66c424,#5fc024,#5cbf24,#5cbf24,#5fc124,#64c324,#6ac624,#76c924,#82cb24,#97cf23,#acd321,#bcd520,#c2d620,#c2d620,#bcd520,#acd321,#97cf23,#82cb24,#76c924,#6ac624,#64c324,#5fc124,#5cbf24,#5cbf24,#5fc024,#66c424,#7cca24,#c6d71f)"></i><i style="background:linear-gradient(90deg,#c6d71f,#7cca24,#66c424,#5fc024,#5cbf24,#5cbf24,#5fc124,#64c324,#69c624,#76c924,#81cb24,#95cf23,#abd221,#bad520,#c1d620,#c1d620,#bad520,#abd221,#95cf23,#81cb24,#76c924,#69c624,#64c324,#5fc124,#5cbf24,#5cbf24,#5fc024,#66c424,#7cca24,#c6d71f)"></i><i style="background:linear-gradient(90deg,#c6d71f,#7dca24,#66c424,#5fc124,#5cbf24,#5cbf24,#5fc124,#63c324,#69c624,#75c824,#81cb24,#93ce23,#a9d222,#b8d521,#c0d620,#c0d620,#b8d521,#a9d222,#93ce23,#81cb24,#75c824,#69c624,#63c324,#5fc124,#5cbf24,#5cbf24,#5fc124,#66c424,#7dca24,#c6d71f)"></i><i style="background:linear-gradient(90deg,#c6d71f,#7eca24,#66c524,#5fc124,#5cbf24,#5cbf24,#5fc124,#63c324,#69c624,#74c824,#80cb24,#91ce23,#a6d222,#b5d421,#bdd520,#bdd520,#b5d421,#a6d222,#91ce23,#80cb24,#74c824,#69c624,#63c324,#5fc124,#5cbf24,#5cbf24,#5fc124,#66c524,#7eca24,#c6d71f)"></i><i style="background:linear-gradient(90deg,#c6d71f,#7eca24,#66c524,#5fc124,#5cbf24,#5cbf24,#5fc124,#63c324,#68c624,#74c824,#7fcb24,#8ecd23,#a4d122,#b3d421,#bad520,#bad520,#b3d421,#a4d122,#8ecd23,#7fcb24,#74c824,#68c624,#63c324,#5fc124,#5cbf24,#5cbf24,#5fc124,#66c524,#7eca24,#c6d71f)"></i><i style="background:linear-gradient(90deg,#c6d71f,#7fcb24,#67c524,#5fc124,#5cbf24,#5cbf24,#5fc024,#63c324,#68c524,#73c824,#7eca24,#8ccd24,#a1d122,#b0d321,#b7d521,#b7d521,#b0d321,#a1d122,#8ccd24,#7eca24,#73c824,#68c524,#63c324,#5fc024,#5cbf24,#5cbf24,#5fc124,#67c524,#7fcb24,#c6d71f)"></i><i style="background:linear-gradient(90deg,#c6d71f,#80cb24,#67c524,#5fc124,#5cbf24,#5cbf24,#5ec024,#63c324,#68c524,#72c824,#7dca24,#89cd24,#9ed022,#acd321,#b4d421,#b4d421,#acd321,#9ed022,#89cd24,#7dca24,#72c824,#68c524,#63c324,#5ec024,#5cbf24,#5cbf24,#5fc124,#67c524,#80cb24,#c6d71f)"></i><i style="background:linear-gradient(90deg,#c6d71f,#82cb24,#68c524,#60c124,#5cbf24,#5cbf24,#5ec024,#62c224,#67c524,#71c824,#7cca24,#86cc24,#9ad023,#a9d222,#b1d321,#b1d321,#a9d222,#9ad023,#86cc24,#7cca24,#71c824,#67c524,#62c224,#5ec024,#5cbf24,#5cbf24,#60c124,#68c524,#82cb24,#c6d71f)"></i><i style="background:linear-gradient(90deg,#c6d71f,#83cb24,#68c524,#60c124,#5cbf24,#5cbf24,#5ec024,#62c224,#67c524,#70c724,#7bca24,#85cc24,#97cf23,#a5d122,#add321,#add321,#a5d122,#97cf23,#85cc24,#7bca24,#70c724,#67c524,#62c224,#5ec024,#5cbf24,#5cbf24,#60c124,#68c524,#83cb24,#c6d71f)"></i><i style="background:linear-gradient(90deg,#c6d71f,#84cc24,#68c624,#60c124,#5cbf24,#5cbf24,#5ec024,#62c224,#66c524,#6fc724,#7ac924,#83cb24,#93ce23,#a1d122,#a9d222,#a9d222,#a1d122,#93ce23,#83cb24,#7ac924,#6fc724,#66c524,#62c224,#5ec024,#5cbf24,#5cbf24,#60c124,#68c624,#84cc24,#c6d71f)"></i><i style="background:linear-gradient(90deg,#c6d71f,#86cc24,#69c624,#60c124,#5cbf24,#5cbf24,#5ec024,#61c224,#66c424,#6ec724,#78c924,#82cb24,#8fce23,#9dd022,#a4d122,#a4d122,#9dd022,#8fce23,#82cb24,#78c924,#6ec724,#66c424,#61c224,#5ec024,#5cbf24,#5cbf24,#60c124,#69c624,#86cc24,#c6d71f)"></i><i style="background:linear-gradient(90deg,#c6d71f,#89cd24,#6ac624,#61c224,#5cbf24,#5cbf24,#5dc024,#61c224,#66c424,#6cc724,#77c924,#80cb24,#8bcd24,#99cf23,#a0d022,#a0d022,#99cf23,#8bcd24,#80cb24,#77c924,#6cc724,#66c424,#61c224,#5dc024,#5cbf24,#5cbf24,#61c224,#6ac624,#89cd24,#c6d71f)"></i><i style="background:linear-gradient(90deg,#c6d71f,#8ecd23,#6bc624,#61c224,#5dbf24,#5cbf24,#5dc024,#61c124,#65c424,#6bc624,#75c924,#7fca24,#87cc24,#94ce23,#9bd023,#9bd023,#94ce23,#87cc24,#7fca24,#75c924,#6bc624,#65c424,#61c124,#5dc024,#5cbf24,#5dbf24,#61c224,#6bc624,#8ecd23,#c6d71f)"></i><i style="background:linear-gradient(90deg,#c6d71f,#93ce23,#6dc724,#62c224,#5dc024,#5cbf24,#5dc024,#60c124,#65c424,#6ac624,#74c824,#7dca24,#84cc24,#8fce23,#96cf23,#96cf23,#8fce23,#84cc24,#7dca24,#74c824,#6ac624,#65c424,#60c124,#5dc024,#5cbf24,#5dc024,#62c224,#6dc724,#93ce23,#c6d71f)"></i><i style="background:linear-gradient(90deg,#c6d71f,#98cf23,#6ec724,#62c224,#5dc024,#5cbf24,#5dbf24,#60c124,#64c324,#69c624,#72c824,#7bca24,#83cb24,#8bcd24,#91ce23,#91ce23,#8bcd24,#83cb24,#7bca24,#72c824,#69c624,#64c324,#60c124,#5dbf24,#5cbf24,#5dc024,#62c224,#6ec724,#98cf23,#c6d71f)"></i><i style="background:linear-gradient(90deg,#c6d71f,#9dd022,#70c724,#62c324,#5dc024,#5cbf24,#5dbf24,#5fc124,#63c324,#68c624,#71c824,#79c924,#81cb24,#86cc24,#8ccd24,#8ccd24,#86cc24,#81cb24,#79c924,#71c824,#68c624,#63c324,#5fc124,#5dbf24,#5cbf24,#5dc024,#62c324,#70c724,#9dd022,#c6d71f)"></i><i style="background:linear-gradient(90deg,#c6d71f,#a3d122,#71c824,#63c324,#5ec024,#5cbf24,#5cbf24,#5fc124,#63c324,#67c524,#6fc724,#78c924,#7fca24,#84cc24,#87cc24,#87cc24,#84cc24,#7fca24,#78c924,#6fc724,#67c524,#63c324,#5fc124,#5cbf24,#5cbf24,#5ec024,#63c324,#71c824,#a3d122,#c6d71f)"></i><i style="background:linear-gradient(90deg,#c6d71f,#a9d222,#73c824,#64c324,#5ec024,#5cbf24,#5cbf24,#5fc124,#62c224,#67c524,#6dc724,#76c924,#7dca24,#82cb24,#84cc24,#84cc24,#82cb24,#7dca24,#76c924,#6dc724,#67c524,#62c224,#5fc124,#5cbf24,#5cbf24,#5ec024,#64c324,#73c824,#a9d222,#c6d71f)"></i><i style="background:linear-gradient(90deg,#c6d71f,#b0d321,#75c824,#64c324,#5ec024,#5cbf24,#5cbf24,#5ec024,#62c224,#66c424,#6cc724,#74c824,#7bca24,#7fcb24,#82cb24,#82cb24,#7fcb24,#7bca24,#74c824,#6cc724,#66c424,#62c224,#5ec024,#5cbf24,#5cbf24,#5ec024,#64c324,#75c824,#b0d321,#c6d71f)"></i><i style="background:linear-gradient(90deg,#c6d71f,#b7d421,#77c924,#65c424,#5fc024,#5cbf24,#5cbf24,#5ec024,#61c224,#65c424,#6ac624,#72c824,#78c924,#7dca24,#80cb24,#80cb24,#7dca24,#78c924,#72c824,#6ac624,#65c424,#61c224,#5ec024,#5cbf24,#5cbf24,#5fc024,#65c424,#77c924,#b7d421,#c6d71f)"></i><i style="background:linear-gradient(90deg,#c6d71f,#bed620,#79c924,#66c424,#5fc124,#5cbf24,#5cbf24,#5ec024,#61c224,#65c424,#69c624,#70c724,#76c924,#7bca24,#7dca24,#7dca24,#7bca24,#76c924,#70c724,#69c624,#65c424,#61c224,#5ec024,#5cbf24,#5cbf24,#5fc124,#66c424,#79c924,#bed620,#c6d71f)"></i><i style="background:linear-gradient(90deg,#c6d71f,#c3d720,#7bca24,#66c524,#5fc124,#5cbf24,#5cbf24,#5dc024,#60c124,#64c324,#68c524,#6ec724,#74c824,#79c924,#7bca24,#7bca24,#79c924,#74c824,#6ec724,#68c524,#64c324,#60c124,#5dc024,#5cbf24,#5cbf24,#5fc124,#66c524,#7bca24,#c3d720,#c6d71f)"></i><i style="background:linear-gradient(90deg,#c6d71f,#c6d71f,#7eca24,#67c524,#60c124,#5cbf24,#5cbf24,#5dc024,#60c124,#63c324,#67c524,#6cc724,#72c824,#76c924,#79c924,#79c924,#76c924,#72c824,#6cc724,#67c524,#63c324,#60c124,#5dc024,#5cbf24,#5cbf24,#60c124,#67c524,#7eca24,#c6d71f,#c6d71f)"></i><i style="background:linear-gradient(90deg,#c6d71f,#c6d71f,#80cb24,#68c524,#60c124,#5dbf24,#5cbf24,#5dbf24,#5fc124,#63c324,#66c424,#6ac624,#70c724,#74c824,#76c924,#76c924,#74c824,#70c724,#6ac624,#66c424,#63c324,#5fc124,#5dbf24,#5cbf24,#5dbf24,#60c124,#68c524,#80cb24,#c6d71f,#c6d71f)"></i><i style="background:linear-gradient(90deg,#c6d71f,#c6d71f,#83cb24,#69c624,#61c224,#5dc024,#5cbf24,#5cbf24,#5fc124,#62c224,#65c424,#68c624,#6dc724,#72c824,#74c824,#74c824,#72c824,#6dc724,#68c624,#65c424,#62c224,#5fc124,#5cbf24,#5cbf24,#5dc024,#61c224,#69c624,#83cb24,#c6d71f,#c6d71f)"></i><i style="background:linear-gradient(90deg,#c6d71f,#c6d71f,#86cc24,#6bc624,#62c224,#5dc024,#5cbf24,#5cbf24,#5ec024,#61c224,#64c424,#67c524,#6bc624,#6fc724,#71c824,#71c824,#6fc724,#6bc624,#67c524,#64c424,#61c224,#5ec024,#5cbf24,#5cbf24,#5dc024,#62c224,#6bc624,#86cc24,#c6d71f,#c6d71f)"></i><i style="background:linear-gradient(90deg,#c6d71f,#c6d71f,#8ecd23,#6dc724,#62c224,#5ec024,#5cbf24,#5cbf24,#5ec024,#61c124,#64c324,#67c524,#69c624,#6dc724,#6fc724,#6fc724,#6dc724,#69c624,#67c524,#64c324,#61c124,#5ec024,#5cbf24,#5cbf24,#5ec024,#62c224,#6dc724,#8ecd23,#c6d71f,#c6d71f)"></i><i style="background:linear-gradient(90deg,#c6d71f,#c6d71f,#97cf23,#70c724,#63c324,#5ec024,#5cbf24,#5cbf24,#5dc024,#60c124,#63c324,#66c424,#68c524,#6bc624,#6cc724,#6cc724,#6bc624,#68c524,#66c424,#63c324,#60c124,#5dc024,#5cbf24,#5cbf24,#5ec024,#63c324,#70c724,#97cf23,#c6d71f,#c6d71f)"></i><i style="background:linear-gradient(90deg,#c6d71f,#c6d71f,#a0d022,#72c824,#64c324,#5ec024,#5cbf24,#5cbf24,#5dc024,#5fc124,#62c224,#65c424,#67c524,#69c624,#6ac624,#6ac624,#69c624,#67c524,#65c424,#62c224,#5fc124,#5dc024,#5cbf24,#5cbf24,#5ec024,#64c324,#72c824,#a0d022,#c6d71f,#c6d71f)"></i><i style="background:linear-gradient(90deg,#c6d71f,#c6d71f,#a9d222,#75c924,#65c424,#5fc124,#5cbf24,#5cbf24,#5dbf24,#5fc124,#61c224,#64c324,#66c424,#68c524,#68c624,#68c624,#68c524,#66c424,#64c324,#61c224,#5fc124,#5dbf24,#5cbf24,#5cbf24,#5fc124,#65c424,#75c924,#a9d222,#c6d71f,#c6d71f)"></i><i style="background:linear-gradient(90deg,#c6d71f,#c6d71f,#b3d421,#78c924,#66c424,#60c124,#5cbf24,#5cbf24,#5cbf24,#5ec024,#60c124,#63c324,#65c424,#66c524,#67c524,#67c524,#66c524,#65c424,#63c324,#60c124,#5ec024,#5cbf24,#5cbf24,#5cbf24,#60c124,#66c424,#78c924,#b3d421,#c6d71f,#c6d71f)"></i><i style="background:linear-gradient(90deg,#c6d71f,#c6d71f,#bed620,#7bca24,#67c524,#60c124,#5dbf24,#5cbf24,#5cbf24,#5ec024,#60c124,#62c224,#64c324,#65c424,#66c424,#66c424,#65c424,#64c324,#62c224,#60c124,#5ec024,#5cbf24,#5cbf24,#5dbf24,#60c124,#67c524,#7bca24,#bed620,#c6d71f,#c6d71f)"></i><i style="background:linear-gradient(90deg,#c6d71f,#c6d71f,#c5d71f,#7fca24,#68c624,#61c224,#5dc024,#5cbf24,#5cbf24,#5dc024,#5fc124,#61c224,#63c324,#64c424,#65c424,#65c424,#64c424,#63c324,#61c224,#5fc124,#5dc024,#5cbf24,#5cbf24,#5dc024,#61c224,#68c624,#7fca24,#c5d71f,#c6d71f,#c6d71f)"></i><i style="background:linear-gradient(90deg,#c6d71f,#c6d71f,#c6d71f,#82cb24,#6ac624,#62c224,#5ec024,#5cbf24,#5cbf24,#5dbf24,#5ec024,#60c124,#62c224,#63c324,#64c324,#64c324,#63c324,#62c224,#60c124,#5ec024,#5dbf24,#5cbf24,#5cbf24,#5ec024,#62c224,#6ac624,#82cb24,#c6d71f,#c6d71f,#c6d71f)"></i><i style="background:linear-gradient(90deg,#c6d71f,#c6d71f,#c6d71f,#86cc24,#6dc724,#63c324,#5ec024,#5cbf24,#5cbf24,#5cbf24,#5ec024,#60c124,#61c224,#62c224,#63c324,#63c324,#62c224,#61c224,#60c124,#5ec024,#5cbf24,#5cbf24,#5cbf24,#5ec024,#63c324,#6dc724,#86cc24,#c6d71f,#c6d71f,#c6d71f)"></i><i style="background:linear-gradient(90deg,#c6d71f,#c6d71f,#c6d71f,#90ce23,#70c724,#64c324,#5fc124,#5cbf24,#5cbf24,#5cbf24,#5dc024,#5fc124,#60c124,#61c224,#62c224,#62c224,#61c224,#60c124,#5fc124,#5dc024,#5cbf24,#5cbf24,#5cbf24,#5fc124,#64c324,#70c724,#90ce23,#c6d71f,#c6d71f,#c6d71f)"></i><i style="background:linear-gradient(90deg,#c6d71f,#c6d71f,#c6d71f,#9bd023,#73c824,#65c424,#60c124,#5dbf24,#5cbf24,#5cbf24,#5dc024,#5ec024,#60c124,#61c224,#61c224,#61c224,#61c224,#60c124,#5ec024,#5dc024,#5cbf24,#5cbf24,#5dbf24,#60c124,#65c424,#73c824,#9bd023,#c6d71f,#c6d71f,#c6d71f)"></i><i style="background:linear-gradient(90deg,#c6d71f,#c6d71f,#c6d71f,#a7d222,#77c924,#66c524,#60c124,#5dc024,#5cbf24,#5cbf24,#5cbf24,#5ec024,#5fc124,#60c124,#60c124,#60c124,#60c124,#5fc124,#5ec024,#5cbf24,#5cbf24,#5cbf24,#5dc024,#60c124,#66c524,#77c924,#a7d222,#c6d71f,#c6d71f,#c6d71f)"></i><i style="background:linear-gradient(90deg,#c6d71f,#c6d71f,#c6d71f,#b3d421,#7aca24,#68c524,#61c224,#5ec024,#5cbf24,#5cbf24,#5cbf24,#5dc024,#5ec024,#5fc124,#5fc124,#5fc124,#5fc124,#5ec024,#5dc024,#5cbf24,#5cbf24,#5cbf24,#5ec024,#61c224,#68c524,#7aca24,#b3d421,#c6d71f,#c6d71f,#c6d71f)"></i><i style="background:linear-gradient(90deg,#c6d71f,#c6d71f,#c6d71f,#c0d620,#7eca24,#69c624,#62c224,#5ec024,#5cbf24,#5cbf24,#5cbf24,#5dbf24,#5ec024,#5ec024,#5fc124,#5fc124,#5ec024,#5ec024,#5dbf24,#5cbf24,#5cbf24,#5cbf24,#5ec024,#62c224,#69c624,#7eca24,#c0d620,#c6d71f,#c6d71f,#c6d71f)"></i><i style="background:linear-gradient(90deg,#c6d71f,#c6d71f,#c6d71f,#c6d71f,#83cb24,#6cc724,#63c324,#5fc124,#5dbf24,#5cbf24,#5cbf24,#5cbf24,#5dc024,#5ec024,#5ec024,#5ec024,#5ec024,#5dc024,#5cbf24,#5cbf24,#5cbf24,#5dbf24,#5fc124,#63c324,#6cc724,#83cb24,#c6d71f,#c6d71f,#c6d71f,#c6d71f)"></i><i style="background:linear-gradient(90deg,#c6d71f,#c6d71f,#c6d71f,#c6d71f,#89cd24,#70c724,#65c424,#60c124,#5dc024,#5cbf24,#5cbf24,#5cbf24,#5dbf24,#5dc024,#5dc024,#5dc024,#5dc024,#5dbf24,#5cbf24,#5cbf24,#5cbf24,#5dc024,#60c124,#65c424,#70c724,#89cd24,#c6d71f,#c6d71f,#c6d71f,#c6d71f)"></i><i style="background:linear-gradient(90deg,#c6d71f,#c6d71f,#c6d71f,#c6d71f,#95cf23,#73c824,#66c424,#61c224,#5ec024,#5cbf24,#5cbf24,#5cbf24,#5cbf24,#5dbf24,#5dc024,#5dc024,#5dbf24,#5cbf24,#5cbf24,#5cbf24,#5cbf24,#5ec024,#61c224,#66c424,#73c824,#95cf23,#c6d71f,#c6d71f,#c6d71f,#c6d71f)"></i><i style="background:linear-gradient(90deg,#c6d71f,#c6d71f,#c6d71f,#c6d71f,#a2d122,#77c924,#67c524,#62c224,#5ec024,#5cbf24,#5cbf24,#5cbf24,#5cbf24,#5cbf24,#5cbf24,#5cbf24,#5cbf24,#5cbf24,#5cbf24,#5cbf24,#5cbf24,#5ec024,#62c224,#67c524,#77c924,#a2d122,#c6d71f,#c6d71f,#c6d71f,#c6d71f)"></i><i style="background:linear-gradient(90deg,#c6d71f,#c6d71f,#c6d71f,#c6d71f,#b0d321,#7cca24,#69c624,#63c324,#5fc124,#5dc024,#5cbf24,#5cbf24,#5cbf24,#5cbf24,#5cbf24,#5cbf24,#5cbf24,#5cbf24,#5cbf24,#5cbf24,#5dc024,#5fc124,#63c324,#69c624,#7cca24,#b0d321,#c6d71f,#c6d71f,#c6d71f,#c6d71f)"></i><i style="background:linear-gradient(90deg,#c6d71f,#c6d71f,#c6d71f,#c6d71f,#bfd620,#80cb24,#6cc724,#64c324,#60c124,#5dc024,#5cbf24,#5cbf24,#5cbf24,#5cbf24,#5cbf24,#5cbf24,#5cbf24,#5cbf24,#5cbf24,#5cbf24,#5dc024,#60c124,#64c324,#6cc724,#80cb24,#bfd620,#c6d71f,#c6d71f,#c6d71f,#c6d71f)"></i><i style="background:linear-gradient(90deg,#c6d71f,#c6d71f,#c6d71f,#c6d71f,#c6d71f,#85cc24,#70c824,#66c424,#61c224,#5ec024,#5dbf24,#5cbf24,#5cbf24,#5cbf24,#5cbf24,#5cbf24,#5cbf24,#5cbf24,#5cbf24,#5dbf24,#5ec024,#61c224,#66c424,#70c824,#85cc24,#c6d71f,#c6d71f,#c6d71f,#c6d71f,#c6d71f)"></i><i style="background:linear-gradient(90deg,#c6d71f,#c6d71f,#c6d71f,#c6d71f,#c6d71f,#92ce23,#74c824,#67c524,#62c224,#5fc124,#5dc024,#5cbf24,#5cbf24,#5cbf24,#5cbf24,#5cbf24,#5cbf24,#5cbf24,#5cbf24,#5dc024,#5fc124,#62c224,#67c524,#74c824,#92ce23,#c6d71f,#c6d71f,#c6d71f,#c6d71f,#c6d71f)"></i><i style="background:linear-gradient(90deg,#c6d71f,#c6d71f,#c6d71f,#c6d71f,#c6d71f,#a0d022,#79c924,#69c624,#63c324,#60c124,#5ec024,#5dbf24,#5cbf24,#5cbf24,#5cbf24,#5cbf24,#5cbf24,#5cbf24,#5dbf24,#5ec024,#60c124,#63c324,#69c624,#79c924,#a0d022,#c6d71f,#c6d71f,#c6d71f,#c6d71f,#c6d71f)"></i><i style="background:linear-gradient(90deg,#c6d71f,#c6d71f,#c6d71f,#c6d71f,#c6d71f,#afd321,#7eca24,#6cc724,#65c424,#61c224,#5ec024,#5dc024,#5cbf24,#5cbf24,#5cbf24,#5cbf24,#5cbf24,#5cbf24,#5dc024,#5ec024,#61c224,#65c424,#6cc724,#7eca24,#afd321,#c6d71f,#c6d71f,#c6d71f,#c6d71f,#c6d71f)"></i><i style="background:linear-gradient(90deg,#c6d71f,#c6d71f,#c6d71f,#c6d71f,#c6d71f,#bfd620,#83cb24,#71c824,#66c524,#62c224,#5fc124,#5ec024,#5dc024,#5cbf24,#5cbf24,#5cbf24,#5cbf24,#5dc024,#5ec024,#5fc124,#62c224,#66c524,#71c824,#83cb24,#bfd620,#c6d71f,#c6d71f,#c6d71f,#c6d71f,#c6d71f)"></i><i style="background:linear-gradient(90deg,#c6d71f,#c6d71f,#c6d71f,#c6d71f,#c6d71f,#c6d71f,#8ccd24,#75c824,#68c624,#64c324,#60c124,#5fc024,#5dc024,#5dc024,#5dbf24,#5dbf24,#5dc024,#5dc024,#5fc024,#60c124,#64c324,#68c624,#75c824,#8ccd24,#c6d71f,#c6d71f,#c6d71f,#c6d71f,#c6d71f,#c6d71f)"></i><i style="background:linear-gradient(90deg,#c6d71f,#c6d71f,#c6d71f,#c6d71f,#c6d71f,#c6d71f,#9cd023,#7aca24,#6bc624,#65c424,#62c224,#60c124,#5ec024,#5ec024,#5dc024,#5dc024,#5ec024,#5ec024,#60c124,#62c224,#65c424,#6bc624,#7aca24,#9cd023,#c6d71f,#c6d71f,#c6d71f,#c6d71f,#c6d71f,#c6d71f)"></i><i style="background:linear-gradient(90deg,#c6d71f,#c6d71f,#c6d71f,#c6d71f,#c6d71f,#c6d71f,#acd221,#7fcb24,#6fc724,#67c524,#63c324,#61c224,#5fc124,#5ec024,#5ec024,#5ec024,#5ec024,#5fc124,#61c224,#63c324,#67c524,#6fc724,#7fcb24,#acd221,#c6d71f,#c6d71f,#c6d71f,#c6d71f,#c6d71f,#c6d71f)"></i><i style="background:linear-gradient(90deg,#c6d71f,#c6d71f,#c6d71f,#c6d71f,#c6d71f,#c6d71f,#bdd520,#85cc24,#74c824,#69c624,#65c424,#62c224,#60c124,#5fc124,#5fc124,#5fc124,#5fc124,#60c124,#62c224,#65c424,#69c624,#74c824,#85cc24,#bdd520,#c6d71f,#c6d71f,#c6d71f,#c6d71f,#c6d71f,#c6d71f)"></i><i style="background:linear-gradient(90deg,#c6d71f,#c6d71f,#c6d71f,#c6d71f,#c6d71f,#c6d71f,#c6d71f,#92ce23,#79c924,#6dc724,#66c524,#63c324,#62c224,#60c124,#60c124,#60c124,#60c124,#62c224,#63c324,#66c524,#6dc724,#79c924,#92ce23,#c6d71f,#c6d71f,#c6d71f,#c6d71f,#c6d71f,#c6d71f,#c6d71f)"></i><i style="background:linear-gradient(90deg,#c6d71f,#c6d71f,#c6d71f,#c6d71f,#c6d71f,#c6d71f,#c6d71f,#a3d122,#7fca24,#71c824,#68c624,#65c424,#63c324,#62c224,#61c224,#61c224,#62c224,#63c324,#65c424,#68c624,#71c824,#7fca24,#a3d122,#c6d71f,#c6d71f,#c6d71f,#c6d71f,#c6d71f,#c6d71f,#c6d71f)"></i><i style="background:linear-gradient(90deg,#c6d71f,#c6d71f,#c6d71f,#c6d71f,#c6d71f,#c6d71f,#c6d71f,#b4d421,#85cc24,#76c924,#6cc724,#67c524,#65c424,#63c324,#63c324,#63c324,#63c324,#65c424,#67c524,#6cc724,#76c924,#85cc24,#b4d421,#c6d71f,#c6d71f,#c6d71f,#c6d71f,#c6d71f,#c6d71f,#c6d71f)"></i><i style="background:linear-gradient(90deg,#c6d71f,#c6d71f,#c6d71f,#c6d71f,#c6d71f,#c6d71f,#c6d71f,#c4d720,#93ce23,#7cca24,#71c824,#69c624,#66c524,#65c424,#64c324,#64c324,#65c424,#66c524,#69c624,#71c824,#7cca24,#93ce23,#c4d720,#c6d71f,#c6d71f,#c6d71f,#c6d71f,#c6d71f,#c6d71f,#c6d71f)"></i><i style="background:linear-gradient(90deg,#c6d71f,#c6d71f,#c6d71f,#c6d71f,#c6d71f,#c6d71f,#c6d71f,#c6d71f,#a4d122,#82cb24,#76c924,#6dc724,#68c624,#67c524,#66c424,#66c424,#67c524,#68c624,#6dc724,#76c924,#82cb24,#a4d122,#c6d71f,#c6d71f,#c6d71f,#c6d71f,#c6d71f,#c6d71f,#c6d71f,#c6d71f)"></i><i style="background:linear-gradient(90deg,#c6d71f,#c6d71f,#c6d71f,#c6d71f,#c6d71f,#c6d71f,#c6d71f,#c6d71f,#b6d421,#8bcd24,#7bca24,#72c824,#6cc724,#69c624,#68c524,#68c524,#69c624,#6cc724,#72c824,#7bca24,#8bcd24,#b6d421,#c6d71f,#c6d71f,#c6d71f,#c6d71f,#c6d71f,#c6d71f,#c6d71f,#c6d71f)"></i><i style="background:linear-gradient(90deg,#c6d71f,#c6d71f,#c6d71f,#c6d71f,#c6d71f,#c6d71f,#c6d71f,#c6d71f,#c6d71f,#9cd022,#82cb24,#78c924,#71c824,#6dc724,#6bc624,#6bc624,#6dc724,#71c824,#78c924,#82cb24,#9cd022,#c6d71f,#c6d71f,#c6d71f,#c6d71f,#c6d71f,#c6d71f,#c6d71f,#c6d71f,#c6d71f)"></i><i style="background:linear-gradient(90deg,#c6d71f,#c6d71f,#c6d71f,#c6d71f,#c6d71f,#c6d71f,#c6d71f,#c6d71f,#c6d71f,#afd321,#8bcd24,#7eca24,#77c924,#73c824,#70c824,#70c824,#73c824,#77c924,#7eca24,#8bcd24,#afd321,#c6d71f,#c6d71f,#c6d71f,#c6d71f,#c6d71f,#c6d71f,#c6d71f,#c6d71f,#c6d71f)"></i><i style="background:linear-gradient(90deg,#c6d71f,#c6d71f,#c6d71f,#c6d71f,#c6d71f,#c6d71f,#c6d71f,#c6d71f,#c6d71f,#c2d620,#9dd022,#84cc24,#7dca24,#78c924,#76c924,#76c924,#78c924,#7dca24,#84cc24,#9dd022,#c2d620,#c6d71f,#c6d71f,#c6d71f,#c6d71f,#c6d71f,#c6d71f,#c6d71f,#c6d71f,#c6d71f)"></i><i style="background:linear-gradient(90deg,#c6d71f,#c6d71f,#c6d71f,#c6d71f,#c6d71f,#c6d71f,#c6d71f,#c6d71f,#c6d71f,#c6d71f,#b1d321,#93ce23,#83cb24,#7eca24,#7cca24,#7cca24,#7eca24,#83cb24,#93ce23,#b1d321,#c6d71f,#c6d71f,#c6d71f,#c6d71f,#c6d71f,#c6d71f,#c6d71f,#c6d71f,#c6d71f,#c6d71f)"></i><i style="background:linear-gradient(90deg,#c6d71f,#c6d71f,#c6d71f,#c6d71f,#c6d71f,#c6d71f,#c6d71f,#c6d71f,#c6d71f,#c6d71f,#c3d620,#a6d222,#91ce23,#85cc24,#82cb24,#82cb24,#85cc24,#91ce23,#a6d222,#c3d620,#c6d71f,#c6d71f,#c6d71f,#c6d71f,#c6d71f,#c6d71f,#c6d71f,#c6d71f,#c6d71f,#c6d71f)"></i><i style="background:linear-gradient(90deg,#c6d71f,#c6d71f,#c6d71f,#c6d71f,#c6d71f,#c6d71f,#c6d71f,#c6d71f,#c6d71f,#c6d71f,#c6d71f,#bbd520,#a4d122,#96cf23,#8fce23,#8fce23,#96cf23,#a4d122,#bbd520,#c6d71f,#c6d71f,#c6d71f,#c6d71f,#c6d71f,#c6d71f,#c6d71f,#c6d71f,#c6d71f,#c6d71f,#c6d71f)"></i><i style="background:linear-gradient(90deg,#c6d71f,#c6d71f,#c6d71f,#c6d71f,#c6d71f,#c6d71f,#c6d71f,#c6d71f,#c6d71f,#c6d71f,#c6d71f,#c6d71f,#b9d521,#a9d222,#a2d122,#a2d122,#a9d222,#b9d521,#c6d71f,#c6d71f,#c6d71f,#c6d71f,#c6d71f,#c6d71f,#c6d71f,#c6d71f,#c6d71f,#c6d71f,#c6d71f,#c6d71f)"></i><i style="background:linear-gradient(90deg,#c6d71f,#c6d71f,#c6d71f,#c6d71f,#c6d71f,#c6d71f,#c6d71f,#c6d71f,#c6d71f,#c6d71f,#c6d71f,#c6d71f,#c6d71f,#bfd620,#b7d421,#b7d421,#bfd620,#c6d71f,#c6d71f,#c6d71f,#c6d71f,#c6d71f,#c6d71f,#c6d71f,#c6d71f,#c6d71f,#c6d71f,#c6d71f,#c6d71f,#c6d71f)"></i><i style="background:linear-gradient(90deg,#c6d71f,#c6d71f,#c6d71f,#c6d71f,#c6d71f,#c6d71f,#c6d71f,#c6d71f,#c6d71f,#c6d71f,#c6d71f,#c6d71f,#c6d71f,#c6d71f,#c6d71f,#c6d71f,#c6d71f,#c6d71f,#c6d71f,#c6d71f,#c6d71f,#c6d71f,#c6d71f,#c6d71f,#c6d71f,#c6d71f,#c6d71f,#c6d71f,#c6d71f,#c6d71f)"></i></div>
<div class="map" style="left:607.10px;top:219.70px;width:150.40px;height:149.20px"><i style="background:linear-gradient(90deg,#6bc624,#6ac624,#6ac624,#6bc624,#6ac624,#6ac624,#69c624,#68c524,#66c424,#64c324,#60c124,#5cbf24,#58bd25,#53bc27,#51bb28,#4fba29,#50bb28,#53bc27,#58bd25,#5dc024,#63c324,#68c524,#70c824,#78c924,#7fcb24,#84cc24,#8ccd24,#94ce23,#9acf23,#9ed022)"></i><i style="background:linear-gradient(90deg,#6bc624,#6ac624,#6ac624,#6ac624,#6ac624,#6ac624,#69c624,#68c524,#66c524,#64c324,#60c124,#5cbf24,#58bd25,#55bc26,#52bb28,#50bb28,#51bb28,#54bc27,#58bd25,#5ec024,#63c324,#68c624,#71c824,#79c924,#80cb24,#85cc24,#8dcd23,#95cf23,#9ad023,#9ed022)"></i><i style="background:linear-gradient(90deg,#6bc624,#6ac624,#6ac624,#6ac624,#6bc624,#6ac624,#69c624,#68c624,#67c524,#64c324,#61c224,#5dbf24,#59be24,#56bd26,#53bc27,#51bb28,#52bb28,#54bc27,#59be25,#5ec024,#64c324,#69c624,#72c824,#7aca24,#81cb24,#86cc24,#8fce23,#96cf23,#9bd023,#9fd022)"></i><i style="background:linear-gradient(90deg,#6bc624,#6ac624,#6ac624,#6ac624,#6bc624,#6ac624,#69c624,#68c624,#67c524,#64c324,#61c224,#5ec024,#5bbe24,#57bd25,#54bc27,#53bc27,#53bc27,#55bc26,#59be24,#5ec024,#64c324,#6ac624,#73c824,#7bca24,#81cb24,#87cc24,#90ce23,#97cf23,#9cd022,#a0d022)"></i><i style="background:linear-gradient(90deg,#6bc624,#6ac624,#6ac624,#6ac624,#6bc624,#6ac624,#6ac624,#68c624,#67c524,#64c424,#62c224,#5fc124,#5cbf24,#58bd25,#55bc26,#54bc27,#54bc27,#56bd26,#5abe24,#5fc124,#64c424,#6ac624,#74c824,#7cca24,#82cb24,#88cc24,#91ce23,#98cf23,#9dd022,#a0d122)"></i><i style="background:linear-gradient(90deg,#6bc624,#6ac624,#6ac624,#6ac624,#6bc624,#6ac624,#6ac624,#69c624,#67c524,#65c424,#62c224,#60c124,#5dbf24,#5abe24,#57bd25,#55bc26,#55bc26,#56bd26,#5abe24,#5fc124,#65c424,#6bc624,#75c824,#7dca24,#83cb24,#8acd24,#93ce23,#99cf23,#9ed022,#a1d122)"></i><i style="background:linear-gradient(90deg,#6bc624,#6bc624,#6ac624,#6ac624,#6bc624,#6ac624,#6ac624,#69c624,#67c524,#65c424,#63c324,#61c224,#5ec024,#5bbe24,#58bd25,#56bd26,#56bd26,#57bd25,#5bbe24,#5fc124,#65c424,#6cc724,#76c924,#7eca24,#84cc24,#8bcd24,#94ce23,#9acf23,#9ed022,#a1d122)"></i><i style="background:linear-gradient(90deg,#6bc624,#6bc624,#6ac624,#6ac624,#6ac624,#6ac624,#6ac624,#69c624,#67c524,#66c424,#64c324,#62c224,#5fc124,#5cbf24,#59be24,#57bd25,#57bd25,#58bd25,#5bbf24,#60c124,#65c424,#6dc724,#77c924,#7eca24,#84cc24,#8dcd24,#95cf23,#9bd023,#9fd022,#a2d122)"></i><i style="background:linear-gradient(90deg,#6bc624,#6bc624,#6ac624,#6ac624,#6ac624,#6ac624,#6ac624,#69c624,#68c524,#67c524,#65c424,#63c324,#60c124,#5dc024,#5bbe24,#59be25,#58bd25,#59be24,#5cbf24,#60c124,#66c424,#6ec724,#78c924,#7fcb24,#85cc24,#8ecd23,#96cf23,#9cd022,#a0d022,#a2d122)"></i><i style="background:linear-gradient(90deg,#6bc624,#6bc624,#6ac624,#6ac624,#6ac624,#6bc624,#6ac624,#69c624,#68c624,#67c524,#66c424,#63c324,#61c224,#5ec024,#5cbf24,#5abe24,#59be24,#5abe24,#5dbf24,#61c224,#66c424,#6fc724,#79c924,#80cb24,#86cc24,#90ce23,#97cf23,#9dd022,#a0d122,#a3d122)"></i><i style="background:linear-gradient(90deg,#6bc724,#6bc624,#6ac624,#6ac624,#6ac624,#6bc624,#6ac624,#69c624,#69c624,#68c524,#66c524,#64c424,#62c224,#5fc124,#5dbf24,#5bbf24,#5abe24,#5bbf24,#5ec024,#61c224,#67c524,#6fc724,#7ac924,#81cb24,#87cc24,#91ce23,#98cf23,#9ed022,#a1d122,#a3d122)"></i><i style="background:linear-gradient(90deg,#6cc724,#6bc624,#6bc624,#6ac624,#6ac624,#6bc624,#6ac624,#6ac624,#69c624,#68c624,#67c524,#65c424,#63c324,#60c124,#5ec024,#5cbf24,#5bbf24,#5cbf24,#5ec024,#62c224,#67c524,#70c724,#7bca24,#82cb24,#89cc24,#93ce23,#9acf23,#9ed022,#a2d122,#a4d122)"></i><i style="background:linear-gradient(90deg,#6cc724,#6bc624,#6bc624,#6ac624,#6ac624,#6bc624,#6ac624,#6ac624,#6ac624,#69c624,#68c524,#66c424,#64c324,#61c224,#5fc124,#5dc024,#5cbf24,#5dc024,#5fc124,#63c324,#68c524,#71c824,#7bca24,#83cb24,#8bcd24,#94ce23,#9bd023,#9fd022,#a2d122,#a4d122)"></i><i style="background:linear-gradient(90deg,#6cc724,#6bc624,#6bc624,#6ac624,#6ac624,#6ac624,#6ac624,#6ac624,#6bc624,#6ac624,#68c624,#67c524,#65c424,#62c224,#60c124,#5ec024,#5dc024,#5ec024,#60c124,#63c324,#68c624,#72c824,#7cca24,#83cb24,#8ccd24,#95cf23,#9cd023,#a0d022,#a3d122,#a4d122)"></i><i style="background:linear-gradient(90deg,#6cc724,#6bc624,#6bc624,#6ac624,#6ac624,#6ac624,#6ac624,#6bc624,#6bc624,#6bc624,#69c624,#67c524,#65c424,#63c324,#61c224,#5fc124,#5ec024,#5fc124,#61c224,#64c324,#69c624,#73c824,#7dca24,#84cc24,#8ecd23,#97cf23,#9dd022,#a0d122,#a3d122,#a5d122)"></i><i style="background:linear-gradient(90deg,#6dc724,#6cc724,#6bc624,#6ac624,#6ac624,#6ac624,#6ac624,#6bc624,#6cc724,#6cc724,#6ac624,#68c624,#66c524,#64c324,#62c224,#60c124,#5fc124,#60c124,#62c224,#65c424,#69c624,#74c824,#7eca24,#86cc24,#90ce23,#98cf23,#9dd022,#a1d122,#a3d122,#a5d122)"></i><i style="background:linear-gradient(90deg,#6dc724,#6cc724,#6bc624,#6bc624,#6ac624,#6ac624,#6ac624,#6bc624,#6cc724,#6dc724,#6bc724,#69c624,#67c524,#65c424,#63c324,#61c224,#60c124,#61c224,#62c224,#65c424,#6bc624,#75c824,#7fcb24,#88cc24,#91ce23,#99cf23,#9ed022,#a2d122,#a4d122,#a5d122)"></i><i style="background:linear-gradient(90deg,#6dc724,#6cc724,#6bc624,#6bc624,#6ac624,#6ac624,#6ac624,#6cc724,#6dc724,#6dc724,#6dc724,#6ac624,#68c524,#66c424,#64c324,#62c224,#61c224,#61c224,#63c324,#66c424,#6cc724,#76c924,#80cb24,#8bcd24,#93ce23,#9acf23,#9fd022,#a2d122,#a4d122,#a5d122)"></i><i style="background:linear-gradient(90deg,#6dc724,#6cc724,#6bc624,#6bc624,#6ac624,#6ac624,#6ac624,#6cc724,#6ec724,#6ec724,#6ec724,#6bc624,#68c624,#66c524,#64c424,#63c324,#62c224,#62c224,#64c324,#67c524,#6dc724,#77c924,#81cb24,#8dcd23,#95cf23,#9bd023,#a0d022,#a3d122,#a5d122,#a5d122)"></i><i style="background:linear-gradient(90deg,#6ec724,#6cc724,#6cc724,#6bc624,#6ac624,#6ac624,#6ac624,#6cc724,#6ec724,#6fc724,#6ec724,#6cc724,#69c624,#67c524,#65c424,#64c324,#63c324,#63c324,#65c424,#67c524,#6ec724,#78c924,#82cb24,#90ce23,#99cf23,#9cd022,#a1d122,#a3d122,#a5d122,#a5d122)"></i><i style="background:linear-gradient(90deg,#6ec724,#6dc724,#6cc724,#6bc624,#6ac624,#6ac624,#6ac624,#6cc724,#6ec724,#70c724,#6fc724,#6ec724,#6bc624,#68c524,#66c424,#65c424,#64c324,#64c324,#65c424,#68c524,#6fc724,#79c924,#83cb24,#92ce23,#9cd022,#9dd022,#a1d122,#a4d122,#a5d122,#a6d122)"></i><i style="background:linear-gradient(90deg,#6ec724,#6dc724,#6cc724,#6bc624,#6bc624,#69c624,#6ac624,#6cc724,#6fc724,#70c724,#70c724,#6fc724,#6cc724,#69c624,#67c524,#65c424,#65c424,#65c424,#66c424,#69c624,#70c724,#79c924,#83cb24,#94ce23,#9fd022,#9ed022,#a2d122,#a4d122,#a5d122,#a6d122)"></i><i style="background:linear-gradient(90deg,#6fc724,#6dc724,#6cc724,#6bc624,#6bc624,#69c624,#6ac624,#6dc724,#6fc724,#71c824,#71c824,#70c724,#6dc724,#6ac624,#68c524,#66c424,#65c424,#65c424,#67c524,#69c624,#71c824,#7aca24,#84cc24,#96cf23,#a2d122,#9fd022,#a3d122,#a4d122,#a5d122,#a6d122)"></i><i style="background:linear-gradient(90deg,#6fc724,#6ec724,#6cc724,#6bc724,#6ac624,#69c624,#6ac624,#6dc724,#6fc724,#71c824,#72c824,#70c824,#6ec724,#6bc624,#68c624,#67c524,#66c424,#66c424,#67c524,#6ac624,#72c824,#7bca24,#84cc24,#97cf23,#a4d122,#a1d122,#a3d122,#a5d122,#a5d122,#a5d122)"></i><i style="background:linear-gradient(90deg,#70c724,#6ec724,#6dc724,#6cc724,#6ac624,#69c624,#6ac624,#6dc724,#70c724,#72c824,#72c824,#71c824,#6fc724,#6cc724,#69c624,#67c524,#67c524,#67c524,#68c524,#6bc724,#73c824,#7bca24,#85cc24,#99cf23,#a6d222,#a5d122,#a4d122,#a5d122,#a6d122,#a5d122)"></i><i style="background:linear-gradient(90deg,#70c724,#6fc724,#6dc724,#6cc724,#69c624,#69c624,#6ac624,#6dc724,#70c724,#72c824,#73c824,#72c824,#70c724,#6dc724,#6ac624,#68c624,#67c524,#67c524,#68c624,#6cc724,#73c824,#7cca24,#85cc24,#9acf23,#a8d222,#a9d222,#a4d122,#a5d122,#a6d122,#a5d122)"></i><i style="background:linear-gradient(90deg,#70c824,#6fc724,#6dc724,#6cc724,#69c624,#69c624,#6ac624,#6dc724,#70c724,#72c824,#73c824,#73c824,#71c824,#6ec724,#6bc624,#69c624,#68c524,#68c524,#69c624,#6dc724,#74c824,#7cca24,#85cc24,#9acf23,#a9d222,#abd221,#a4d122,#a5d122,#a5d122,#a5d122)"></i><i style="background:linear-gradient(90deg,#71c824,#6fc724,#6ec724,#6cc724,#69c624,#68c624,#6ac624,#6dc724,#70c724,#73c824,#74c824,#73c824,#72c824,#6fc724,#6cc724,#6ac624,#68c624,#68c624,#6ac624,#6ec724,#74c824,#7cca24,#85cc24,#9ad023,#aad222,#aed321,#a5d122,#a6d122,#a5d122,#a5d122)"></i><i style="background:linear-gradient(90deg,#71c824,#70c724,#6ec724,#6dc724,#69c624,#68c624,#6ac624,#6dc724,#70c824,#73c824,#74c824,#74c824,#72c824,#70c724,#6dc724,#6bc624,#69c624,#69c624,#6bc624,#6fc724,#75c824,#7dca24,#85cc24,#9ad023,#abd221,#b0d321,#a5d122,#a6d122,#a5d122,#a4d122)"></i><i style="background:linear-gradient(90deg,#72c824,#70c824,#6fc724,#6dc724,#68c624,#68c624,#6ac624,#6dc724,#70c824,#73c824,#74c824,#74c824,#73c824,#71c824,#6ec724,#6cc724,#6ac624,#6ac624,#6bc624,#6fc724,#75c924,#7dca24,#85cc24,#9acf23,#abd221,#b1d321,#a6d222,#a6d122,#a5d122,#a4d122)"></i><i style="background:linear-gradient(90deg,#72c824,#71c824,#6fc724,#6cc724,#68c624,#68c624,#6ac624,#6dc724,#70c824,#73c824,#75c824,#75c824,#73c824,#71c824,#6fc724,#6cc724,#6bc624,#6bc624,#6cc724,#70c724,#75c924,#7dca24,#85cc24,#99cf23,#aad222,#b2d421,#aad222,#a5d122,#a5d122,#a3d122)"></i><i style="background:linear-gradient(90deg,#73c824,#71c824,#70c724,#6cc724,#68c624,#68c624,#69c624,#6dc724,#70c824,#73c824,#75c824,#75c824,#74c824,#72c824,#6fc724,#6dc724,#6cc724,#6bc624,#6dc724,#70c724,#75c924,#7dca24,#85cc24,#98cf23,#a9d222,#b2d421,#acd321,#a5d122,#a4d122,#a3d122)"></i><i style="background:linear-gradient(90deg,#73c824,#72c824,#70c724,#6bc624,#68c624,#68c524,#69c624,#6dc724,#70c824,#73c824,#75c824,#75c924,#74c824,#72c824,#70c724,#6ec724,#6cc724,#6cc724,#6dc724,#70c824,#76c924,#7cca24,#84cc24,#97cf23,#a8d222,#b2d421,#aed321,#a5d122,#a4d122,#a2d122)"></i><i style="background:linear-gradient(90deg,#74c824,#72c824,#71c824,#6bc624,#68c524,#68c524,#69c624,#6dc724,#70c724,#73c824,#75c824,#75c924,#75c824,#73c824,#71c824,#6ec724,#6dc724,#6cc724,#6ec724,#71c824,#75c924,#7cca24,#84cc24,#95cf23,#a6d222,#b1d321,#afd321,#a5d122,#a3d122,#a1d122)"></i><i style="background:linear-gradient(90deg,#74c824,#73c824,#71c824,#6bc624,#68c524,#68c524,#69c624,#6dc724,#70c724,#73c824,#75c824,#75c924,#75c824,#73c824,#71c824,#6fc724,#6dc724,#6dc724,#6ec724,#71c824,#75c924,#7cca24,#83cb24,#93ce23,#a4d122,#b0d321,#afd321,#a4d122,#a3d122,#a0d122)"></i><i style="background:linear-gradient(90deg,#75c824,#73c824,#72c824,#6ac624,#68c524,#68c524,#69c624,#6cc724,#70c724,#73c824,#75c824,#76c924,#75c824,#74c824,#72c824,#70c724,#6ec724,#6dc724,#6ec724,#71c824,#75c924,#7bca24,#82cb24,#90ce23,#a2d122,#aed321,#afd321,#a4d122,#a2d122,#9fd022)"></i><i style="background:linear-gradient(90deg,#75c924,#74c824,#72c824,#6ac624,#68c524,#68c524,#69c624,#6cc724,#70c724,#73c824,#75c824,#76c924,#75c924,#74c824,#72c824,#70c724,#6ec724,#6ec724,#6ec724,#71c824,#75c824,#7bca24,#82cb24,#8ecd23,#9fd022,#acd221,#aed321,#a3d122,#a1d122,#9ed022)"></i><i style="background:linear-gradient(90deg,#76c924,#75c824,#72c824,#6ac624,#68c524,#68c524,#69c624,#6cc724,#70c724,#73c824,#75c824,#75c924,#75c924,#74c824,#72c824,#70c724,#6fc724,#6ec724,#6ec724,#71c824,#74c824,#7aca24,#81cb24,#8bcd24,#9cd022,#a9d222,#add321,#a4d122,#a0d122,#9dd022)"></i><i style="background:linear-gradient(90deg,#76c924,#75c824,#72c824,#6ac624,#68c524,#68c524,#69c624,#6cc724,#6fc724,#72c824,#74c824,#75c924,#75c924,#74c824,#72c824,#70c824,#6fc724,#6ec724,#6ec724,#70c824,#74c824,#79c924,#80cb24,#87cc24,#98cf23,#a6d122,#abd221,#a4d122,#9fd022,#9cd022)"></i><i style="background:linear-gradient(90deg,#77c924,#76c924,#71c824,#6ac624,#68c524,#68c524,#69c624,#6cc724,#6fc724,#72c824,#74c824,#75c924,#75c924,#74c824,#72c824,#71c824,#6fc724,#6ec724,#6ec724,#70c724,#74c824,#78c924,#7eca24,#85cc24,#95cf23,#a2d122,#a9d222,#a4d122,#9ed022,#9ad023)"></i><i style="background:linear-gradient(90deg,#77c924,#76c924,#71c824,#6ac624,#68c524,#68c524,#69c624,#6bc724,#6fc724,#72c824,#74c824,#75c824,#75c824,#74c824,#73c824,#71c824,#6fc724,#6ec724,#6ec724,#70c724,#73c824,#77c924,#7dca24,#84cc24,#90ce23,#9ed022,#a5d122,#a3d122,#9dd022,#99cf23)"></i><i style="background:linear-gradient(90deg,#78c924,#77c924,#71c824,#69c624,#68c524,#68c524,#69c624,#6bc624,#6ec724,#71c824,#74c824,#75c824,#75c824,#74c824,#73c824,#71c824,#6fc724,#6ec724,#6ec724,#6fc724,#72c824,#76c924,#7cca24,#82cb24,#8ccd24,#9acf23,#a2d122,#a2d122,#9bd023,#97cf23)"></i><i style="background:linear-gradient(90deg,#78c924,#77c924,#70c824,#69c624,#68c524,#68c524,#68c624,#6bc624,#6ec724,#71c824,#73c824,#75c824,#75c824,#74c824,#73c824,#71c824,#6fc724,#6ec724,#6ec724,#6fc724,#72c824,#75c924,#7bca24,#80cb24,#87cc24,#95cf23,#9ed022,#9fd022,#99cf23,#95cf23)"></i><i style="background:linear-gradient(90deg,#79c924,#78c924,#70c724,#69c624,#68c524,#68c524,#68c624,#6bc624,#6ec724,#71c824,#73c824,#74c824,#74c824,#74c824,#72c824,#71c824,#6fc724,#6ec724,#6ec724,#6fc724,#71c824,#74c824,#79c924,#7fca24,#85cc24,#90ce23,#99cf23,#9cd022,#98cf23,#93ce23)"></i><i style="background:linear-gradient(90deg,#79c924,#78c924,#70c724,#69c624,#68c524,#68c524,#68c624,#6ac624,#6dc724,#70c824,#72c824,#74c824,#74c824,#74c824,#72c824,#71c824,#6fc724,#6ec724,#6dc724,#6ec724,#70c724,#73c824,#78c924,#7dca24,#82cb24,#8acd24,#95cf23,#99cf23,#96cf23,#91ce23)"></i><i style="background:linear-gradient(90deg,#79c924,#79c924,#70c724,#69c624,#68c524,#68c524,#68c624,#6ac624,#6dc724,#70c724,#72c824,#73c824,#74c824,#73c824,#72c824,#70c824,#6fc724,#6ec724,#6dc724,#6dc724,#6fc724,#72c824,#76c924,#7bca24,#80cb24,#86cc24,#8fce23,#95cf23,#94ce23,#8fcd23)"></i><i style="background:linear-gradient(90deg,#7ac924,#79c924,#70c724,#6ac624,#68c524,#67c524,#68c624,#6ac624,#6dc724,#6fc724,#72c824,#73c824,#73c824,#73c824,#72c824,#70c824,#6fc724,#6dc724,#6dc724,#6dc724,#6ec724,#71c824,#74c824,#79c924,#7eca24,#83cb24,#8acd24,#91ce23,#91ce23,#8ccd24)"></i><i style="background:linear-gradient(90deg,#7ac924,#79c924,#70c724,#6ac624,#68c524,#67c524,#68c524,#69c624,#6cc724,#6fc724,#71c824,#73c824,#73c824,#73c824,#72c824,#70c724,#6ec724,#6dc724,#6cc724,#6cc724,#6dc724,#6fc724,#73c824,#77c924,#7cca24,#81cb24,#85cc24,#8ccd24,#8fcd23,#89cd24)"></i><i style="background:linear-gradient(90deg,#7aca24,#79c924,#70c724,#6ac624,#68c524,#67c524,#68c524,#69c624,#6cc724,#6ec724,#71c824,#72c824,#73c824,#72c824,#71c824,#70c724,#6ec724,#6dc724,#6cc724,#6bc724,#6cc724,#6ec724,#71c824,#75c824,#7ac924,#7eca24,#83cb24,#86cc24,#8bcd24,#86cc24)"></i><i style="background:linear-gradient(90deg,#7aca24,#78c924,#70c724,#6ac624,#68c524,#67c524,#68c524,#69c624,#6bc624,#6ec724,#70c724,#72c824,#72c824,#72c824,#71c824,#70c724,#6ec724,#6cc724,#6bc624,#6bc624,#6bc624,#6dc724,#6fc724,#73c824,#77c924,#7cca24,#80cb24,#84cc24,#87cc24,#85cc24)"></i><i style="background:linear-gradient(90deg,#7aca24,#78c924,#70c724,#6ac624,#68c524,#67c524,#68c524,#69c624,#6bc624,#6dc724,#6fc724,#71c824,#72c824,#72c824,#71c824,#6fc724,#6ec724,#6cc724,#6bc624,#6ac624,#6ac624,#6bc724,#6ec724,#71c824,#75c824,#79c924,#7dca24,#81cb24,#85cc24,#84cb24)"></i><i style="background:linear-gradient(90deg,#7aca24,#78c924,#70c724,#6ac624,#68c524,#67c524,#68c524,#68c624,#6ac624,#6dc724,#6fc724,#70c824,#71c824,#71c824,#70c824,#6fc724,#6dc724,#6bc724,#6ac624,#69c624,#69c624,#6ac624,#6cc724,#6fc724,#72c824,#76c924,#7bca24,#7fcb24,#83cb24,#82cb24)"></i><i style="background:linear-gradient(90deg,#7aca24,#77c924,#70c724,#6ac624,#68c524,#67c524,#67c524,#68c624,#6ac624,#6cc724,#6ec724,#70c724,#71c824,#71c824,#70c724,#6fc724,#6dc724,#6bc624,#6ac624,#69c624,#69c624,#69c624,#6ac624,#6dc724,#70c724,#74c824,#78c924,#7cca24,#81cb24,#81cb24)"></i><i style="background:linear-gradient(90deg,#7aca24,#77c924,#70c724,#6ac624,#68c524,#67c524,#67c524,#68c624,#69c624,#6cc724,#6ec724,#6fc724,#70c724,#70c724,#6fc724,#6ec724,#6cc724,#6bc624,#69c624,#68c624,#68c624,#68c624,#69c624,#6bc624,#6dc724,#71c824,#75c924,#7ac924,#7eca24,#7fcb24)"></i><i style="background:linear-gradient(90deg,#7aca24,#77c924,#70c724,#6ac624,#68c524,#67c524,#67c524,#68c524,#69c624,#6bc624,#6dc724,#6fc724,#70c724,#70c724,#6fc724,#6ec724,#6cc724,#6ac624,#69c624,#68c524,#68c524,#68c524,#68c524,#69c624,#6bc624,#6ec724,#72c824,#77c924,#7cca24,#7dca24)"></i><i style="background:linear-gradient(90deg,#7aca24,#77c924,#70c724,#6ac624,#68c524,#67c524,#67c524,#68c524,#69c624,#6ac624,#6cc724,#6ec724,#6fc724,#6fc724,#6fc724,#6dc724,#6cc724,#6ac624,#68c624,#68c524,#67c524,#67c524,#67c524,#68c524,#69c624,#6cc724,#6fc724,#74c824,#79c924,#7cca24)"></i><i style="background:linear-gradient(90deg,#7aca24,#76c924,#70c724,#6ac624,#68c524,#67c524,#67c524,#67c524,#68c624,#6ac624,#6cc724,#6ec724,#6fc724,#6fc724,#6ec724,#6dc724,#6bc624,#69c624,#68c624,#67c524,#67c524,#66c524,#66c524,#67c524,#68c524,#69c624,#6cc724,#71c824,#77c924,#7ac924)"></i><i style="background:linear-gradient(90deg,#7ac924,#76c924,#70c724,#6bc624,#68c524,#67c524,#67c524,#67c524,#68c624,#69c624,#6bc624,#6dc724,#6ec724,#6ec724,#6ec724,#6dc724,#6bc624,#69c624,#68c524,#67c524,#66c524,#66c424,#66c424,#66c424,#66c524,#68c524,#6ac624,#6ec724,#74c824,#78c924)"></i><i style="background:linear-gradient(90deg,#7ac924,#76c924,#70c724,#6bc624,#68c524,#67c524,#67c524,#67c524,#68c524,#69c624,#6bc624,#6cc724,#6dc724,#6ec724,#6dc724,#6cc724,#6bc624,#69c624,#68c524,#67c524,#66c424,#65c424,#65c424,#65c424,#65c424,#66c524,#68c524,#6bc624,#71c824,#76c924)"></i><i style="background:linear-gradient(90deg,#79c924,#76c924,#70c724,#6bc624,#68c524,#67c524,#67c524,#67c524,#68c524,#69c624,#6ac624,#6cc724,#6dc724,#6dc724,#6dc724,#6cc724,#6ac624,#69c624,#67c524,#66c524,#65c424,#65c424,#64c324,#64c324,#64c324,#65c424,#66c524,#69c624,#6ec724,#74c824)"></i><i style="background:linear-gradient(90deg,#79c924,#76c924,#70c724,#6bc624,#68c524,#67c524,#66c524,#67c524,#67c524,#68c624,#69c624,#6bc624,#6cc724,#6dc724,#6dc724,#6bc724,#6ac624,#68c624,#67c524,#66c424,#65c424,#64c324,#63c324,#63c324,#63c324,#64c324,#65c424,#67c524,#6cc724,#72c824)"></i><i style="background:linear-gradient(90deg,#78c924,#75c924,#70c724,#6bc624,#68c524,#67c524,#66c524,#66c524,#67c524,#68c524,#69c624,#6bc624,#6cc724,#6cc724,#6cc724,#6bc624,#69c624,#68c624,#67c524,#66c424,#64c424,#63c324,#63c324,#62c224,#62c224,#63c324,#64c324,#66c424,#69c624,#70c724)"></i><i style="background:linear-gradient(90deg,#78c924,#75c924,#70c724,#6bc624,#68c524,#67c524,#66c424,#66c524,#67c524,#68c524,#69c624,#6ac624,#6bc624,#6cc724,#6cc724,#6bc624,#69c624,#68c524,#67c524,#65c424,#64c324,#63c324,#62c224,#61c224,#61c224,#61c224,#62c224,#64c324,#67c524,#6dc724)"></i><i style="background:linear-gradient(90deg,#78c924,#75c824,#70c724,#6bc624,#68c524,#67c524,#66c424,#66c424,#67c524,#67c524,#68c624,#69c624,#6bc624,#6bc724,#6bc624,#6ac624,#69c624,#68c524,#67c524,#65c424,#64c324,#62c324,#61c224,#60c124,#60c124,#60c124,#61c224,#63c324,#66c424,#6bc624)"></i><i style="background:linear-gradient(90deg,#77c924,#75c824,#70c824,#6bc624,#68c524,#67c524,#66c424,#66c424,#66c524,#67c524,#68c524,#69c624,#6ac624,#6bc624,#6bc624,#6ac624,#69c624,#68c524,#66c524,#65c424,#63c324,#62c224,#61c224,#60c124,#5fc124,#5fc124,#60c124,#62c224,#65c424,#69c624)"></i><i style="background:linear-gradient(90deg,#77c924,#75c824,#70c824,#6bc624,#68c524,#67c524,#66c424,#66c424,#66c424,#67c524,#68c524,#69c624,#6ac624,#6bc624,#6bc624,#6ac624,#69c624,#68c524,#66c524,#65c424,#63c324,#62c224,#60c124,#5fc124,#5ec024,#5ec024,#5fc024,#60c124,#63c324,#68c524)"></i><i style="background:linear-gradient(90deg,#76c924,#75c824,#70c824,#6bc624,#68c524,#66c524,#66c424,#65c424,#66c424,#67c524,#68c524,#68c624,#69c624,#6ac624,#6ac624,#6ac624,#69c624,#68c524,#66c424,#65c424,#63c324,#61c224,#60c124,#5ec024,#5dc024,#5dc024,#5dc024,#5fc124,#62c224,#66c524)"></i><i style="background:linear-gradient(90deg,#75c924,#74c824,#70c824,#6bc724,#68c524,#66c524,#66c424,#65c424,#66c424,#66c524,#67c524,#68c624,#69c624,#6ac624,#6ac624,#69c624,#69c624,#67c524,#66c424,#64c424,#63c324,#61c224,#5fc124,#5ec024,#5dbf24,#5cbf24,#5cbf24,#5ec024,#61c124,#65c424)"></i><i style="background:linear-gradient(90deg,#75c824,#74c824,#70c824,#6cc724,#68c524,#66c524,#65c424,#65c424,#65c424,#66c424,#67c524,#68c524,#69c624,#69c624,#6ac624,#69c624,#68c624,#67c524,#66c424,#64c324,#62c324,#61c224,#5fc124,#5dc024,#5cbf24,#5bbf24,#5bbf24,#5cbf24,#5fc124,#64c324)"></i><i style="background:linear-gradient(90deg,#74c824,#74c824,#71c824,#6cc724,#68c524,#66c524,#65c424,#65c424,#65c424,#66c424,#67c524,#68c524,#69c624,#69c624,#6ac624,#69c624,#68c624,#67c524,#66c424,#64c324,#62c224,#60c124,#5ec024,#5dbf24,#5bbf24,#5abe24,#5abe24,#5bbf24,#5ec024,#63c324)"></i><i style="background:linear-gradient(90deg,#74c824,#74c824,#71c824,#6cc724,#68c524,#66c524,#65c424,#65c424,#65c424,#66c424,#67c524,#68c524,#68c624,#69c624,#69c624,#69c624,#68c624,#67c524,#66c424,#64c324,#62c224,#60c124,#5ec024,#5cbf24,#5abe24,#59be24,#59be24,#5abe24,#5dbf24,#62c224)"></i><i style="background:linear-gradient(90deg,#73c824,#74c824,#71c824,#6cc724,#68c524,#66c524,#65c424,#65c424,#65c424,#65c424,#66c524,#67c524,#68c624,#69c624,#69c624,#69c624,#68c624,#67c524,#66c424,#64c324,#62c224,#60c124,#5ec024,#5cbf24,#5abe24,#58bd25,#58bd25,#59be25,#5cbf24,#61c124)"></i><i style="background:linear-gradient(90deg,#73c824,#74c824,#71c824,#6cc724,#68c524,#66c424,#65c424,#64c424,#65c424,#65c424,#66c424,#67c524,#68c524,#69c624,#69c624,#69c624,#68c624,#67c524,#66c424,#64c324,#62c224,#60c124,#5dc024,#5bbf24,#59be24,#58bd25,#57bd25,#58bd25,#5abe24,#5fc124)"></i><i style="background:linear-gradient(90deg,#72c824,#74c824,#71c824,#6cc724,#68c524,#66c424,#65c424,#64c324,#64c424,#65c424,#66c424,#67c524,#68c524,#69c624,#69c624,#69c624,#68c624,#67c524,#66c424,#64c324,#62c224,#60c124,#5dc024,#5bbf24,#59be25,#57bd25,#56bd26,#56bd26,#59be24,#5ec024)"></i><i style="background:linear-gradient(90deg,#72c824,#74c824,#71c824,#6cc724,#68c524,#66c424,#65c424,#64c324,#64c324,#65c424,#66c424,#67c524,#68c524,#69c624,#69c624,#69c624,#68c624,#67c524,#66c424,#64c324,#62c224,#60c124,#5dc024,#5bbe24,#58bd25,#56bd26,#55bc26,#55bc26,#58bd25,#5dc024)"></i><i style="background:linear-gradient(90deg,#71c824,#74c824,#71c824,#6cc724,#68c524,#66c424,#65c424,#64c324,#64c324,#65c424,#66c424,#67c524,#68c524,#68c624,#69c624,#69c624,#69c624,#68c524,#66c424,#64c424,#62c224,#60c124,#5dc024,#5bbe24,#58bd25,#56bd26,#54bc27,#54bc26,#57bd25,#5cbf24)"></i><i style="background:linear-gradient(90deg,#71c824,#74c824,#71c824,#6cc724,#68c524,#66c424,#65c424,#64c324,#64c324,#64c424,#65c424,#66c524,#68c524,#68c624,#69c624,#69c624,#69c624,#68c524,#66c524,#64c424,#62c224,#60c124,#5dc024,#5abe24,#57bd25,#55bc26,#54bc27,#54bc27,#56bd26,#5bbf24)"></i><i style="background:linear-gradient(90deg,#71c824,#74c824,#71c824,#6cc724,#68c524,#66c424,#64c424,#64c324,#64c324,#64c424,#65c424,#66c524,#67c524,#68c624,#69c624,#69c624,#69c624,#68c524,#66c524,#65c424,#62c224,#60c124,#5dc024,#5abe24,#57bd25,#55bc26,#53bc27,#53bc27,#55bc26,#5abe24)"></i><i style="background:linear-gradient(90deg,#71c824,#73c824,#71c824,#6cc724,#68c624,#66c424,#64c424,#64c324,#64c324,#64c324,#65c424,#66c524,#67c524,#68c624,#69c624,#69c624,#69c624,#68c524,#67c524,#65c424,#63c324,#60c124,#5dc024,#5abe24,#57bd25,#54bc27,#53bc27,#52bb27,#54bc27,#59be24)"></i><i style="background:linear-gradient(90deg,#70c824,#74c824,#71c824,#6cc724,#68c624,#66c424,#64c424,#64c324,#63c324,#64c324,#65c424,#66c424,#67c524,#68c624,#69c624,#6ac624,#69c624,#68c624,#67c524,#65c424,#63c324,#60c124,#5dc024,#5abe24,#57bd25,#54bc27,#52bb28,#52bb28,#53bc27,#58bd25)"></i><i style="background:linear-gradient(90deg,#70c824,#74c824,#71c824,#6dc724,#68c624,#66c424,#64c324,#63c324,#63c324,#64c324,#65c424,#66c424,#67c524,#68c624,#69c624,#6ac624,#69c624,#68c624,#67c524,#65c424,#63c324,#60c124,#5dc024,#5abe24,#57bd25,#54bc27,#52bb28,#51bb28,#53bc27,#57bd25)"></i><i style="background:linear-gradient(90deg,#70c824,#74c824,#72c824,#6dc724,#68c624,#66c424,#64c324,#63c324,#63c324,#64c324,#65c424,#66c424,#67c524,#68c624,#69c624,#6ac624,#6ac624,#69c624,#67c524,#66c424,#63c324,#61c224,#5ec024,#5bbe24,#57bd25,#54bc27,#52bb28,#51bb28,#52bb28,#56bd26)"></i><i style="background:linear-gradient(90deg,#70c824,#74c824,#72c824,#6dc724,#68c624,#66c424,#64c324,#63c324,#63c324,#64c324,#65c424,#66c424,#67c524,#68c624,#6ac624,#6ac624,#6ac624,#69c624,#68c524,#66c424,#64c324,#61c224,#5ec024,#5bbe24,#57bd25,#54bc27,#51bb28,#50bb28,#51bb28,#55bc26)"></i><i style="background:linear-gradient(90deg,#70c824,#74c824,#72c824,#6dc724,#68c624,#66c424,#64c324,#63c324,#63c324,#64c324,#65c424,#66c424,#67c524,#68c624,#6ac624,#6bc624,#6bc624,#69c624,#68c524,#66c524,#64c324,#61c224,#5ec024,#5bbf24,#58bd25,#54bc27,#51bb28,#50bb28,#51bb28,#54bc27)"></i><i style="background:linear-gradient(90deg,#71c824,#74c824,#72c824,#6dc724,#68c624,#66c424,#64c324,#63c324,#63c324,#64c324,#65c424,#66c424,#67c524,#69c624,#6ac624,#6bc624,#6bc624,#6ac624,#68c624,#67c524,#64c424,#62c224,#5fc124,#5bbf24,#58bd25,#54bc27,#52bb28,#50bb28,#51bb28,#54bc27)"></i><i style="background:linear-gradient(90deg,#71c824,#74c824,#72c824,#6dc724,#68c624,#66c424,#64c324,#63c324,#63c324,#64c324,#65c424,#66c424,#67c524,#69c624,#6ac624,#6cc724,#6cc724,#6bc624,#69c624,#67c524,#65c424,#62c224,#5fc124,#5cbf24,#58bd25,#55bc26,#52bb28,#50bb28,#50bb28,#53bc27)"></i><i style="background:linear-gradient(90deg,#71c824,#74c824,#73c824,#6ec724,#68c624,#66c424,#64c324,#63c324,#63c324,#63c324,#65c424,#66c424,#67c524,#69c624,#6bc624,#6cc724,#6cc724,#6bc724,#69c624,#68c524,#65c424,#63c324,#60c124,#5cbf24,#59be25,#55bc26,#52bb28,#50bb28,#50bb28,#53bc27)"></i><i style="background:linear-gradient(90deg,#72c824,#75c824,#73c824,#6ec724,#69c624,#66c424,#64c324,#63c324,#63c324,#63c324,#65c424,#66c424,#67c524,#69c624,#6bc624,#6dc724,#6dc724,#6cc724,#6ac624,#68c524,#66c424,#63c324,#60c124,#5dbf24,#59be24,#55bc26,#52bb27,#50bb28,#50bb28,#52bb27)"></i><i style="background:linear-gradient(90deg,#72c824,#75c824,#73c824,#6ec724,#69c624,#66c424,#64c324,#63c324,#63c324,#63c324,#65c424,#66c424,#67c524,#69c624,#6bc624,#6dc724,#6ec724,#6dc724,#6bc624,#68c624,#66c524,#64c324,#61c224,#5dc024,#5abe24,#56bd26,#53bc27,#51bb28,#50bb28,#52bb28)"></i><i style="background:linear-gradient(90deg,#73c824,#75c924,#74c824,#6ec724,#69c624,#66c424,#64c324,#63c324,#63c324,#63c324,#65c424,#66c424,#68c524,#69c624,#6cc724,#6ec724,#6ec724,#6ec724,#6cc724,#69c624,#67c524,#64c424,#61c224,#5ec024,#5bbe24,#57bd25,#53bc27,#51bb28,#50bb28,#52bb28)"></i><i style="background:linear-gradient(90deg,#73c824,#76c924,#74c824,#6fc724,#69c624,#66c524,#64c324,#63c324,#63c324,#63c324,#65c424,#66c424,#68c524,#69c624,#6cc724,#6ec724,#6fc724,#6fc724,#6dc724,#6ac624,#67c524,#65c424,#62c224,#5fc024,#5bbf24,#57bd25,#54bc27,#51bb28,#51bb28,#52bb28)"></i><i style="background:linear-gradient(90deg,#74c824,#76c924,#74c824,#6fc724,#69c624,#66c524,#64c324,#63c324,#63c324,#63c324,#65c424,#66c424,#68c524,#6ac624,#6dc724,#6fc724,#70c724,#6fc724,#6ec724,#6bc624,#68c624,#66c424,#63c324,#5fc124,#5cbf24,#58bd25,#55bc26,#52bb28,#51bb28,#52bb28)"></i><i style="background:linear-gradient(90deg,#75c824,#77c924,#75c824,#70c724,#69c624,#66c524,#64c424,#63c324,#63c324,#63c324,#65c424,#66c424,#68c524,#6ac624,#6dc724,#6fc724,#70c824,#70c824,#6fc724,#6cc724,#69c624,#66c524,#63c324,#60c124,#5dbf24,#59be24,#55bc26,#53bc27,#52bb28,#52bb28)"></i><i style="background:linear-gradient(90deg,#76c924,#77c924,#75c924,#70c724,#6ac624,#66c524,#64c424,#63c324,#63c324,#63c324,#65c424,#66c524,#68c524,#6ac624,#6dc724,#70c724,#71c824,#71c824,#70c724,#6ec724,#6ac624,#67c524,#64c324,#61c224,#5dc024,#5abe24,#56bd26,#53bc27,#52bb28,#52bb28)"></i><i style="background:linear-gradient(90deg,#76c924,#78c924,#76c924,#70c824,#6ac624,#67c524,#64c424,#63c324,#63c324,#64c324,#65c424,#66c524,#68c624,#6bc624,#6ec724,#70c824,#72c824,#72c824,#71c824,#6fc724,#6bc624,#68c524,#65c424,#62c224,#5ec024,#5bbe24,#57bd25,#54bc27,#53bc27,#52bb27)"></i><i style="background:linear-gradient(90deg,#77c924,#79c924,#77c924,#71c824,#6ac624,#67c524,#65c424,#63c324,#63c324,#64c324,#65c424,#66c524,#68c624,#6bc624,#6ec724,#71c824,#73c824,#73c824,#72c824,#70c724,#6cc724,#68c624,#66c424,#62c324,#5fc124,#5cbf24,#58bd25,#55bc26,#53bc27,#53bc27)"></i><i style="background:linear-gradient(90deg,#78c924,#7ac924,#77c924,#71c824,#6bc624,#67c524,#65c424,#63c324,#63c324,#64c324,#65c424,#66c524,#68c624,#6bc724,#6fc724,#72c824,#73c824,#74c824,#73c824,#71c824,#6ec724,#69c624,#66c524,#63c324,#60c124,#5dbf24,#59be24,#56bd26,#54bc27,#53bc27)"></i><i style="background:linear-gradient(90deg,#79c924,#7bca24,#78c924,#72c824,#6bc624,#67c524,#65c424,#63c324,#63c324,#64c324,#65c424,#67c524,#68c624,#6cc724,#6fc724,#72c824,#74c824,#75c824,#74c824,#72c824,#6fc724,#6bc624,#67c524,#64c324,#61c224,#5dc024,#5abe24,#57bd25,#55bc26,#54bc27)"></i><i style="background:linear-gradient(90deg,#7aca24,#7cca24,#79c924,#73c824,#6cc724,#67c524,#65c424,#64c324,#63c324,#64c324,#65c424,#67c524,#69c624,#6cc724,#70c724,#73c824,#75c824,#76c924,#75c924,#74c824,#71c824,#6dc724,#68c624,#65c424,#62c224,#5ec024,#5bbf24,#58bd25,#56bd26,#55bc26)"></i><i style="background:linear-gradient(90deg,#7bca24,#7dca24,#7ac924,#73c824,#6cc724,#67c524,#65c424,#64c324,#63c324,#64c324,#65c424,#67c524,#69c624,#6dc724,#70c824,#73c824,#76c924,#77c924,#76c924,#75c824,#72c824,#6ec724,#69c624,#66c424,#63c324,#60c124,#5cbf24,#59be24,#57bd25,#55bc26)"></i><i style="background:linear-gradient(90deg,#7cca24,#7eca24,#7aca24,#74c824,#6dc724,#68c524,#65c424,#64c324,#63c324,#64c324,#65c424,#67c524,#69c624,#6dc724,#71c824,#74c824,#76c924,#77c924,#77c924,#76c924,#74c824,#70c724,#6bc624,#67c524,#64c324,#61c224,#5dc024,#5abe24,#58bd25,#56bd26)"></i><i style="background:linear-gradient(90deg,#7dca24,#7fcb24,#7bca24,#75c824,#6dc724,#68c524,#65c424,#64c324,#64c324,#64c324,#65c424,#67c524,#69c624,#6dc724,#71c824,#74c824,#77c924,#78c924,#78c924,#77c924,#75c824,#71c824,#6dc724,#68c624,#65c424,#62c224,#5ec024,#5bbf24,#59be24,#57bd25)"></i><i style="background:linear-gradient(90deg,#7eca24,#80cb24,#7cca24,#75c924,#6ec724,#68c524,#65c424,#64c324,#64c324,#64c324,#65c424,#67c524,#69c624,#6ec724,#72c824,#75c824,#78c924,#79c924,#79c924,#79c924,#76c924,#73c824,#6fc724,#69c624,#66c424,#63c324,#60c124,#5cbf24,#5abe24,#58bd25)"></i><i style="background:linear-gradient(90deg,#7fcb24,#81cb24,#7dca24,#76c924,#6ec724,#68c624,#66c424,#64c324,#64c324,#64c324,#65c424,#67c524,#69c624,#6ec724,#72c824,#76c924,#78c924,#7ac924,#7aca24,#7ac924,#78c924,#75c824,#71c824,#6bc624,#67c524,#64c324,#61c224,#5ec024,#5bbf24,#59be24)"></i><i style="background:linear-gradient(90deg,#80cb24,#82cb24,#7eca24,#77c924,#6fc724,#68c624,#66c424,#64c324,#64c324,#64c324,#66c424,#67c524,#6ac624,#6ec724,#72c824,#76c924,#79c924,#7bca24,#7bca24,#7bca24,#79c924,#76c924,#72c824,#6dc724,#68c624,#65c424,#62c224,#5fc124,#5cbf24,#5abe24)"></i><i style="background:linear-gradient(90deg,#81cb24,#83cb24,#7fcb24,#78c924,#6fc724,#69c624,#66c424,#64c424,#64c324,#64c424,#66c424,#67c524,#6ac624,#6ec724,#73c824,#76c924,#79c924,#7bca24,#7cca24,#7cca24,#7bca24,#78c924,#74c824,#6fc724,#6ac624,#66c524,#63c324,#60c124,#5dc024,#5bbe24)"></i><i style="background:linear-gradient(90deg,#82cb24,#83cb24,#81cb24,#79c924,#70c724,#69c624,#66c424,#65c424,#64c324,#64c424,#66c424,#67c524,#6ac624,#6fc724,#73c824,#77c924,#7ac924,#7cca24,#7dca24,#7dca24,#7cca24,#79c924,#76c924,#72c824,#6cc724,#68c524,#64c424,#61c224,#5ec024,#5cbf24)"></i><i style="background:linear-gradient(90deg,#82cb24,#84cc24,#82cb24,#7ac924,#71c824,#69c624,#66c524,#65c424,#64c324,#65c424,#66c424,#68c524,#6ac624,#6fc724,#73c824,#77c924,#7aca24,#7dca24,#7eca24,#7eca24,#7dca24,#7bca24,#78c924,#74c824,#6ec724,#69c624,#66c424,#62c224,#5fc124,#5dc024)"></i><i style="background:linear-gradient(90deg,#83cb24,#85cc24,#83cb24,#7aca24,#71c824,#6ac624,#66c524,#65c424,#64c324,#65c424,#66c424,#68c524,#6ac624,#6fc724,#73c824,#77c924,#7bca24,#7dca24,#7fca24,#7fcb24,#7eca24,#7cca24,#7ac924,#76c924,#71c824,#6bc624,#67c524,#64c324,#60c124,#5ec024)"></i><i style="background:linear-gradient(90deg,#84cc24,#86cc24,#84cc24,#7bca24,#72c824,#6ac624,#67c524,#65c424,#64c324,#65c424,#66c424,#68c524,#6ac624,#6fc724,#74c824,#78c924,#7bca24,#7eca24,#7fcb24,#80cb24,#7fcb24,#7eca24,#7bca24,#78c924,#73c824,#6dc724,#68c524,#65c424,#62c224,#5fc124)"></i><i style="background:linear-gradient(90deg,#85cc24,#87cc24,#86cc24,#7cca24,#73c824,#6bc624,#67c524,#65c424,#64c424,#65c424,#66c424,#68c524,#6bc624,#6fc724,#74c824,#78c924,#7bca24,#7eca24,#80cb24,#81cb24,#81cb24,#7fcb24,#7dca24,#7ac924,#75c924,#70c724,#6ac624,#66c424,#63c324,#60c124)"></i><i style="background:linear-gradient(90deg,#85cc24,#88cc24,#89cc24,#7dca24,#74c824,#6bc624,#67c524,#65c424,#64c424,#65c424,#66c424,#68c524,#6bc624,#6fc724,#74c824,#78c924,#7cca24,#7fca24,#81cb24,#82cb24,#82cb24,#81cb24,#7fca24,#7bca24,#77c924,#72c824,#6cc724,#67c524,#64c324,#61c224)"></i><i style="background:linear-gradient(90deg,#86cc24,#8acd24,#8ccd24,#7eca24,#74c824,#6cc724,#67c524,#65c424,#65c424,#65c424,#66c424,#68c524,#6bc624,#6fc724,#74c824,#78c924,#7cca24,#7fcb24,#81cb24,#82cb24,#83cb24,#82cb24,#80cb24,#7dca24,#7ac924,#75c824,#6fc724,#68c624,#65c424,#62c224)"></i><i style="background:linear-gradient(90deg,#87cc24,#8bcd24,#8dcd24,#7fcb24,#75c824,#6cc724,#67c524,#65c424,#65c424,#65c424,#66c424,#68c524,#6bc624,#6fc724,#74c824,#78c924,#7cca24,#7fcb24,#81cb24,#83cb24,#83cb24,#83cb24,#82cb24,#7fcb24,#7cca24,#77c924,#71c824,#6ac624,#66c524,#63c324)"></i><i style="background:linear-gradient(90deg,#89cc24,#8bcd24,#8dcd24,#80cb24,#76c924,#6dc724,#67c524,#65c424,#65c424,#65c424,#66c424,#68c524,#6ac624,#6fc724,#74c824,#78c924,#7cca24,#7fcb24,#82cb24,#83cb24,#84cc24,#84cc24,#83cb24,#81cb24,#7eca24,#79c924,#74c824,#6dc724,#67c524,#64c324)"></i><i style="background:linear-gradient(90deg,#8acd24,#8ccd24,#8dcd24,#81cb24,#76c924,#6dc724,#68c524,#65c424,#65c424,#65c424,#66c424,#68c524,#6ac624,#6fc724,#74c824,#78c924,#7cca24,#7fcb24,#82cb24,#84cc24,#85cc24,#85cc24,#84cc24,#83cb24,#80cb24,#7cca24,#76c924,#6fc724,#68c624,#65c424)"></i><i style="background:linear-gradient(90deg,#8bcd24,#8dcd24,#8dcd24,#82cb24,#77c924,#6dc724,#68c524,#66c424,#65c424,#65c424,#66c424,#67c524,#6ac624,#6fc724,#73c824,#78c924,#7cca24,#7fcb24,#82cb24,#84cc24,#85cc24,#86cc24,#86cc24,#84cc24,#82cb24,#7eca24,#79c924,#72c824,#6ac624,#66c524)"></i><i style="background:linear-gradient(90deg,#8ccd24,#8dcd24,#8dcd24,#83cb24,#78c924,#6ec724,#68c524,#66c424,#65c424,#65c424,#66c424,#67c524,#6ac624,#6ec724,#73c824,#78c924,#7cca24,#7fcb24,#82cb24,#84cc24,#86cc24,#88cc24,#88cc24,#86cc24,#83cb24,#80cb24,#7bca24,#74c824,#6cc724,#67c524)"></i><i style="background:linear-gradient(90deg,#8ccd24,#8dcd24,#8ccd24,#84cc24,#78c924,#6ec724,#68c524,#66c424,#65c424,#65c424,#66c424,#67c524,#6ac624,#6ec724,#73c824,#77c924,#7bca24,#7fcb24,#82cb24,#85cc24,#87cc24,#8acd24,#8acd24,#89cc24,#85cc24,#82cb24,#7dca24,#76c924,#6fc724,#68c624)"></i><i style="background:linear-gradient(90deg,#8dcd24,#8dcd24,#8bcd24,#85cc24,#79c924,#6ec724,#68c524,#66c424,#65c424,#65c424,#66c424,#67c524,#69c624,#6ec724,#72c824,#77c924,#7bca24,#7fcb24,#82cb24,#85cc24,#88cc24,#8bcd24,#8dcd24,#8ccd24,#88cc24,#84cc24,#7fcb24,#78c924,#71c824,#6ac624)"></i><i style="background:linear-gradient(90deg,#8dcd24,#8dcd24,#8acd24,#86cc24,#79c924,#6fc724,#68c524,#66c424,#64c424,#64c424,#65c424,#67c524,#69c624,#6dc724,#72c824,#76c924,#7bca24,#7eca24,#82cb24,#85cc24,#88cc24,#8dcd24,#8fce23,#8fce23,#8ccd24,#86cc24,#81cb24,#7aca24,#73c824,#6cc724)"></i><i style="background:linear-gradient(90deg,#8dcd24,#8ccd24,#89cd24,#85cc24,#7ac924,#6fc724,#68c524,#65c424,#64c324,#64c324,#65c424,#67c524,#69c624,#6dc724,#71c824,#76c924,#7aca24,#7eca24,#81cb24,#85cc24,#89cc24,#8ecd23,#91ce23,#92ce23,#90ce23,#8bcd24,#83cb24,#7cca24,#75c824,#6ec724)"></i><i style="background:linear-gradient(90deg,#8dcd24,#8ccd24,#88cc24,#84cc24,#7aca24,#6fc724,#68c524,#65c424,#64c324,#64c324,#65c424,#66c524,#68c624,#6cc724,#71c824,#75c924,#79c924,#7dca24,#81cb24,#84cc24,#89cc24,#8fcd23,#93ce23,#95cf23,#94ce23,#8fce23,#85cc24,#7eca24,#77c924,#70c724)"></i><i style="background:linear-gradient(90deg,#8dcd24,#8bcd24,#87cc24,#83cb24,#7bca24,#6fc724,#68c524,#65c424,#64c324,#64c324,#65c424,#66c424,#68c524,#6bc624,#70c724,#74c824,#79c924,#7dca24,#81cb24,#84cc24,#89cc24,#8fce23,#94ce23,#97cf23,#97cf23,#93ce23,#87cc24,#80cb24,#79c924,#72c824)"></i><i style="background:linear-gradient(90deg,#8dcd24,#8acd24,#86cc24,#82cb24,#7bca24,#6fc724,#68c524,#65c424,#64c324,#64c324,#64c424,#66c424,#68c524,#6bc624,#6fc724,#74c824,#78c924,#7cca24,#80cb24,#84cb24,#88cc24,#8fce23,#95cf23,#99cf23,#9ad023,#97cf23,#8bcd24,#82cb24,#7bca24,#74c824)"></i><i style="background:linear-gradient(90deg,#8ccd24,#89cd24,#85cc24,#81cb24,#7bca24,#6fc724,#68c524,#65c424,#64c324,#63c324,#64c324,#65c424,#67c524,#6ac624,#6ec724,#73c824,#77c924,#7bca24,#7fcb24,#83cb24,#87cc24,#8fce23,#96cf23,#9bd023,#9dd022,#9bd023,#8ecd23,#83cb24,#7dca24,#76c924)"></i><i style="background:linear-gradient(90deg,#8ccd24,#88cc24,#84cc24,#80cb24,#7bca24,#6fc724,#67c524,#65c424,#63c324,#63c324,#64c324,#65c424,#67c524,#69c624,#6dc724,#72c824,#76c924,#7aca24,#7eca24,#82cb24,#86cc24,#8fce23,#97cf23,#9dd022,#a0d022,#9ed022,#91ce23,#85cc24,#7eca24,#78c924)"></i><i style="background:linear-gradient(90deg,#8bcd24,#86cc24,#83cb24,#7fcb24,#79c924,#6ec724,#67c524,#64c324,#63c324,#63c324,#63c324,#65c424,#66c524,#68c624,#6cc724,#71c824,#75c824,#79c924,#7dca24,#82cb24,#86cc24,#8fcd23,#97cf23,#9ed022,#a2d122,#a0d022,#94ce23,#86cc24,#80cb24,#7ac924)"></i><i style="background:linear-gradient(90deg,#8acd24,#86cc24,#83cb24,#7eca24,#78c924,#6ec724,#67c524,#64c324,#62c324,#62c224,#63c324,#64c324,#66c424,#68c524,#6bc624,#6fc724,#74c824,#78c924,#7cca24,#81cb24,#85cc24,#8ecd23,#97cf23,#9fd022,#a4d122,#a2d122,#97cf23,#8acd24,#82cb24,#7bca24)"></i><i style="background:linear-gradient(90deg,#89cc24,#85cc24,#82cb24,#7dca24,#76c924,#6dc724,#66c524,#63c324,#62c224,#62c224,#62c224,#64c324,#65c424,#67c524,#6ac624,#6ec724,#73c824,#77c924,#7bca24,#80cb24,#84cc24,#8dcd24,#97cf23,#a0d122,#a6d222,#a3d122,#9acf23,#8dcd24,#83cb24,#7dca24)"></i><i style="background:linear-gradient(90deg,#88cc24,#84cc24,#81cb24,#7cca24,#75c924,#6dc724,#66c424,#63c324,#62c224,#61c224,#62c224,#63c324,#65c424,#67c524,#69c624,#6dc724,#71c824,#76c924,#7aca24,#7fcb24,#84cb24,#8ccd24,#97cf23,#a1d122,#a8d222,#a5d122,#9cd022,#90ce23,#84cc24,#7fca24)"></i><i style="background:linear-gradient(90deg,#86cc24,#84cb24,#80cb24,#7aca24,#74c824,#6bc724,#66c424,#62c324,#61c224,#61c224,#61c224,#63c324,#64c324,#66c424,#68c624,#6bc724,#70c724,#74c824,#79c924,#7eca24,#83cb24,#8acd24,#97cf23,#a2d122,#a9d222,#a6d122,#9ed022,#93ce23,#86cc24,#80cb24)"></i><i style="background:linear-gradient(90deg,#86cc24,#83cb24,#7fca24,#79c924,#72c824,#6ac624,#65c424,#62c224,#60c124,#60c124,#61c224,#62c224,#64c324,#65c424,#67c524,#6ac624,#6ec724,#73c824,#78c924,#7dca24,#82cb24,#89cc24,#96cf23,#a2d122,#a9d222,#a7d222,#a0d022,#95cf23,#89cc24,#82cb24)"></i><i style="background:linear-gradient(90deg,#85cc24,#82cb24,#7eca24,#78c924,#71c824,#69c624,#64c324,#61c224,#60c124,#5fc124,#60c124,#61c224,#63c324,#65c424,#67c524,#69c624,#6dc724,#71c824,#76c924,#7bca24,#81cb24,#87cc24,#95cf23,#a2d122,#a8d222,#a7d222,#a1d122,#98cf23,#8ccd24,#83cb24)"></i><i style="background:linear-gradient(90deg,#84cc24,#81cb24,#7dca24,#77c924,#70c724,#68c524,#64c324,#60c124,#5fc124,#5fc024,#5fc124,#60c124,#62c224,#64c324,#66c424,#68c524,#6bc624,#70c724,#75c824,#7aca24,#80cb24,#86cc24,#94ce23,#a2d122,#a8d222,#a8d222,#a3d122,#9acf23,#8fcd23,#84cc24)"></i><i style="background:linear-gradient(90deg,#84cc24,#80cb24,#7cca24,#76c924,#6ec724,#67c524,#63c324,#60c124,#5ec024,#5ec024,#5ec024,#60c124,#61c224,#63c324,#65c424,#67c524,#6ac624,#6ec724,#73c824,#79c924,#7fca24,#85cc24,#93ce23,#a1d122,#a8d222,#a8d222,#a4d122,#9cd022,#91ce23,#86cc24)"></i><i style="background:linear-gradient(90deg,#83cb24,#7fcb24,#7aca24,#74c824,#6dc724,#67c524,#62c224,#5fc024,#5dc024,#5dc024,#5ec024,#5fc124,#61c124,#62c224,#64c424,#66c524,#69c624,#6dc724,#72c824,#78c924,#7eca24,#84cc24,#92ce23,#a0d122,#a7d222,#a9d222,#a5d122,#9ed022,#94ce23,#88cc24)"></i><i style="background:linear-gradient(90deg,#82cb24,#7eca24,#79c924,#73c824,#6bc724,#66c424,#62c224,#5ec024,#5cbf24,#5cbf24,#5dbf24,#5ec024,#60c124,#62c224,#64c324,#66c424,#68c524,#6bc624,#70c824,#76c924,#7dca24,#83cb24,#91ce23,#9fd022,#a6d222,#a9d222,#a6d222,#a0d022,#96cf23,#8bcd24)"></i><i style="background:linear-gradient(90deg,#81cb24,#7dca24,#78c924,#72c824,#6ac624,#65c424,#61c224,#5dbf24,#5bbf24,#5bbf24,#5cbf24,#5dc024,#5fc124,#61c224,#63c324,#65c424,#67c524,#6ac624,#6fc724,#75c824,#7bca24,#83cb24,#90ce23,#9dd022,#a6d122,#a9d222,#a7d222,#a1d122,#99cf23,#8ecd23)"></i><i style="background:linear-gradient(90deg,#81cb24,#7cca24,#77c924,#70c824,#69c624,#65c424,#60c124,#5cbf24,#5abe24,#5abe24,#5bbe24,#5cbf24,#5ec024,#60c124,#62c224,#64c324,#66c424,#68c624,#6dc724,#74c824,#7aca24,#82cb24,#8ecd23,#9cd022,#a5d122,#a9d222,#a8d222,#a3d122,#9bd023,#90ce23)"></i><i style="background:linear-gradient(90deg,#80cb24,#7bca24,#76c924,#6fc724,#68c624,#64c324,#60c124,#5cbf24,#59be25,#59be25,#5abe24,#5bbf24,#5dc024,#5fc124,#61c224,#63c324,#65c424,#68c524,#6cc724,#72c824,#79c924,#81cb24,#8ccd24,#9ad023,#a4d122,#a8d222,#a8d222,#a4d122,#9cd022,#93ce23)"></i><i style="background:linear-gradient(90deg,#7fcb24,#7aca24,#75c824,#6ec724,#68c524,#64c324,#5fc124,#5bbf24,#57bd25,#57bd25,#58bd25,#5abe24,#5cbf24,#5ec024,#60c124,#62c224,#64c424,#67c524,#6ac624,#71c824,#78c924,#80cb24,#8acd24,#99cf23,#a3d122,#a8d222,#a8d222,#a5d122,#9ed022,#95cf23)"></i><i style="background:linear-gradient(90deg,#7eca24,#79c924,#74c824,#6dc724,#67c524,#63c324,#5fc124,#5bbe24,#57bd25,#56bd26,#57bd25,#59be25,#5bbf24,#5dc024,#5fc124,#61c224,#64c324,#66c524,#69c624,#70c724,#77c924,#80cb24,#88cc24,#97cf23,#a2d122,#a7d222,#a9d222,#a6d122,#a0d022,#97cf23)"></i><i style="background:linear-gradient(90deg,#7dca24,#78c924,#72c824,#6bc624,#66c524,#62c224,#5ec024,#5abe24,#57bd26,#54bc27,#55bc26,#58bd25,#5abe24,#5cbf24,#5ec024,#61c124,#63c324,#66c424,#68c624,#6fc724,#77c924,#7fcb24,#87cc24,#96cf23,#a1d122,#a7d222,#a9d222,#a7d222,#a1d122,#99cf23)"></i><i style="background:linear-gradient(90deg,#7cca24,#77c924,#71c824,#6ac624,#66c424,#62c224,#5ec024,#5abe24,#56bd26,#54bc27,#54bc27,#56bd26,#59be25,#5bbf24,#5dc024,#60c124,#62c224,#65c424,#68c524,#6ec724,#76c924,#7eca24,#85cc24,#94ce23,#9fd022,#a6d222,#a9d222,#a7d222,#a2d122,#9bd023)"></i><i style="background:linear-gradient(90deg,#7bca24,#76c924,#70c724,#69c624,#65c424,#61c224,#5dc024,#5abe24,#56bd26,#53bc27,#52bb27,#55bc26,#57bd25,#5abe24,#5dbf24,#5fc124,#61c224,#64c324,#67c524,#6dc724,#75c924,#7dca24,#85cc24,#92ce23,#9ed022,#a5d122,#a9d222,#a8d222,#a4d122,#9dd022)"></i><i style="background:linear-gradient(90deg,#7aca24,#75c824,#6fc724,#68c624,#65c424,#61c224,#5dc024,#59be24,#56bd26,#53bc27,#52bb27,#53bc27,#56bd26,#59be24,#5cbf24,#5ec024,#61c224,#64c324,#67c524,#6dc724,#75c824,#7dca24,#84cc24,#91ce23,#9dd022,#a5d122,#a8d222,#a8d222,#a5d122,#9ed022)"></i><i style="background:linear-gradient(90deg,#79c924,#74c824,#6ec724,#68c524,#64c324,#60c124,#5cbf24,#59be25,#55bc26,#53bc27,#52bb28,#52bb27,#55bc26,#58bd25,#5bbf24,#5ec024,#60c124,#63c324,#67c524,#6cc724,#74c824,#7cca24,#83cb24,#8fce23,#9bd023,#a4d122,#a8d222,#a8d222,#a5d122,#a0d022)"></i><i style="background:linear-gradient(90deg,#78c924,#73c824,#6dc724,#67c524,#64c324,#60c124,#5cbf24,#58bd25,#55bc26,#53bc27,#52bb28,#53bc27,#54bc27,#57bd25,#5abe24,#5dc024,#60c124,#63c324,#67c524,#6cc724,#74c824,#7bca24,#83cb24,#8dcd23,#9acf23,#a3d122,#a8d222,#a9d222,#a6d222,#a1d122)"></i><i style="background:linear-gradient(90deg,#77c924,#72c824,#6bc624,#67c524,#63c324,#5fc124,#5cbf24,#58bd25,#55bc26,#53bc27,#52bb28,#53bc27,#54bc27,#57bd25,#5abe24,#5dbf24,#60c124,#63c324,#66c524,#6bc624,#73c824,#7bca24,#82cb24,#8ccd24,#99cf23,#a2d122,#a7d222,#a9d222,#a7d222,#a2d122)"></i></div>
<div style="position:absolute;left:17px;top:198.2px;width:766px;height:7.2px;box-sizing:border-box;border-top:1px solid #444;border-bottom:1px solid #aaa;transform-origin:0 0;transform:rotate(0.28deg);background:linear-gradient(90deg,#000000 0.00%,#060810 2.50%,#0e1632 5.00%,#142868 8.33%,#163a94 10.83%,#144ebc 16.67%,#1058c8 25.00%,#0e5acc 35.67%,#1282cc 37.33%,#16a4a0 38.83%,#28ae44 41.00%,#48b82c 45.00%,#5abe24 47.50%,#69c624 50.00%,#86cc24 52.33%,#c0d620 54.17%,#e8dc1c 56.33%,#f8d01e 61.83%,#f69630 65.42%,#ee5654 69.17%,#f05a66 73.83%,#f1707c 78.33%,#f38e98 83.33%,#f7bac1 88.33%,#fce2e5 93.33%,#fff8f9 97.50%,#ffffff 100.00%)"></div>
<div class="t" style="left:17.5px;top:190px;font-size:5.4px;color:#333">-6 µm</div>
<div class="t" style="left:389.8px;top:192.7px;font-size:5.4px;color:#333">0 µm</div>
<div style="position:absolute;left:396px;top:198px;width:1px;height:2.6px;background:#333"></div>
<div class="t" style="left:758px;top:194.5px;font-size:5.4px;color:#333">+6 µm</div>
<div class="t" style="left:16.6px;top:2.8px;font-size:5.35px;color:#333">r = 4.46 mm @ 145°</div>
<div class="t" style="left:245.7px;top:9.3px;font-size:10.9px;color:#f04660">OD</div>
<div class="lab" style="right:515.0px;top:162.8px;font-size:6.70px"><div style="height:7.55px;line-height:7.55px">WFE</div><div style="height:7.55px;line-height:7.55px">Ø = 6.00 mm</div><div style="height:7.55px;line-height:7.55px">|RMS| = 1.18 µm</div></div>
<div class="lab" style="right:260.8px;top:170.9px;font-size:6.50px"><div style="height:7.90px;line-height:7.90px">Higher orders</div><div style="height:7.90px;line-height:7.90px">|RMS| = 0.33 µm</div></div>
<div class="lab" style="right:579.0px;top:353.4px;font-size:5.50px"><div style="height:6.05px;line-height:6.05px">Astigmatism</div><div style="height:6.05px;line-height:6.05px">|RMS| = 1.13 µm</div><div style="height:6.05px;line-height:6.05px">Cyl -1.23 D Ax 169°</div></div>
<div class="lab" style="right:388.1px;top:360.3px;font-size:5.50px"><div style="height:6.30px;line-height:6.30px">Coma</div><div style="height:6.30px;line-height:6.30px">|RMS| = 0.15 µm</div></div>
<div class="lab" style="right:197.0px;top:355.1px;font-size:5.50px"><div style="height:6.15px;line-height:6.15px">Spherical aberration</div><div style="height:6.15px;line-height:6.15px">|RMS| = 0.24 µm</div><div style="height:6.15px;line-height:6.15px">LSA = 1.42 D</div></div>
<div class="lab" style="right:6.0px;top:362.0px;font-size:5.50px"><div style="height:6.20px;line-height:6.20px">Residual</div><div style="height:6.20px;line-height:6.20px">|RMS| = 0.17 µm</div></div>
<div style="position:absolute;left:272px;top:178px;width:2.5px;height:1.2px;background:#4050c0;transform:rotate(40deg)"></div>
<div class="v" style="left:3.0px;top:24.1px;font-size:4.65px;">Anterior</div>
<div class="dot" style="left:10.2px;top:13.8px"></div>
<div style="position:absolute;left:1.5px;top:26.6px;width:11px;height:1px;background:#ddd"></div>
<div class="dot" style="left:7.8px;top:35.1px"></div>
<div class="v" style="left:6.5px;top:62.8px;text-decoration:underline;">Ø = 3 mm</div>
<div class="dot" style="left:7.5px;top:73.2px"></div>
<div class="v" style="left:6.1px;top:102.6px;">Ø = 5 mm</div>
<div class="dot" style="left:7.2px;top:110.5px"></div>
<div style="position:absolute;left:3.8px;top:114.5px;width:7.4px;height:26.2px;box-sizing:border-box;border:1px solid #888;border-radius:1px"></div>
<div class="v" style="left:5.4px;top:139.2px;">Ø = 6 mm</div>
<div class="dot" style="left:6.5px;top:148.7px"></div>
<div class="v" style="left:4.3px;top:177.6px;">Ø = 7 mm</div>
<div class="dot" style="left:5.6px;top:186px"></div>
<div style="position:absolute;left:17.8px;top:171px;width:18.9px;height:9.1px;background:#e4ecf8;border-top:1.1px solid #2c58a8;border-bottom:1px solid #8fb0e0;box-sizing:border-box;overflow:hidden"><div style="position:absolute;left:0.3px;top:-0.5px;font-size:9px;font-weight:bold;color:#2c58a8;line-height:1;transform-origin:0 0;transform:scale(1.11,1)">bon</div><div style="position:absolute;left:0;top:3.3px;width:100%;height:.7px;background:#e4ecf8"></div><div style="position:absolute;left:0;top:5.3px;width:100%;height:.6px;background:#e4ecf8"></div></div>
<div id="tbl">
<div class="ic" style="top:8.8px"></div><div class="nm" style="top:8.4px">Z<sub>22</sub> Astigmatism</div><div class="bx" style="top:6.0px;background:#fff"></div><div style="position:absolute;left:584.3px;top:14.3px;width:186.1px;height:1.2px;background:linear-gradient(90deg,transparent 0.0%,transparent 50.0%,#5cb452 50.0%,#5cb452 100.0%)"></div><div class="val" style="top:8.6px;right:101.0px">1.13 µm @ 169°</div><div class="zl" style="top:7.0px;height:7.6px"></div><div class="bar" style="top:9.3px;width:89.8px"></div>
<div class="ic" style="top:19.5px"></div><div class="nm" style="top:19.1px">Z<sub>33</sub> Trifoil</div><div class="bx" style="top:16.7px;background:linear-gradient(90deg,#fff 0.0%,#fff 71.6%,#fffde6 74.3%,#fffde6 93.5%,#fdeff2 96.2%,#fdeff2 100.0%)"></div><div style="position:absolute;left:584.3px;top:25.0px;width:186.1px;height:1.2px;background:linear-gradient(90deg,transparent 0.0%,transparent 50.0%,#5cb452 50.0%,#5cb452 73.0%,#ecc84c 73.0%,#ecc84c 94.9%,#f07c8a 94.9%,#f07c8a 100.0%)"></div><div class="val" style="top:19.3px;right:101.0px">0.09 µm @ 112°</div><div class="zl" style="top:17.7px;height:7.6px"></div><div class="bar" style="top:20.0px;width:7.2px"></div>
<div class="ic" style="top:30.1px"></div><div class="nm" style="top:29.7px">Z<sub>31</sub> Coma</div><div class="bx" style="top:27.3px;background:linear-gradient(90deg,#fff 0.0%,#fff 76.5%,#fffde6 79.2%,#fffde6 90.4%,#fdeff2 93.1%,#fdeff2 100.0%)"></div><div style="position:absolute;left:584.3px;top:35.6px;width:186.1px;height:1.2px;background:linear-gradient(90deg,transparent 0.0%,transparent 50.0%,#5cb452 50.0%,#5cb452 77.9%,#ecc84c 77.9%,#ecc84c 91.8%,#f07c8a 91.8%,#f07c8a 100.0%)"></div><div class="val" style="top:29.9px;right:101.0px">0.15 µm @ 335°</div><div class="zl" style="top:28.3px;height:7.6px"></div><div class="bar" style="top:30.6px;width:11.9px"></div>
<div class="ic" style="top:40.8px"></div><div class="nm" style="top:40.4px">Z<sub>44</sub> Quadrifoil</div><div class="bx" style="top:38.0px;background:linear-gradient(90deg,#fff 0.0%,#fff 63.2%,#fffde6 65.8%,#fffde6 80.1%,#fdeff2 82.8%,#fdeff2 100.0%)"></div><div style="position:absolute;left:584.3px;top:46.3px;width:186.1px;height:1.2px;background:linear-gradient(90deg,transparent 0.0%,transparent 50.0%,#5cb452 50.0%,#5cb452 64.5%,#ecc84c 64.5%,#ecc84c 81.5%,#f07c8a 81.5%,#f07c8a 100.0%)"></div><div class="val" style="top:40.6px;right:101.0px">0.11 µm @ 81°</div><div class="zl" style="top:39.0px;height:7.6px"></div><div class="bar" style="top:41.3px;width:8.7px"></div>
<div class="ic" style="top:51.4px"></div><div class="nm" style="top:51.0px">Z<sub>42</sub> Astigmatism II</div><div class="bx" style="top:48.6px;background:linear-gradient(90deg,#fff 0.0%,#fff 60.5%,#fffde6 63.2%,#fffde6 74.7%,#fdeff2 77.4%,#fdeff2 100.0%)"></div><div style="position:absolute;left:584.3px;top:56.9px;width:186.1px;height:1.2px;background:linear-gradient(90deg,transparent 0.0%,transparent 50.0%,#5cb452 50.0%,#5cb452 61.8%,#ecc84c 61.8%,#ecc84c 76.1%,#f07c8a 76.1%,#f07c8a 100.0%)"></div><div class="val" style="top:51.2px;right:101.0px">0.07 µm @ 100°</div><div class="zl" style="top:49.6px;height:7.6px"></div><div class="bar" style="top:51.9px;width:5.6px"></div>
<div class="ic" style="top:62.1px"></div><div class="nm" style="top:61.7px">Z<sub>40</sub> Spherical ab.</div><div class="bx" style="top:59.3px;background:linear-gradient(90deg,#fdeff2 0.0%,#fdeff2 42.1%,#fffde6 43.7%,#fffde6 45.3%,#fff 46.9%,#fff 63.2%,#fffde6 64.8%,#fffde6 71.7%,#fdeff2 73.3%,#fdeff2 100.0%)"></div><div style="position:absolute;left:584.3px;top:67.6px;width:186.1px;height:1.2px;background:linear-gradient(90deg,#f07c8a 0.0%,#f07c8a 42.9%,#ecc84c 42.9%,#ecc84c 46.1%,#5cb452 46.1%,#5cb452 68.3%,#ecc84c 68.3%,#ecc84c 72.5%,#f07c8a 72.5%,#f07c8a 100.0%)"></div><div class="val" style="top:61.9px;right:101.0px">0.24 µm</div><div class="zl" style="top:60.3px;height:7.6px"></div><div class="bar" style="top:62.6px;width:19.1px"></div>
<div class="ic" style="top:72.8px"></div><div class="nm" style="top:72.4px">Z<sub>55</sub> Pentafoil</div><div class="bx" style="top:70.0px;background:linear-gradient(90deg,#fff 0.0%,#fff 60.5%,#fffde6 63.2%,#fffde6 70.1%,#fdeff2 72.8%,#fdeff2 100.0%)"></div><div style="position:absolute;left:584.3px;top:78.3px;width:186.1px;height:1.2px;background:linear-gradient(90deg,transparent 0.0%,transparent 50.0%,#5cb452 50.0%,#5cb452 61.8%,#ecc84c 61.8%,#ecc84c 71.5%,#f07c8a 71.5%,#f07c8a 100.0%)"></div><div class="val" style="top:72.6px;right:101.0px">0.03 µm @ 67°</div><div class="zl" style="top:71.0px;height:7.6px"></div><div class="bar" style="top:73.3px;width:2.4px"></div>
<div class="ic" style="top:83.4px"></div><div class="nm" style="top:83.0px">Z<sub>53</sub> Trifoil II</div><div class="bx" style="top:80.6px;background:linear-gradient(90deg,#fff 0.0%,#fff 56.2%,#fffde6 58.9%,#fffde6 66.2%,#fdeff2 68.9%,#fdeff2 100.0%)"></div><div style="position:absolute;left:584.3px;top:88.9px;width:186.1px;height:1.2px;background:linear-gradient(90deg,transparent 0.0%,transparent 50.0%,#5cb452 50.0%,#5cb452 57.6%,#ecc84c 57.6%,#ecc84c 67.6%,#f07c8a 67.6%,#f07c8a 100.0%)"></div><div class="val" style="top:83.2px;right:101.0px">0.02 µm @ 50°</div><div class="zl" style="top:81.6px;height:7.6px"></div><div class="bar" style="top:83.9px;width:1.6px"></div>
<div class="ic" style="top:94.1px"></div><div class="nm" style="top:93.7px">Z<sub>51</sub> Coma II</div><div class="bx" style="top:91.3px;background:linear-gradient(90deg,#fff 0.0%,#fff 56.8%,#fffde6 59.4%,#fffde6 65.3%,#fdeff2 68.0%,#fdeff2 100.0%)"></div><div style="position:absolute;left:584.3px;top:99.6px;width:186.1px;height:1.2px;background:linear-gradient(90deg,transparent 0.0%,transparent 50.0%,#5cb452 50.0%,#5cb452 58.1%,#ecc84c 58.1%,#ecc84c 66.6%,#f07c8a 66.6%,#f07c8a 100.0%)"></div><div class="val" style="top:93.9px;right:101.0px">0.03 µm @ 56°</div><div class="zl" style="top:92.3px;height:7.6px"></div><div class="bar" style="top:94.6px;width:2.4px"></div>
<div class="ic" style="top:104.7px"></div><div class="nm" style="top:104.3px">Z<sub>66</sub> Esafoil</div><div class="bx" style="top:101.9px;background:linear-gradient(90deg,#fff 0.0%,#fff 55.1%,#fffde6 57.7%,#fffde6 61.8%,#fdeff2 64.5%,#fdeff2 100.0%)"></div><div style="position:absolute;left:584.3px;top:110.2px;width:186.1px;height:1.2px;background:linear-gradient(90deg,transparent 0.0%,transparent 50.0%,#5cb452 50.0%,#5cb452 56.4%,#ecc84c 56.4%,#ecc84c 63.1%,#f07c8a 63.1%,#f07c8a 100.0%)"></div><div class="val" style="top:104.5px;right:101.0px">0.00 µm @ 32°</div><div class="zl" style="top:102.9px;height:7.6px"></div>
<div class="ic" style="top:115.4px"></div><div class="nm" style="top:115.0px">Z<sub>64</sub> Quadrifoil II</div><div class="bx" style="top:112.6px;background:linear-gradient(90deg,#fff 0.0%,#fff 54.6%,#fffde6 57.3%,#fffde6 59.4%,#fdeff2 62.1%,#fdeff2 100.0%)"></div><div style="position:absolute;left:584.3px;top:120.9px;width:186.1px;height:1.2px;background:linear-gradient(90deg,transparent 0.0%,transparent 50.0%,#5cb452 50.0%,#5cb452 56.0%,#ecc84c 56.0%,#ecc84c 60.8%,#f07c8a 60.8%,#f07c8a 100.0%)"></div><div class="val" style="top:115.2px;right:101.0px">0.02 µm @ 34°</div><div class="zl" style="top:113.6px;height:7.6px"></div><div class="bar" style="top:115.9px;width:1.6px"></div>
<div class="ic" style="top:126.1px"></div><div class="nm" style="top:125.7px">Z<sub>62</sub> Astigmatism III</div><div class="bx" style="top:123.3px;background:linear-gradient(90deg,#fff 0.0%,#fff 52.8%,#fffde6 55.5%,#fffde6 57.7%,#fdeff2 60.4%,#fdeff2 100.0%)"></div><div style="position:absolute;left:584.3px;top:131.6px;width:186.1px;height:1.2px;background:linear-gradient(90deg,transparent 0.0%,transparent 50.0%,#5cb452 50.0%,#5cb452 54.1%,#ecc84c 54.1%,#ecc84c 59.1%,#f07c8a 59.1%,#f07c8a 100.0%)"></div><div class="val" style="top:125.9px;right:101.0px">0.02 µm @ 20°</div><div class="zl" style="top:124.3px;height:7.6px"></div><div class="bar" style="top:126.6px;width:1.6px"></div>
<div class="ic" style="top:136.7px"></div><div class="nm" style="top:136.3px">Z<sub>60</sub> Spherical ab. II</div><div class="bx" style="top:133.9px;background:linear-gradient(90deg,#fdeff2 0.0%,#fdeff2 45.8%,#fffde6 47.0%,#fffde6 47.0%,#fff 47.5%,#fff 47.5%,#fffde6 48.5%,#fffde6 52.0%,#fdeff2 53.6%,#fdeff2 100.0%)"></div><div style="position:absolute;left:584.3px;top:142.2px;width:186.1px;height:1.2px;background:linear-gradient(90deg,#f07c8a 0.0%,#f07c8a 46.6%,#ecc84c 46.6%,#ecc84c 47.4%,#5cb452 47.4%,#5cb452 52.0%,#ecc84c 52.0%,#ecc84c 52.8%,#f07c8a 52.8%,#f07c8a 100.0%)"></div><div class="val" style="top:136.5px;right:101.0px">0.00 µm</div><div class="zl" style="top:134.9px;height:7.6px"></div>
<div class="ic" style="top:147.4px"></div><div class="nm" style="top:147.0px">Z<sub>77</sub> Eptafoil</div><div class="bx" style="top:144.6px;background:linear-gradient(90deg,#fff 0.0%,#fff 55.1%,#fffde6 57.7%,#fffde6 59.4%,#fdeff2 62.1%,#fdeff2 100.0%)"></div><div style="position:absolute;left:584.3px;top:152.9px;width:186.1px;height:1.2px;background:linear-gradient(90deg,transparent 0.0%,transparent 50.0%,#5cb452 50.0%,#5cb452 56.4%,#ecc84c 56.4%,#ecc84c 60.8%,#f07c8a 60.8%,#f07c8a 100.0%)"></div><div class="val" style="top:147.2px;right:101.0px">0.02 µm @ 36°</div><div class="zl" style="top:145.6px;height:7.6px"></div><div class="bar" style="top:147.9px;width:1.6px"></div>
<div class="ic" style="top:158.0px"></div><div class="nm" style="top:157.6px">Z<sub>75</sub> Pentafoil II</div><div class="bx" style="top:155.2px;background:linear-gradient(90deg,#fff 0.0%,#fff 53.6%,#fffde6 56.2%,#fffde6 57.3%,#fdeff2 60.0%,#fdeff2 100.0%)"></div><div style="position:absolute;left:584.3px;top:163.5px;width:186.1px;height:1.2px;background:linear-gradient(90deg,transparent 0.0%,transparent 50.0%,#5cb452 50.0%,#5cb452 54.9%,#ecc84c 54.9%,#ecc84c 58.6%,#f07c8a 58.6%,#f07c8a 100.0%)"></div><div class="val" style="top:157.8px;right:101.0px">0.02 µm @ 36°</div><div class="zl" style="top:156.2px;height:7.6px"></div><div class="bar" style="top:158.5px;width:1.6px"></div>
<div class="ic" style="top:168.7px"></div><div class="nm" style="top:168.3px">Z<sub>73</sub> Trifoil III</div><div class="bx" style="top:165.9px;background:linear-gradient(90deg,#fff 0.0%,#fff 51.4%,#fffde6 53.8%,#fffde6 53.8%,#fdeff2 56.2%,#fdeff2 100.0%)"></div><div style="position:absolute;left:584.3px;top:174.2px;width:186.1px;height:1.2px;background:linear-gradient(90deg,transparent 0.0%,transparent 50.0%,#5cb452 50.0%,#5cb452 52.8%,#ecc84c 52.8%,#ecc84c 54.9%,#f07c8a 54.9%,#f07c8a 100.0%)"></div><div class="val" style="top:168.5px;right:101.0px">0.00 µm @ 39°</div><div class="zl" style="top:166.9px;height:7.6px"></div>
<div class="ic" style="top:179.4px"></div><div class="nm" style="top:179.0px">Z<sub>71</sub> Coma III</div><div class="bx" style="top:176.6px;background:linear-gradient(90deg,#fff 0.0%,#fff 50.3%,#fffde6 52.5%,#fffde6 52.5%,#fdeff2 54.6%,#fdeff2 100.0%)"></div><div style="position:absolute;left:584.3px;top:184.9px;width:186.1px;height:1.2px;background:linear-gradient(90deg,transparent 0.0%,transparent 50.0%,#5cb452 50.0%,#5cb452 51.7%,#ecc84c 51.7%,#ecc84c 53.3%,#f07c8a 53.3%,#f07c8a 100.0%)"></div><div class="val" style="top:179.2px;right:101.0px">0.00 µm @ 327°</div><div class="zl" style="top:177.6px;height:7.6px"></div>
<div class="t" style="left:767.3px;top:9.3px;font-size:5px;color:#333">↓</div></div>
</body></html>
